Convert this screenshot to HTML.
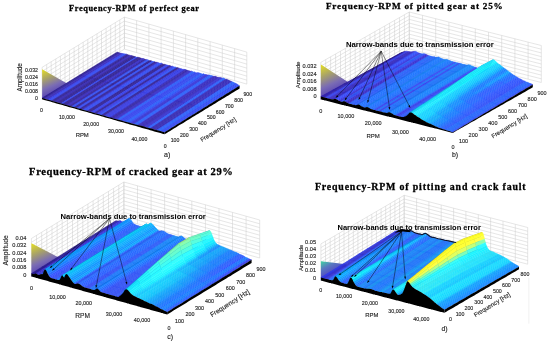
<!DOCTYPE html>
<html><head><meta charset="utf-8"><style>
html,body{margin:0;padding:0;background:#fff;}
svg{display:block;}
</style></head><body>
<svg width="550" height="346" viewBox="0 0 550 346"><defs>
<linearGradient id="triA" x1="0" y1="0" x2="0.35" y2="1">
<stop offset="0" stop-color="#e6e020"/><stop offset="0.33" stop-color="#a8a268"/><stop offset="0.62" stop-color="#7a6cb4"/><stop offset="1" stop-color="#4832b6"/></linearGradient>
<linearGradient id="triD" x1="0" y1="0" x2="0.7" y2="1">
<stop offset="0" stop-color="#40d8a0"/><stop offset="0.3" stop-color="#5a78c0"/><stop offset="0.65" stop-color="#5244c4"/><stop offset="1" stop-color="#4630b4"/></linearGradient>
</defs><path d="M42.1 99.3L42.1 67.3M46.7 96.5L46.7 64.5M51.2 93.7L51.2 61.7M55.8 90.9L55.8 58.9M60.4 88.1L60.4 56.1M65 85.4L65 53.4M69.5 82.6L69.5 50.6M74.1 79.8L74.1 47.8M78.7 77L78.7 45M83.2 74.2L83.2 42.2M87.8 71.4L87.8 39.4M92.4 68.6L92.4 36.6M97 65.8L97 33.8M101.5 63L101.5 31M106.1 60.3L106.1 28.3M110.7 57.5L110.7 25.5M115.3 54.7L115.3 22.7M119.8 51.9L119.8 19.9M124.4 49.1L124.4 17.1M42.1 99.3L124.4 49.1M42.1 95.3L124.4 45.1M42.1 91.3L124.4 41.1M42.1 87.3L124.4 37.1M42.1 83.3L124.4 33.1M42.1 79.3L124.4 29.1M42.1 75.3L124.4 25.1M42.1 71.3L124.4 21.1M42.1 67.3L124.4 17.1M124.4 49.1L124.4 17.1M136.6 52.6L136.6 20.6M148.9 56.1L148.9 24.1M161.1 59.6L161.1 27.6M173.4 63.1L173.4 31.1M185.6 66.6L185.6 34.6M197.8 70.1L197.8 38.1M210.1 73.6L210.1 41.6M222.3 77.1L222.3 45.1M234.6 80.6L234.6 48.6M246.8 84.1L246.8 52.1M124.4 49.1L246.8 84.1M124.4 45.1L246.8 80.1M124.4 41.1L246.8 76.1M124.4 37.1L246.8 72.1M124.4 33.1L246.8 68.1M124.4 29.1L246.8 64.1M124.4 25.1L246.8 60.1M124.4 21.1L246.8 56.1M124.4 17.1L246.8 52.1" fill="none" stroke="#cdcdcd" stroke-width="0.5"/>
<polygon points="42.1,69.2 42.1,99.3 66.6,83.2" fill="url(#triA)"/>
<g fill="currentColor" stroke="currentColor" stroke-width="0.35" stroke-linejoin="round">
<path color="#2c1c91" d="M79.6 75 80.6 75.4 118.1 52.5 117.2 51.9z"/>
<path color="#2c1c91" d="M42.1 98 43 98.3 80.6 75.4 79.6 75z"/>
<path color="#2c1c91" d="M80.6 75.4 81.5 75.6 119 52.7 118.1 52.5z"/>
<path color="#2c1c91" d="M43 98.3 44 98.5 81.5 75.6 80.6 75.4z"/>
<path color="#2e209f" d="M81.5 75.6 82.5 75.8 120 52.9 119 52.7z"/>
<path color="#2d1e98" d="M44 98.5 44.9 98.8 82.5 75.8 81.5 75.6z"/>
<path color="#3428bf" d="M82.5 75.8 83.4 76.1 120.9 53.2 120 52.9z"/>
<path color="#3326b8" d="M44.9 98.8 45.9 99.1 83.4 76.1 82.5 75.8z"/>
<path color="#3428bf" d="M83.4 76.1 84.3 76.4 121.9 53.4 120.9 53.2z"/>
<path color="#3326b8" d="M45.9 99.1 46.8 99.3 84.3 76.4 83.4 76.1z"/>
<path color="#3428bf" d="M84.3 76.4 85.3 76.6 122.8 53.6 121.9 53.4z"/>
<path color="#3326b8" d="M46.8 99.3 47.7 99.6 85.3 76.6 84.3 76.4z"/>
<path color="#323fec" d="M85.3 76.6 86.2 76.8 123.7 53.8 122.8 53.6z"/>
<path color="#323be6" d="M47.7 99.6 48.7 99.9 86.2 76.8 85.3 76.6z"/>
<path color="#2f48f1" d="M86.2 76.8 87.2 77 124.7 53.9 123.7 53.8z"/>
<path color="#3044ef" d="M48.7 99.9 49.6 100.2 87.2 77 86.2 76.8z"/>
<path color="#2f48f1" d="M87.2 77 88.1 77.3 125.6 54.1 124.7 53.9z"/>
<path color="#3044ef" d="M49.6 100.2 50.6 100.4 88.1 77.3 87.2 77z"/>
<path color="#2f48f1" d="M88.1 77.3 89 77.4 126.6 54.2 125.6 54.1z"/>
<path color="#3045ef" d="M50.6 100.4 51.5 100.7 89 77.4 88.1 77.3z"/>
<path color="#3021a6" d="M89 77.4 90 77.8 127.5 54.6 126.6 54.2z"/>
<path color="#2e209f" d="M51.5 100.7 52.5 101 90 77.8 89 77.4z"/>
<path color="#2c1c91" d="M90 77.8 90.9 78.1 128.5 55 127.5 54.6z"/>
<path color="#2c1c91" d="M52.5 101 53.4 101.2 90.9 78.1 90 77.8z"/>
<path color="#2c1c91" d="M90.9 78.1 91.9 78.4 129.4 55.2 128.5 55z"/>
<path color="#2c1c91" d="M53.4 101.2 54.3 101.5 91.9 78.4 90.9 78.1z"/>
<path color="#3123ad" d="M91.9 78.4 92.8 78.6 130.3 55.5 129.4 55.2z"/>
<path color="#3021a6" d="M54.3 101.5 55.3 101.8 92.8 78.6 91.9 78.4z"/>
<path color="#3326b8" d="M92.8 78.6 93.8 78.8 131.3 55.6 130.3 55.5z"/>
<path color="#3124b0" d="M55.3 101.8 56.2 102 93.8 78.8 92.8 78.6z"/>
<path color="#3326b8" d="M93.8 78.8 94.7 79 132.2 55.7 131.3 55.6z"/>
<path color="#3124b1" d="M56.2 102 57.2 102.3 94.7 79 93.8 78.8z"/>
<path color="#2c1c91" d="M94.7 79 95.6 79.3 133.2 56.1 132.2 55.7z"/>
<path color="#2c1c91" d="M57.2 102.3 58.1 102.6 95.6 79.3 94.7 79z"/>
<path color="#2c1c91" d="M95.6 79.3 96.6 79.7 134.1 56.5 133.2 56.1z"/>
<path color="#2c1c91" d="M58.1 102.6 59 102.8 96.6 79.7 95.6 79.3z"/>
<path color="#2c1c91" d="M96.6 79.7 97.5 79.8 135 56.5 134.1 56.5z"/>
<path color="#2c1c91" d="M59 102.8 60 103.1 97.5 79.8 96.6 79.7z"/>
<path color="#2c1c91" d="M97.5 79.8 98.5 80.1 136 56.9 135 56.5z"/>
<path color="#2c1c91" d="M60 103.1 60.9 103.4 98.5 80.1 97.5 79.8z"/>
<path color="#2f4bf3" d="M98.5 80.1 99.4 80.5 136.9 57.3 136 56.9z"/>
<path color="#3048f1" d="M60.9 103.4 61.9 103.7 99.4 80.5 98.5 80.1z"/>
<path color="#3044ef" d="M99.4 80.5 100.3 80.6 137.9 57.2 136.9 57.3z"/>
<path color="#3141ed" d="M61.9 103.7 62.8 103.9 100.3 80.6 99.4 80.5z"/>
<path color="#2d1d96" d="M100.3 80.6 101.3 80.8 138.8 57.4 137.9 57.2z"/>
<path color="#2c1c91" d="M62.8 103.9 63.8 104.2 101.3 80.8 100.3 80.6z"/>
<path color="#2c1c91" d="M101.3 80.8 102.2 81.1 139.8 57.7 138.8 57.4z"/>
<path color="#2c1c91" d="M63.8 104.2 64.7 104.5 102.2 81.1 101.3 80.8z"/>
<path color="#2c1c91" d="M102.2 81.1 103.2 81.4 140.7 58.1 139.8 57.7z"/>
<path color="#2c1c91" d="M64.7 104.5 65.6 104.7 103.2 81.4 102.2 81.1z"/>
<path color="#2c1c91" d="M103.2 81.4 104.1 81.7 141.6 58.4 140.7 58.1z"/>
<path color="#2c1c91" d="M65.6 104.7 66.6 105 104.1 81.7 103.2 81.4z"/>
<path color="#3225b5" d="M104.1 81.7 105.1 81.9 142.6 58.5 141.6 58.4z"/>
<path color="#3123ae" d="M66.6 105 67.5 105.3 105.1 81.9 104.1 81.7z"/>
<path color="#342ac4" d="M105.1 81.9 106 82.1 143.5 58.6 142.6 58.5z"/>
<path color="#3427bd" d="M67.5 105.3 68.5 105.5 106 82.1 105.1 81.9z"/>
<path color="#342ac4" d="M106 82.1 106.9 82.4 144.5 59.1 143.5 58.6z"/>
<path color="#3427be" d="M68.5 105.5 69.4 105.8 106.9 82.4 106 82.1z"/>
<path color="#2f21a3" d="M106.9 82.4 107.9 82.8 145.4 59.5 144.5 59.1z"/>
<path color="#2e1f9c" d="M69.4 105.8 70.3 106.1 107.9 82.8 106.9 82.4z"/>
<path color="#2c1c92" d="M107.9 82.8 108.8 82.9 146.3 59.5 145.4 59.5z"/>
<path color="#2c1c91" d="M70.3 106.1 71.3 106.3 108.8 82.9 107.9 82.8z"/>
<path color="#3330d1" d="M108.8 82.9 109.8 83.2 147.3 59.7 146.3 59.5z"/>
<path color="#342dca" d="M71.3 106.3 72.2 106.6 109.8 83.2 108.8 82.9z"/>
<path color="#2d53f6" d="M109.8 83.2 110.7 83.4 148.2 59.9 147.3 59.7z"/>
<path color="#2e4ff5" d="M72.2 106.6 73.2 106.9 110.7 83.4 109.8 83.2z"/>
<path color="#2d52f6" d="M110.7 83.4 111.6 83.9 149.2 60.6 148.2 59.9z"/>
<path color="#2e4ef4" d="M73.2 106.9 74.1 107.2 111.6 83.9 110.7 83.4z"/>
<path color="#2c1c93" d="M111.6 83.9 112.6 84.1 150.1 60.8 149.2 60.6z"/>
<path color="#2c1c91" d="M74.1 107.2 75.1 107.4 112.6 84.1 111.6 83.9z"/>
<path color="#2c1c91" d="M112.6 84.1 113.5 84.2 151.1 60.6 150.1 60.8z"/>
<path color="#2c1c91" d="M75.1 107.4 76 107.7 113.5 84.2 112.6 84.1z"/>
<path color="#2c1c91" d="M113.5 84.2 114.5 84.6 152 61.3 151.1 60.6z"/>
<path color="#2c1c91" d="M76 107.7 76.9 108 114.5 84.6 113.5 84.2z"/>
<path color="#3143ef" d="M114.5 84.6 115.4 84.8 152.9 61.3 152 61.3z"/>
<path color="#3240ed" d="M76.9 108 77.9 108.2 115.4 84.8 114.5 84.6z"/>
<path color="#2d53f6" d="M115.4 84.8 116.3 85.1 153.9 61.7 152.9 61.3z"/>
<path color="#2e4ff4" d="M77.9 108.2 78.8 108.5 116.3 85.1 115.4 84.8z"/>
<path color="#3141ed" d="M116.3 85.1 117.3 85.2 154.8 61.7 153.9 61.7z"/>
<path color="#323dea" d="M78.8 108.5 79.8 108.8 117.3 85.2 116.3 85.1z"/>
<path color="#2c1c91" d="M117.3 85.2 118.2 85.6 155.8 62.2 154.8 61.7z"/>
<path color="#2c1c91" d="M79.8 108.8 80.7 109 118.2 85.6 117.3 85.2z"/>
<path color="#2c1c91" d="M118.2 85.6 119.2 85.8 156.7 62.3 155.8 62.2z"/>
<path color="#2c1c91" d="M80.7 109 81.6 109.3 119.2 85.8 118.2 85.6z"/>
<path color="#3124b0" d="M119.2 85.8 120.1 86 157.6 62.4 156.7 62.3z"/>
<path color="#3022a9" d="M81.6 109.3 82.6 109.6 120.1 86 119.2 85.8z"/>
<path color="#3332d3" d="M120.1 86 121.1 86.3 158.6 62.8 157.6 62.4z"/>
<path color="#332ecd" d="M82.6 109.6 83.5 109.8 121.1 86.3 120.1 86z"/>
<path color="#3048f1" d="M121.1 86.3 122 86.7 159.5 63.2 158.6 62.8z"/>
<path color="#3144ef" d="M83.5 109.8 84.5 110.1 122 86.7 121.1 86.3z"/>
<path color="#2e4cf3" d="M122 86.7 122.9 86.8 160.5 63.3 159.5 63.2z"/>
<path color="#2f49f1" d="M84.5 110.1 85.4 110.4 122.9 86.8 122 86.7z"/>
<path color="#2e4cf3" d="M122.9 86.8 123.9 86.9 161.4 63.1 160.5 63.3z"/>
<path color="#2f49f1" d="M85.4 110.4 86.4 110.7 123.9 86.9 122.9 86.8z"/>
<path color="#3047f1" d="M123.9 86.9 124.8 87.3 162.4 63.7 161.4 63.1z"/>
<path color="#3144ef" d="M86.4 110.7 87.3 110.9 124.8 87.3 123.9 86.9z"/>
<path color="#2c1c91" d="M124.8 87.3 125.8 87.7 163.3 64.3 162.4 63.7z"/>
<path color="#2c1c91" d="M87.3 110.9 88.2 111.2 125.8 87.7 124.8 87.3z"/>
<path color="#2c1c91" d="M125.8 87.7 126.7 87.9 164.2 64.3 163.3 64.3z"/>
<path color="#2c1c91" d="M88.2 111.2 89.2 111.5 126.7 87.9 125.8 87.7z"/>
<path color="#2c1c91" d="M126.7 87.9 127.6 88.1 165.2 64.5 164.2 64.3z"/>
<path color="#2c1c91" d="M89.2 111.5 90.1 111.7 127.6 88.1 126.7 87.9z"/>
<path color="#2c1c91" d="M127.6 88.1 128.6 88.4 166.1 64.8 165.2 64.5z"/>
<path color="#2c1c91" d="M90.1 111.7 91.1 112 128.6 88.4 127.6 88.1z"/>
<path color="#323deb" d="M128.6 88.4 129.5 88.6 167.1 65 166.1 64.8z"/>
<path color="#323ae4" d="M91.1 112 92 112.3 129.5 88.6 128.6 88.4z"/>
<path color="#3142ee" d="M129.5 88.6 130.5 88.9 168 65.2 167.1 65z"/>
<path color="#323eec" d="M92 112.3 92.9 112.5 130.5 88.9 129.5 88.6z"/>
<path color="#3142ee" d="M130.5 88.9 131.4 89.2 168.9 65.6 168 65.2z"/>
<path color="#323eec" d="M92.9 112.5 93.9 112.8 131.4 89.2 130.5 88.9z"/>
<path color="#3327bd" d="M131.4 89.2 132.4 89.3 169.9 65.5 168.9 65.6z"/>
<path color="#3225b6" d="M93.9 112.8 94.8 113.1 132.4 89.3 131.4 89.2z"/>
<path color="#2c1c93" d="M132.4 89.3 133.3 89.7 170.8 66 169.9 65.5z"/>
<path color="#2c1c91" d="M94.8 113.1 95.8 113.3 133.3 89.7 132.4 89.3z"/>
<path color="#2d1e99" d="M133.3 89.7 134.2 90 171.8 66.3 170.8 66z"/>
<path color="#2c1c91" d="M95.8 113.3 96.7 113.6 134.2 90 133.3 89.7z"/>
<path color="#3239e2" d="M134.2 90 135.2 90.1 172.7 66.2 171.8 66.3z"/>
<path color="#3336dc" d="M96.7 113.6 97.7 113.9 135.2 90.1 134.2 90z"/>
<path color="#323eec" d="M135.2 90.1 136.1 90.5 173.6 66.8 172.7 66.2z"/>
<path color="#323be6" d="M97.7 113.9 98.6 114.2 136.1 90.5 135.2 90.1z"/>
<path color="#323fed" d="M136.1 90.5 137.1 90.8 174.6 67.1 173.6 66.8z"/>
<path color="#323ce7" d="M98.6 114.2 99.5 114.4 137.1 90.8 136.1 90.5z"/>
<path color="#2d51f5" d="M137.1 90.8 138 90.9 175.5 67.1 174.6 67.1z"/>
<path color="#2e4df4" d="M99.5 114.4 100.5 114.7 138 90.9 137.1 90.8z"/>
<path color="#2c54f7" d="M138 90.9 138.9 91.3 176.5 67.7 175.5 67.1z"/>
<path color="#2d50f5" d="M100.5 114.7 101.4 115 138.9 91.3 138 90.9z"/>
<path color="#3022a9" d="M138.9 91.3 139.9 91.4 177.4 67.6 176.5 67.7z"/>
<path color="#2f20a2" d="M101.4 115 102.4 115.2 139.9 91.4 138.9 91.3z"/>
<path color="#2c1c91" d="M139.9 91.4 140.8 91.7 178.4 67.9 177.4 67.6z"/>
<path color="#2c1c91" d="M102.4 115.2 103.3 115.5 140.8 91.7 139.9 91.4z"/>
<path color="#2d1d96" d="M140.8 91.7 141.8 92 179.3 68.3 178.4 67.9z"/>
<path color="#2c1c91" d="M103.3 115.5 104.2 115.8 141.8 92 140.8 91.7z"/>
<path color="#3336dc" d="M141.8 92 142.7 92.4 180.2 68.7 179.3 68.3z"/>
<path color="#3333d5" d="M104.2 115.8 105.2 116 142.7 92.4 141.8 92z"/>
<path color="#3239e2" d="M142.7 92.4 143.7 92.4 181.2 68.6 180.2 68.7z"/>
<path color="#3336db" d="M105.2 116 106.1 116.3 143.7 92.4 142.7 92.4z"/>
<path color="#323be6" d="M143.7 92.4 144.6 92.9 182.1 69.2 181.2 68.6z"/>
<path color="#3338df" d="M106.1 116.3 107.1 116.6 144.6 92.9 143.7 92.4z"/>
<path color="#323ae4" d="M144.6 92.9 145.5 93 183.1 69.2 182.1 69.2z"/>
<path color="#3337de" d="M107.1 116.6 108 116.8 145.5 93 144.6 92.9z"/>
<path color="#323de9" d="M145.5 93 146.5 93.3 184 69.5 183.1 69.2z"/>
<path color="#3239e3" d="M108 116.8 108.9 117.1 146.5 93.3 145.5 93z"/>
<path color="#323fed" d="M146.5 93.3 147.4 93.3 184.9 69.3 184 69.5z"/>
<path color="#323ce8" d="M108.9 117.1 109.9 117.4 147.4 93.3 146.5 93.3z"/>
<path color="#342bc5" d="M147.4 93.3 148.4 93.7 185.9 69.7 184.9 69.3z"/>
<path color="#3428be" d="M109.9 117.4 110.8 117.7 148.4 93.7 147.4 93.3z"/>
<path color="#3023ab" d="M148.4 93.7 149.3 94 186.8 70.1 185.9 69.7z"/>
<path color="#2f21a4" d="M110.8 117.7 111.8 117.9 149.3 94 148.4 93.7z"/>
<path color="#3022a9" d="M149.3 94 150.2 94.3 187.8 70.4 186.8 70.1z"/>
<path color="#2f20a1" d="M111.8 117.9 112.7 118.2 150.2 94.3 149.3 94z"/>
<path color="#3022a8" d="M150.2 94.3 151.2 94.6 188.7 70.7 187.8 70.4z"/>
<path color="#2f20a1" d="M112.7 118.2 113.7 118.5 151.2 94.6 150.2 94.3z"/>
<path color="#3429c2" d="M151.2 94.6 152.1 94.8 189.7 70.9 188.7 70.7z"/>
<path color="#3327bb" d="M113.7 118.5 114.6 118.7 152.1 94.8 151.2 94.6z"/>
<path color="#342bc5" d="M152.1 94.8 153.1 95.1 190.6 71.3 189.7 70.9z"/>
<path color="#3428be" d="M114.6 118.7 115.5 119 153.1 95.1 152.1 94.8z"/>
<path color="#342bc6" d="M153.1 95.1 154 95.2 191.5 71.2 190.6 71.3z"/>
<path color="#3428c0" d="M115.5 119 116.5 119.3 154 95.2 153.1 95.1z"/>
<path color="#3239e2" d="M154 95.2 155 95.5 192.5 71.6 191.5 71.2z"/>
<path color="#3336db" d="M116.5 119.3 117.4 119.5 155 95.5 154 95.2z"/>
<path color="#275cf8" d="M155 95.5 155.9 95.9 193.4 72.1 192.5 71.6z"/>
<path color="#275cf8" d="M117.4 119.5 118.4 119.8 155.9 95.9 155 95.5z"/>
<path color="#275cf8" d="M155.9 95.9 156.8 96 194.4 71.9 193.4 72.1z"/>
<path color="#275cf8" d="M118.4 119.8 119.3 120 156.8 96 155.9 95.9z"/>
<path color="#2c54f7" d="M156.8 96 157.8 96.3 195.3 72.4 194.4 71.9z"/>
<path color="#2d50f5" d="M119.3 120 120.2 120.3 157.8 96.3 156.8 96z"/>
<path color="#3144ef" d="M157.8 96.3 158.7 96.7 196.2 72.9 195.3 72.4z"/>
<path color="#3240ed" d="M120.2 120.3 121.2 120.5 158.7 96.7 157.8 96.3z"/>
<path color="#3144ef" d="M158.7 96.7 159.7 96.7 197.2 72.7 196.2 72.9z"/>
<path color="#3140ed" d="M121.2 120.5 122.1 120.8 159.7 96.7 158.7 96.7z"/>
<path color="#3144ef" d="M159.7 96.7 160.6 96.9 198.1 72.7 197.2 72.7z"/>
<path color="#3140ed" d="M122.1 120.8 123.1 121 160.6 96.9 159.7 96.7z"/>
<path color="#3047f1" d="M160.6 96.9 161.5 97 199.1 72.8 198.1 72.7z"/>
<path color="#3144ef" d="M123.1 121 124 121.3 161.5 97 160.6 96.9z"/>
<path color="#2f49f1" d="M161.5 97 162.5 97.4 200 73.3 199.1 72.8z"/>
<path color="#3045f0" d="M124 121.3 125 121.5 162.5 97.4 161.5 97z"/>
<path color="#2f49f1" d="M162.5 97.4 163.4 97.6 201 73.4 200 73.3z"/>
<path color="#3045f0" d="M125 121.5 125.9 121.8 163.4 97.6 162.5 97.4z"/>
<path color="#275cf8" d="M163.4 97.6 164.4 98 201.9 73.9 201 73.4z"/>
<path color="#275cf8" d="M125.9 121.8 126.8 122 164.4 98 163.4 97.6z"/>
<path color="#275cf8" d="M164.4 98 165.3 98.2 202.8 74.1 201.9 73.9z"/>
<path color="#275cf8" d="M126.8 122 127.8 122.3 165.3 98.2 164.4 98z"/>
<path color="#275cf8" d="M165.3 98.2 166.3 98.1 203.8 73.8 202.8 74.1z"/>
<path color="#275cf8" d="M127.8 122.3 128.7 122.5 166.3 98.1 165.3 98.2z"/>
<path color="#2e4cf3" d="M166.3 98.1 167.2 98.6 204.7 74.4 203.8 73.8z"/>
<path color="#2f49f1" d="M128.7 122.5 129.7 122.8 167.2 98.6 166.3 98.1z"/>
<path color="#2f49f2" d="M167.2 98.6 168.1 98.7 205.7 74.5 204.7 74.4z"/>
<path color="#3046f0" d="M129.7 122.8 130.6 123 168.1 98.7 167.2 98.6z"/>
<path color="#3336dc" d="M168.1 98.7 169.1 99 206.6 74.7 205.7 74.5z"/>
<path color="#3333d5" d="M130.6 123 131.5 123.3 169.1 99 168.1 98.7z"/>
<path color="#3332d5" d="M169.1 99 170 99.3 207.5 75 206.6 74.7z"/>
<path color="#332fce" d="M131.5 123.3 132.5 123.5 170 99.3 169.1 99z"/>
<path color="#3332d5" d="M170 99.3 171 99.4 208.5 75 207.5 75z"/>
<path color="#332fce" d="M132.5 123.5 133.4 123.8 171 99.4 170 99.3z"/>
<path color="#3336dd" d="M171 99.4 171.9 99.6 209.4 75.1 208.5 75z"/>
<path color="#3333d6" d="M133.4 123.8 134.4 124 171.9 99.6 171 99.4z"/>
<path color="#275cf8" d="M171.9 99.6 172.8 99.8 210.4 75.4 209.4 75.1z"/>
<path color="#275cf8" d="M134.4 124 135.3 124.3 172.8 99.8 171.9 99.6z"/>
<path color="#275cf8" d="M172.8 99.8 173.8 100.1 211.3 75.6 210.4 75.4z"/>
<path color="#275cf8" d="M135.3 124.3 136.3 124.5 173.8 100.1 172.8 99.8z"/>
<path color="#275cf8" d="M173.8 100.1 174.7 100.3 212.3 75.8 211.3 75.6z"/>
<path color="#275cf8" d="M136.3 124.5 137.2 124.8 174.7 100.3 173.8 100.1z"/>
<path color="#2d53f7" d="M174.7 100.3 175.7 100.6 213.2 76.2 212.3 75.8z"/>
<path color="#2e50f5" d="M137.2 124.8 138.1 125 175.7 100.6 174.7 100.3z"/>
<path color="#3429c1" d="M175.7 100.6 176.6 100.8 214.1 76.4 213.2 76.2z"/>
<path color="#3326ba" d="M138.1 125 139.1 125.3 176.6 100.8 175.7 100.6z"/>
<path color="#3429c1" d="M176.6 100.8 177.5 100.9 215.1 76.3 214.1 76.4z"/>
<path color="#3327ba" d="M139.1 125.3 140 125.5 177.5 100.9 176.6 100.8z"/>
<path color="#3427be" d="M177.5 100.9 178.5 101.1 216 76.4 215.1 76.3z"/>
<path color="#3226b7" d="M140 125.5 141 125.8 178.5 101.1 177.5 100.9z"/>
<path color="#3326b9" d="M178.5 101.1 179.4 101.5 217 77 216 76.4z"/>
<path color="#3224b2" d="M141 125.8 141.9 126 179.4 101.5 178.5 101.1z"/>
<path color="#3326b9" d="M179.4 101.5 180.4 101.8 217.9 77.3 217 77z"/>
<path color="#3224b2" d="M141.9 126 142.8 126.3 180.4 101.8 179.4 101.5z"/>
<path color="#3326b9" d="M180.4 101.8 181.3 102 218.8 77.4 217.9 77.3z"/>
<path color="#3224b2" d="M142.8 126.3 143.8 126.5 181.3 102 180.4 101.8z"/>
<path color="#342bc7" d="M181.3 102 182.3 102.2 219.8 77.5 218.8 77.4z"/>
<path color="#3428c0" d="M143.8 126.5 144.7 126.8 182.3 102.2 181.3 102z"/>
<path color="#3331d2" d="M182.3 102.2 183.2 102.3 220.7 77.6 219.8 77.5z"/>
<path color="#332ecc" d="M144.7 126.8 145.7 127 183.2 102.3 182.3 102.2z"/>
<path color="#3331d3" d="M183.2 102.3 184.1 102.6 221.7 77.9 220.7 77.6z"/>
<path color="#332ecc" d="M145.7 127 146.6 127.3 184.1 102.6 183.2 102.3z"/>
<path color="#3331d3" d="M184.1 102.6 185.1 102.9 222.6 78.2 221.7 77.9z"/>
<path color="#332ecc" d="M146.6 127.3 147.6 127.5 185.1 102.9 184.1 102.6z"/>
<path color="#2b57f8" d="M185.1 102.9 186 103 223.6 78.2 222.6 78.2z"/>
<path color="#2d54f7" d="M147.6 127.5 148.5 127.8 186 103 185.1 102.9z"/>
<path color="#275cf8" d="M186 103 187 103.3 224.5 78.5 223.6 78.2z"/>
<path color="#275cf8" d="M148.5 127.8 149.4 128 187 103.3 186 103z"/>
<path color="#275cf8" d="M187 103.3 187.9 103.7 225.4 79.2 224.5 78.5z"/>
<path color="#275cf8" d="M149.4 128 150.4 128.3 187.9 103.7 187 103.3z"/>
<path color="#3428c0" d="M187.9 103.7 188.8 103.9 226.4 79.3 225.4 79.2z"/>
<path color="#3326b8" d="M150.4 128.3 151.3 128.5 188.8 103.9 187.9 103.7z"/>
<path color="#3224b2" d="M188.8 103.9 189.8 104.2 227.3 79.5 226.4 79.3z"/>
<path color="#3023ab" d="M151.3 128.5 152.3 128.8 189.8 104.2 188.8 103.9z"/>
<path color="#3225b3" d="M189.8 104.2 190.7 104.5 228.3 80 227.3 79.5z"/>
<path color="#3123ac" d="M152.3 128.8 153.2 129.1 190.7 104.5 189.8 104.2z"/>
<path color="#3226b7" d="M190.7 104.5 191.7 104.9 229.2 80.5 228.3 80z"/>
<path color="#3124af" d="M153.2 129.1 154.1 129.3 191.7 104.9 190.7 104.5z"/>
<path color="#3326ba" d="M191.7 104.9 192.6 105.2 230.1 80.8 229.2 80.5z"/>
<path color="#3225b3" d="M154.1 129.3 155.1 129.6 192.6 105.2 191.7 104.9z"/>
<path color="#3326ba" d="M192.6 105.2 193.6 105.6 231.1 81.3 230.1 80.8z"/>
<path color="#3225b3" d="M155.1 129.6 156 129.9 193.6 105.6 192.6 105.2z"/>
<path color="#3326ba" d="M193.6 105.6 194.5 105.9 232 81.7 231.1 81.3z"/>
<path color="#3225b3" d="M156 129.9 157 130.1 194.5 105.9 193.6 105.6z"/>
<path color="#2a59f8" d="M194.5 105.9 195.4 106.2 233 82 232 81.7z"/>
<path color="#2c56f8" d="M157 130.1 157.9 130.4 195.4 106.2 194.5 105.9z"/>
<path color="#275cf8" d="M195.4 106.2 196.4 106.6 233.9 82.5 233 82z"/>
<path color="#275cf8" d="M157.9 130.4 158.9 130.7 196.4 106.6 195.4 106.2z"/>
<path color="#275cf8" d="M196.4 106.6 197.3 107 234.8 83 233.9 82.5z"/>
<path color="#275cf8" d="M158.9 130.7 159.8 131 197.3 107 196.4 106.6z"/>
<path color="#275cf8" d="M197.3 107 198.3 107.3 235.8 83.3 234.8 83z"/>
<path color="#275cf8" d="M159.8 131 160.7 131.2 198.3 107.3 197.3 107z"/>
<path color="#2f49f2" d="M198.3 107.3 199.2 107.7 236.7 83.9 235.8 83.3z"/>
<path color="#3046f0" d="M160.7 131.2 161.7 131.5 199.2 107.7 198.3 107.3z"/>
<path color="#2f49f1" d="M199.2 107.7 200.1 108.1 237.7 84.4 236.7 83.9z"/>
<path color="#3045f0" d="M161.7 131.5 162.6 131.8 200.1 108.1 199.2 107.7z"/>
<path color="#2f49f2" d="M200.1 108.1 201.1 108.6 238.6 85.2 237.7 84.4z"/>
<path color="#3045f0" d="M162.6 131.8 163.6 132 201.1 108.6 200.1 108.1z"/>
<path color="#2f4bf2" d="M201.1 108.6 202 109 239.6 85.7 238.6 85.2z"/>
<path color="#3047f1" d="M163.6 132 164.5 132.3 202 109 201.1 108.6z"/>
</g>
<polygon points="42.1,98 44.1,98.6 46.2,99.2 48.2,99.8 50.3,100.3 52.3,100.9 54.3,101.5 56.4,102.1 58.4,102.7 60.5,103.2 62.5,103.8 64.5,104.4 66.6,105 68.6,105.6 70.7,106.2 72.7,106.8 74.7,107.3 76.8,107.9 78.8,108.5 80.9,109.1 82.9,109.7 84.9,110.2 87,110.8 89,111.4 91.1,112 93.1,112.6 95.1,113.2 97.2,113.8 99.2,114.3 101.3,114.9 103.3,115.5 105.3,116.1 107.4,116.7 109.4,117.2 111.5,117.8 113.5,118.4 115.5,119 117.6,119.5 119.6,120.1 121.7,120.6 123.7,121.2 125.7,121.7 127.8,122.3 129.8,122.8 131.9,123.4 133.9,123.9 135.9,124.4 138,125 140,125.5 142.1,126.1 144.1,126.6 146.1,127.2 148.2,127.7 150.2,128.3 152.3,128.8 154.3,129.4 156.3,130 158.4,130.6 160.4,131.1 162.5,131.7 164.5,132.3 164.5,134.3 162.5,133.7 160.4,133.1 158.4,132.6 156.3,132 154.3,131.4 152.3,130.8 150.2,130.2 148.2,129.6 146.1,129.1 144.1,128.5 142.1,127.9 140,127.3 138,126.7 135.9,126.1 133.9,125.5 131.9,125 129.8,124.4 127.8,123.8 125.7,123.2 123.7,122.6 121.7,122 119.6,121.5 117.6,120.9 115.5,120.3 113.5,119.7 111.5,119.1 109.4,118.5 107.4,118 105.3,117.4 103.3,116.8 101.3,116.2 99.2,115.6 97.2,115 95.1,114.5 93.1,113.9 91.1,113.3 89,112.7 87,112.1 84.9,111.5 82.9,111 80.9,110.4 78.8,109.8 76.8,109.2 74.7,108.6 72.7,108 70.7,107.5 68.6,106.9 66.6,106.3 64.5,105.7 62.5,105.1 60.5,104.5 58.4,104 56.4,103.4 54.3,102.8 52.3,102.2 50.3,101.6 48.2,101 46.2,100.5 44.1,99.9 42.1,99.3" fill="#000"/>
<polygon points="164.5,132.3 166.4,131.1 168.3,130 170.1,128.8 172,127.6 173.9,126.5 175.8,125.3 177.6,124.1 179.5,123 181.4,121.8 183.3,120.6 185.1,119.5 187,118.3 188.9,117.1 190.8,116 192.6,114.8 194.5,113.7 196.4,112.5 198.3,111.3 200.2,110.2 202,109 203.9,107.8 205.8,106.7 207.7,105.5 209.5,104.3 211.4,103.2 213.3,102 215.2,100.8 217,99.7 218.9,98.5 220.8,97.3 222.7,96.2 224.5,95 226.4,93.8 228.3,92.7 230.2,91.5 232.1,90.3 233.9,89.2 235.8,88 237.7,86.8 239.6,85.7 239.6,88.5 237.7,89.7 235.8,90.8 233.9,92 232.1,93.1 230.2,94.2 228.3,95.4 226.4,96.5 224.5,97.7 222.7,98.8 220.8,100 218.9,101.1 217,102.3 215.2,103.4 213.3,104.5 211.4,105.7 209.5,106.8 207.7,108 205.8,109.1 203.9,110.3 202,111.4 200.2,112.6 198.3,113.7 196.4,114.8 194.5,116 192.6,117.1 190.8,118.3 188.9,119.4 187,120.6 185.1,121.7 183.3,122.9 181.4,124 179.5,125.1 177.6,126.3 175.8,127.4 173.9,128.6 172,129.7 170.1,130.9 168.3,132 166.4,133.2 164.5,134.3" fill="#000"/>
<path d="M320.8 99.4L320.8 62.4M325.7 96.6L325.7 59.6M330.6 93.8L330.6 56.8M335.6 91L335.6 54M340.5 88.2L340.5 51.2M345.4 85.4L345.4 48.4M350.3 82.6L350.3 45.6M355.2 79.8L355.2 42.8M360.1 77L360.1 40M365.1 74.2L365.1 37.2M370 71.4L370 34.4M374.9 68.6L374.9 31.6M379.8 65.8L379.8 28.8M384.7 63L384.7 26M389.6 60.2L389.6 23.2M394.6 57.4L394.6 20.4M399.5 54.6L399.5 17.6M404.4 51.8L404.4 14.8M409.3 49L409.3 12M320.8 99.4L409.3 49M320.8 95.7L409.3 45.3M320.8 92L409.3 41.6M320.8 88.3L409.3 37.9M320.8 84.6L409.3 34.2M320.8 80.9L409.3 30.5M320.8 77.2L409.3 26.8M320.8 73.5L409.3 23.1M320.8 69.8L409.3 19.4M320.8 66.1L409.3 15.7M320.8 62.4L409.3 12M409.3 49L409.3 12M422.5 52.4L422.5 15.4M435.7 55.7L435.7 18.7M448.9 59.1L448.9 22.1M462.1 62.4L462.1 25.4M475.3 65.8L475.3 28.8M488.5 69.1L488.5 32.1M501.7 72.5L501.7 35.5M514.9 75.8L514.9 38.8M528.1 79.2L528.1 42.2M541.3 82.5L541.3 45.5M409.3 49L541.3 82.5M409.3 45.3L541.3 78.8M409.3 41.6L541.3 75.1M409.3 37.9L541.3 71.4M409.3 34.2L541.3 67.7M409.3 30.5L541.3 64M409.3 26.8L541.3 60.3M409.3 23.1L541.3 56.6M409.3 19.4L541.3 52.9M409.3 15.7L541.3 49.2M409.3 12L541.3 45.5" fill="none" stroke="#cdcdcd" stroke-width="0.5"/>
<polygon points="320.9,64.5 320.8,99.4 348,82" fill="url(#triA)"/>
<g fill="currentColor" stroke="currentColor" stroke-width="0.35" stroke-linejoin="round">
<path color="#291a86" d="M389.4 59.1 390.3 58.8 401.7 52.5 400.8 52.9z"/>
<path color="#291a88" d="M377.9 65.4 378.9 65.1 390.3 58.8 389.4 59.1z"/>
<path color="#2a1a89" d="M366.5 71.6 367.5 71.4 378.9 65.1 377.9 65.4z"/>
<path color="#2b1c8e" d="M355.1 77.8 356 77.8 367.5 71.4 366.5 71.6z"/>
<path color="#2c1e97" d="M343.7 84 344.6 84.1 356 77.8 355.1 77.8z"/>
<path color="#2e20a0" d="M332.2 90.3 333.2 90.4 344.6 84.1 343.7 84z"/>
<path color="#3022aa" d="M320.8 96.5 321.7 96.7 333.2 90.4 332.2 90.3z"/>
<path color="#291a88" d="M390.3 58.8 391.3 58.6 402.7 52.2 401.7 52.5z"/>
<path color="#2a1b8a" d="M378.9 65.1 379.8 65 391.3 58.6 390.3 58.8z"/>
<path color="#2b1b8d" d="M367.5 71.4 368.4 71.4 379.8 65 378.9 65.1z"/>
<path color="#2c1d95" d="M356 77.8 357 77.8 368.4 71.4 367.5 71.4z"/>
<path color="#2e1f9d" d="M344.6 84.1 345.5 84.2 357 77.8 356 77.8z"/>
<path color="#2f21a5" d="M333.2 90.4 334.1 90.6 345.5 84.2 344.6 84.1z"/>
<path color="#3123ad" d="M321.7 96.7 322.7 97 334.1 90.6 333.2 90.4z"/>
<path color="#291a87" d="M391.3 58.6 392.2 58.4 403.6 51.9 402.7 52.2z"/>
<path color="#2a1b8c" d="M379.8 65 380.8 64.9 392.2 58.4 391.3 58.6z"/>
<path color="#2b1d92" d="M368.4 71.4 369.3 71.4 380.8 64.9 379.8 65z"/>
<path color="#2d1e99" d="M357 77.8 357.9 77.8 369.3 71.4 368.4 71.4z"/>
<path color="#2e209f" d="M345.5 84.2 346.5 84.3 357.9 77.8 357 77.8z"/>
<path color="#2f22a6" d="M334.1 90.6 335.1 90.8 346.5 84.3 345.5 84.2z"/>
<path color="#3123ad" d="M322.7 97 323.6 97.3 335.1 90.8 334.1 90.6z"/>
<path color="#291b8c" d="M392.2 58.4 393.1 58 404.6 51.4 403.6 51.9z"/>
<path color="#2b1d91" d="M380.8 64.9 381.7 64.6 393.1 58 392.2 58.4z"/>
<path color="#2c1e96" d="M369.3 71.4 370.3 71.1 381.7 64.6 380.8 64.9z"/>
<path color="#2d1f9c" d="M357.9 77.8 358.9 77.7 370.3 71.1 369.3 71.4z"/>
<path color="#2e20a1" d="M346.5 84.3 347.4 84.3 358.9 77.7 357.9 77.8z"/>
<path color="#2f22a7" d="M335.1 90.8 336 90.8 347.4 84.3 346.5 84.3z"/>
<path color="#3023ac" d="M323.6 97.3 324.6 97.4 336 90.8 335.1 90.8z"/>
<path color="#2f21a5" d="M393.1 58 394.1 58 405.5 51.4 404.6 51.4z"/>
<path color="#3022a8" d="M381.7 64.6 382.7 64.6 394.1 58 393.1 58z"/>
<path color="#3023ac" d="M370.3 71.1 371.2 71.3 382.7 64.6 381.7 64.6z"/>
<path color="#3124b0" d="M358.9 77.7 359.8 77.9 371.2 71.3 370.3 71.1z"/>
<path color="#3225b3" d="M347.4 84.3 348.4 84.5 359.8 77.9 358.9 77.7z"/>
<path color="#3226b7" d="M336 90.8 336.9 91.1 348.4 84.5 347.4 84.3z"/>
<path color="#3327ba" d="M324.6 97.4 325.5 97.7 336.9 91.1 336 90.8z"/>
<path color="#3135d7" d="M394.1 58 395 58.1 406.5 51.4 405.5 51.4z"/>
<path color="#3136da" d="M382.7 64.6 383.6 64.7 395 58.1 394.1 58z"/>
<path color="#3137dc" d="M371.2 71.3 372.2 71.3 383.6 64.7 382.7 64.6z"/>
<path color="#3138de" d="M359.8 77.9 360.7 78 372.2 71.3 371.2 71.3z"/>
<path color="#3239e1" d="M348.4 84.5 349.3 84.6 360.7 78 359.8 77.9z"/>
<path color="#323be4" d="M336.9 91.1 337.9 91.2 349.3 84.6 348.4 84.5z"/>
<path color="#323ce7" d="M325.5 97.7 326.5 97.9 337.9 91.2 336.9 91.1z"/>
<path color="#3239e0" d="M395 58.1 396 58.2 407.4 51.5 406.5 51.4z"/>
<path color="#3239e1" d="M383.6 64.7 384.5 64.9 396 58.2 395 58.1z"/>
<path color="#323ae3" d="M372.2 71.3 373.1 71.5 384.5 64.9 383.6 64.7z"/>
<path color="#323be5" d="M360.7 78 361.7 78.2 373.1 71.5 372.2 71.3z"/>
<path color="#323ce8" d="M349.3 84.6 350.3 84.8 361.7 78.2 360.7 78z"/>
<path color="#323dea" d="M337.9 91.2 338.8 91.5 350.3 84.8 349.3 84.6z"/>
<path color="#323eed" d="M326.5 97.9 327.4 98.2 338.8 91.5 337.9 91.2z"/>
<path color="#313ae2" d="M396 58.2 396.9 58.3 408.3 51.6 407.4 51.5z"/>
<path color="#313ae3" d="M384.5 64.9 385.5 65 396.9 58.3 396 58.2z"/>
<path color="#313be4" d="M373.1 71.5 374.1 71.6 385.5 65 384.5 64.9z"/>
<path color="#323be5" d="M361.7 78.2 362.6 78.3 374.1 71.6 373.1 71.5z"/>
<path color="#323ce7" d="M350.3 84.8 351.2 85 362.6 78.3 361.7 78.2z"/>
<path color="#323de9" d="M338.8 91.5 339.8 91.7 351.2 85 350.3 84.8z"/>
<path color="#323eeb" d="M327.4 98.2 328.3 98.4 339.8 91.7 338.8 91.5z"/>
<path color="#332ac2" d="M396.9 58.3 397.9 58.4 409.3 51.7 408.3 51.6z"/>
<path color="#332ac2" d="M385.5 65 386.4 65.1 397.9 58.4 396.9 58.3z"/>
<path color="#342ac3" d="M374.1 71.6 375 71.8 386.4 65.1 385.5 65z"/>
<path color="#342ac3" d="M362.6 78.3 363.6 78.6 375 71.8 374.1 71.6z"/>
<path color="#342ac4" d="M351.2 85 352.1 85.3 363.6 78.6 362.6 78.3z"/>
<path color="#342bc6" d="M339.8 91.7 340.7 92 352.1 85.3 351.2 85z"/>
<path color="#342bc8" d="M328.3 98.4 329.3 98.7 340.7 92 339.8 91.7z"/>
<path color="#3327bb" d="M397.9 58.4 398.8 58.5 410.2 51.8 409.3 51.7z"/>
<path color="#3327bb" d="M386.4 65.1 387.4 65.3 398.8 58.5 397.9 58.4z"/>
<path color="#3327ba" d="M375 71.8 375.9 72 387.4 65.3 386.4 65.1z"/>
<path color="#3326ba" d="M363.6 78.6 364.5 78.8 375.9 72 375 71.8z"/>
<path color="#3327ba" d="M352.1 85.3 353.1 85.5 364.5 78.8 363.6 78.6z"/>
<path color="#3327bc" d="M340.7 92 341.7 92.2 353.1 85.5 352.1 85.3z"/>
<path color="#3427bd" d="M329.3 98.7 330.2 99 341.7 92.2 340.7 92z"/>
<path color="#3329bf" d="M398.8 58.5 399.7 58.7 411.2 51.9 410.2 51.8z"/>
<path color="#3328bf" d="M387.4 65.3 388.3 65.4 399.7 58.7 398.8 58.5z"/>
<path color="#3327be" d="M375.9 72 376.9 72.2 388.3 65.4 387.4 65.3z"/>
<path color="#3327bd" d="M364.5 78.8 365.5 79 376.9 72.2 375.9 72z"/>
<path color="#3327bc" d="M353.1 85.5 354 85.7 365.5 79 364.5 78.8z"/>
<path color="#3427bd" d="M341.7 92.2 342.6 92.5 354 85.7 353.1 85.5z"/>
<path color="#3427be" d="M330.2 99 331.2 99.3 342.6 92.5 341.7 92.2z"/>
<path color="#3129be" d="M399.7 58.7 400.7 58.6 412.1 51.8 411.2 51.9z"/>
<path color="#3228bc" d="M388.3 65.4 389.3 65.4 400.7 58.6 399.7 58.7z"/>
<path color="#3228bb" d="M376.9 72.2 377.8 72.1 389.3 65.4 388.3 65.4z"/>
<path color="#3227b9" d="M365.5 79 366.4 78.9 377.8 72.1 376.9 72.2z"/>
<path color="#3226b8" d="M354 85.7 355 85.7 366.4 78.9 365.5 79z"/>
<path color="#3226b8" d="M342.6 92.5 343.5 92.5 355 85.7 354 85.7z"/>
<path color="#3226b9" d="M331.2 99.3 332.1 99.3 343.5 92.5 342.6 92.5z"/>
<path color="#312dc6" d="M400.7 58.6 401.6 58.5 413.1 51.7 412.1 51.8z"/>
<path color="#322cc4" d="M389.3 65.4 390.2 65.3 401.6 58.5 400.7 58.6z"/>
<path color="#322bc2" d="M377.8 72.1 378.8 72.1 390.2 65.3 389.3 65.4z"/>
<path color="#322ac0" d="M366.4 78.9 367.3 78.9 378.8 72.1 377.8 72.1z"/>
<path color="#3228be" d="M355 85.7 355.9 85.8 367.3 78.9 366.4 78.9z"/>
<path color="#3327bb" d="M343.5 92.5 344.5 92.6 355.9 85.8 355 85.7z"/>
<path color="#3327bb" d="M332.1 99.3 333.1 99.4 344.5 92.6 343.5 92.5z"/>
<path color="#302abd" d="M401.6 58.5 402.6 58.3 414 51.5 413.1 51.7z"/>
<path color="#3029ba" d="M390.2 65.3 391.1 65.1 402.6 58.3 401.6 58.5z"/>
<path color="#3127b8" d="M378.8 72.1 379.7 71.9 391.1 65.1 390.2 65.3z"/>
<path color="#3126b5" d="M367.3 78.9 368.3 78.7 379.7 71.9 378.8 72.1z"/>
<path color="#3025b2" d="M355.9 85.8 356.9 85.5 368.3 78.7 367.3 78.9z"/>
<path color="#3024af" d="M344.5 92.6 345.4 92.3 356.9 85.5 355.9 85.8z"/>
<path color="#3024ad" d="M333.1 99.4 334 99.1 345.4 92.3 344.5 92.6z"/>
<path color="#3133d3" d="M402.6 58.3 403.5 58.3 414.9 51.5 414 51.5z"/>
<path color="#3130cd" d="M391.1 65.1 392.1 65 403.5 58.3 402.6 58.3z"/>
<path color="#312fc9" d="M379.7 71.9 380.7 71.8 392.1 65 391.1 65.1z"/>
<path color="#312dc6" d="M368.3 78.7 369.2 78.6 380.7 71.8 379.7 71.9z"/>
<path color="#312cc3" d="M356.9 85.5 357.8 85.4 369.2 78.6 368.3 78.7z"/>
<path color="#312bbf" d="M345.4 92.3 346.4 92.1 357.8 85.4 356.9 85.5z"/>
<path color="#3129bc" d="M334 99.1 334.9 98.9 346.4 92.1 345.4 92.3z"/>
<path color="#323be4" d="M403.5 58.3 404.5 58.4 415.9 51.6 414.9 51.5z"/>
<path color="#3238df" d="M392.1 65 393 65.2 404.5 58.4 403.5 58.3z"/>
<path color="#3237dc" d="M380.7 71.8 381.6 71.9 393 65.2 392.1 65z"/>
<path color="#3236da" d="M369.2 78.6 370.2 78.7 381.6 71.9 380.7 71.8z"/>
<path color="#3235d8" d="M357.8 85.4 358.7 85.4 370.2 78.7 369.2 78.6z"/>
<path color="#3234d6" d="M346.4 92.1 347.3 92.2 358.7 85.4 357.8 85.4z"/>
<path color="#3233d4" d="M334.9 98.9 335.9 99 347.3 92.2 346.4 92.1z"/>
<path color="#2e51f7" d="M404.5 58.4 405.4 58.7 416.8 51.9 415.9 51.6z"/>
<path color="#2f4ef6" d="M393 65.2 394 65.5 405.4 58.7 404.5 58.4z"/>
<path color="#2f4cf6" d="M381.6 71.9 382.5 72.3 394 65.5 393 65.2z"/>
<path color="#304bf6" d="M370.2 78.7 371.1 79.1 382.5 72.3 381.6 71.9z"/>
<path color="#304af6" d="M358.7 85.4 359.7 85.8 371.1 79.1 370.2 78.7z"/>
<path color="#304af6" d="M347.3 92.2 348.3 92.6 359.7 85.8 358.7 85.4z"/>
<path color="#3149f6" d="M335.9 99 336.8 99.4 348.3 92.6 347.3 92.2z"/>
<path color="#304efc" d="M405.4 58.7 406.3 59.3 417.8 52.5 416.8 51.9z"/>
<path color="#314cfb" d="M394 65.5 394.9 66.1 406.3 59.3 405.4 58.7z"/>
<path color="#324bfc" d="M382.5 72.3 383.5 72.9 394.9 66.1 394 65.5z"/>
<path color="#3249fc" d="M371.1 79.1 372.1 79.7 383.5 72.9 382.5 72.3z"/>
<path color="#3348fc" d="M359.7 85.8 360.6 86.5 372.1 79.7 371.1 79.1z"/>
<path color="#3447fc" d="M348.3 92.6 349.2 93.3 360.6 86.5 359.7 85.8z"/>
<path color="#3446fd" d="M336.8 99.4 337.8 100.1 349.2 93.3 348.3 92.6z"/>
<path color="#3149f7" d="M406.3 59.3 407.3 59.8 418.7 52.9 417.8 52.5z"/>
<path color="#3247f7" d="M394.9 66.1 395.9 66.6 407.3 59.8 406.3 59.3z"/>
<path color="#3246f7" d="M383.5 72.9 384.4 73.4 395.9 66.6 394.9 66.1z"/>
<path color="#3344f7" d="M372.1 79.7 373 80.3 384.4 73.4 383.5 72.9z"/>
<path color="#3443f7" d="M360.6 86.5 361.6 87.1 373 80.3 372.1 79.7z"/>
<path color="#3441f7" d="M349.2 93.3 350.1 93.9 361.6 87.1 360.6 86.5z"/>
<path color="#3540f5" d="M337.8 100.1 338.7 100.8 350.1 93.9 349.2 93.3z"/>
<path color="#333ae5" d="M407.3 59.8 408.2 60.1 419.7 53.2 418.7 52.9z"/>
<path color="#3338e2" d="M395.9 66.6 396.8 66.9 408.2 60.1 407.3 59.8z"/>
<path color="#3337df" d="M384.4 73.4 385.4 73.8 396.8 66.9 395.9 66.6z"/>
<path color="#3435dc" d="M373 80.3 373.9 80.6 385.4 73.8 384.4 73.4z"/>
<path color="#3433d8" d="M361.6 87.1 362.5 87.5 373.9 80.6 373 80.3z"/>
<path color="#3432d5" d="M350.1 93.9 351.1 94.3 362.5 87.5 361.6 87.1z"/>
<path color="#3431d4" d="M338.7 100.8 339.7 101.1 351.1 94.3 350.1 93.9z"/>
<path color="#3333d6" d="M408.2 60.1 409.2 60.3 420.6 53.5 419.7 53.2z"/>
<path color="#3331d2" d="M396.8 66.9 397.7 67.2 409.2 60.3 408.2 60.1z"/>
<path color="#342fcf" d="M385.4 73.8 386.3 74 397.7 67.2 396.8 66.9z"/>
<path color="#342dcb" d="M373.9 80.6 374.9 80.9 386.3 74 385.4 73.8z"/>
<path color="#342cc8" d="M362.5 87.5 363.5 87.7 374.9 80.9 373.9 80.6z"/>
<path color="#342ac4" d="M351.1 94.3 352 94.6 363.5 87.7 362.5 87.5z"/>
<path color="#3429c2" d="M339.7 101.1 340.6 101.4 352 94.6 351.1 94.3z"/>
<path color="#2e51f7" d="M409.2 60.3 410.1 60.6 421.5 53.8 420.6 53.5z"/>
<path color="#2e4ff6" d="M397.7 67.2 398.7 67.5 410.1 60.6 409.2 60.3z"/>
<path color="#2f4cf5" d="M386.3 74 387.3 74.3 398.7 67.5 397.7 67.2z"/>
<path color="#2f4af4" d="M374.9 80.9 375.8 81.2 387.3 74.3 386.3 74z"/>
<path color="#3048f3" d="M363.5 87.7 364.4 88 375.8 81.2 374.9 80.9z"/>
<path color="#3047f2" d="M352 94.6 353 94.9 364.4 88 363.5 87.7z"/>
<path color="#3046f1" d="M340.6 101.4 341.5 101.7 353 94.9 352 94.6z"/>
<path color="#265bf3" d="M410.1 60.6 411.1 60.7 422.5 53.9 421.5 53.8z"/>
<path color="#2759f2" d="M398.7 67.5 399.6 67.5 411.1 60.7 410.1 60.6z"/>
<path color="#2858f2" d="M387.3 74.3 388.2 74.4 399.6 67.5 398.7 67.5z"/>
<path color="#2956f1" d="M375.8 81.2 376.8 81.2 388.2 74.4 387.3 74.3z"/>
<path color="#2a54f1" d="M364.4 88 365.3 88 376.8 81.2 375.8 81.2z"/>
<path color="#2b52f0" d="M353 94.9 353.9 94.8 365.3 88 364.4 88z"/>
<path color="#2b51ef" d="M341.5 101.7 342.5 101.7 353.9 94.8 353 94.9z"/>
<path color="#245bec" d="M411.1 60.7 412 60.6 423.4 53.8 422.5 53.9z"/>
<path color="#2459eb" d="M399.6 67.5 400.6 67.4 412 60.6 411.1 60.7z"/>
<path color="#2557ea" d="M388.2 74.4 389.1 74.2 400.6 67.4 399.6 67.5z"/>
<path color="#2656e9" d="M376.8 81.2 377.7 81 389.1 74.2 388.2 74.4z"/>
<path color="#2754e8" d="M365.3 88 366.3 87.8 377.7 81 376.8 81.2z"/>
<path color="#2753e7" d="M353.9 94.8 354.9 94.5 366.3 87.8 365.3 88z"/>
<path color="#2851e6" d="M342.5 101.7 343.4 101.3 354.9 94.5 353.9 94.8z"/>
<path color="#2759f2" d="M412 60.6 412.9 60.6 424.4 53.8 423.4 53.8z"/>
<path color="#2957f1" d="M400.6 67.4 401.5 67.4 412.9 60.6 412 60.6z"/>
<path color="#2955f0" d="M389.1 74.2 390.1 74.1 401.5 67.4 400.6 67.4z"/>
<path color="#2a54f0" d="M377.7 81 378.7 80.9 390.1 74.1 389.1 74.2z"/>
<path color="#2a53ef" d="M366.3 87.8 367.2 87.7 378.7 80.9 377.7 81z"/>
<path color="#2b51ed" d="M354.9 94.5 355.8 94.5 367.2 87.7 366.3 87.8z"/>
<path color="#2b50ec" d="M343.4 101.3 344.4 101.2 355.8 94.5 354.9 94.5z"/>
<path color="#2f4df5" d="M412.9 60.6 413.9 60.9 425.3 54.1 424.4 53.8z"/>
<path color="#304af4" d="M401.5 67.4 402.5 67.7 413.9 60.9 412.9 60.6z"/>
<path color="#3048f4" d="M390.1 74.1 391 74.5 402.5 67.7 401.5 67.4z"/>
<path color="#3147f3" d="M378.7 80.9 379.6 81.3 391 74.5 390.1 74.1z"/>
<path color="#3146f3" d="M367.2 87.7 368.2 88 379.6 81.3 378.7 80.9z"/>
<path color="#3145f3" d="M355.8 94.5 356.7 94.8 368.2 88 367.2 87.7z"/>
<path color="#3244f2" d="M344.4 101.2 345.3 101.6 356.7 94.8 355.8 94.5z"/>
<path color="#333eee" d="M413.9 60.9 414.8 61.3 426.3 54.5 425.3 54.1z"/>
<path color="#343be9" d="M402.5 67.7 403.4 68.2 414.8 61.3 413.9 60.9z"/>
<path color="#343ae7" d="M391 74.5 392 75 403.4 68.2 402.5 67.7z"/>
<path color="#3439e5" d="M379.6 81.3 380.5 81.8 392 75 391 74.5z"/>
<path color="#3538e4" d="M368.2 88 369.1 88.6 380.5 81.8 379.6 81.3z"/>
<path color="#3537e2" d="M356.7 94.8 357.7 95.4 369.1 88.6 368.2 88z"/>
<path color="#3536e0" d="M345.3 101.6 346.3 102.2 357.7 95.4 356.7 94.8z"/>
<path color="#352fd0" d="M414.8 61.3 415.8 61.8 427.2 54.9 426.3 54.5z"/>
<path color="#352dcd" d="M403.4 68.2 404.3 68.6 415.8 61.8 414.8 61.3z"/>
<path color="#352ccb" d="M392 75 392.9 75.4 404.3 68.6 403.4 68.2z"/>
<path color="#362ac8" d="M380.5 81.8 381.5 82.3 392.9 75.4 392 75z"/>
<path color="#3629c6" d="M369.1 88.6 370.1 89.1 381.5 82.3 380.5 81.8z"/>
<path color="#3528c3" d="M357.7 95.4 358.6 95.9 370.1 89.1 369.1 88.6z"/>
<path color="#3528c0" d="M346.3 102.2 347.2 102.8 358.6 95.9 357.7 95.4z"/>
<path color="#352dcd" d="M415.8 61.8 416.7 62.2 428.1 55.4 427.2 54.9z"/>
<path color="#352cca" d="M404.3 68.6 405.3 69.1 416.7 62.2 415.8 61.8z"/>
<path color="#352ac7" d="M392.9 75.4 393.9 75.9 405.3 69.1 404.3 68.6z"/>
<path color="#3529c3" d="M381.5 82.3 382.4 82.7 393.9 75.9 392.9 75.4z"/>
<path color="#3528c0" d="M370.1 89.1 371 89.6 382.4 82.7 381.5 82.3z"/>
<path color="#3427bc" d="M358.6 95.9 359.6 96.4 371 89.6 370.1 89.1z"/>
<path color="#3426ba" d="M347.2 102.8 348.1 103.3 359.6 96.4 358.6 95.9z"/>
<path color="#333be7" d="M416.7 62.2 417.7 62.6 429.1 55.7 428.1 55.4z"/>
<path color="#3339e3" d="M405.3 69.1 406.2 69.4 417.7 62.6 416.7 62.2z"/>
<path color="#3337e0" d="M393.9 75.9 394.8 76.3 406.2 69.4 405.3 69.1z"/>
<path color="#3435dc" d="M382.4 82.7 383.4 83.1 394.8 76.3 393.9 75.9z"/>
<path color="#3433d8" d="M371 89.6 371.9 90 383.4 83.1 382.4 82.7z"/>
<path color="#3432d5" d="M359.6 96.4 360.5 96.8 371.9 90 371 89.6z"/>
<path color="#3431d4" d="M348.1 103.3 349.1 103.7 360.5 96.8 359.6 96.4z"/>
<path color="#1e68f7" d="M417.7 62.6 418.6 62.7 430 55.9 429.1 55.7z"/>
<path color="#1f66f7" d="M406.2 69.4 407.2 69.6 418.6 62.7 417.7 62.6z"/>
<path color="#2165f7" d="M394.8 76.3 395.7 76.5 407.2 69.6 406.2 69.4z"/>
<path color="#2263f7" d="M383.4 83.1 384.3 83.3 395.7 76.5 394.8 76.3z"/>
<path color="#2362f7" d="M371.9 90 372.9 90.2 384.3 83.3 383.4 83.1z"/>
<path color="#2460f7" d="M360.5 96.8 361.5 97 372.9 90.2 371.9 90z"/>
<path color="#255ff7" d="M349.1 103.7 350 103.9 361.5 97 360.5 96.8z"/>
<path color="#1f67f6" d="M418.6 62.7 419.5 62.9 431 56.1 430 55.9z"/>
<path color="#2066f6" d="M407.2 69.6 408.1 69.8 419.5 62.9 418.6 62.7z"/>
<path color="#2164f6" d="M395.7 76.5 396.7 76.6 408.1 69.8 407.2 69.6z"/>
<path color="#2262f6" d="M384.3 83.3 385.3 83.5 396.7 76.6 395.7 76.5z"/>
<path color="#2461f6" d="M372.9 90.2 373.8 90.3 385.3 83.5 384.3 83.3z"/>
<path color="#255ff6" d="M361.5 97 362.4 97.2 373.8 90.3 372.9 90.2z"/>
<path color="#255ff6" d="M350 103.9 351 104 362.4 97.2 361.5 97z"/>
<path color="#2462fa" d="M419.5 62.9 420.5 63.2 431.9 56.4 431 56.1z"/>
<path color="#2561fa" d="M408.1 69.8 409.1 70.1 420.5 63.2 419.5 62.9z"/>
<path color="#265ffa" d="M396.7 76.6 397.6 76.9 409.1 70.1 408.1 69.8z"/>
<path color="#275dfa" d="M385.3 83.5 386.2 83.8 397.6 76.9 396.7 76.6z"/>
<path color="#295cfa" d="M373.8 90.3 374.8 90.6 386.2 83.8 385.3 83.5z"/>
<path color="#2a5afa" d="M362.4 97.2 363.3 97.5 374.8 90.6 373.8 90.3z"/>
<path color="#2a59fa" d="M351 104 351.9 104.3 363.3 97.5 362.4 97.2z"/>
<path color="#2561fc" d="M420.5 63.2 421.4 63.6 432.9 56.7 431.9 56.4z"/>
<path color="#275ffc" d="M409.1 70.1 410 70.4 421.4 63.6 420.5 63.2z"/>
<path color="#285efc" d="M397.6 76.9 398.6 77.3 410 70.4 409.1 70.1z"/>
<path color="#295cfc" d="M386.2 83.8 387.1 84.1 398.6 77.3 397.6 76.9z"/>
<path color="#2a5afc" d="M374.8 90.6 375.7 91 387.1 84.1 386.2 83.8z"/>
<path color="#2b59fc" d="M363.3 97.5 364.3 97.9 375.7 91 374.8 90.6z"/>
<path color="#2c58fc" d="M351.9 104.3 352.9 104.7 364.3 97.9 363.3 97.5z"/>
<path color="#235df1" d="M421.4 63.6 422.4 63.6 433.8 56.8 432.9 56.7z"/>
<path color="#255cf1" d="M410 70.4 410.9 70.5 422.4 63.6 421.4 63.6z"/>
<path color="#265af1" d="M398.6 77.3 399.5 77.3 410.9 70.5 410 70.4z"/>
<path color="#2759f1" d="M387.1 84.1 388.1 84.2 399.5 77.3 398.6 77.3z"/>
<path color="#2857f1" d="M375.7 91 376.7 91 388.1 84.2 387.1 84.1z"/>
<path color="#2956f1" d="M364.3 97.9 365.2 97.9 376.7 91 375.7 91z"/>
<path color="#2955f1" d="M352.9 104.7 353.8 104.7 365.2 97.9 364.3 97.9z"/>
<path color="#2163f4" d="M422.4 63.6 423.3 63.7 434.7 56.8 433.8 56.8z"/>
<path color="#2261f3" d="M410.9 70.5 411.9 70.6 423.3 63.7 422.4 63.6z"/>
<path color="#235ff3" d="M399.5 77.3 400.5 77.4 411.9 70.6 410.9 70.5z"/>
<path color="#245ef3" d="M388.1 84.2 389 84.3 400.5 77.4 399.5 77.3z"/>
<path color="#265cf3" d="M376.7 91 377.6 91.1 389 84.3 388.1 84.2z"/>
<path color="#275af3" d="M365.2 97.9 366.2 98 377.6 91.1 376.7 91z"/>
<path color="#2859f3" d="M353.8 104.7 354.7 104.8 366.2 98 365.2 97.9z"/>
<path color="#2266fd" d="M423.3 63.7 424.3 64.1 435.7 57.3 434.7 56.8z"/>
<path color="#2365fd" d="M411.9 70.6 412.8 70.9 424.3 64.1 423.3 63.7z"/>
<path color="#2563fd" d="M400.5 77.4 401.4 77.8 412.8 70.9 411.9 70.6z"/>
<path color="#2661fc" d="M389 84.3 390 84.6 401.4 77.8 400.5 77.4z"/>
<path color="#275ffc" d="M377.6 91.1 378.5 91.5 390 84.6 389 84.3z"/>
<path color="#285efc" d="M366.2 98 367.1 98.3 378.5 91.5 377.6 91.1z"/>
<path color="#295cfc" d="M354.7 104.8 355.7 105.2 367.1 98.3 366.2 98z"/>
<path color="#2063f2" d="M424.3 64.1 425.2 64.1 436.6 57.3 435.7 57.3z"/>
<path color="#2161f2" d="M412.8 70.9 413.8 71 425.2 64.1 424.3 64.1z"/>
<path color="#225ff1" d="M401.4 77.8 402.3 77.8 413.8 71 412.8 70.9z"/>
<path color="#235ef0" d="M390 84.6 390.9 84.6 402.3 77.8 401.4 77.8z"/>
<path color="#245cef" d="M378.5 91.5 379.5 91.4 390.9 84.6 390 84.6z"/>
<path color="#255aef" d="M367.1 98.3 368.1 98.2 379.5 91.4 378.5 91.5z"/>
<path color="#2659ee" d="M355.7 105.2 356.6 105.1 368.1 98.2 367.1 98.3z"/>
<path color="#1d64ed" d="M425.2 64.1 426.1 64 437.6 57.3 436.6 57.3z"/>
<path color="#1e62ec" d="M413.8 71 414.7 70.8 426.1 64 425.2 64.1z"/>
<path color="#1f61eb" d="M402.3 77.8 403.3 77.6 414.7 70.8 413.8 71z"/>
<path color="#1f5fea" d="M390.9 84.6 391.9 84.4 403.3 77.6 402.3 77.8z"/>
<path color="#205de8" d="M379.5 91.4 380.4 91.1 391.9 84.4 390.9 84.6z"/>
<path color="#215ce7" d="M368.1 98.2 369 97.9 380.4 91.1 379.5 91.4z"/>
<path color="#215ae6" d="M356.6 105.1 357.6 104.7 369 97.9 368.1 98.2z"/>
<path color="#176cec" d="M426.1 64 427.1 63.9 438.5 57.1 437.6 57.3z"/>
<path color="#186aeb" d="M414.7 70.8 415.7 70.6 427.1 63.9 426.1 64z"/>
<path color="#1a67ea" d="M403.3 77.6 404.2 77.4 415.7 70.6 414.7 70.8z"/>
<path color="#1a66ea" d="M391.9 84.4 392.8 84.1 404.2 77.4 403.3 77.6z"/>
<path color="#1b65e9" d="M380.4 91.1 381.4 90.9 392.8 84.1 391.9 84.4z"/>
<path color="#1b64e8" d="M369 97.9 369.9 97.7 381.4 90.9 380.4 91.1z"/>
<path color="#1c63e8" d="M357.6 104.7 358.5 104.4 369.9 97.7 369 97.9z"/>
<path color="#1875fb" d="M427.1 63.9 428 64.2 439.5 57.5 438.5 57.1z"/>
<path color="#1973fb" d="M415.7 70.6 416.6 71 428 64.2 427.1 63.9z"/>
<path color="#1a71fc" d="M404.2 77.4 405.2 77.8 416.6 71 415.7 70.6z"/>
<path color="#1b6ffc" d="M392.8 84.1 393.7 84.5 405.2 77.8 404.2 77.4z"/>
<path color="#1c6efc" d="M381.4 90.9 382.3 91.3 393.7 84.5 392.8 84.1z"/>
<path color="#1d6efd" d="M369.9 97.7 370.9 98.1 382.3 91.3 381.4 90.9z"/>
<path color="#1d6dfd" d="M358.5 104.4 359.5 104.8 370.9 98.1 369.9 97.7z"/>
<path color="#1b74ff" d="M428 64.2 429 64.8 440.4 58 439.5 57.5z"/>
<path color="#1d72ff" d="M416.6 71 417.5 71.6 429 64.8 428 64.2z"/>
<path color="#1e71ff" d="M405.2 77.8 406.1 78.4 417.5 71.6 416.6 71z"/>
<path color="#1f70ff" d="M393.7 84.5 394.7 85.2 406.1 78.4 405.2 77.8z"/>
<path color="#206fff" d="M382.3 91.3 383.3 92 394.7 85.2 393.7 84.5z"/>
<path color="#206fff" d="M370.9 98.1 371.8 98.8 383.3 92 382.3 91.3z"/>
<path color="#216eff" d="M359.5 104.8 360.4 105.6 371.8 98.8 370.9 98.1z"/>
<path color="#187aff" d="M429 64.8 429.9 65.3 441.3 58.5 440.4 58z"/>
<path color="#1978ff" d="M417.5 71.6 418.5 72.2 429.9 65.3 429 64.8z"/>
<path color="#1977ff" d="M406.1 78.4 407.1 79 418.5 72.2 417.5 71.6z"/>
<path color="#1a76ff" d="M394.7 85.2 395.6 85.8 407.1 79 406.1 78.4z"/>
<path color="#1a75ff" d="M383.3 92 384.2 92.6 395.6 85.8 394.7 85.2z"/>
<path color="#1b74ff" d="M371.8 98.8 372.8 99.4 384.2 92.6 383.3 92z"/>
<path color="#1c73ff" d="M360.4 105.6 361.3 106.3 372.8 99.4 371.8 98.8z"/>
<path color="#1873f7" d="M429.9 65.3 430.9 65.6 442.3 58.7 441.3 58.5z"/>
<path color="#1971f8" d="M418.5 72.2 419.4 72.4 430.9 65.6 429.9 65.3z"/>
<path color="#1970f9" d="M407.1 79 408 79.3 419.4 72.4 418.5 72.2z"/>
<path color="#1b6ff9" d="M395.6 85.8 396.6 86.1 408 79.3 407.1 79z"/>
<path color="#1c6efa" d="M384.2 92.6 385.1 92.9 396.6 86.1 395.6 85.8z"/>
<path color="#1d6cfb" d="M372.8 99.4 373.7 99.8 385.1 92.9 384.2 92.6z"/>
<path color="#1e6bfb" d="M361.3 106.3 362.3 106.6 373.7 99.8 372.8 99.4z"/>
<path color="#1974fe" d="M430.9 65.6 431.8 66 443.2 59.2 442.3 58.7z"/>
<path color="#1a72ff" d="M419.4 72.4 420.4 72.9 431.8 66 430.9 65.6z"/>
<path color="#1b71ff" d="M408 79.3 408.9 79.7 420.4 72.9 419.4 72.4z"/>
<path color="#1d70ff" d="M396.6 86.1 397.5 86.6 408.9 79.7 408 79.3z"/>
<path color="#1e6eff" d="M385.1 92.9 386.1 93.4 397.5 86.6 396.6 86.1z"/>
<path color="#1f6dff" d="M373.7 99.8 374.7 100.3 386.1 93.4 385.1 92.9z"/>
<path color="#206cff" d="M362.3 106.6 363.2 107.1 374.7 100.3 373.7 99.8z"/>
<path color="#1872f8" d="M431.8 66 432.7 66.3 444.2 59.4 443.2 59.2z"/>
<path color="#1971f9" d="M420.4 72.9 421.3 73.1 432.7 66.3 431.8 66z"/>
<path color="#1a6ff9" d="M408.9 79.7 409.9 80 421.3 73.1 420.4 72.9z"/>
<path color="#1b6df9" d="M397.5 86.6 398.5 86.8 409.9 80 408.9 79.7z"/>
<path color="#1d6cf9" d="M386.1 93.4 387 93.7 398.5 86.8 397.5 86.6z"/>
<path color="#1e6af9" d="M374.7 100.3 375.6 100.5 387 93.7 386.1 93.4z"/>
<path color="#1e69f9" d="M363.2 107.1 364.2 107.4 375.6 100.5 374.7 100.3z"/>
<path color="#1678f4" d="M432.7 66.3 433.7 66.4 445.1 59.6 444.2 59.4z"/>
<path color="#1676f4" d="M421.3 73.1 422.3 73.2 433.7 66.4 432.7 66.3z"/>
<path color="#1774f3" d="M409.9 80 410.8 80.1 422.3 73.2 421.3 73.1z"/>
<path color="#1772f3" d="M398.5 86.8 399.4 86.9 410.8 80.1 409.9 80z"/>
<path color="#1870f3" d="M387 93.7 388 93.8 399.4 86.9 398.5 86.8z"/>
<path color="#186ff3" d="M375.6 100.5 376.5 100.6 388 93.8 387 93.7z"/>
<path color="#186ef3" d="M364.2 107.4 365.1 107.4 376.5 100.6 375.6 100.5z"/>
<path color="#147cf1" d="M433.7 66.4 434.6 66.4 446.1 59.6 445.1 59.6z"/>
<path color="#157af0" d="M422.3 73.2 423.2 73.3 434.6 66.4 433.7 66.4z"/>
<path color="#1578ef" d="M410.8 80.1 411.8 80.1 423.2 73.3 422.3 73.2z"/>
<path color="#1676ef" d="M399.4 86.9 400.3 86.9 411.8 80.1 410.8 80.1z"/>
<path color="#1674ee" d="M388 93.8 388.9 93.7 400.3 86.9 399.4 86.9z"/>
<path color="#1672ed" d="M376.5 100.6 377.5 100.5 388.9 93.7 388 93.8z"/>
<path color="#1770ed" d="M365.1 107.4 366.1 107.3 377.5 100.5 376.5 100.6z"/>
<path color="#127fea" d="M434.6 66.4 435.6 66.3 447 59.5 446.1 59.6z"/>
<path color="#137be9" d="M423.2 73.3 424.1 73.1 435.6 66.3 434.6 66.4z"/>
<path color="#137ae9" d="M411.8 80.1 412.7 79.8 424.1 73.1 423.2 73.3z"/>
<path color="#1478e8" d="M400.3 86.9 401.3 86.6 412.7 79.8 411.8 80.1z"/>
<path color="#1476e7" d="M388.9 93.7 389.9 93.4 401.3 86.6 400.3 86.9z"/>
<path color="#1475e6" d="M377.5 100.5 378.4 100.2 389.9 93.4 388.9 93.7z"/>
<path color="#1473e5" d="M366.1 107.3 367 107 378.4 100.2 377.5 100.5z"/>
<path color="#1580f8" d="M435.6 66.3 436.5 66.6 447.9 59.8 447 59.5z"/>
<path color="#167ef8" d="M424.1 73.1 425.1 73.3 436.5 66.6 435.6 66.3z"/>
<path color="#167bf8" d="M412.7 79.8 413.7 80.1 425.1 73.3 424.1 73.1z"/>
<path color="#167af8" d="M401.3 86.6 402.2 86.9 413.7 80.1 412.7 79.8z"/>
<path color="#1779f8" d="M389.9 93.4 390.8 93.7 402.2 86.9 401.3 86.6z"/>
<path color="#1778f8" d="M378.4 100.2 379.4 100.4 390.8 93.7 389.9 93.4z"/>
<path color="#1777f8" d="M367 107 367.9 107.2 379.4 100.4 378.4 100.2z"/>
<path color="#177cfe" d="M436.5 66.6 437.5 67 448.9 60.2 447.9 59.8z"/>
<path color="#1879ff" d="M425.1 73.3 426 73.8 437.5 67 436.5 66.6z"/>
<path color="#1978ff" d="M413.7 80.1 414.6 80.6 426 73.8 425.1 73.3z"/>
<path color="#1977ff" d="M402.2 86.9 403.2 87.4 414.6 80.6 413.7 80.1z"/>
<path color="#1976ff" d="M390.8 93.7 391.7 94.2 403.2 87.4 402.2 86.9z"/>
<path color="#1a75ff" d="M379.4 100.4 380.3 101 391.7 94.2 390.8 93.7z"/>
<path color="#1a74ff" d="M367.9 107.2 368.9 107.8 380.3 101 379.4 100.4z"/>
<path color="#1876fc" d="M437.5 67 438.4 67.4 449.8 60.6 448.9 60.2z"/>
<path color="#1974fc" d="M426 73.8 427 74.2 438.4 67.4 437.5 67z"/>
<path color="#1973fd" d="M414.6 80.6 415.5 81 427 74.2 426 73.8z"/>
<path color="#1a72fe" d="M403.2 87.4 404.1 87.8 415.5 81 414.6 80.6z"/>
<path color="#1b71ff" d="M391.7 94.2 392.7 94.7 404.1 87.8 403.2 87.4z"/>
<path color="#1c70ff" d="M380.3 101 381.3 101.5 392.7 94.7 391.7 94.2z"/>
<path color="#1d6fff" d="M368.9 107.8 369.8 108.3 381.3 101.5 380.3 101z"/>
<path color="#1975fe" d="M438.4 67.4 439.3 67.9 450.8 61 449.8 60.6z"/>
<path color="#1974ff" d="M427 74.2 427.9 74.7 439.3 67.9 438.4 67.4z"/>
<path color="#1a73ff" d="M415.5 81 416.5 81.5 427.9 74.7 427 74.2z"/>
<path color="#1b72ff" d="M404.1 87.8 405.1 88.4 416.5 81.5 415.5 81z"/>
<path color="#1d70ff" d="M392.7 94.7 393.6 95.2 405.1 88.4 404.1 87.8z"/>
<path color="#1e6fff" d="M381.3 101.5 382.2 102 393.6 95.2 392.7 94.7z"/>
<path color="#1f6eff" d="M369.8 108.3 370.8 108.9 382.2 102 381.3 101.5z"/>
<path color="#1972fb" d="M439.3 67.9 440.3 68.2 451.7 61.4 450.8 61z"/>
<path color="#1a71fc" d="M427.9 74.7 428.9 75 440.3 68.2 439.3 67.9z"/>
<path color="#1b70fc" d="M416.5 81.5 417.4 81.9 428.9 75 427.9 74.7z"/>
<path color="#1c6efc" d="M405.1 88.4 406 88.7 417.4 81.9 416.5 81.5z"/>
<path color="#1d6dfd" d="M393.6 95.2 394.6 95.6 406 88.7 405.1 88.4z"/>
<path color="#1f6bfd" d="M382.2 102 383.1 102.4 394.6 95.6 393.6 95.2z"/>
<path color="#1f6afe" d="M370.8 108.9 371.7 109.3 383.1 102.4 382.2 102z"/>
<path color="#1971f9" d="M440.3 68.2 441.2 68.5 452.7 61.6 451.7 61.4z"/>
<path color="#1a6ff9" d="M428.9 75 429.8 75.3 441.2 68.5 440.3 68.2z"/>
<path color="#1b6df9" d="M417.4 81.9 418.4 82.2 429.8 75.3 428.9 75z"/>
<path color="#1d6cfa" d="M406 88.7 406.9 89 418.4 82.2 417.4 81.9z"/>
<path color="#1e6afa" d="M394.6 95.6 395.5 95.9 406.9 89 406 88.7z"/>
<path color="#1f69fa" d="M383.1 102.4 384.1 102.7 395.5 95.9 394.6 95.6z"/>
<path color="#2068fa" d="M371.7 109.3 372.7 109.6 384.1 102.7 383.1 102.4z"/>
<path color="#1971fa" d="M441.2 68.5 442.2 68.8 453.6 61.9 452.7 61.6z"/>
<path color="#1b6ffa" d="M429.8 75.3 430.7 75.6 442.2 68.8 441.2 68.5z"/>
<path color="#1c6efa" d="M418.4 82.2 419.3 82.5 430.7 75.6 429.8 75.3z"/>
<path color="#1d6cfb" d="M406.9 89 407.9 89.3 419.3 82.5 418.4 82.2z"/>
<path color="#1e6afb" d="M395.5 95.9 396.5 96.2 407.9 89.3 406.9 89z"/>
<path color="#1f69fb" d="M384.1 102.7 385 103.1 396.5 96.2 395.5 95.9z"/>
<path color="#2068fb" d="M372.7 109.6 373.6 109.9 385 103.1 384.1 102.7z"/>
<path color="#2959f6" d="M442.2 68.8 443.1 69 454.5 62.1 453.6 61.9z"/>
<path color="#2a57f6" d="M430.7 75.6 431.7 75.8 443.1 69 442.2 68.8z"/>
<path color="#2c55f6" d="M419.3 82.5 420.3 82.7 431.7 75.8 430.7 75.6z"/>
<path color="#2c53f5" d="M407.9 89.3 408.8 89.5 420.3 82.7 419.3 82.5z"/>
<path color="#2d51f4" d="M396.5 96.2 397.4 96.4 408.8 89.5 407.9 89.3z"/>
<path color="#2d4ff3" d="M385 103.1 386 103.2 397.4 96.4 396.5 96.2z"/>
<path color="#2d4ff3" d="M373.6 109.9 374.5 110.1 386 103.2 385 103.1z"/>
<path color="#3046f0" d="M443.1 69 444.1 69.2 455.5 62.3 454.5 62.1z"/>
<path color="#3044ef" d="M431.7 75.8 432.6 76.1 444.1 69.2 443.1 69z"/>
<path color="#3142ee" d="M420.3 82.7 421.2 82.9 432.6 76.1 431.7 75.8z"/>
<path color="#3240ed" d="M408.8 89.5 409.8 89.8 421.2 82.9 420.3 82.7z"/>
<path color="#323eeb" d="M397.4 96.4 398.3 96.6 409.8 89.8 408.8 89.5z"/>
<path color="#323ce8" d="M386 103.2 386.9 103.5 398.3 96.6 397.4 96.4z"/>
<path color="#323be7" d="M374.5 110.1 375.5 110.3 386.9 103.5 386 103.2z"/>
<path color="#2d56fa" d="M444.1 69.2 445 69.5 456.4 62.7 455.5 62.3z"/>
<path color="#2d54f9" d="M432.6 76.1 433.6 76.4 445 69.5 444.1 69.2z"/>
<path color="#2e52f8" d="M421.2 82.9 422.1 83.2 433.6 76.4 432.6 76.1z"/>
<path color="#2e4ff7" d="M409.8 89.8 410.7 90.1 422.1 83.2 421.2 82.9z"/>
<path color="#2f4df6" d="M398.3 96.6 399.3 97 410.7 90.1 409.8 89.8z"/>
<path color="#2f4bf5" d="M386.9 103.5 387.9 103.8 399.3 97 398.3 96.6z"/>
<path color="#304bf5" d="M375.5 110.3 376.4 110.7 387.9 103.8 386.9 103.5z"/>
<path color="#157cf3" d="M445 69.5 445.9 69.7 457.4 62.8 456.4 62.7z"/>
<path color="#167af4" d="M433.6 76.4 434.5 76.5 445.9 69.7 445 69.5z"/>
<path color="#1678f4" d="M422.1 83.2 423.1 83.4 434.5 76.5 433.6 76.4z"/>
<path color="#1776f4" d="M410.7 90.1 411.7 90.2 423.1 83.4 422.1 83.2z"/>
<path color="#1774f4" d="M399.3 97 400.2 97.1 411.7 90.2 410.7 90.1z"/>
<path color="#1872f4" d="M387.9 103.8 388.8 103.9 400.2 97.1 399.3 97z"/>
<path color="#1871f4" d="M376.4 110.7 377.4 110.8 388.8 103.9 387.9 103.8z"/>
<path color="#167bf6" d="M445.9 69.7 446.9 69.9 458.3 63 457.4 62.8z"/>
<path color="#1679f7" d="M434.5 76.5 435.5 76.7 446.9 69.9 445.9 69.7z"/>
<path color="#1777f7" d="M423.1 83.4 424 83.6 435.5 76.7 434.5 76.5z"/>
<path color="#1875f7" d="M411.7 90.2 412.6 90.4 424 83.6 423.1 83.4z"/>
<path color="#1873f7" d="M400.2 97.1 401.2 97.3 412.6 90.4 411.7 90.2z"/>
<path color="#1971f7" d="M388.8 103.9 389.7 104.2 401.2 97.3 400.2 97.1z"/>
<path color="#1970f7" d="M377.4 110.8 378.3 111 389.7 104.2 388.8 103.9z"/>
<path color="#2f4df5" d="M446.9 69.9 447.8 70.2 459.3 63.3 458.3 63z"/>
<path color="#2f4af4" d="M435.5 76.7 436.4 77 447.8 70.2 446.9 69.9z"/>
<path color="#3048f3" d="M424 83.6 425 83.9 436.4 77 435.5 76.7z"/>
<path color="#3146f2" d="M412.6 90.4 413.5 90.8 425 83.9 424 83.6z"/>
<path color="#3144f1" d="M401.2 97.3 402.1 97.6 413.5 90.8 412.6 90.4z"/>
<path color="#3142f0" d="M389.7 104.2 390.7 104.5 402.1 97.6 401.2 97.3z"/>
<path color="#3242f0" d="M378.3 111 379.3 111.3 390.7 104.5 389.7 104.2z"/>
<path color="#3042eb" d="M447.8 70.2 448.8 70.3 460.2 63.4 459.3 63.3z"/>
<path color="#313fea" d="M436.4 77 437.3 77.2 448.8 70.3 447.8 70.2z"/>
<path color="#313de9" d="M425 83.9 425.9 84 437.3 77.2 436.4 77z"/>
<path color="#313be5" d="M413.5 90.8 414.5 90.9 425.9 84 425 83.9z"/>
<path color="#323ae2" d="M402.1 97.6 403.1 97.7 414.5 90.9 413.5 90.8z"/>
<path color="#3238de" d="M390.7 104.5 391.6 104.6 403.1 97.7 402.1 97.6z"/>
<path color="#3237dc" d="M379.3 111.3 380.2 111.4 391.6 104.6 390.7 104.5z"/>
<path color="#2461f6" d="M448.8 70.3 449.7 70.5 461.1 63.6 460.2 63.4z"/>
<path color="#255ff6" d="M437.3 77.2 438.3 77.4 449.7 70.5 448.8 70.3z"/>
<path color="#265df6" d="M425.9 84 426.9 84.2 438.3 77.4 437.3 77.2z"/>
<path color="#275cf6" d="M414.5 90.9 415.4 91.1 426.9 84.2 425.9 84z"/>
<path color="#285af6" d="M403.1 97.7 404 97.9 415.4 91.1 414.5 90.9z"/>
<path color="#2a58f6" d="M391.6 104.6 392.6 104.8 404 97.9 403.1 97.7z"/>
<path color="#2a57f6" d="M380.2 111.4 381.1 111.6 392.6 104.8 391.6 104.6z"/>
<path color="#1779fa" d="M449.7 70.5 450.7 70.8 462.1 64 461.1 63.6z"/>
<path color="#1877fa" d="M438.3 77.4 439.2 77.7 450.7 70.8 449.7 70.5z"/>
<path color="#1875fa" d="M426.9 84.2 427.8 84.5 439.2 77.7 438.3 77.4z"/>
<path color="#1972fa" d="M415.4 91.1 416.4 91.4 427.8 84.5 426.9 84.2z"/>
<path color="#1a71fa" d="M404 97.9 404.9 98.2 416.4 91.4 415.4 91.1z"/>
<path color="#1b6ffb" d="M392.6 104.8 393.5 105.1 404.9 98.2 404 97.9z"/>
<path color="#1b6efb" d="M381.1 111.6 382.1 112 393.5 105.1 392.6 104.8z"/>
<path color="#1778f9" d="M450.7 70.8 451.6 71.1 463 64.3 462.1 64z"/>
<path color="#1876f9" d="M439.2 77.7 440.2 78 451.6 71.1 450.7 70.8z"/>
<path color="#1874fa" d="M427.8 84.5 428.7 84.8 440.2 78 439.2 77.7z"/>
<path color="#1972fa" d="M416.4 91.4 417.3 91.7 428.7 84.8 427.8 84.5z"/>
<path color="#1a70fa" d="M404.9 98.2 405.9 98.5 417.3 91.7 416.4 91.4z"/>
<path color="#1b6efa" d="M393.5 105.1 394.5 105.4 405.9 98.5 404.9 98.2z"/>
<path color="#1c6efa" d="M382.1 112 383 112.2 394.5 105.4 393.5 105.1z"/>
<path color="#1873f7" d="M451.6 71.1 452.5 71.3 464 64.5 463 64.3z"/>
<path color="#1971f7" d="M440.2 78 441.1 78.2 452.5 71.3 451.6 71.1z"/>
<path color="#196ff7" d="M428.7 84.8 429.7 85 441.1 78.2 440.2 78z"/>
<path color="#1b6df7" d="M417.3 91.7 418.3 91.9 429.7 85 428.7 84.8z"/>
<path color="#1c6cf7" d="M405.9 98.5 406.8 98.7 418.3 91.9 417.3 91.7z"/>
<path color="#1d6af7" d="M394.5 105.4 395.4 105.6 406.8 98.7 405.9 98.5z"/>
<path color="#1d69f7" d="M383 112.2 384 112.5 395.4 105.6 394.5 105.4z"/>
<path color="#1873f6" d="M452.5 71.3 453.5 71.5 464.9 64.6 464 64.5z"/>
<path color="#1871f6" d="M441.1 78.2 442.1 78.3 453.5 71.5 452.5 71.3z"/>
<path color="#196ff6" d="M429.7 85 430.6 85.2 442.1 78.3 441.1 78.2z"/>
<path color="#1a6df6" d="M418.3 91.9 419.2 92.1 430.6 85.2 429.7 85z"/>
<path color="#1c6bf6" d="M406.8 98.7 407.8 98.9 419.2 92.1 418.3 91.9z"/>
<path color="#1d6af6" d="M395.4 105.6 396.3 105.8 407.8 98.9 406.8 98.7z"/>
<path color="#1d69f6" d="M384 112.5 384.9 112.6 396.3 105.8 395.4 105.6z"/>
<path color="#1873f7" d="M453.5 71.5 454.4 71.7 465.9 64.9 464.9 64.6z"/>
<path color="#1971f7" d="M442.1 78.3 443 78.6 454.4 71.7 453.5 71.5z"/>
<path color="#196ff8" d="M430.6 85.2 431.6 85.4 443 78.6 442.1 78.3z"/>
<path color="#1a6ef7" d="M419.2 92.1 420.1 92.3 431.6 85.4 430.6 85.2z"/>
<path color="#1c6cf7" d="M407.8 98.9 408.7 99.1 420.1 92.3 419.2 92.1z"/>
<path color="#1d6af7" d="M396.3 105.8 397.3 106 408.7 99.1 407.8 98.9z"/>
<path color="#1d69f7" d="M384.9 112.6 385.9 112.8 397.3 106 396.3 105.8z"/>
<path color="#1873f5" d="M454.4 71.7 455.4 71.9 466.8 65 465.9 64.9z"/>
<path color="#1871f5" d="M443 78.6 443.9 78.7 455.4 71.9 454.4 71.7z"/>
<path color="#196ff5" d="M431.6 85.4 432.5 85.6 443.9 78.7 443 78.6z"/>
<path color="#1a6df5" d="M420.1 92.3 421.1 92.4 432.5 85.6 431.6 85.4z"/>
<path color="#1b6bf4" d="M408.7 99.1 409.7 99.2 421.1 92.4 420.1 92.3z"/>
<path color="#1c69f4" d="M397.3 106 398.2 106.1 409.7 99.2 408.7 99.1z"/>
<path color="#1d68f4" d="M385.9 112.8 386.8 112.9 398.2 106.1 397.3 106z"/>
<path color="#1770ee" d="M455.4 71.9 456.3 71.8 467.7 65 466.8 65z"/>
<path color="#176eed" d="M443.9 78.7 444.9 78.6 456.3 71.8 455.4 71.9z"/>
<path color="#176cec" d="M432.5 85.6 433.5 85.4 444.9 78.6 443.9 78.7z"/>
<path color="#186aec" d="M421.1 92.4 422 92.2 433.5 85.4 432.5 85.6z"/>
<path color="#1969eb" d="M409.7 99.2 410.6 99.1 422 92.2 421.1 92.4z"/>
<path color="#1a67ea" d="M398.2 106.1 399.2 105.9 410.6 99.1 409.7 99.2z"/>
<path color="#1b65e9" d="M386.8 112.9 387.7 112.7 399.2 105.9 398.2 106.1z"/>
<path color="#1478ea" d="M456.3 71.8 457.3 71.6 468.7 64.8 467.7 65z"/>
<path color="#1574e9" d="M444.9 78.6 445.8 78.4 457.3 71.6 456.3 71.8z"/>
<path color="#1571e8" d="M433.5 85.4 434.4 85.2 445.8 78.4 444.9 78.6z"/>
<path color="#1670e7" d="M422 92.2 423 91.9 434.4 85.2 433.5 85.4z"/>
<path color="#166ee6" d="M410.6 99.1 411.5 98.7 423 91.9 422 92.2z"/>
<path color="#166ce5" d="M399.2 105.9 400.1 105.5 411.5 98.7 410.6 99.1z"/>
<path color="#166ae4" d="M387.7 112.7 388.7 112.3 400.1 105.5 399.2 105.9z"/>
<path color="#147ff3" d="M457.3 71.6 458.2 71.7 469.6 65 468.7 64.8z"/>
<path color="#157cf3" d="M445.8 78.4 446.8 78.5 458.2 71.7 457.3 71.6z"/>
<path color="#1679f2" d="M434.4 85.2 435.3 85.2 446.8 78.5 445.8 78.4z"/>
<path color="#1677f2" d="M423 91.9 423.9 92 435.3 85.2 434.4 85.2z"/>
<path color="#1676f1" d="M411.5 98.7 412.5 98.8 423.9 92 423 91.9z"/>
<path color="#1675f0" d="M400.1 105.5 401.1 105.5 412.5 98.8 411.5 98.7z"/>
<path color="#1673f0" d="M388.7 112.3 389.6 112.3 401.1 105.5 400.1 105.5z"/>
<path color="#1488fa" d="M458.2 71.7 459.1 72.1 470.6 65.3 469.6 65z"/>
<path color="#1485fa" d="M446.8 78.5 447.7 78.8 459.1 72.1 458.2 71.7z"/>
<path color="#1583fb" d="M435.3 85.2 436.3 85.6 447.7 78.8 446.8 78.5z"/>
<path color="#1581fb" d="M423.9 92 424.9 92.4 436.3 85.6 435.3 85.2z"/>
<path color="#1680fb" d="M412.5 98.8 413.4 99.1 424.9 92.4 423.9 92z"/>
<path color="#167ffb" d="M401.1 105.5 402 105.9 413.4 99.1 412.5 98.8z"/>
<path color="#167efc" d="M389.6 112.3 390.6 112.7 402 105.9 401.1 105.5z"/>
<path color="#1589ff" d="M459.1 72.1 460.1 72.6 471.5 65.9 470.6 65.3z"/>
<path color="#1587ff" d="M447.7 78.8 448.7 79.4 460.1 72.6 459.1 72.1z"/>
<path color="#1684ff" d="M436.3 85.6 437.2 86.2 448.7 79.4 447.7 78.8z"/>
<path color="#1684ff" d="M424.9 92.4 425.8 93 437.2 86.2 436.3 85.6z"/>
<path color="#1783ff" d="M413.4 99.1 414.4 99.8 425.8 93 424.9 92.4z"/>
<path color="#1782ff" d="M402 105.9 402.9 106.5 414.4 99.8 413.4 99.1z"/>
<path color="#1781ff" d="M390.6 112.7 391.5 113.3 402.9 106.5 402 105.9z"/>
<path color="#1583f9" d="M460.1 72.6 461 73 472.5 66.2 471.5 65.9z"/>
<path color="#1581fa" d="M448.7 79.4 449.6 79.8 461 73 460.1 72.6z"/>
<path color="#1680fb" d="M437.2 86.2 438.2 86.6 449.6 79.8 448.7 79.4z"/>
<path color="#167ffc" d="M425.8 93 426.7 93.4 438.2 86.6 437.2 86.2z"/>
<path color="#177efd" d="M414.4 99.8 415.3 100.2 426.7 93.4 425.8 93z"/>
<path color="#177dfe" d="M402.9 106.5 403.9 107 415.3 100.2 414.4 99.8z"/>
<path color="#177cfe" d="M391.5 113.3 392.5 113.8 403.9 107 402.9 106.5z"/>
<path color="#1586fd" d="M461 73 462 73.4 473.4 66.6 472.5 66.2z"/>
<path color="#1584fe" d="M449.6 79.8 450.5 80.3 462 73.4 461 73z"/>
<path color="#1683ff" d="M438.2 86.6 439.1 87.1 450.5 80.3 449.6 79.8z"/>
<path color="#1682ff" d="M426.7 93.4 427.7 93.9 439.1 87.1 438.2 86.6z"/>
<path color="#1781ff" d="M415.3 100.2 416.3 100.7 427.7 93.9 426.7 93.4z"/>
<path color="#1780ff" d="M403.9 107 404.8 107.6 416.3 100.7 415.3 100.2z"/>
<path color="#187eff" d="M392.5 113.8 393.4 114.4 404.8 107.6 403.9 107z"/>
<path color="#1582fb" d="M462 73.4 462.9 73.8 474.3 67 473.4 66.6z"/>
<path color="#1680fb" d="M450.5 80.3 451.5 80.7 462.9 73.8 462 73.4z"/>
<path color="#167ffc" d="M439.1 87.1 440.1 87.5 451.5 80.7 450.5 80.3z"/>
<path color="#177dfd" d="M427.7 93.9 428.6 94.3 440.1 87.5 439.1 87.1z"/>
<path color="#177bfd" d="M416.3 100.7 417.2 101.2 428.6 94.3 427.7 93.9z"/>
<path color="#187afe" d="M404.8 107.6 405.8 108 417.2 101.2 416.3 100.7z"/>
<path color="#1879fe" d="M393.4 114.4 394.3 114.9 405.8 108 404.8 107.6z"/>
<path color="#157ff7" d="M462.9 73.8 463.9 74.1 475.3 67.2 474.3 67z"/>
<path color="#167df7" d="M451.5 80.7 452.4 80.9 463.9 74.1 462.9 73.8z"/>
<path color="#167bf8" d="M440.1 87.5 441 87.8 452.4 80.9 451.5 80.7z"/>
<path color="#177af8" d="M428.6 94.3 429.6 94.6 441 87.8 440.1 87.5z"/>
<path color="#1778f9" d="M417.2 101.2 418.1 101.5 429.6 94.6 428.6 94.3z"/>
<path color="#1876f9" d="M405.8 108 406.7 108.3 418.1 101.5 417.2 101.2z"/>
<path color="#1875f9" d="M394.3 114.9 395.3 115.2 406.7 108.3 405.8 108z"/>
<path color="#295cfa" d="M463.9 74.1 464.8 74.4 476.2 67.5 475.3 67.2z"/>
<path color="#2a5afa" d="M452.4 80.9 453.4 81.2 464.8 74.4 463.9 74.1z"/>
<path color="#2b59fb" d="M441 87.8 441.9 88.1 453.4 81.2 452.4 80.9z"/>
<path color="#2c57fb" d="M429.6 94.6 430.5 94.9 441.9 88.1 441 87.8z"/>
<path color="#2d55fa" d="M418.1 101.5 419.1 101.8 430.5 94.9 429.6 94.6z"/>
<path color="#2d53f9" d="M406.7 108.3 407.7 108.6 419.1 101.8 418.1 101.5z"/>
<path color="#2e52f9" d="M395.3 115.2 396.2 115.5 407.7 108.6 406.7 108.3z"/>
<path color="#3146f4" d="M464.8 74.4 465.7 74.8 477.2 67.9 476.2 67.5z"/>
<path color="#3244f3" d="M453.4 81.2 454.3 81.6 465.7 74.8 464.8 74.4z"/>
<path color="#3242f2" d="M441.9 88.1 442.9 88.5 454.3 81.6 453.4 81.2z"/>
<path color="#3340f1" d="M430.5 94.9 431.5 95.3 442.9 88.5 441.9 88.1z"/>
<path color="#333eee" d="M419.1 101.8 420 102.2 431.5 95.3 430.5 94.9z"/>
<path color="#333cea" d="M407.7 108.6 408.6 109 420 102.2 419.1 101.8z"/>
<path color="#333be9" d="M396.2 115.5 397.2 115.9 408.6 109 407.7 108.6z"/>
<path color="#3142ee" d="M465.7 74.8 466.7 75 478.1 68.2 477.2 67.9z"/>
<path color="#3140ed" d="M454.3 81.6 455.3 81.9 466.7 75 465.7 74.8z"/>
<path color="#323eec" d="M442.9 88.5 443.8 88.7 455.3 81.9 454.3 81.6z"/>
<path color="#323ce9" d="M431.5 95.3 432.4 95.6 443.8 88.7 442.9 88.5z"/>
<path color="#323be5" d="M420 102.2 421 102.4 432.4 95.6 431.5 95.3z"/>
<path color="#3239e3" d="M408.6 109 409.5 109.3 421 102.4 420 102.2z"/>
<path color="#3339e1" d="M397.2 115.9 398.1 116.1 409.5 109.3 408.6 109z"/>
<path color="#2f4cf4" d="M466.7 75 467.6 75.3 479.1 68.4 478.1 68.2z"/>
<path color="#2f4af3" d="M455.3 81.9 456.2 82.1 467.6 75.3 466.7 75z"/>
<path color="#3048f2" d="M443.8 88.7 444.8 89 456.2 82.1 455.3 81.9z"/>
<path color="#3046f1" d="M432.4 95.6 433.3 95.8 444.8 89 443.8 88.7z"/>
<path color="#3144ef" d="M421 102.4 421.9 102.7 433.3 95.8 432.4 95.6z"/>
<path color="#3142ef" d="M409.5 109.3 410.5 109.5 421.9 102.7 421 102.4z"/>
<path color="#3141ee" d="M398.1 116.1 399.1 116.4 410.5 109.5 409.5 109.3z"/>
<path color="#285af6" d="M467.6 75.3 468.6 75.5 480 68.6 479.1 68.4z"/>
<path color="#2a58f6" d="M456.2 82.1 457.1 82.3 468.6 75.5 467.6 75.3z"/>
<path color="#2b57f6" d="M444.8 89 445.7 89.2 457.1 82.3 456.2 82.1z"/>
<path color="#2c55f6" d="M433.3 95.8 434.3 96 445.7 89.2 444.8 89z"/>
<path color="#2c53f5" d="M421.9 102.7 422.9 102.9 434.3 96 433.3 95.8z"/>
<path color="#2d51f4" d="M410.5 109.5 411.4 109.7 422.9 102.9 421.9 102.7z"/>
<path color="#2d50f4" d="M399.1 116.4 400 116.6 411.4 109.7 410.5 109.5z"/>
<path color="#2067f9" d="M468.6 75.5 469.5 75.7 480.9 68.9 480 68.6z"/>
<path color="#2264f9" d="M457.1 82.3 458.1 82.6 469.5 75.7 468.6 75.5z"/>
<path color="#2561f9" d="M445.7 89.2 446.7 89.4 458.1 82.6 457.1 82.3z"/>
<path color="#275df9" d="M434.3 96 435.2 96.3 446.7 89.4 445.7 89.2z"/>
<path color="#2a5af9" d="M422.9 102.9 423.8 103.1 435.2 96.3 434.3 96z"/>
<path color="#2c57f9" d="M411.4 109.7 412.4 110 423.8 103.1 422.9 102.9z"/>
<path color="#2d54f8" d="M400 116.6 400.9 116.8 412.4 110 411.4 109.7z"/>
<path color="#1d69f6" d="M469.5 75.7 470.5 75.9 481.9 69 480.9 68.9z"/>
<path color="#2065f6" d="M458.1 82.6 459 82.7 470.5 75.9 469.5 75.7z"/>
<path color="#2262f6" d="M446.7 89.4 447.6 89.6 459 82.7 458.1 82.6z"/>
<path color="#255ff6" d="M435.2 96.3 436.2 96.5 447.6 89.6 446.7 89.4z"/>
<path color="#275bf5" d="M423.8 103.1 424.7 103.3 436.2 96.5 435.2 96.3z"/>
<path color="#2958f5" d="M412.4 110 413.3 110.2 424.7 103.3 423.8 103.1z"/>
<path color="#2b56f5" d="M400.9 116.8 401.9 117 413.3 110.2 412.4 110z"/>
<path color="#1e69f8" d="M470.5 75.9 471.4 76.1 482.8 69.3 481.9 69z"/>
<path color="#2165f8" d="M459 82.7 460 83 471.4 76.1 470.5 75.9z"/>
<path color="#2362f8" d="M447.6 89.6 448.5 89.8 460 83 459 82.7z"/>
<path color="#265ff8" d="M436.2 96.5 437.1 96.7 448.5 89.8 447.6 89.6z"/>
<path color="#285bf8" d="M424.7 103.3 425.7 103.6 437.1 96.7 436.2 96.5z"/>
<path color="#2a58f8" d="M413.3 110.2 414.3 110.4 425.7 103.6 424.7 103.3z"/>
<path color="#2c55f7" d="M401.9 117 402.8 117.1 414.3 110.4 413.3 110.2z"/>
<path color="#1e6af9" d="M471.4 76.1 472.3 76.4 483.8 69.6 482.8 69.3z"/>
<path color="#2067f9" d="M460 83 460.9 83.3 472.3 76.4 471.4 76.1z"/>
<path color="#2264f9" d="M448.5 89.8 449.5 90.1 460.9 83.3 460 83z"/>
<path color="#2560f9" d="M437.1 96.7 438.1 97 449.5 90.1 448.5 89.8z"/>
<path color="#275cf6" d="M425.7 103.6 426.6 103.7 438.1 97 437.1 96.7z"/>
<path color="#2857f0" d="M414.3 110.4 415.2 110.3 426.6 103.7 425.7 103.6z"/>
<path color="#2854ea" d="M402.8 117.1 403.8 116.9 415.2 110.3 414.3 110.4z"/>
<path color="#1e68f7" d="M472.3 76.4 473.3 76.6 484.7 69.8 483.8 69.6z"/>
<path color="#2065f6" d="M460.9 83.3 461.9 83.4 473.3 76.6 472.3 76.4z"/>
<path color="#2261f4" d="M449.5 90.1 450.4 90.2 461.9 83.4 460.9 83.3z"/>
<path color="#245df0" d="M438.1 97 439 96.9 450.4 90.2 449.5 90.1z"/>
<path color="#2459ec" d="M426.6 103.7 427.6 103.5 439 96.9 438.1 97z"/>
<path color="#2557e9" d="M415.2 110.3 416.1 110 427.6 103.5 426.6 103.7z"/>
<path color="#2456e6" d="M403.8 116.9 404.7 116.5 416.1 110 415.2 110.3z"/>
<path color="#1c67f0" d="M473.3 76.6 474.2 76.6 485.7 69.8 484.7 69.8z"/>
<path color="#1e64ef" d="M461.9 83.4 462.8 83.4 474.2 76.6 473.3 76.6z"/>
<path color="#2061ee" d="M450.4 90.2 451.4 90.1 462.8 83.4 461.9 83.4z"/>
<path color="#215fed" d="M439 96.9 439.9 96.7 451.4 90.1 450.4 90.2z"/>
<path color="#215eeb" d="M427.6 103.5 428.5 103.3 439.9 96.7 439 96.9z"/>
<path color="#215dea" d="M416.1 110 417.1 109.8 428.5 103.3 427.6 103.5z"/>
<path color="#215de9" d="M404.7 116.5 405.7 116.2 417.1 109.8 416.1 110z"/>
<path color="#1666dd" d="M474.2 76.6 475.2 76 486.6 69.1 485.7 69.8z"/>
<path color="#1862df" d="M462.8 83.4 463.7 82.8 475.2 76 474.2 76.6z"/>
<path color="#1a60e0" d="M451.4 90.1 452.3 89.5 463.7 82.8 462.8 83.4z"/>
<path color="#1b5fe0" d="M439.9 96.7 440.9 96.2 452.3 89.5 451.4 90.1z"/>
<path color="#1c5ee1" d="M428.5 103.3 429.5 102.8 440.9 96.2 439.9 96.7z"/>
<path color="#1c5ee1" d="M417.1 109.8 418 109.3 429.5 102.8 428.5 103.3z"/>
<path color="#1c5ee1" d="M405.7 116.2 406.6 115.8 418 109.3 417.1 109.8z"/>
<path color="#1667dd" d="M475.2 76 476.1 75.4 487.5 68.5 486.6 69.1z"/>
<path color="#1862de" d="M463.7 82.8 464.7 82.2 476.1 75.4 475.2 76z"/>
<path color="#1b5ede" d="M452.3 89.5 453.3 88.9 464.7 82.2 463.7 82.8z"/>
<path color="#1c5cdd" d="M440.9 96.2 441.8 95.6 453.3 88.9 452.3 89.5z"/>
<path color="#1d5adc" d="M429.5 102.8 430.4 102.1 441.8 95.6 440.9 96.2z"/>
<path color="#1d59db" d="M418 109.3 419 108.6 430.4 102.1 429.5 102.8z"/>
<path color="#1d59da" d="M406.6 115.8 407.5 115 419 108.6 418 109.3z"/>
<path color="#1175d9" d="M476.1 75.4 477.1 74.7 488.5 67.9 487.5 68.5z"/>
<path color="#1270d8" d="M464.7 82.2 465.6 81.4 477.1 74.7 476.1 75.4z"/>
<path color="#136bd5" d="M453.3 88.9 454.2 88.1 465.6 81.4 464.7 82.2z"/>
<path color="#1368d2" d="M441.8 95.6 442.8 94.6 454.2 88.1 453.3 88.9z"/>
<path color="#1365ce" d="M430.4 102.1 431.3 101 442.8 94.6 441.8 95.6z"/>
<path color="#1265cc" d="M419 108.6 419.9 107.4 431.3 101 430.4 102.1z"/>
<path color="#1266cb" d="M407.5 115 408.5 113.9 419.9 107.4 419 108.6z"/>
<path color="#0d91cf" d="M477.1 74.7 478 73.6 489.4 67 488.5 67.9z"/>
<path color="#0c8ac7" d="M465.6 81.4 466.6 80.1 478 73.6 477.1 74.7z"/>
<path color="#0c84c0" d="M454.2 88.1 455.1 86.5 466.6 80.1 465.6 81.4z"/>
<path color="#0b81ba" d="M442.8 94.6 443.7 92.8 455.1 86.5 454.2 88.1z"/>
<path color="#0b80b8" d="M431.3 101 432.3 99.3 443.7 92.8 442.8 94.6z"/>
<path color="#0b84bc" d="M419.9 107.4 420.9 106 432.3 99.3 431.3 101z"/>
<path color="#0c8ac5" d="M408.5 113.9 409.4 112.8 420.9 106 419.9 107.4z"/>
<path color="#0c8cbf" d="M478 73.6 478.9 71.8 490.4 65.8 489.4 67z"/>
<path color="#0b83b1" d="M466.6 80.1 467.5 78 478.9 71.8 478 73.6z"/>
<path color="#0b7fac" d="M455.1 86.5 456.1 84.4 467.5 78 466.6 80.1z"/>
<path color="#0b81af" d="M443.7 92.8 444.7 90.9 456.1 84.4 455.1 86.5z"/>
<path color="#0b88b9" d="M432.3 99.3 433.2 97.9 444.7 90.9 443.7 92.8z"/>
<path color="#0c96c9" d="M420.9 106 421.8 105 433.2 97.9 432.3 99.3z"/>
<path color="#0eabda" d="M409.4 112.8 410.4 112.5 421.8 105 420.9 106z"/>
<path color="#0a729b" d="M478.9 71.8 479.9 68.9 491.3 63.4 490.4 65.8z"/>
<path color="#096d93" d="M467.5 78 468.5 75.1 479.9 68.9 478.9 71.8z"/>
<path color="#0a779c" d="M456.1 84.4 457 82 468.5 75.1 467.5 78z"/>
<path color="#0b89af" d="M444.7 90.9 445.6 89.3 457 82 456.1 84.4z"/>
<path color="#0e9fc6" d="M433.2 97.9 434.2 96.9 445.6 89.3 444.7 90.9z"/>
<path color="#10b3db" d="M421.8 105 422.7 104.7 434.2 96.9 433.2 97.9z"/>
<path color="#13c3ea" d="M410.4 112.5 411.3 112.4 422.7 104.7 421.8 105z"/>
<path color="#0b84a8" d="M479.9 68.9 480.8 66.6 492.3 61.2 491.3 63.4z"/>
<path color="#0d8fb2" d="M468.5 75.1 469.4 73.5 480.8 66.6 479.9 68.9z"/>
<path color="#0fa5ca" d="M457 82 458 81.2 469.4 73.5 468.5 75.1z"/>
<path color="#12bbe0" d="M445.6 89.3 446.5 89 458 81.2 457 82z"/>
<path color="#15cbee" d="M434.2 96.9 435.1 96.9 446.5 89 445.6 89.3z"/>
<path color="#19d4f4" d="M422.7 104.7 423.7 104.9 435.1 96.9 434.2 96.9z"/>
<path color="#1eddf7" d="M411.3 112.4 412.3 112.9 423.7 104.9 422.7 104.7z"/>
<path color="#10a7c8" d="M480.8 66.6 481.8 65.6 493.2 59.6 492.3 61.2z"/>
<path color="#13b8d8" d="M469.4 73.5 470.3 72.9 481.8 65.6 480.8 66.6z"/>
<path color="#17c4e1" d="M458 81.2 458.9 80.9 470.3 72.9 469.4 73.5z"/>
<path color="#1ccee6" d="M446.5 89 447.5 88.9 458.9 80.9 458 81.2z"/>
<path color="#20d7ec" d="M435.1 96.9 436.1 97.2 447.5 88.9 446.5 89z"/>
<path color="#21def4" d="M423.7 104.9 424.6 105.3 436.1 97.2 435.1 96.9z"/>
<path color="#21e3fa" d="M412.3 112.9 413.2 113.4 424.6 105.3 423.7 104.9z"/>
<path color="#20e6ff" d="M481.8 65.6 482.7 66.3 494.1 60.1 493.2 59.6z"/>
<path color="#23edff" d="M470.3 72.9 471.3 73.8 482.7 66.3 481.8 65.6z"/>
<path color="#23f0ff" d="M458.9 80.9 459.9 81.9 471.3 73.8 470.3 72.9z"/>
<path color="#23f2ff" d="M447.5 88.9 448.4 90.1 459.9 81.9 458.9 80.9z"/>
<path color="#22f3ff" d="M436.1 97.2 437 98.2 448.4 90.1 447.5 88.9z"/>
<path color="#22f1ff" d="M424.6 105.3 425.6 106.3 437 98.2 436.1 97.2z"/>
<path color="#22efff" d="M413.2 113.4 414.1 114.4 425.6 106.3 424.6 105.3z"/>
<path color="#21e8ff" d="M482.7 66.3 483.7 67.2 495.1 60.7 494.1 60.1z"/>
<path color="#21eeff" d="M471.3 73.8 472.2 74.8 483.7 67.2 482.7 66.3z"/>
<path color="#21f0ff" d="M459.9 81.9 460.8 83 472.2 74.8 471.3 73.8z"/>
<path color="#20efff" d="M448.4 90.1 449.4 91 460.8 83 459.9 81.9z"/>
<path color="#20edff" d="M437 98.2 437.9 99.1 449.4 91 448.4 90.1z"/>
<path color="#20eaff" d="M425.6 106.3 426.5 107.1 437.9 99.1 437 98.2z"/>
<path color="#20e7ff" d="M414.1 114.4 415.1 115 426.5 107.1 425.6 106.3z"/>
<path color="#20efff" d="M483.7 67.2 484.6 68.4 496 61.6 495.1 60.7z"/>
<path color="#20f3ff" d="M472.2 74.8 473.2 76.1 484.6 68.4 483.7 67.2z"/>
<path color="#1ff3ff" d="M460.8 83 461.7 84.1 473.2 76.1 472.2 74.8z"/>
<path color="#1ff1ff" d="M449.4 91 450.3 92.1 461.7 84.1 460.8 83z"/>
<path color="#1feeff" d="M437.9 99.1 438.9 100 450.3 92.1 449.4 91z"/>
<path color="#1feaff" d="M426.5 107.1 427.5 107.9 438.9 100 437.9 99.1z"/>
<path color="#1fe7ff" d="M415.1 115 416 115.6 427.5 107.9 426.5 107.1z"/>
<path color="#1bf1ff" d="M484.6 68.4 485.5 69.7 497 62.7 496 61.6z"/>
<path color="#1af0ff" d="M473.2 76.1 474.1 77.4 485.5 69.7 484.6 68.4z"/>
<path color="#19f0ff" d="M461.7 84.1 462.7 85.3 474.1 77.4 473.2 76.1z"/>
<path color="#19f0ff" d="M450.3 92.1 451.3 93.2 462.7 85.3 461.7 84.1z"/>
<path color="#19ecff" d="M438.9 100 439.8 101 451.3 93.2 450.3 92.1z"/>
<path color="#1ae9ff" d="M427.5 107.9 428.4 108.7 439.8 101 438.9 100z"/>
<path color="#1be7ff" d="M416 115.6 417 116.4 428.4 108.7 427.5 107.9z"/>
<path color="#13d8ff" d="M485.5 69.7 486.5 70.7 497.9 63.4 497 62.7z"/>
<path color="#13d9ff" d="M474.1 77.4 475.1 78.3 486.5 70.7 485.5 69.7z"/>
<path color="#13d6ff" d="M462.7 85.3 463.6 86.1 475.1 78.3 474.1 77.4z"/>
<path color="#13d3ff" d="M451.3 93.2 452.2 93.9 463.6 86.1 462.7 85.3z"/>
<path color="#13d1ff" d="M439.8 101 440.8 101.5 452.2 93.9 451.3 93.2z"/>
<path color="#13d1ff" d="M428.4 108.7 429.3 109.3 440.8 101.5 439.8 101z"/>
<path color="#13d2ff" d="M417 116.4 417.9 116.9 429.3 109.3 428.4 108.7z"/>
<path color="#12d3ff" d="M486.5 70.7 487.4 71.5 498.9 64.2 497.9 63.4z"/>
<path color="#12d4ff" d="M475.1 78.3 476 79.1 487.4 71.5 486.5 70.7z"/>
<path color="#12d1ff" d="M463.6 86.1 464.6 86.8 476 79.1 475.1 78.3z"/>
<path color="#12d0ff" d="M452.2 93.9 453.1 94.5 464.6 86.8 463.6 86.1z"/>
<path color="#12d1ff" d="M440.8 101.5 441.7 102.2 453.1 94.5 452.2 93.9z"/>
<path color="#13d2ff" d="M429.3 109.3 430.3 109.9 441.7 102.2 440.8 101.5z"/>
<path color="#13d3ff" d="M417.9 116.9 418.9 117.6 430.3 109.9 429.3 109.3z"/>
<path color="#13d0ff" d="M487.4 71.5 488.4 72.1 499.8 64.7 498.9 64.2z"/>
<path color="#13d1ff" d="M476 79.1 476.9 79.7 488.4 72.1 487.4 71.5z"/>
<path color="#12ceff" d="M464.6 86.8 465.5 87.4 476.9 79.7 476 79.1z"/>
<path color="#12ccff" d="M453.1 94.5 454.1 95.1 465.5 87.4 464.6 86.8z"/>
<path color="#12cdff" d="M441.7 102.2 442.7 102.7 454.1 95.1 453.1 94.5z"/>
<path color="#13cfff" d="M430.3 109.9 431.2 110.4 442.7 102.7 441.7 102.2z"/>
<path color="#14d2ff" d="M418.9 117.6 419.8 118.1 431.2 110.4 430.3 109.9z"/>
<path color="#12cfff" d="M488.4 72.1 489.3 72.8 500.7 65.3 499.8 64.7z"/>
<path color="#11cbff" d="M476.9 79.7 477.9 80.4 489.3 72.8 488.4 72.1z"/>
<path color="#10c7ff" d="M465.5 87.4 466.5 88 477.9 80.4 476.9 79.7z"/>
<path color="#10c7ff" d="M454.1 95.1 455 95.7 466.5 88 465.5 87.4z"/>
<path color="#11caff" d="M442.7 102.7 443.6 103.3 455 95.7 454.1 95.1z"/>
<path color="#12ceff" d="M431.2 110.4 432.2 111 443.6 103.3 442.7 102.7z"/>
<path color="#13d3ff" d="M419.8 118.1 420.7 118.7 432.2 111 431.2 110.4z"/>
<path color="#10c9ff" d="M489.3 72.8 490.3 73.8 501.7 66.3 500.7 65.3z"/>
<path color="#10c4ff" d="M477.9 80.4 478.8 81.3 490.3 73.8 489.3 72.8z"/>
<path color="#10beff" d="M466.5 88 467.4 88.9 478.8 81.3 477.9 80.4z"/>
<path color="#10c0ff" d="M455 95.7 456 96.5 467.4 88.9 466.5 88z"/>
<path color="#10c6ff" d="M443.6 103.3 444.5 104.1 456 96.5 455 95.7z"/>
<path color="#11cdff" d="M432.2 111 433.1 111.7 444.5 104.1 443.6 103.3z"/>
<path color="#13d3ff" d="M420.7 118.7 421.7 119.4 433.1 111.7 432.2 111z"/>
<path color="#10b7ff" d="M490.3 73.8 491.2 74.5 502.6 67 501.7 66.3z"/>
<path color="#10b2ff" d="M478.8 81.3 479.8 82 491.2 74.5 490.3 73.8z"/>
<path color="#10acff" d="M467.4 88.9 468.3 89.5 479.8 82 478.8 81.3z"/>
<path color="#10b0ff" d="M456 96.5 456.9 97.1 468.3 89.5 467.4 88.9z"/>
<path color="#10b9ff" d="M444.5 104.1 445.5 104.7 456.9 97.1 456 96.5z"/>
<path color="#10c3ff" d="M433.1 111.7 434.1 112.3 445.5 104.7 444.5 104.1z"/>
<path color="#11ccff" d="M421.7 119.4 422.6 119.9 434.1 112.3 433.1 111.7z"/>
<path color="#10adff" d="M491.2 74.5 492.1 75.3 503.6 67.8 502.6 67z"/>
<path color="#10a8ff" d="M479.8 82 480.7 82.7 492.1 75.3 491.2 74.5z"/>
<path color="#10a3ff" d="M468.3 89.5 469.3 90.2 480.7 82.7 479.8 82z"/>
<path color="#10a9ff" d="M456.9 97.1 457.9 97.8 469.3 90.2 468.3 89.5z"/>
<path color="#10b4ff" d="M445.5 104.7 446.4 105.3 457.9 97.8 456.9 97.1z"/>
<path color="#10c1ff" d="M434.1 112.3 435 112.9 446.4 105.3 445.5 104.7z"/>
<path color="#11cdff" d="M422.6 119.9 423.6 120.5 435 112.9 434.1 112.3z"/>
<path color="#1199ff" d="M492.1 75.3 493.1 75.9 504.5 68.4 503.6 67.8z"/>
<path color="#1199ff" d="M480.7 82.7 481.7 83.3 493.1 75.9 492.1 75.3z"/>
<path color="#1199ff" d="M469.3 90.2 470.2 90.8 481.7 83.3 480.7 82.7z"/>
<path color="#109aff" d="M457.9 97.8 458.8 98.3 470.2 90.8 469.3 90.2z"/>
<path color="#10a7fe" d="M446.4 105.3 447.4 105.8 458.8 98.3 457.9 97.8z"/>
<path color="#10b5fd" d="M435 112.9 435.9 113.4 447.4 105.8 446.4 105.3z"/>
<path color="#0fc4fd" d="M423.6 120.5 424.5 121 435.9 113.4 435 112.9z"/>
<path color="#1782ff" d="M493.1 75.9 494 76.4 505.5 69 504.5 68.4z"/>
<path color="#1780ff" d="M481.7 83.3 482.6 83.9 494 76.4 493.1 75.9z"/>
<path color="#187dff" d="M470.2 90.8 471.2 91.3 482.6 83.9 481.7 83.3z"/>
<path color="#1587ff" d="M458.8 98.3 459.7 98.8 471.2 91.3 470.2 90.8z"/>
<path color="#1195ff" d="M447.4 105.8 448.3 106.4 459.7 98.8 458.8 98.3z"/>
<path color="#10a3fe" d="M435.9 113.4 436.9 113.9 448.3 106.4 447.4 105.8z"/>
<path color="#0fb3fd" d="M424.5 121 425.5 121.5 436.9 113.9 435.9 113.4z"/>
<path color="#1980ff" d="M494 76.4 495 77.2 506.4 69.9 505.5 69z"/>
<path color="#1980ff" d="M482.6 83.9 483.5 84.7 495 77.2 494 76.4z"/>
<path color="#1a7bff" d="M471.2 91.3 472.1 92.1 483.5 84.7 482.6 83.9z"/>
<path color="#1784ff" d="M459.7 98.8 460.7 99.6 472.1 92.1 471.2 91.3z"/>
<path color="#1393ff" d="M448.3 106.4 449.3 107.1 460.7 99.6 459.7 98.8z"/>
<path color="#10a3ff" d="M436.9 113.9 437.8 114.6 449.3 107.1 448.3 106.4z"/>
<path color="#10b3ff" d="M425.5 121.5 426.4 122.2 437.8 114.6 436.9 113.9z"/>
<path color="#187cff" d="M495 77.2 495.9 77.8 507.3 70.4 506.4 69.9z"/>
<path color="#187cff" d="M483.5 84.7 484.5 85.2 495.9 77.8 495 77.2z"/>
<path color="#1b73ff" d="M472.1 92.1 473.1 92.6 484.5 85.2 483.5 84.7z"/>
<path color="#187aff" d="M460.7 99.6 461.6 100.1 473.1 92.6 472.1 92.1z"/>
<path color="#1489fd" d="M449.3 107.1 450.2 107.5 461.6 100.1 460.7 99.6z"/>
<path color="#1098fa" d="M437.8 114.6 438.8 115 450.2 107.5 449.3 107.1z"/>
<path color="#0fa6f7" d="M426.4 122.2 427.3 122.5 438.8 115 437.8 114.6z"/>
<path color="#148fff" d="M495.9 77.8 496.9 78.5 508.3 71.2 507.3 70.4z"/>
<path color="#158dff" d="M484.5 85.2 485.4 85.9 496.9 78.5 495.9 77.8z"/>
<path color="#187eff" d="M473.1 92.6 474 93.3 485.4 85.9 484.5 85.2z"/>
<path color="#187dff" d="M461.6 100.1 462.6 100.7 474 93.3 473.1 92.6z"/>
<path color="#148cff" d="M450.2 107.5 451.1 108.1 462.6 100.7 461.6 100.1z"/>
<path color="#109bfe" d="M438.8 115 439.7 115.5 451.1 108.1 450.2 107.5z"/>
<path color="#0fabfd" d="M427.3 122.5 428.3 122.9 439.7 115.5 438.8 115z"/>
<path color="#10a1ff" d="M496.9 78.5 497.8 79.2 509.2 71.9 508.3 71.2z"/>
<path color="#1198ff" d="M485.4 85.9 486.4 86.5 497.8 79.2 496.9 78.5z"/>
<path color="#1589ff" d="M474 93.3 474.9 93.9 486.4 86.5 485.4 85.9z"/>
<path color="#187dff" d="M462.6 100.7 463.5 101.2 474.9 93.9 474 93.3z"/>
<path color="#138dff" d="M451.1 108.1 452.1 108.6 463.5 101.2 462.6 100.7z"/>
<path color="#0f9cfd" d="M439.7 115.5 440.7 116 452.1 108.6 451.1 108.1z"/>
<path color="#0fadfb" d="M428.3 122.9 429.2 123.4 440.7 116 439.7 115.5z"/>
<path color="#109fff" d="M497.8 79.2 498.7 79.8 510.2 72.5 509.2 71.9z"/>
<path color="#1391ff" d="M486.4 86.5 487.3 87.1 498.7 79.8 497.8 79.2z"/>
<path color="#1684ff" d="M474.9 93.9 475.9 94.4 487.3 87.1 486.4 86.5z"/>
<path color="#1975ff" d="M463.5 101.2 464.5 101.7 475.9 94.4 474.9 93.9z"/>
<path color="#1585fd" d="M452.1 108.6 453 109 464.5 101.7 463.5 101.2z"/>
<path color="#1095fa" d="M440.7 116 441.6 116.3 453 109 452.1 108.6z"/>
<path color="#0fa5f8" d="M429.2 123.4 430.2 123.7 441.6 116.3 440.7 116z"/>
<path color="#1688ff" d="M498.7 79.8 499.7 80.4 511.1 73.2 510.2 72.5z"/>
<path color="#197bff" d="M487.3 87.1 488.3 87.7 499.7 80.4 498.7 79.8z"/>
<path color="#1e6fff" d="M475.9 94.4 476.8 94.9 488.3 87.7 487.3 87.1z"/>
<path color="#1f6dff" d="M464.5 101.7 465.4 102.2 476.8 94.9 475.9 94.4z"/>
<path color="#187cff" d="M453 109 454 109.5 465.4 102.2 464.5 101.7z"/>
<path color="#138bfd" d="M441.6 116.3 442.5 116.8 454 109.5 453 109z"/>
<path color="#0f9afa" d="M430.2 123.7 431.1 124.1 442.5 116.8 441.6 116.3z"/>
<path color="#1b7aff" d="M499.7 80.4 500.6 81.3 512.1 74.1 511.1 73.2z"/>
<path color="#226fff" d="M488.3 87.7 489.2 88.5 500.6 81.3 499.7 80.4z"/>
<path color="#2a63ff" d="M476.8 94.9 477.8 95.7 489.2 88.5 488.3 87.7z"/>
<path color="#246bff" d="M465.4 102.2 466.3 102.9 477.8 95.7 476.8 94.9z"/>
<path color="#1a78ff" d="M454 109.5 454.9 110.2 466.3 102.9 465.4 102.2z"/>
<path color="#1687ff" d="M442.5 116.8 443.5 117.4 454.9 110.2 454 109.5z"/>
<path color="#1295ff" d="M431.1 124.1 432.1 124.7 443.5 117.4 442.5 116.8z"/>
<path color="#1d71ff" d="M500.6 81.3 501.6 81.9 513 74.7 512.1 74.1z"/>
<path color="#2468ff" d="M489.2 88.5 490.1 89 501.6 81.9 500.6 81.3z"/>
<path color="#2b5dff" d="M477.8 95.7 478.7 96.2 490.1 89 489.2 88.5z"/>
<path color="#2466ff" d="M466.3 102.9 467.3 103.4 478.7 96.2 477.8 95.7z"/>
<path color="#1b73ff" d="M454.9 110.2 455.9 110.6 467.3 103.4 466.3 102.9z"/>
<path color="#1680ff" d="M443.5 117.4 444.4 117.9 455.9 110.6 454.9 110.2z"/>
<path color="#138dfd" d="M432.1 124.7 433 125.1 444.4 117.9 443.5 117.4z"/>
<path color="#2269ff" d="M501.6 81.9 502.5 82.4 513.9 75.2 513 74.7z"/>
<path color="#295fff" d="M490.1 89 491.1 89.5 502.5 82.4 501.6 81.9z"/>
<path color="#2c5bff" d="M478.7 96.2 479.7 96.7 491.1 89.5 490.1 89z"/>
<path color="#2564ff" d="M467.3 103.4 468.2 103.9 479.7 96.7 478.7 96.2z"/>
<path color="#1c6ffe" d="M455.9 110.6 456.8 111.1 468.2 103.9 467.3 103.4z"/>
<path color="#177bfd" d="M444.4 117.9 445.4 118.3 456.8 111.1 455.9 110.6z"/>
<path color="#1487fb" d="M433 125.1 433.9 125.5 445.4 118.3 444.4 117.9z"/>
<path color="#2467ff" d="M502.5 82.4 503.5 83 514.9 75.8 513.9 75.2z"/>
<path color="#2b5dff" d="M491.1 89.5 492 90.1 503.5 83 502.5 82.4z"/>
<path color="#2c5cff" d="M479.7 96.7 480.6 97.2 492 90.1 491.1 89.5z"/>
<path color="#2664ff" d="M468.2 103.9 469.2 104.4 480.6 97.2 479.7 96.7z"/>
<path color="#1e6eff" d="M456.8 111.1 457.7 111.6 469.2 104.4 468.2 103.9z"/>
<path color="#1879ff" d="M445.4 118.3 446.3 118.7 457.7 111.6 456.8 111.1z"/>
<path color="#1584fe" d="M433.9 125.5 434.9 125.9 446.3 118.7 445.4 118.3z"/>
<path color="#1f6fff" d="M503.5 83 504.4 83.5 515.8 76.4 514.9 75.8z"/>
<path color="#2665ff" d="M492 90.1 493 90.7 504.4 83.5 503.5 83z"/>
<path color="#2961ff" d="M480.6 97.2 481.5 97.8 493 90.7 492 90.1z"/>
<path color="#2368ff" d="M469.2 104.4 470.1 104.9 481.5 97.8 480.6 97.2z"/>
<path color="#1b72ff" d="M457.7 111.6 458.7 112.1 470.1 104.9 469.2 104.4z"/>
<path color="#187cff" d="M446.3 118.7 447.3 119.2 458.7 112.1 457.7 111.6z"/>
<path color="#1586fe" d="M434.9 125.9 435.8 126.4 447.3 119.2 446.3 118.7z"/>
<path color="#216bff" d="M504.4 83.5 505.3 84.1 516.8 77 515.8 76.4z"/>
<path color="#2761ff" d="M493 90.7 493.9 91.2 505.3 84.1 504.4 83.5z"/>
<path color="#2860ff" d="M481.5 97.8 482.5 98.3 493.9 91.2 493 90.7z"/>
<path color="#2367ff" d="M470.1 104.9 471.1 105.4 482.5 98.3 481.5 97.8z"/>
<path color="#1c70ff" d="M458.7 112.1 459.6 112.5 471.1 105.4 470.1 104.9z"/>
<path color="#1879fd" d="M447.3 119.2 448.2 119.6 459.6 112.5 458.7 112.1z"/>
<path color="#1582fc" d="M435.8 126.4 436.8 126.8 448.2 119.6 447.3 119.2z"/>
<path color="#2d5bff" d="M505.3 84.1 506.3 84.6 517.7 77.5 516.8 77z"/>
<path color="#2d5bff" d="M493.9 91.2 494.9 91.7 506.3 84.6 505.3 84.1z"/>
<path color="#2d5aff" d="M482.5 98.3 483.4 98.8 494.9 91.7 493.9 91.2z"/>
<path color="#2861ff" d="M471.1 105.4 472 105.9 483.4 98.8 482.5 98.3z"/>
<path color="#2269ff" d="M459.6 112.5 460.6 113 472 105.9 471.1 105.4z"/>
<path color="#1c70ff" d="M448.2 119.6 449.1 120.1 460.6 113 459.6 112.5z"/>
<path color="#1878fe" d="M436.8 126.8 437.7 127.2 449.1 120.1 448.2 119.6z"/>
<path color="#2f57ff" d="M506.3 84.6 507.2 85.2 518.7 78.2 517.7 77.5z"/>
<path color="#2f57ff" d="M494.9 91.7 495.8 92.3 507.2 85.2 506.3 84.6z"/>
<path color="#2f56ff" d="M483.4 98.8 484.4 99.3 495.8 92.3 494.9 91.7z"/>
<path color="#2b5dff" d="M472 105.9 472.9 106.4 484.4 99.3 483.4 98.8z"/>
<path color="#2564ff" d="M460.6 113 461.5 113.5 472.9 106.4 472 105.9z"/>
<path color="#206bff" d="M449.1 120.1 450.1 120.6 461.5 113.5 460.6 113z"/>
<path color="#1b71ff" d="M437.7 127.2 438.7 127.7 450.1 120.6 449.1 120.1z"/>
<path color="#2e55ff" d="M507.2 85.2 508.2 85.7 519.6 78.7 518.7 78.2z"/>
<path color="#2e55fe" d="M495.8 92.3 496.7 92.7 508.2 85.7 507.2 85.2z"/>
<path color="#2e54fd" d="M484.4 99.3 485.3 99.8 496.7 92.7 495.8 92.3z"/>
<path color="#2c5aff" d="M472.9 106.4 473.9 106.8 485.3 99.8 484.4 99.3z"/>
<path color="#2761fe" d="M461.5 113.5 462.5 113.9 473.9 106.8 472.9 106.4z"/>
<path color="#2267fd" d="M450.1 120.6 451 121 462.5 113.9 461.5 113.5z"/>
<path color="#1e6dfd" d="M438.7 127.7 439.6 128.1 451 121 450.1 120.6z"/>
<path color="#2e54fc" d="M508.2 85.7 509.1 86.1 520.5 79.1 519.6 78.7z"/>
<path color="#2e53fb" d="M496.7 92.7 497.7 93.1 509.1 86.1 508.2 85.7z"/>
<path color="#2e53fb" d="M485.3 99.8 486.3 100.2 497.7 93.1 496.7 92.7z"/>
<path color="#2c58fd" d="M473.9 106.8 474.8 107.2 486.3 100.2 485.3 99.8z"/>
<path color="#285efc" d="M462.5 113.9 463.4 114.3 474.8 107.2 473.9 106.8z"/>
<path color="#2463fb" d="M451 121 452 121.3 463.4 114.3 462.5 113.9z"/>
<path color="#2067f9" d="M439.6 128.1 440.5 128.3 452 121.3 451 121z"/>
<path color="#2f51fc" d="M509.1 86.1 510.1 86.6 521.5 79.6 520.5 79.1z"/>
<path color="#2f51fb" d="M497.7 93.1 498.6 93.6 510.1 86.6 509.1 86.1z"/>
<path color="#2f50fa" d="M486.3 100.2 487.2 100.6 498.6 93.6 497.7 93.1z"/>
<path color="#2e55fc" d="M474.8 107.2 475.8 107.6 487.2 100.6 486.3 100.2z"/>
<path color="#2a5bfc" d="M463.4 114.3 464.3 114.6 475.8 107.6 474.8 107.2z"/>
<path color="#275ffb" d="M452 121.3 452.9 121.6 464.3 114.6 463.4 114.3z"/>
<path color="#2363fa" d="M440.5 128.3 441.5 128.6 452.9 121.6 452 121.3z"/>
<path color="#3051fe" d="M510.1 86.6 511 87.1 522.4 80.2 521.5 79.6z"/>
<path color="#3050fd" d="M498.6 93.6 499.6 94.1 511 87.1 510.1 86.6z"/>
<path color="#3050fb" d="M487.2 100.6 488.1 101.1 499.6 94.1 498.6 93.6z"/>
<path color="#2e54fd" d="M475.8 107.6 476.7 108.1 488.1 101.1 487.2 100.6z"/>
<path color="#2d59fe" d="M464.3 114.6 465.3 115 476.7 108.1 475.8 107.6z"/>
<path color="#295dfd" d="M452.9 121.6 453.9 122 465.3 115 464.3 114.6z"/>
<path color="#2760fd" d="M441.5 128.6 442.4 129 453.9 122 452.9 121.6z"/>
<path color="#304ffa" d="M511 87.1 511.9 87.6 523.4 80.7 522.4 80.2z"/>
<path color="#304ef9" d="M499.6 94.1 500.5 94.5 511.9 87.6 511 87.1z"/>
<path color="#304ef8" d="M488.1 101.1 489.1 101.5 500.5 94.5 499.6 94.1z"/>
<path color="#2e51f9" d="M476.7 108.1 477.7 108.4 489.1 101.5 488.1 101.1z"/>
<path color="#2d56fb" d="M465.3 115 466.2 115.4 477.7 108.4 476.7 108.1z"/>
<path color="#2b59fb" d="M453.9 122 454.8 122.3 466.2 115.4 465.3 115z"/>
<path color="#285cfa" d="M442.4 129 443.4 129.3 454.8 122.3 453.9 122z"/>
<path color="#2f4df7" d="M511.9 87.6 512.9 88 524.3 81 523.4 80.7z"/>
<path color="#2f4df6" d="M500.5 94.5 501.5 94.9 512.9 88 511.9 87.6z"/>
<path color="#2f4cf6" d="M489.1 101.5 490 101.8 501.5 94.9 500.5 94.5z"/>
<path color="#2e4ff7" d="M477.7 108.4 478.6 108.8 490 101.8 489.1 101.5z"/>
<path color="#2d54f9" d="M466.2 115.4 467.2 115.7 478.6 108.8 477.7 108.4z"/>
<path color="#2c57fa" d="M454.8 122.3 455.7 122.6 467.2 115.7 466.2 115.4z"/>
<path color="#295af9" d="M443.4 129.3 444.3 129.6 455.7 122.6 454.8 122.3z"/>
<path color="#2f4cf5" d="M512.9 88 513.8 88.3 525.3 81.4 524.3 81z"/>
<path color="#2f4bf5" d="M501.5 94.9 502.4 95.2 513.8 88.3 512.9 88z"/>
<path color="#2f4bf4" d="M490 101.8 491 102.1 502.4 95.2 501.5 94.9z"/>
<path color="#2e4ef5" d="M478.6 108.8 479.5 109 491 102.1 490 101.8z"/>
<path color="#2d52f7" d="M467.2 115.7 468.1 116 479.5 109 478.6 108.8z"/>
<path color="#2c55f8" d="M455.7 122.6 456.7 122.9 468.1 116 467.2 115.7z"/>
<path color="#2b58f8" d="M444.3 129.6 445.3 129.8 456.7 122.9 455.7 122.6z"/>
<path color="#2a5fff" d="M513.8 88.3 514.8 88.9 526.2 82 525.3 81.4z"/>
<path color="#2b5eff" d="M502.4 95.2 503.3 95.8 514.8 88.9 513.8 88.3z"/>
<path color="#2b5eff" d="M491 102.1 491.9 102.7 503.3 95.8 502.4 95.2z"/>
<path color="#2960ff" d="M479.5 109 480.5 109.6 491.9 102.7 491 102.1z"/>
<path color="#2763ff" d="M468.1 116 469.1 116.5 480.5 109.6 479.5 109z"/>
<path color="#2466ff" d="M456.7 122.9 457.6 123.4 469.1 116.5 468.1 116z"/>
<path color="#2368ff" d="M445.3 129.8 446.2 130.3 457.6 123.4 456.7 122.9z"/>
<path color="#2460f8" d="M514.8 88.9 515.7 89.1 527.1 82.2 526.2 82z"/>
<path color="#255ef7" d="M503.3 95.8 504.3 96 515.7 89.1 514.8 88.9z"/>
<path color="#265ef7" d="M491.9 102.7 492.9 102.9 504.3 96 503.3 95.8z"/>
<path color="#2460f7" d="M480.5 109.6 481.4 109.8 492.9 102.9 491.9 102.7z"/>
<path color="#2262f6" d="M469.1 116.5 470 116.7 481.4 109.8 480.5 109.6z"/>
<path color="#2065f6" d="M457.6 123.4 458.6 123.6 470 116.7 469.1 116.5z"/>
<path color="#1f67f5" d="M446.2 130.3 447.1 130.5 458.6 123.6 457.6 123.4z"/>
<path color="#2464fd" d="M515.7 89.1 516.7 89.5 528.1 82.6 527.1 82.2z"/>
<path color="#2661fd" d="M504.3 96 505.2 96.4 516.7 89.5 515.7 89.1z"/>
<path color="#2760fd" d="M492.9 102.9 493.8 103.3 505.2 96.4 504.3 96z"/>
<path color="#2562fc" d="M481.4 109.8 482.4 110.1 493.8 103.3 492.9 102.9z"/>
<path color="#2464fc" d="M470 116.7 470.9 117 482.4 110.1 481.4 109.8z"/>
<path color="#2266fc" d="M458.6 123.6 459.5 123.9 470.9 117 470 116.7z"/>
<path color="#2168fb" d="M447.1 130.5 448.1 130.8 459.5 123.9 458.6 123.6z"/>
<path color="#2562fc" d="M516.7 89.5 517.6 89.9 529 83 528.1 82.6z"/>
<path color="#2760fc" d="M505.2 96.4 506.2 96.7 517.6 89.9 516.7 89.5z"/>
<path color="#275ffc" d="M493.8 103.3 494.7 103.6 506.2 96.7 505.2 96.4z"/>
<path color="#2561fb" d="M482.4 110.1 483.3 110.5 494.7 103.6 493.8 103.3z"/>
<path color="#2463fb" d="M470.9 117 471.9 117.4 483.3 110.5 482.4 110.1z"/>
<path color="#2364fa" d="M459.5 123.9 460.5 124.2 471.9 117.4 470.9 117z"/>
<path color="#2166fa" d="M448.1 130.8 449 131.1 460.5 124.2 459.5 123.9z"/>
<path color="#2562fa" d="M517.6 89.9 518.5 90.2 530 83.3 529 83z"/>
<path color="#265ffa" d="M506.2 96.7 507.1 97 518.5 90.2 517.6 89.9z"/>
<path color="#275efa" d="M494.7 103.6 495.7 103.9 507.1 97 506.2 96.7z"/>
<path color="#265ff9" d="M483.3 110.5 484.3 110.7 495.7 103.9 494.7 103.6z"/>
<path color="#2561f9" d="M471.9 117.4 472.8 117.6 484.3 110.7 483.3 110.5z"/>
<path color="#2362f8" d="M460.5 124.2 461.4 124.5 472.8 117.6 471.9 117.4z"/>
<path color="#2263f8" d="M449 131.1 450 131.3 461.4 124.5 460.5 124.2z"/>
<path color="#2661fd" d="M518.5 90.2 519.5 90.6 530.9 83.7 530 83.3z"/>
<path color="#275ffd" d="M507.1 97 508.1 97.4 519.5 90.6 518.5 90.2z"/>
<path color="#285efc" d="M495.7 103.9 496.6 104.3 508.1 97.4 507.1 97z"/>
<path color="#275ffc" d="M484.3 110.7 485.2 111.1 496.6 104.3 495.7 103.9z"/>
<path color="#2660fc" d="M472.8 117.6 473.8 118 485.2 111.1 484.3 110.7z"/>
<path color="#2561fb" d="M461.4 124.5 462.3 124.8 473.8 118 472.8 117.6z"/>
<path color="#2462fb" d="M450 131.3 450.9 131.7 462.3 124.8 461.4 124.5z"/>
<path color="#2b59fc" d="M519.5 90.6 520.4 90.9 531.9 84.1 530.9 83.7z"/>
<path color="#2b59fb" d="M508.1 97.4 509 97.7 520.4 90.9 519.5 90.6z"/>
<path color="#2b58fb" d="M496.6 104.3 497.6 104.6 509 97.7 508.1 97.4z"/>
<path color="#2b59fa" d="M485.2 111.1 486.1 111.4 497.6 104.6 496.6 104.3z"/>
<path color="#2a5afa" d="M473.8 118 474.7 118.3 486.1 111.4 485.2 111.1z"/>
<path color="#295bfa" d="M462.3 124.8 463.3 125.1 474.7 118.3 473.8 118z"/>
<path color="#285cf9" d="M450.9 131.7 451.9 131.9 463.3 125.1 462.3 124.8z"/>
<path color="#3244f3" d="M520.4 90.9 521.4 91.3 532.8 84.5 531.9 84.1z"/>
<path color="#3244f3" d="M509 97.7 509.9 98.1 521.4 91.3 520.4 90.9z"/>
<path color="#3243f2" d="M497.6 104.6 498.5 105 509.9 98.1 509 97.7z"/>
<path color="#3244f2" d="M486.1 111.4 487.1 111.8 498.5 105 497.6 104.6z"/>
<path color="#3145f3" d="M474.7 118.3 475.7 118.6 487.1 111.8 486.1 111.4z"/>
<path color="#3146f3" d="M463.3 125.1 464.2 125.4 475.7 118.6 474.7 118.3z"/>
<path color="#3146f3" d="M451.9 131.9 452.8 132.3 464.2 125.4 463.3 125.1z"/>
</g>
<polygon points="320.8,96.5 321.7,96.7 322.7,97 323.6,97.3 324.6,97.4 325.5,97.7 326.5,97.9 327.4,98.2 328.3,98.4 329.3,98.7 330.2,99 331.2,99.3 332.1,99.3 333.1,99.4 334,99.1 334.9,98.9 335.9,99 336.8,99.4 337.8,100.1 338.7,100.8 339.7,101.1 340.6,101.4 341.5,101.7 342.5,101.7 343.4,101.3 344.4,101.2 345.3,101.6 346.3,102.2 347.2,102.8 348.1,103.3 349.1,103.7 350,103.9 351,104 351.9,104.3 352.9,104.7 353.8,104.7 354.7,104.8 355.7,105.2 356.6,105.1 357.6,104.7 358.5,104.4 359.5,104.8 360.4,105.6 361.3,106.3 362.3,106.6 363.2,107.1 364.2,107.4 365.1,107.4 366.1,107.3 367,107 367.9,107.2 368.9,107.8 369.8,108.3 370.8,108.9 371.7,109.3 372.7,109.6 373.6,109.9 374.5,110.1 375.5,110.3 376.4,110.7 377.4,110.8 378.3,111 379.3,111.3 380.2,111.4 381.1,111.6 382.1,112 383,112.2 384,112.5 384.9,112.6 385.9,112.8 386.8,112.9 387.7,112.7 388.7,112.3 389.6,112.3 390.6,112.7 391.5,113.3 392.5,113.8 393.4,114.4 394.3,114.9 395.3,115.2 396.2,115.5 397.2,115.9 398.1,116.1 399.1,116.4 400,116.6 400.9,116.8 401.9,117 402.8,117.1 403.8,116.9 404.7,116.5 405.7,116.2 406.6,115.8 407.5,115 408.5,113.9 409.4,112.8 410.4,112.5 411.3,112.4 412.3,112.9 413.2,113.4 414.1,114.4 415.1,115 416,115.6 417,116.4 417.9,116.9 418.9,117.6 419.8,118.1 420.7,118.7 421.7,119.4 422.6,119.9 423.6,120.5 424.5,121 425.5,121.5 426.4,122.2 427.3,122.5 428.3,122.9 429.2,123.4 430.2,123.7 431.1,124.1 432.1,124.7 433,125.1 433.9,125.5 434.9,125.9 435.8,126.4 436.8,126.8 437.7,127.2 438.7,127.7 439.6,128.1 440.5,128.3 441.5,128.6 442.4,129 443.4,129.3 444.3,129.6 445.3,129.8 446.2,130.3 447.1,130.5 448.1,130.8 449,131.1 450,131.3 450.9,131.7 451.9,131.9 452.8,132.3 452.8,132.9 451.9,132.7 450.9,132.4 450,132.2 449,131.9 448.1,131.7 447.1,131.5 446.2,131.2 445.3,131 444.3,130.7 443.4,130.5 442.4,130.3 441.5,130 440.5,129.8 439.6,129.6 438.7,129.3 437.7,129.1 436.8,128.8 435.8,128.6 434.9,128.4 433.9,128.1 433,127.9 432.1,127.6 431.1,127.4 430.2,127.2 429.2,126.9 428.3,126.7 427.3,126.4 426.4,126.2 425.5,126 424.5,125.7 423.6,125.5 422.6,125.2 421.7,125 420.7,124.8 419.8,124.5 418.9,124.3 417.9,124 417,123.8 416,123.6 415.1,123.3 414.1,123.1 413.2,122.9 412.3,122.6 411.3,122.4 410.4,122.1 409.4,121.9 408.5,121.7 407.5,121.4 406.6,121.2 405.7,120.9 404.7,120.7 403.8,120.5 402.8,120.2 401.9,120 400.9,119.7 400,119.5 399.1,119.3 398.1,119 397.2,118.8 396.2,118.5 395.3,118.3 394.3,118.1 393.4,117.8 392.5,117.6 391.5,117.3 390.6,117.1 389.6,116.9 388.7,116.6 387.7,116.4 386.8,116.2 385.9,115.9 384.9,115.7 384,115.4 383,115.2 382.1,115 381.1,114.7 380.2,114.5 379.3,114.2 378.3,114 377.4,113.8 376.4,113.5 375.5,113.3 374.5,113 373.6,112.8 372.7,112.6 371.7,112.3 370.8,112.1 369.8,111.8 368.9,111.6 367.9,111.4 367,111.1 366.1,110.9 365.1,110.6 364.2,110.4 363.2,110.2 362.3,109.9 361.3,109.7 360.4,109.5 359.5,109.2 358.5,109 357.6,108.7 356.6,108.5 355.7,108.3 354.7,108 353.8,107.8 352.9,107.5 351.9,107.3 351,107.1 350,106.8 349.1,106.6 348.1,106.3 347.2,106.1 346.3,105.9 345.3,105.6 344.4,105.4 343.4,105.1 342.5,104.9 341.5,104.7 340.6,104.4 339.7,104.2 338.7,103.9 337.8,103.7 336.8,103.5 335.9,103.2 334.9,103 334,102.8 333.1,102.5 332.1,102.3 331.2,102 330.2,101.8 329.3,101.6 328.3,101.3 327.4,101.1 326.5,100.8 325.5,100.6 324.6,100.4 323.6,100.1 322.7,99.9 321.7,99.6 320.8,99.4" fill="#000"/>
<polygon points="452.8,132.3 454.8,131.1 456.8,129.9 458.8,128.7 460.8,127.5 462.8,126.3 464.8,125.1 466.8,123.9 468.8,122.7 470.8,121.5 472.8,120.3 474.8,119.1 476.8,117.9 478.8,116.7 480.8,115.5 482.8,114.3 484.8,113.1 486.8,112 488.8,110.8 490.8,109.6 492.8,108.4 494.8,107.2 496.8,106 498.8,104.8 500.8,103.6 502.8,102.4 504.8,101.2 506.8,100 508.8,98.8 510.8,97.6 512.8,96.4 514.8,95.2 516.8,94 518.8,92.8 520.8,91.6 522.8,90.5 524.8,89.3 526.8,88.1 528.8,86.9 530.8,85.7 532.8,84.5 532.8,87.3 530.8,88.5 528.8,89.6 526.8,90.8 524.8,91.9 522.8,93 520.8,94.2 518.8,95.3 516.8,96.5 514.8,97.6 512.8,98.7 510.8,99.9 508.8,101 506.8,102.1 504.8,103.3 502.8,104.4 500.8,105.6 498.8,106.7 496.8,107.8 494.8,109 492.8,110.1 490.8,111.3 488.8,112.4 486.8,113.5 484.8,114.7 482.8,115.8 480.8,117 478.8,118.1 476.8,119.2 474.8,120.4 472.8,121.5 470.8,122.6 468.8,123.8 466.8,124.9 464.8,126.1 462.8,127.2 460.8,128.3 458.8,129.5 456.8,130.6 454.8,131.8 452.8,132.9" fill="#000"/>
<path d="M31.4 276.5L31.4 238.5M36.5 273.4L36.5 235.4M41.7 270.2L41.7 232.2M46.8 267.1L46.8 229.1M52 263.9L52 225.9M57.1 260.8L57.1 222.8M62.2 257.7L62.2 219.7M67.4 254.5L67.4 216.5M72.5 251.4L72.5 213.4M77.7 248.2L77.7 210.2M82.8 245.1L82.8 207.1M87.9 242L87.9 204M93.1 238.8L93.1 200.8M98.2 235.7L98.2 197.7M103.3 232.6L103.3 194.6M108.5 229.4L108.5 191.4M113.6 226.3L113.6 188.3M118.8 223.1L118.8 185.1M123.9 220L123.9 182M31.4 276.5L123.9 220M31.4 272.7L123.9 216.2M31.4 268.9L123.9 212.4M31.4 265.1L123.9 208.6M31.4 261.3L123.9 204.8M31.4 257.5L123.9 201M31.4 253.7L123.9 197.2M31.4 249.9L123.9 193.4M31.4 246.1L123.9 189.6M31.4 242.3L123.9 185.8M31.4 238.5L123.9 182M123.9 220L123.9 182M137.5 223.8L137.5 185.8M151.1 227.6L151.1 189.6M164.6 231.4L164.6 193.4M178.2 235.2L178.2 197.2M191.8 239L191.8 201M205.4 242.8L205.4 204.8M219 246.6L219 208.6M232.5 250.4L232.5 212.4M246.1 254.2L246.1 216.2M259.7 258L259.7 220M123.9 220L259.7 258M123.9 216.2L259.7 254.2M123.9 212.4L259.7 250.4M123.9 208.6L259.7 246.6M123.9 204.8L259.7 242.8M123.9 201L259.7 239M123.9 197.2L259.7 235.2M123.9 193.4L259.7 231.4M123.9 189.6L259.7 227.6M123.9 185.8L259.7 223.8M123.9 182L259.7 220" fill="none" stroke="#cdcdcd" stroke-width="0.5"/>
<polygon points="31.4,243.3 31.4,276.5 58.7,257.4" fill="url(#triA)"/>
<g fill="currentColor" stroke="currentColor" stroke-width="0.35" stroke-linejoin="round">
<path color="#2d1e97" d="M105.2 227.3 106.2 227.5 116.7 220.9 115.8 220.7z"/>
<path color="#2c1c92" d="M94.7 233.9 95.6 234.1 106.2 227.5 105.2 227.3z"/>
<path color="#2c1c90" d="M84.1 240.5 85.1 240.7 95.6 234.1 94.7 233.9z"/>
<path color="#2c1c90" d="M73.6 247.1 74.5 247.3 85.1 240.7 84.1 240.5z"/>
<path color="#2c1c90" d="M63 253.7 64 253.9 74.5 247.3 73.6 247.1z"/>
<path color="#2c1c90" d="M52.5 260.3 53.5 260.5 64 253.9 63 253.7z"/>
<path color="#2c1c90" d="M41.9 266.9 42.9 267.1 53.5 260.5 52.5 260.3z"/>
<path color="#2c1c90" d="M31.4 273.5 32.4 273.7 42.9 267.1 41.9 266.9z"/>
<path color="#2e1f9d" d="M106.2 227.5 107.2 227.7 117.7 221.1 116.7 220.9z"/>
<path color="#2d1e98" d="M95.6 234.1 96.6 234.3 107.2 227.7 106.2 227.5z"/>
<path color="#2c1d94" d="M85.1 240.7 86.1 240.9 96.6 234.3 95.6 234.1z"/>
<path color="#2c1c90" d="M74.5 247.3 75.5 247.5 86.1 240.9 85.1 240.7z"/>
<path color="#2c1c90" d="M64 253.9 65 254.1 75.5 247.5 74.5 247.3z"/>
<path color="#2c1c90" d="M53.5 260.5 54.4 260.7 65 254.1 64 253.9z"/>
<path color="#2c1c90" d="M42.9 267.1 43.9 267.3 54.4 260.7 53.5 260.5z"/>
<path color="#2c1c90" d="M32.4 273.7 33.3 274 43.9 267.3 42.9 267.1z"/>
<path color="#2e20a0" d="M107.2 227.7 108.1 227.7 118.7 221.1 117.7 221.1z"/>
<path color="#2d1f9b" d="M96.6 234.3 97.6 234.3 108.1 227.7 107.2 227.7z"/>
<path color="#2c1e97" d="M86.1 240.9 87 240.9 97.6 234.3 96.6 234.3z"/>
<path color="#2c1d93" d="M75.5 247.5 76.5 247.5 87 240.9 86.1 240.9z"/>
<path color="#2b1c8f" d="M65 254.1 65.9 254.1 76.5 247.5 75.5 247.5z"/>
<path color="#2a1b8b" d="M54.4 260.7 55.4 260.7 65.9 254.1 65 254.1z"/>
<path color="#2a1b8b" d="M43.9 267.3 44.9 267.3 55.4 260.7 54.4 260.7z"/>
<path color="#2a1b8b" d="M33.3 274 34.3 273.9 44.9 267.3 43.9 267.3z"/>
<path color="#2f23ab" d="M108.1 227.7 109.1 227.4 119.6 220.8 118.7 221.1z"/>
<path color="#2e22a7" d="M97.6 234.3 98.6 234 109.1 227.4 108.1 227.7z"/>
<path color="#2e21a3" d="M87 240.9 88 240.6 98.6 234 97.6 234.3z"/>
<path color="#2d209f" d="M76.5 247.5 77.5 247.2 88 240.6 87 240.9z"/>
<path color="#2c1f9a" d="M65.9 254.1 66.9 253.8 77.5 247.2 76.5 247.5z"/>
<path color="#2b1e96" d="M55.4 260.7 56.4 260.3 66.9 253.8 65.9 254.1z"/>
<path color="#2b1d92" d="M44.9 267.3 45.8 266.9 56.4 260.3 55.4 260.7z"/>
<path color="#2a1c8e" d="M34.3 273.9 35.3 273.5 45.8 266.9 44.9 267.3z"/>
<path color="#312cc4" d="M109.1 227.4 110.1 227.4 120.6 220.8 119.6 220.8z"/>
<path color="#312bc1" d="M98.6 234 99.5 233.9 110.1 227.4 109.1 227.4z"/>
<path color="#3229bd" d="M88 240.6 89 240.5 99.5 233.9 98.6 234z"/>
<path color="#3227ba" d="M77.5 247.2 78.4 247.1 89 240.5 88 240.6z"/>
<path color="#3126b6" d="M66.9 253.8 67.9 253.7 78.4 247.1 77.5 247.2z"/>
<path color="#3125b3" d="M56.4 260.3 57.3 260.2 67.9 253.7 66.9 253.8z"/>
<path color="#3024af" d="M45.8 266.9 46.8 266.8 57.3 260.2 56.4 260.3z"/>
<path color="#3023ab" d="M35.3 273.5 36.2 273.4 46.8 266.8 45.8 266.9z"/>
<path color="#3534de" d="M110.1 227.4 111 228 121.6 221.4 120.6 220.8z"/>
<path color="#3633db" d="M99.5 233.9 100.5 234.6 111 228 110.1 227.4z"/>
<path color="#3631d7" d="M89 240.5 89.9 241.2 100.5 234.6 99.5 233.9z"/>
<path color="#362fd4" d="M78.4 247.1 79.4 247.8 89.9 241.2 89 240.5z"/>
<path color="#372dd1" d="M67.9 253.7 68.9 254.4 79.4 247.8 78.4 247.1z"/>
<path color="#372bcd" d="M57.3 260.2 58.3 261 68.9 254.4 67.9 253.7z"/>
<path color="#372aca" d="M46.8 266.8 47.8 267.6 58.3 261 57.3 260.2z"/>
<path color="#3629c6" d="M36.2 273.4 37.2 274.2 47.8 267.6 46.8 266.8z"/>
<path color="#3339e5" d="M111 228 112 228.4 122.5 221.8 121.6 221.4z"/>
<path color="#3437e1" d="M100.5 234.6 101.5 235.1 112 228.4 111 228z"/>
<path color="#3435dd" d="M89.9 241.2 90.9 241.7 101.5 235.1 100.5 234.6z"/>
<path color="#3433d9" d="M79.4 247.8 80.4 248.3 90.9 241.7 89.9 241.2z"/>
<path color="#3531d6" d="M68.9 254.4 69.8 254.9 80.4 248.3 79.4 247.8z"/>
<path color="#352fd2" d="M58.3 261 59.3 261.5 69.8 254.9 68.9 254.4z"/>
<path color="#352dce" d="M47.8 267.6 48.7 268.1 59.3 261.5 58.3 261z"/>
<path color="#362bcb" d="M37.2 274.2 38.2 274.7 48.7 268.1 47.8 267.6z"/>
<path color="#323be6" d="M112 228.4 113 228.7 123.5 222.1 122.5 221.8z"/>
<path color="#3339e2" d="M101.5 235.1 102.4 235.3 113 228.7 112 228.4z"/>
<path color="#3337dd" d="M90.9 241.7 91.9 242 102.4 235.3 101.5 235.1z"/>
<path color="#3334d9" d="M80.4 248.3 81.3 248.6 91.9 242 90.9 241.7z"/>
<path color="#3332d4" d="M69.8 254.9 70.8 255.2 81.3 248.6 80.4 248.3z"/>
<path color="#3330d0" d="M59.3 261.5 60.2 261.8 70.8 255.2 69.8 254.9z"/>
<path color="#342ecc" d="M48.7 268.1 49.7 268.4 60.2 261.8 59.3 261.5z"/>
<path color="#342cc9" d="M38.2 274.7 39.2 275 49.7 268.4 48.7 268.1z"/>
<path color="#2d3fdd" d="M113 228.7 113.9 228.4 124.5 221.8 123.5 222.1z"/>
<path color="#2d3cdb" d="M102.4 235.3 103.4 235 113.9 228.4 113 228.7z"/>
<path color="#2e3ada" d="M91.9 242 92.9 241.6 103.4 235 102.4 235.3z"/>
<path color="#2e38d6" d="M81.3 248.6 82.3 248.2 92.9 241.6 91.9 242z"/>
<path color="#2e36d2" d="M70.8 255.2 71.8 254.8 82.3 248.2 81.3 248.6z"/>
<path color="#2e34ce" d="M60.2 261.8 61.2 261.3 71.8 254.8 70.8 255.2z"/>
<path color="#2e32c9" d="M49.7 268.4 50.7 267.9 61.2 261.3 60.2 261.8z"/>
<path color="#2e30c5" d="M39.2 275 40.1 274.5 50.7 267.9 49.7 268.4z"/>
<path color="#284fe3" d="M113.9 228.4 114.9 228 125.5 221.4 124.5 221.8z"/>
<path color="#284de1" d="M103.4 235 104.4 234.5 114.9 228 113.9 228.4z"/>
<path color="#294be0" d="M92.9 241.6 93.8 241.1 104.4 234.5 103.4 235z"/>
<path color="#2949de" d="M82.3 248.2 83.3 247.7 93.8 241.1 92.9 241.6z"/>
<path color="#2947dd" d="M71.8 254.8 72.7 254.2 83.3 247.7 82.3 248.2z"/>
<path color="#2a45dc" d="M61.2 261.3 62.2 260.8 72.7 254.2 71.8 254.8z"/>
<path color="#2a43da" d="M50.7 267.9 51.6 267.4 62.2 260.8 61.2 261.3z"/>
<path color="#2a41d9" d="M40.1 274.5 41.1 274 51.6 267.4 50.7 267.9z"/>
<path color="#2461f9" d="M114.9 228 115.9 228.3 126.4 221.7 125.5 221.4z"/>
<path color="#2560f9" d="M104.4 234.5 105.3 234.8 115.9 228.3 114.9 228z"/>
<path color="#265ff9" d="M93.8 241.1 94.8 241.4 105.3 234.8 104.4 234.5z"/>
<path color="#275df9" d="M83.3 247.7 84.2 248 94.8 241.4 93.8 241.1z"/>
<path color="#285cf9" d="M72.7 254.2 73.7 254.6 84.2 248 83.3 247.7z"/>
<path color="#295bfa" d="M62.2 260.8 63.2 261.1 73.7 254.6 72.7 254.2z"/>
<path color="#2b59fa" d="M51.6 267.4 52.6 267.7 63.2 261.1 62.2 260.8z"/>
<path color="#2c58fa" d="M41.1 274 42.1 274.3 52.6 267.7 51.6 267.4z"/>
<path color="#2356e4" d="M115.9 228.3 116.9 227.9 127.4 221.3 126.4 221.7z"/>
<path color="#2455e3" d="M105.3 234.8 106.3 234.4 116.9 227.9 115.9 228.3z"/>
<path color="#2553e2" d="M94.8 241.4 95.8 241 106.3 234.4 105.3 234.8z"/>
<path color="#2552e2" d="M84.2 248 85.2 247.5 95.8 241 94.8 241.4z"/>
<path color="#2650e1" d="M73.7 254.6 74.7 254.1 85.2 247.5 84.2 248z"/>
<path color="#274ee0" d="M63.2 261.1 64.1 260.6 74.7 254.1 73.7 254.6z"/>
<path color="#284ddf" d="M52.6 267.7 53.6 267.2 64.1 260.6 63.2 261.1z"/>
<path color="#284bdd" d="M42.1 274.3 43 273.7 53.6 267.2 52.6 267.7z"/>
<path color="#1151ad" d="M116.9 227.9 117.8 225.6 128.4 219.2 127.4 221.3z"/>
<path color="#104faa" d="M106.3 234.4 107.3 232.1 117.8 225.6 116.9 227.9z"/>
<path color="#104da6" d="M95.8 241 96.7 238.5 107.3 232.1 106.3 234.4z"/>
<path color="#104ba3" d="M85.2 247.5 86.2 245 96.7 238.5 95.8 241z"/>
<path color="#1049a0" d="M74.7 254.1 75.6 251.4 86.2 245 85.2 247.5z"/>
<path color="#10479d" d="M64.1 260.6 65.1 257.9 75.6 251.4 74.7 254.1z"/>
<path color="#10459a" d="M53.6 267.2 54.6 264.3 65.1 257.9 64.1 260.6z"/>
<path color="#104497" d="M43 273.7 44 270.8 54.6 264.3 53.6 267.2z"/>
<path color="#0e78cd" d="M117.8 225.6 118.8 224.6 129.3 218.2 128.4 219.2z"/>
<path color="#0e77cc" d="M107.3 232.1 108.2 231 118.8 224.6 117.8 225.6z"/>
<path color="#0e77ca" d="M96.7 238.5 97.7 237.3 108.2 231 107.3 232.1z"/>
<path color="#0d76c8" d="M86.2 245 87.2 243.7 97.7 237.3 96.7 238.5z"/>
<path color="#0d75c7" d="M75.6 251.4 76.6 250.1 87.2 243.7 86.2 245z"/>
<path color="#0d75c5" d="M65.1 257.9 66.1 256.5 76.6 250.1 75.6 251.4z"/>
<path color="#0d74c3" d="M54.6 264.3 55.5 262.9 66.1 256.5 65.1 257.9z"/>
<path color="#0d73c2" d="M44 270.8 45 269.3 55.5 262.9 54.6 264.3z"/>
<path color="#1198ff" d="M118.8 224.6 119.8 225.3 130.3 218.9 129.3 218.2z"/>
<path color="#1199ff" d="M108.2 231 109.2 231.7 119.8 225.3 118.8 224.6z"/>
<path color="#119aff" d="M97.7 237.3 98.7 238.1 109.2 231.7 108.2 231z"/>
<path color="#119bff" d="M87.2 243.7 88.1 244.5 98.7 238.1 97.7 237.3z"/>
<path color="#119cff" d="M76.6 250.1 77.6 250.9 88.1 244.5 87.2 243.7z"/>
<path color="#119cff" d="M66.1 256.5 67 257.4 77.6 250.9 76.6 250.1z"/>
<path color="#119dff" d="M55.5 262.9 56.5 263.8 67 257.4 66.1 256.5z"/>
<path color="#119eff" d="M45 269.3 46 270.2 56.5 263.8 55.5 262.9z"/>
<path color="#1598ff" d="M119.8 225.3 120.7 226.8 131.3 220.3 130.3 218.9z"/>
<path color="#1598ff" d="M109.2 231.7 110.2 233.3 120.7 226.8 119.8 225.3z"/>
<path color="#1598ff" d="M98.7 238.1 99.6 239.7 110.2 233.3 109.2 231.7z"/>
<path color="#1598ff" d="M88.1 244.5 89.1 246.2 99.6 239.7 98.7 238.1z"/>
<path color="#1598ff" d="M77.6 250.9 78.6 252.7 89.1 246.2 88.1 244.5z"/>
<path color="#1598ff" d="M67 257.4 68 259.1 78.6 252.7 77.6 250.9z"/>
<path color="#1598ff" d="M56.5 263.8 57.5 265.6 68 259.1 67 257.4z"/>
<path color="#1598ff" d="M46 270.2 46.9 272.1 57.5 265.6 56.5 263.8z"/>
<path color="#1988ff" d="M120.7 226.8 121.7 228.3 132.2 221.8 131.3 220.3z"/>
<path color="#1988ff" d="M110.2 233.3 111.2 234.9 121.7 228.3 120.7 226.8z"/>
<path color="#1a87ff" d="M99.6 239.7 100.6 241.4 111.2 234.9 110.2 233.3z"/>
<path color="#1a86ff" d="M89.1 246.2 90.1 247.9 100.6 241.4 99.6 239.7z"/>
<path color="#1a85ff" d="M78.6 252.7 79.5 254.5 90.1 247.9 89.1 246.2z"/>
<path color="#1a85ff" d="M68 259.1 69 261 79.5 254.5 78.6 252.7z"/>
<path color="#1a84ff" d="M57.5 265.6 58.4 267.5 69 261 68 259.1z"/>
<path color="#1b83ff" d="M46.9 272.1 47.9 274 58.4 267.5 57.5 265.6z"/>
<path color="#2177ff" d="M121.7 228.3 122.7 229.8 133.2 223.2 132.2 221.8z"/>
<path color="#2276ff" d="M111.2 234.9 112.1 236.4 122.7 229.8 121.7 228.3z"/>
<path color="#2275ff" d="M100.6 241.4 101.6 242.9 112.1 236.4 111.2 234.9z"/>
<path color="#2373ff" d="M90.1 247.9 91 249.5 101.6 242.9 100.6 241.4z"/>
<path color="#2472ff" d="M79.5 254.5 80.5 256.1 91 249.5 90.1 247.9z"/>
<path color="#2571ff" d="M69 261 70 262.7 80.5 256.1 79.5 254.5z"/>
<path color="#2670ff" d="M58.4 267.5 59.4 269.3 70 262.7 69 261z"/>
<path color="#276eff" d="M47.9 274 48.9 275.8 59.4 269.3 58.4 267.5z"/>
<path color="#2866ff" d="M122.7 229.8 123.6 230.7 134.2 224.1 133.2 223.2z"/>
<path color="#2965ff" d="M112.1 236.4 113.1 237.3 123.6 230.7 122.7 229.8z"/>
<path color="#2b64ff" d="M101.6 242.9 102.6 243.9 113.1 237.3 112.1 236.4z"/>
<path color="#2c62ff" d="M91 249.5 92 250.5 102.6 243.9 101.6 242.9z"/>
<path color="#2e61ff" d="M80.5 256.1 81.5 257.1 92 250.5 91 249.5z"/>
<path color="#305fff" d="M70 262.7 70.9 263.7 81.5 257.1 80.5 256.1z"/>
<path color="#315dff" d="M59.4 269.3 60.4 270.4 70.9 263.7 70 262.7z"/>
<path color="#325bff" d="M48.9 275.8 49.8 277 60.4 270.4 59.4 269.3z"/>
<path color="#2a5eff" d="M123.6 230.7 124.6 231.3 135.2 224.6 134.2 224.1z"/>
<path color="#2c5cff" d="M113.1 237.3 114.1 237.9 124.6 231.3 123.6 230.7z"/>
<path color="#2e5aff" d="M102.6 243.9 103.5 244.5 114.1 237.9 113.1 237.3z"/>
<path color="#2f58ff" d="M92 250.5 93 251.2 103.5 244.5 102.6 243.9z"/>
<path color="#2f55ff" d="M81.5 257.1 82.4 257.8 93 251.2 92 250.5z"/>
<path color="#3053ff" d="M70.9 263.7 71.9 264.4 82.4 257.8 81.5 257.1z"/>
<path color="#3150ff" d="M60.4 270.4 61.3 271.1 71.9 264.4 70.9 263.7z"/>
<path color="#324eff" d="M49.8 277 50.8 277.7 61.3 271.1 60.4 270.4z"/>
<path color="#2a5cff" d="M124.6 231.3 125.6 231.8 136.1 225.1 135.2 224.6z"/>
<path color="#2c5aff" d="M114.1 237.9 115 238.4 125.6 231.8 124.6 231.3z"/>
<path color="#2d58ff" d="M103.5 244.5 104.5 245.1 115 238.4 114.1 237.9z"/>
<path color="#2e55fe" d="M93 251.2 93.9 251.7 104.5 245.1 103.5 244.5z"/>
<path color="#2f52fd" d="M82.4 257.8 83.4 258.3 93.9 251.7 93 251.2z"/>
<path color="#3050fc" d="M71.9 264.4 72.9 265 83.4 258.3 82.4 257.8z"/>
<path color="#304dfa" d="M61.3 271.1 62.3 271.6 72.9 265 71.9 264.4z"/>
<path color="#314af9" d="M50.8 277.7 51.8 278.3 62.3 271.6 61.3 271.1z"/>
<path color="#275df7" d="M125.6 231.8 126.6 232 137.1 225.4 136.1 225.1z"/>
<path color="#285bf7" d="M115 238.4 116 238.7 126.6 232 125.6 231.8z"/>
<path color="#2a58f8" d="M104.5 245.1 105.5 245.3 116 238.7 115 238.4z"/>
<path color="#2c56f8" d="M93.9 251.7 94.9 252 105.5 245.3 104.5 245.1z"/>
<path color="#2d53f7" d="M83.4 258.3 84.4 258.6 94.9 252 93.9 251.7z"/>
<path color="#2d51f5" d="M72.9 265 73.8 265.3 84.4 258.6 83.4 258.3z"/>
<path color="#2e4ef4" d="M62.3 271.6 63.3 271.9 73.8 265.3 72.9 265z"/>
<path color="#2f4bf3" d="M51.8 278.3 52.7 278.5 63.3 271.9 62.3 271.6z"/>
<path color="#2560f8" d="M126.6 232 127.5 232.3 138.1 225.7 137.1 225.4z"/>
<path color="#275df8" d="M116 238.7 117 238.9 127.5 232.3 126.6 232z"/>
<path color="#285bf8" d="M105.5 245.3 106.4 245.6 117 238.9 116 238.7z"/>
<path color="#2a59f8" d="M94.9 252 95.9 252.2 106.4 245.6 105.5 245.3z"/>
<path color="#2c56f8" d="M84.4 258.6 85.3 258.9 95.9 252.2 94.9 252z"/>
<path color="#2d54f7" d="M73.8 265.3 74.8 265.5 85.3 258.9 84.4 258.6z"/>
<path color="#2d51f6" d="M63.3 271.9 64.3 272.2 74.8 265.5 73.8 265.3z"/>
<path color="#2e4ef4" d="M52.7 278.5 53.7 278.8 64.3 272.2 63.3 271.9z"/>
<path color="#265ef8" d="M127.5 232.3 128.5 232.6 139 225.9 138.1 225.7z"/>
<path color="#285cf8" d="M117 238.9 118 239.2 128.5 232.6 127.5 232.3z"/>
<path color="#2a59f8" d="M106.4 245.6 107.4 245.9 118 239.2 117 238.9z"/>
<path color="#2b57f8" d="M95.9 252.2 96.9 252.5 107.4 245.9 106.4 245.6z"/>
<path color="#2c54f7" d="M85.3 258.9 86.3 259.2 96.9 252.5 95.9 252.2z"/>
<path color="#2d51f6" d="M74.8 265.5 75.8 265.8 86.3 259.2 85.3 258.9z"/>
<path color="#2e4ff4" d="M64.3 272.2 65.2 272.5 75.8 265.8 74.8 265.5z"/>
<path color="#2f4cf3" d="M53.7 278.8 54.7 279.1 65.2 272.5 64.3 272.2z"/>
<path color="#285ffe" d="M128.5 232.6 129.5 233 140 226.4 139 225.9z"/>
<path color="#2a5dfe" d="M118 239.2 118.9 239.7 129.5 233 128.5 232.6z"/>
<path color="#2b5bfe" d="M107.4 245.9 108.4 246.3 118.9 239.7 118 239.2z"/>
<path color="#2d58fe" d="M96.9 252.5 97.8 253 108.4 246.3 107.4 245.9z"/>
<path color="#2e55fd" d="M86.3 259.2 87.3 259.6 97.8 253 96.9 252.5z"/>
<path color="#2f52fb" d="M75.8 265.8 76.7 266.3 87.3 259.6 86.3 259.2z"/>
<path color="#2f4ffa" d="M65.2 272.5 66.2 272.9 76.7 266.3 75.8 265.8z"/>
<path color="#304df9" d="M54.7 279.1 55.7 279.6 66.2 272.9 65.2 272.5z"/>
<path color="#196aee" d="M129.5 233 130.4 233 141 226.3 140 226.4z"/>
<path color="#1b68ee" d="M118.9 239.7 119.9 239.6 130.4 233 129.5 233z"/>
<path color="#1c66ee" d="M108.4 246.3 109.3 246.3 119.9 239.6 118.9 239.7z"/>
<path color="#1e64ee" d="M97.8 253 98.8 252.9 109.3 246.3 108.4 246.3z"/>
<path color="#2061ee" d="M87.3 259.6 88.3 259.6 98.8 252.9 97.8 253z"/>
<path color="#215fee" d="M76.7 266.3 77.7 266.2 88.3 259.6 87.3 259.6z"/>
<path color="#235dee" d="M66.2 272.9 67.2 272.9 77.7 266.2 76.7 266.3z"/>
<path color="#245bef" d="M55.7 279.6 56.6 279.5 67.2 272.9 66.2 272.9z"/>
<path color="#1388f8" d="M130.4 233 131.4 233.3 141.9 226.7 141 226.3z"/>
<path color="#1485f9" d="M119.9 239.6 120.9 240 131.4 233.3 130.4 233z"/>
<path color="#1583f9" d="M109.3 246.3 110.3 246.6 120.9 240 119.9 239.6z"/>
<path color="#1580f9" d="M98.8 252.9 99.8 253.3 110.3 246.6 109.3 246.3z"/>
<path color="#167df9" d="M88.3 259.6 89.2 259.9 99.8 253.3 98.8 252.9z"/>
<path color="#177afa" d="M77.7 266.2 78.7 266.6 89.2 259.9 88.3 259.6z"/>
<path color="#1877fa" d="M67.2 272.9 68.1 273.2 78.7 266.6 77.7 266.2z"/>
<path color="#1875fa" d="M56.6 279.5 57.6 279.9 68.1 273.2 67.2 272.9z"/>
<path color="#1384f4" d="M131.4 233.3 132.4 233.5 142.9 226.9 141.9 226.7z"/>
<path color="#1482f4" d="M120.9 240 121.8 240.2 132.4 233.5 131.4 233.3z"/>
<path color="#157ff4" d="M110.3 246.6 111.3 246.8 121.8 240.2 120.9 240z"/>
<path color="#157cf4" d="M99.8 253.3 100.7 253.5 111.3 246.8 110.3 246.6z"/>
<path color="#1679f5" d="M89.2 259.9 90.2 260.1 100.7 253.5 99.8 253.3z"/>
<path color="#1777f5" d="M78.7 266.6 79.7 266.8 90.2 260.1 89.2 259.9z"/>
<path color="#1774f5" d="M68.1 273.2 69.1 273.4 79.7 266.8 78.7 266.6z"/>
<path color="#1871f5" d="M57.6 279.9 58.6 280.1 69.1 273.4 68.1 273.2z"/>
<path color="#1383f0" d="M132.4 233.5 133.3 233.6 143.9 227 142.9 226.9z"/>
<path color="#1381f0" d="M121.8 240.2 122.8 240.2 133.3 233.6 132.4 233.5z"/>
<path color="#147ef0" d="M111.3 246.8 112.3 246.9 122.8 240.2 121.8 240.2z"/>
<path color="#157bf0" d="M100.7 253.5 101.7 253.5 112.3 246.9 111.3 246.8z"/>
<path color="#1578f0" d="M90.2 260.1 91.2 260.2 101.7 253.5 100.7 253.5z"/>
<path color="#1675f0" d="M79.7 266.8 80.6 266.8 91.2 260.2 90.2 260.1z"/>
<path color="#1772f0" d="M69.1 273.4 70.1 273.4 80.6 266.8 79.7 266.8z"/>
<path color="#1770f0" d="M58.6 280.1 59.5 280.1 70.1 273.4 69.1 273.4z"/>
<path color="#0e76cb" d="M133.3 233.6 134.3 232.5 144.9 225.9 143.9 227z"/>
<path color="#0e73c9" d="M122.8 240.2 123.8 239 134.3 232.5 133.3 233.6z"/>
<path color="#0f71c8" d="M112.3 246.9 113.2 245.6 123.8 239 122.8 240.2z"/>
<path color="#0f6ec6" d="M101.7 253.5 102.7 252.2 113.2 245.6 112.3 246.9z"/>
<path color="#0f6bc5" d="M91.2 260.2 92.1 258.8 102.7 252.2 101.7 253.5z"/>
<path color="#1068c3" d="M80.6 266.8 81.6 265.4 92.1 258.8 91.2 260.2z"/>
<path color="#1066c2" d="M70.1 273.4 71 271.9 81.6 265.4 80.6 266.8z"/>
<path color="#1063c0" d="M59.5 280.1 60.5 278.5 71 271.9 70.1 273.4z"/>
<path color="#0b78b4" d="M134.3 232.5 135.3 230.5 145.8 224.1 144.9 225.9z"/>
<path color="#0b76b1" d="M123.8 239 124.7 237 135.3 230.5 134.3 232.5z"/>
<path color="#0b73ae" d="M113.2 245.6 114.2 243.5 124.7 237 123.8 239z"/>
<path color="#0a70ab" d="M102.7 252.2 103.7 250 114.2 243.5 113.2 245.6z"/>
<path color="#0a6da8" d="M92.1 258.8 93.1 256.4 103.7 250 102.7 252.2z"/>
<path color="#0a6aa4" d="M81.6 265.4 82.6 262.9 93.1 256.4 92.1 258.8z"/>
<path color="#0a68a1" d="M71 271.9 72 269.4 82.6 262.9 81.6 265.4z"/>
<path color="#0a659e" d="M60.5 278.5 61.5 275.9 72 269.4 71 271.9z"/>
<path color="#0eace3" d="M135.3 230.5 136.3 230.2 146.8 223.7 145.8 224.1z"/>
<path color="#0eace2" d="M124.7 237 125.7 236.6 136.3 230.2 135.3 230.5z"/>
<path color="#0eabe1" d="M114.2 243.5 115.2 243.1 125.7 236.6 124.7 237z"/>
<path color="#0eaae0" d="M103.7 250 104.6 249.5 115.2 243.1 114.2 243.5z"/>
<path color="#0eaadf" d="M93.1 256.4 94.1 256 104.6 249.5 103.7 250z"/>
<path color="#0ea9df" d="M82.6 262.9 83.5 262.4 94.1 256 93.1 256.4z"/>
<path color="#0ea8de" d="M72 269.4 73 268.9 83.5 262.4 82.6 262.9z"/>
<path color="#0ea8dd" d="M61.5 275.9 62.4 275.3 73 268.9 72 269.4z"/>
<path color="#11d1ff" d="M136.3 230.2 137.2 231.5 147.8 225 146.8 223.7z"/>
<path color="#11d0ff" d="M125.7 236.6 126.7 238 137.2 231.5 136.3 230.2z"/>
<path color="#11d0ff" d="M115.2 243.1 116.1 244.5 126.7 238 125.7 236.6z"/>
<path color="#11d0ff" d="M104.6 249.5 105.6 251 116.1 244.5 115.2 243.1z"/>
<path color="#11cfff" d="M94.1 256 95 257.5 105.6 251 104.6 249.5z"/>
<path color="#11cfff" d="M83.5 262.4 84.5 264 95 257.5 94.1 256z"/>
<path color="#11ceff" d="M73 268.9 74 270.5 84.5 264 83.5 262.4z"/>
<path color="#11ceff" d="M62.4 275.3 63.4 277 74 270.5 73 268.9z"/>
<path color="#0fb4fd" d="M137.2 231.5 138.2 232 148.7 225.5 147.8 225z"/>
<path color="#0fb3fd" d="M126.7 238 127.7 238.5 138.2 232 137.2 231.5z"/>
<path color="#0fb2fd" d="M116.1 244.5 117.1 245.1 127.7 238.5 126.7 238z"/>
<path color="#0fb2fd" d="M105.6 251 106.6 251.6 117.1 245.1 116.1 244.5z"/>
<path color="#0fb1fd" d="M95 257.5 96 258.1 106.6 251.6 105.6 251z"/>
<path color="#10b0fd" d="M84.5 264 85.5 264.6 96 258.1 95 257.5z"/>
<path color="#10affd" d="M74 270.5 74.9 271.1 85.5 264.6 84.5 264z"/>
<path color="#10aefe" d="M63.4 277 64.4 277.6 74.9 271.1 74 270.5z"/>
<path color="#0b8ab6" d="M138.2 232 139.2 230.2 149.7 223.8 148.7 225.5z"/>
<path color="#0b88b3" d="M127.7 238.5 128.6 236.6 139.2 230.2 138.2 232z"/>
<path color="#0b86b0" d="M117.1 245.1 118.1 243 128.6 236.6 127.7 238.5z"/>
<path color="#0b83ae" d="M106.6 251.6 107.5 249.4 118.1 243 117.1 245.1z"/>
<path color="#0a81ab" d="M96 258.1 97 255.9 107.5 249.4 106.6 251.6z"/>
<path color="#0a7fa8" d="M85.5 264.6 86.4 262.3 97 255.9 96 258.1z"/>
<path color="#0a7da5" d="M74.9 271.1 75.9 268.7 86.4 262.3 85.5 264.6z"/>
<path color="#0a7aa3" d="M64.4 277.6 65.3 275.1 75.9 268.7 74.9 271.1z"/>
<path color="#11b2d9" d="M139.2 230.2 140.1 229.4 150.7 223.1 149.7 223.8z"/>
<path color="#11b2d8" d="M128.6 236.6 129.6 235.8 140.1 229.4 139.2 230.2z"/>
<path color="#11b1d7" d="M118.1 243 119 242.2 129.6 235.8 128.6 236.6z"/>
<path color="#11b0d6" d="M107.5 249.4 108.5 248.6 119 242.2 118.1 243z"/>
<path color="#11b0d4" d="M97 255.9 98 254.9 108.5 248.6 107.5 249.4z"/>
<path color="#11afd3" d="M86.4 262.3 87.4 261.3 98 254.9 97 255.9z"/>
<path color="#11aed2" d="M75.9 268.7 76.9 267.7 87.4 261.3 86.4 262.3z"/>
<path color="#11add0" d="M65.3 275.1 66.3 274.1 76.9 267.7 75.9 268.7z"/>
<path color="#12ccfd" d="M140.1 229.4 141.1 229.9 151.6 223.5 150.7 223.1z"/>
<path color="#12ccfd" d="M129.6 235.8 130.6 236.3 141.1 229.9 140.1 229.4z"/>
<path color="#12cdfe" d="M119 242.2 120 242.7 130.6 236.3 129.6 235.8z"/>
<path color="#12cefe" d="M108.5 248.6 109.5 249.1 120 242.7 119 242.2z"/>
<path color="#13cfff" d="M98 254.9 98.9 255.5 109.5 249.1 108.5 248.6z"/>
<path color="#13d0ff" d="M87.4 261.3 88.4 261.9 98.9 255.5 98 254.9z"/>
<path color="#13d0ff" d="M76.9 267.7 77.8 268.2 88.4 261.9 87.4 261.3z"/>
<path color="#13d1ff" d="M66.3 274.1 67.3 274.6 77.8 268.2 76.9 267.7z"/>
<path color="#10b6ff" d="M141.1 229.9 142.1 230.9 152.6 224.4 151.6 223.5z"/>
<path color="#10b8ff" d="M130.6 236.3 131.5 237.3 142.1 230.9 141.1 229.9z"/>
<path color="#10b9ff" d="M120 242.7 121 243.7 131.5 237.3 130.6 236.3z"/>
<path color="#10baff" d="M109.5 249.1 110.4 250.1 121 243.7 120 242.7z"/>
<path color="#10bbff" d="M98.9 255.5 99.9 256.5 110.4 250.1 109.5 249.1z"/>
<path color="#10bcff" d="M88.4 261.9 89.3 262.9 99.9 256.5 98.9 255.5z"/>
<path color="#11bdff" d="M77.8 268.2 78.8 269.4 89.3 262.9 88.4 261.9z"/>
<path color="#11beff" d="M67.3 274.6 68.3 275.8 78.8 269.4 77.8 268.2z"/>
<path color="#10aeff" d="M142.1 230.9 143 231.8 153.6 225.3 152.6 224.4z"/>
<path color="#10afff" d="M131.5 237.3 132.5 238.2 143 231.8 142.1 230.9z"/>
<path color="#10b0ff" d="M121 243.7 122 244.7 132.5 238.2 131.5 237.3z"/>
<path color="#10b0ff" d="M110.4 250.1 111.4 251.2 122 244.7 121 243.7z"/>
<path color="#10b1ff" d="M99.9 256.5 100.9 257.6 111.4 251.2 110.4 250.1z"/>
<path color="#11b2ff" d="M89.3 262.9 90.3 264.1 100.9 257.6 99.9 256.5z"/>
<path color="#11b3ff" d="M78.8 269.4 79.8 270.5 90.3 264.1 89.3 262.9z"/>
<path color="#11b4ff" d="M68.3 275.8 69.2 277 79.8 270.5 78.8 269.4z"/>
<path color="#11abff" d="M143 231.8 144 233.1 154.6 226.6 153.6 225.3z"/>
<path color="#11abff" d="M132.5 238.2 133.5 239.6 144 233.1 143 231.8z"/>
<path color="#11aaff" d="M122 244.7 122.9 246.1 133.5 239.6 132.5 238.2z"/>
<path color="#11aaff" d="M111.4 251.2 112.4 252.6 122.9 246.1 122 244.7z"/>
<path color="#11a9ff" d="M100.9 257.6 101.8 259.1 112.4 252.6 111.4 251.2z"/>
<path color="#11a9ff" d="M90.3 264.1 91.3 265.6 101.8 259.1 100.9 257.6z"/>
<path color="#11a8ff" d="M79.8 270.5 80.7 272.1 91.3 265.6 90.3 264.1z"/>
<path color="#11a8ff" d="M69.2 277 70.2 278.6 80.7 272.1 79.8 270.5z"/>
<path color="#139eff" d="M144 233.1 145 234.2 155.5 227.7 154.6 226.6z"/>
<path color="#139eff" d="M133.5 239.6 134.4 240.8 145 234.2 144 233.1z"/>
<path color="#139eff" d="M122.9 246.1 123.9 247.3 134.4 240.8 133.5 239.6z"/>
<path color="#149dff" d="M112.4 252.6 113.3 253.9 123.9 247.3 122.9 246.1z"/>
<path color="#149cff" d="M101.8 259.1 102.8 260.4 113.3 253.9 112.4 252.6z"/>
<path color="#149bff" d="M91.3 265.6 92.3 267 102.8 260.4 101.8 259.1z"/>
<path color="#159aff" d="M80.7 272.1 81.7 273.5 92.3 267 91.3 265.6z"/>
<path color="#1599ff" d="M70.2 278.6 71.2 280 81.7 273.5 80.7 272.1z"/>
<path color="#1397ff" d="M145 234.2 146 235.2 156.5 228.6 155.5 227.7z"/>
<path color="#1496ff" d="M134.4 240.8 135.4 241.8 146 235.2 145 234.2z"/>
<path color="#1495ff" d="M123.9 247.3 124.9 248.4 135.4 241.8 134.4 240.8z"/>
<path color="#1594ff" d="M113.3 253.9 114.3 255 124.9 248.4 123.9 247.3z"/>
<path color="#1593ff" d="M102.8 260.4 103.8 261.5 114.3 255 113.3 253.9z"/>
<path color="#1692ff" d="M92.3 267 93.2 268.1 103.8 261.5 102.8 260.4z"/>
<path color="#1692ff" d="M81.7 273.5 82.7 274.7 93.2 268.1 92.3 267z"/>
<path color="#1791ff" d="M71.2 280 72.1 281.3 82.7 274.7 81.7 273.5z"/>
<path color="#10acff" d="M146 235.2 146.9 236.3 157.5 229.7 156.5 228.6z"/>
<path color="#10abff" d="M135.4 241.8 136.4 242.9 146.9 236.3 146 235.2z"/>
<path color="#11a9ff" d="M124.9 248.4 125.8 249.5 136.4 242.9 135.4 241.8z"/>
<path color="#11a8ff" d="M114.3 255 115.3 256.1 125.8 249.5 124.9 248.4z"/>
<path color="#11a6ff" d="M103.8 261.5 104.7 262.7 115.3 256.1 114.3 255z"/>
<path color="#11a5ff" d="M93.2 268.1 94.2 269.3 104.7 262.7 103.8 261.5z"/>
<path color="#12a4ff" d="M82.7 274.7 83.7 275.9 94.2 269.3 93.2 268.1z"/>
<path color="#12a2ff" d="M72.1 281.3 73.1 282.5 83.7 275.9 82.7 274.7z"/>
<path color="#10a1ff" d="M146.9 236.3 147.9 237 158.4 230.4 157.5 229.7z"/>
<path color="#109fff" d="M136.4 242.9 137.3 243.6 147.9 237 146.9 236.3z"/>
<path color="#109eff" d="M125.8 249.5 126.8 250.3 137.3 243.6 136.4 242.9z"/>
<path color="#119cff" d="M115.3 256.1 116.3 256.9 126.8 250.3 125.8 249.5z"/>
<path color="#129aff" d="M104.7 262.7 105.7 263.5 116.3 256.9 115.3 256.1z"/>
<path color="#1298ff" d="M94.2 269.3 95.2 270.1 105.7 263.5 104.7 262.7z"/>
<path color="#1395ff" d="M83.7 275.9 84.6 276.8 95.2 270.1 94.2 269.3z"/>
<path color="#1493ff" d="M73.1 282.5 74.1 283.4 84.6 276.8 83.7 275.9z"/>
<path color="#1f6dff" d="M147.9 237 148.9 237.6 159.4 230.9 158.4 230.4z"/>
<path color="#216bff" d="M137.3 243.6 138.3 244.2 148.9 237.6 147.9 237z"/>
<path color="#2269ff" d="M126.8 250.3 127.8 250.8 138.3 244.2 137.3 243.6z"/>
<path color="#2467ff" d="M116.3 256.9 117.2 257.5 127.8 250.8 126.8 250.3z"/>
<path color="#2564ff" d="M105.7 263.5 106.7 264.1 117.2 257.5 116.3 256.9z"/>
<path color="#2762ff" d="M95.2 270.1 96.1 270.7 106.7 264.1 105.7 263.5z"/>
<path color="#2960ff" d="M84.6 276.8 85.6 277.4 96.1 270.7 95.2 270.1z"/>
<path color="#2a5eff" d="M74.1 283.4 75 284 85.6 277.4 84.6 276.8z"/>
<path color="#285af5" d="M148.9 237.6 149.8 237.7 160.4 231.1 159.4 230.9z"/>
<path color="#2958f5" d="M138.3 244.2 139.3 244.4 149.8 237.7 148.9 237.6z"/>
<path color="#2b56f5" d="M127.8 250.8 128.7 251 139.3 244.4 138.3 244.2z"/>
<path color="#2c53f4" d="M117.2 257.5 118.2 257.6 128.7 251 127.8 250.8z"/>
<path color="#2c51f2" d="M106.7 264.1 107.7 264.2 118.2 257.6 117.2 257.5z"/>
<path color="#2d4ef1" d="M96.1 270.7 97.1 270.9 107.7 264.2 106.7 264.1z"/>
<path color="#2e4bef" d="M85.6 277.4 86.6 277.5 97.1 270.9 96.1 270.7z"/>
<path color="#2e49ee" d="M75 284 76 284.1 86.6 277.5 85.6 277.4z"/>
<path color="#2259e5" d="M149.8 237.7 150.8 237.4 161.4 230.8 160.4 231.1z"/>
<path color="#2357e4" d="M139.3 244.4 140.3 244 150.8 237.4 149.8 237.7z"/>
<path color="#2455e3" d="M128.7 251 129.7 250.6 140.3 244 139.3 244.4z"/>
<path color="#2553e3" d="M118.2 257.6 119.2 257.2 129.7 250.6 128.7 251z"/>
<path color="#2651e2" d="M107.7 264.2 108.6 263.8 119.2 257.2 118.2 257.6z"/>
<path color="#274fe2" d="M97.1 270.9 98.1 270.4 108.6 263.8 107.7 264.2z"/>
<path color="#284de1" d="M86.6 277.5 87.5 277 98.1 270.4 97.1 270.9z"/>
<path color="#294bdf" d="M76 284.1 77 283.6 87.5 277 86.6 277.5z"/>
<path color="#2162f3" d="M150.8 237.4 151.8 237.5 162.3 230.9 161.4 230.8z"/>
<path color="#2260f2" d="M140.3 244 141.2 244 151.8 237.5 150.8 237.4z"/>
<path color="#235ef2" d="M129.7 250.6 130.7 250.6 141.2 244 140.3 244z"/>
<path color="#245df1" d="M119.2 257.2 120.1 257.2 130.7 250.6 129.7 250.6z"/>
<path color="#255bf1" d="M108.6 263.8 109.6 263.8 120.1 257.2 119.2 257.2z"/>
<path color="#2659f0" d="M98.1 270.4 99.1 270.4 109.6 263.8 108.6 263.8z"/>
<path color="#2758f0" d="M87.5 277 88.5 277 99.1 270.4 98.1 270.4z"/>
<path color="#2856ef" d="M77 283.6 78 283.6 88.5 277 87.5 277z"/>
<path color="#2066f6" d="M151.8 237.5 152.7 237.7 163.3 231.1 162.3 230.9z"/>
<path color="#2164f6" d="M141.2 244 142.2 244.2 152.7 237.7 151.8 237.5z"/>
<path color="#2263f6" d="M130.7 250.6 131.7 250.8 142.2 244.2 141.2 244z"/>
<path color="#2361f6" d="M120.1 257.2 121.1 257.4 131.7 250.8 130.7 250.6z"/>
<path color="#2460f6" d="M109.6 263.8 110.6 264 121.1 257.4 120.1 257.2z"/>
<path color="#255ef6" d="M99.1 270.4 100 270.6 110.6 264 109.6 263.8z"/>
<path color="#265df6" d="M88.5 277 89.5 277.2 100 270.6 99.1 270.4z"/>
<path color="#275cf6" d="M78 283.6 78.9 283.8 89.5 277.2 88.5 277z"/>
<path color="#1b6ffb" d="M152.7 237.7 153.7 238 164.3 231.4 163.3 231.1z"/>
<path color="#1c6efc" d="M142.2 244.2 143.2 244.6 153.7 238 152.7 237.7z"/>
<path color="#1d6cfc" d="M131.7 250.8 132.6 251.2 143.2 244.6 142.2 244.2z"/>
<path color="#1e6bfc" d="M121.1 257.4 122.1 257.8 132.6 251.2 131.7 250.8z"/>
<path color="#206afd" d="M110.6 264 111.5 264.4 122.1 257.8 121.1 257.4z"/>
<path color="#2168fd" d="M100 270.6 101 271 111.5 264.4 110.6 264z"/>
<path color="#2267fd" d="M89.5 277.2 90.4 277.6 101 271 100 270.6z"/>
<path color="#2366fe" d="M78.9 283.8 79.9 284.2 90.4 277.6 89.5 277.2z"/>
<path color="#1f70ff" d="M153.7 238 154.7 238.8 165.2 232.1 164.3 231.4z"/>
<path color="#206fff" d="M143.2 244.6 144.1 245.4 154.7 238.8 153.7 238z"/>
<path color="#216dff" d="M132.6 251.2 133.6 252 144.1 245.4 143.2 244.6z"/>
<path color="#226cff" d="M122.1 257.8 123.1 258.6 133.6 252 132.6 251.2z"/>
<path color="#246aff" d="M111.5 264.4 112.5 265.2 123.1 258.6 122.1 257.8z"/>
<path color="#2569ff" d="M101 271 102 271.8 112.5 265.2 111.5 264.4z"/>
<path color="#2767ff" d="M90.4 277.6 91.4 278.4 102 271.8 101 271z"/>
<path color="#2865ff" d="M79.9 284.2 80.9 285.1 91.4 278.4 90.4 277.6z"/>
<path color="#226bff" d="M154.7 238.8 155.7 239.4 166.2 232.8 165.2 232.1z"/>
<path color="#236aff" d="M144.1 245.4 145.1 246.1 155.7 239.4 154.7 238.8z"/>
<path color="#2568ff" d="M133.6 252 134.6 252.7 145.1 246.1 144.1 245.4z"/>
<path color="#2666ff" d="M123.1 258.6 124 259.3 134.6 252.7 133.6 252z"/>
<path color="#2864ff" d="M112.5 265.2 113.5 265.9 124 259.3 123.1 258.6z"/>
<path color="#2a62ff" d="M102 271.8 102.9 272.6 113.5 265.9 112.5 265.2z"/>
<path color="#2b60ff" d="M91.4 278.4 92.4 279.2 102.9 272.6 102 271.8z"/>
<path color="#2d5eff" d="M80.9 285.1 81.8 285.8 92.4 279.2 91.4 278.4z"/>
<path color="#216bff" d="M155.7 239.4 156.6 240 167.2 233.4 166.2 232.8z"/>
<path color="#2368ff" d="M145.1 246.1 146.1 246.6 156.6 240 155.7 239.4z"/>
<path color="#2466ff" d="M134.6 252.7 135.5 253.3 146.1 246.6 145.1 246.1z"/>
<path color="#2664ff" d="M124 259.3 125 259.9 135.5 253.3 134.6 252.7z"/>
<path color="#2862ff" d="M113.5 265.9 114.4 266.6 125 259.9 124 259.3z"/>
<path color="#2a60ff" d="M102.9 272.6 103.9 273.2 114.4 266.6 113.5 265.9z"/>
<path color="#2b5dff" d="M92.4 279.2 93.4 279.8 103.9 273.2 102.9 272.6z"/>
<path color="#2d5bff" d="M81.8 285.8 82.8 286.5 93.4 279.8 92.4 279.2z"/>
<path color="#1c6efc" d="M156.6 240 157.6 240.4 168.1 233.8 167.2 233.4z"/>
<path color="#1e6cfc" d="M146.1 246.6 147.1 247 157.6 240.4 156.6 240z"/>
<path color="#1f6afc" d="M135.5 253.3 136.5 253.7 147.1 247 146.1 246.6z"/>
<path color="#2168fd" d="M125 259.9 126 260.3 136.5 253.7 135.5 253.3z"/>
<path color="#2365fd" d="M114.4 266.6 115.4 267 126 260.3 125 259.9z"/>
<path color="#2563fd" d="M103.9 273.2 104.9 273.6 115.4 267 114.4 266.6z"/>
<path color="#2661fd" d="M93.4 279.8 94.3 280.3 104.9 273.6 103.9 273.2z"/>
<path color="#285efd" d="M82.8 286.5 83.8 286.9 94.3 280.3 93.4 279.8z"/>
<path color="#2268ff" d="M157.6 240.4 158.6 240.9 169.1 234.3 168.1 233.8z"/>
<path color="#2465ff" d="M147.1 247 148 247.6 158.6 240.9 157.6 240.4z"/>
<path color="#2663ff" d="M136.5 253.7 137.5 254.2 148 247.6 147.1 247z"/>
<path color="#2860ff" d="M126 260.3 126.9 260.9 137.5 254.2 136.5 253.7z"/>
<path color="#295eff" d="M115.4 267 116.4 267.5 126.9 260.9 126 260.3z"/>
<path color="#2b5cff" d="M104.9 273.6 105.8 274.2 116.4 267.5 115.4 267z"/>
<path color="#2d59ff" d="M94.3 280.3 95.3 280.8 105.8 274.2 104.9 273.6z"/>
<path color="#2e56ff" d="M83.8 286.9 84.8 287.5 95.3 280.8 94.3 280.3z"/>
<path color="#285bf7" d="M158.6 240.9 159.5 241.2 170.1 234.5 169.1 234.3z"/>
<path color="#2a58f7" d="M148 247.6 149 247.8 159.5 241.2 158.6 240.9z"/>
<path color="#2c56f7" d="M137.5 254.2 138.4 254.5 149 247.8 148 247.6z"/>
<path color="#2d53f6" d="M126.9 260.9 127.9 261.1 138.4 254.5 137.5 254.2z"/>
<path color="#2d50f4" d="M116.4 267.5 117.4 267.8 127.9 261.1 126.9 260.9z"/>
<path color="#2e4df3" d="M105.8 274.2 106.8 274.4 117.4 267.8 116.4 267.5z"/>
<path color="#2f4af1" d="M95.3 280.8 96.3 281.1 106.8 274.4 105.8 274.2z"/>
<path color="#3047f0" d="M84.8 287.5 85.7 287.7 96.3 281.1 95.3 280.8z"/>
<path color="#285bf7" d="M159.5 241.2 160.5 241.4 171.1 234.7 170.1 234.5z"/>
<path color="#2a58f7" d="M149 247.8 150 248 160.5 241.4 159.5 241.2z"/>
<path color="#2b56f7" d="M138.4 254.5 139.4 254.7 150 248 149 247.8z"/>
<path color="#2c53f5" d="M127.9 261.1 128.9 261.3 139.4 254.7 138.4 254.5z"/>
<path color="#2d50f4" d="M117.4 267.8 118.3 268 128.9 261.3 127.9 261.1z"/>
<path color="#2e4df3" d="M106.8 274.4 107.8 274.6 118.3 268 117.4 267.8z"/>
<path color="#2f4af1" d="M96.3 281.1 97.2 281.3 107.8 274.6 106.8 274.4z"/>
<path color="#2f47f0" d="M85.7 287.7 86.7 287.9 97.2 281.3 96.3 281.1z"/>
<path color="#285cf9" d="M160.5 241.4 161.5 241.7 172 235 171.1 234.7z"/>
<path color="#2a59f9" d="M150 248 150.9 248.3 161.5 241.7 160.5 241.4z"/>
<path color="#2c57f9" d="M139.4 254.7 140.4 255 150.9 248.3 150 248z"/>
<path color="#2d54f8" d="M128.9 261.3 129.8 261.6 140.4 255 139.4 254.7z"/>
<path color="#2d51f6" d="M118.3 268 119.3 268.3 129.8 261.6 128.9 261.3z"/>
<path color="#2e4ef5" d="M107.8 274.6 108.8 274.9 119.3 268.3 118.3 268z"/>
<path color="#2f4bf3" d="M97.2 281.3 98.2 281.6 108.8 274.9 107.8 274.6z"/>
<path color="#3048f2" d="M86.7 287.9 87.7 288.2 98.2 281.6 97.2 281.3z"/>
<path color="#285cfa" d="M161.5 241.7 162.4 242 173 235.4 172 235z"/>
<path color="#2a5afa" d="M150.9 248.3 151.9 248.7 162.4 242 161.5 241.7z"/>
<path color="#2c58fa" d="M140.4 255 141.4 255.3 151.9 248.7 150.9 248.3z"/>
<path color="#2d55f9" d="M129.8 261.6 130.8 262 141.4 255.3 140.4 255z"/>
<path color="#2e52f8" d="M119.3 268.3 120.3 268.6 130.8 262 129.8 261.6z"/>
<path color="#2e4ff6" d="M108.8 274.9 109.7 275.3 120.3 268.6 119.3 268.3z"/>
<path color="#2f4cf5" d="M98.2 281.6 99.2 281.9 109.7 275.3 108.8 274.9z"/>
<path color="#3049f3" d="M87.7 288.2 88.6 288.6 99.2 281.9 98.2 281.6z"/>
<path color="#2066f6" d="M162.4 242 163.4 242.2 174 235.6 173 235.4z"/>
<path color="#2263f6" d="M151.9 248.7 152.9 248.9 163.4 242.2 162.4 242z"/>
<path color="#2361f6" d="M141.4 255.3 142.3 255.5 152.9 248.9 151.9 248.7z"/>
<path color="#255ef6" d="M130.8 262 131.8 262.2 142.3 255.5 141.4 255.3z"/>
<path color="#275cf6" d="M120.3 268.6 121.2 268.8 131.8 262.2 130.8 262z"/>
<path color="#285af6" d="M109.7 275.3 110.7 275.5 121.2 268.8 120.3 268.6z"/>
<path color="#2a57f6" d="M99.2 281.9 100.1 282.1 110.7 275.5 109.7 275.3z"/>
<path color="#2c55f6" d="M88.6 288.6 89.6 288.8 100.1 282.1 99.2 281.9z"/>
<path color="#1486f8" d="M163.4 242.2 164.4 242.6 174.9 235.9 174 235.6z"/>
<path color="#1483f8" d="M152.9 248.9 153.8 249.2 164.4 242.6 163.4 242.2z"/>
<path color="#1580f9" d="M142.3 255.5 143.3 255.9 153.8 249.2 152.9 248.9z"/>
<path color="#167ef9" d="M131.8 262.2 132.8 262.5 143.3 255.9 142.3 255.5z"/>
<path color="#177bf9" d="M121.2 268.8 122.2 269.2 132.8 262.5 131.8 262.2z"/>
<path color="#1778f9" d="M110.7 275.5 111.7 275.8 122.2 269.2 121.2 268.8z"/>
<path color="#1875fa" d="M100.1 282.1 101.1 282.5 111.7 275.8 110.7 275.5z"/>
<path color="#1972fa" d="M89.6 288.8 90.6 289.1 101.1 282.5 100.1 282.1z"/>
<path color="#1484f8" d="M164.4 242.6 165.4 242.9 175.9 236.2 174.9 235.9z"/>
<path color="#1581f8" d="M153.8 249.2 154.8 249.5 165.4 242.9 164.4 242.6z"/>
<path color="#157ff8" d="M143.3 255.9 144.3 256.2 154.8 249.5 153.8 249.2z"/>
<path color="#167cf8" d="M132.8 262.5 133.7 262.8 144.3 256.2 143.3 255.9z"/>
<path color="#1779f9" d="M122.2 269.2 123.2 269.5 133.7 262.8 132.8 262.5z"/>
<path color="#1876f9" d="M111.7 275.8 112.6 276.1 123.2 269.5 122.2 269.2z"/>
<path color="#1873f9" d="M101.1 282.5 102.1 282.8 112.6 276.1 111.7 275.8z"/>
<path color="#1971f9" d="M90.6 289.1 91.5 289.4 102.1 282.8 101.1 282.5z"/>
<path color="#1484f9" d="M165.4 242.9 166.3 243.2 176.9 236.6 175.9 236.2z"/>
<path color="#1582f9" d="M154.8 249.5 155.8 249.9 166.3 243.2 165.4 242.9z"/>
<path color="#167ff9" d="M144.3 256.2 145.2 256.5 155.8 249.9 154.8 249.5z"/>
<path color="#167cf9" d="M133.7 262.8 134.7 263.2 145.2 256.5 144.3 256.2z"/>
<path color="#1779f9" d="M123.2 269.5 124.1 269.8 134.7 263.2 133.7 262.8z"/>
<path color="#1876fa" d="M112.6 276.1 113.6 276.5 124.1 269.8 123.2 269.5z"/>
<path color="#1874fa" d="M102.1 282.8 103.1 283.1 113.6 276.5 112.6 276.1z"/>
<path color="#1971fa" d="M91.5 289.4 92.5 289.8 103.1 283.1 102.1 282.8z"/>
<path color="#1482f4" d="M166.3 243.2 167.3 243.4 177.8 236.7 176.9 236.6z"/>
<path color="#147ff4" d="M155.8 249.9 156.8 250 167.3 243.4 166.3 243.2z"/>
<path color="#157df4" d="M145.2 256.5 146.2 256.7 156.8 250 155.8 249.9z"/>
<path color="#167af4" d="M134.7 263.2 135.7 263.3 146.2 256.7 145.2 256.5z"/>
<path color="#1677f4" d="M124.1 269.8 125.1 270 135.7 263.3 134.7 263.2z"/>
<path color="#1774f5" d="M113.6 276.5 114.6 276.6 125.1 270 124.1 269.8z"/>
<path color="#1872f5" d="M103.1 283.1 104 283.3 114.6 276.6 113.6 276.5z"/>
<path color="#196ff5" d="M92.5 289.8 93.5 289.9 104 283.3 103.1 283.1z"/>
<path color="#1386f4" d="M167.3 243.4 168.3 243.6 178.8 236.9 177.8 236.7z"/>
<path color="#1383f4" d="M156.8 250 157.7 250.2 168.3 243.6 167.3 243.4z"/>
<path color="#1480f4" d="M146.2 256.7 147.2 256.9 157.7 250.2 156.8 250z"/>
<path color="#157df4" d="M135.7 263.3 136.6 263.5 147.2 256.9 146.2 256.7z"/>
<path color="#167af4" d="M125.1 270 126.1 270.1 136.6 263.5 135.7 263.3z"/>
<path color="#1677f4" d="M114.6 276.6 115.5 276.8 126.1 270.1 125.1 270z"/>
<path color="#1775f4" d="M104 283.3 105 283.4 115.5 276.8 114.6 276.6z"/>
<path color="#1872f3" d="M93.5 289.9 94.4 290.1 105 283.4 104 283.3z"/>
<path color="#1083e3" d="M168.3 243.6 169.2 243.2 179.8 236.6 178.8 236.9z"/>
<path color="#1080e3" d="M157.7 250.2 158.7 249.9 169.2 243.2 168.3 243.6z"/>
<path color="#117ee2" d="M147.2 256.9 148.1 256.5 158.7 249.9 157.7 250.2z"/>
<path color="#127be2" d="M136.6 263.5 137.6 263.1 148.1 256.5 147.2 256.9z"/>
<path color="#1278e1" d="M126.1 270.1 127.1 269.7 137.6 263.1 136.6 263.5z"/>
<path color="#1376e1" d="M115.5 276.8 116.5 276.3 127.1 269.7 126.1 270.1z"/>
<path color="#1373e0" d="M105 283.4 106 282.9 116.5 276.3 115.5 276.8z"/>
<path color="#1470e0" d="M94.4 290.1 95.4 289.6 106 282.9 105 283.4z"/>
<path color="#1374e0" d="M169.2 243.2 170.2 242.7 180.8 236.1 179.8 236.6z"/>
<path color="#1372df" d="M158.7 249.9 159.7 249.3 170.2 242.7 169.2 243.2z"/>
<path color="#146fde" d="M148.1 256.5 149.1 255.9 159.7 249.3 158.7 249.9z"/>
<path color="#146ddd" d="M137.6 263.1 138.6 262.5 149.1 255.9 148.1 256.5z"/>
<path color="#146bdc" d="M127.1 269.7 128 269.1 138.6 262.5 137.6 263.1z"/>
<path color="#1569db" d="M116.5 276.3 117.5 275.6 128 269.1 127.1 269.7z"/>
<path color="#1566da" d="M106 282.9 106.9 282.2 117.5 275.6 116.5 276.3z"/>
<path color="#1564d9" d="M95.4 289.6 96.4 288.8 106.9 282.2 106 282.9z"/>
<path color="#137aea" d="M170.2 242.7 171.2 242.6 181.7 236 180.8 236.1z"/>
<path color="#1479e9" d="M159.7 249.3 160.6 249.1 171.2 242.6 170.2 242.7z"/>
<path color="#1477e8" d="M149.1 255.9 150.1 255.7 160.6 249.1 159.7 249.3z"/>
<path color="#1475e8" d="M138.6 262.5 139.5 262.2 150.1 255.7 149.1 255.9z"/>
<path color="#1574e7" d="M128 269.1 129 268.8 139.5 262.2 138.6 262.5z"/>
<path color="#1572e7" d="M117.5 275.6 118.5 275.4 129 268.8 128 269.1z"/>
<path color="#1570e6" d="M106.9 282.2 107.9 281.9 118.5 275.4 117.5 275.6z"/>
<path color="#156fe6" d="M96.4 288.8 97.4 288.5 107.9 281.9 106.9 282.2z"/>
<path color="#1688ff" d="M171.2 242.6 172.1 243.3 182.7 236.7 181.7 236z"/>
<path color="#1686ff" d="M160.6 249.1 161.6 249.8 172.1 243.3 171.2 242.6z"/>
<path color="#1785ff" d="M150.1 255.7 151.1 256.4 161.6 249.8 160.6 249.1z"/>
<path color="#1784ff" d="M139.5 262.2 140.5 263 151.1 256.4 150.1 255.7z"/>
<path color="#1782ff" d="M129 268.8 130 269.6 140.5 263 139.5 262.2z"/>
<path color="#1881ff" d="M118.5 275.4 119.4 276.1 130 269.6 129 268.8z"/>
<path color="#1880ff" d="M107.9 281.9 108.9 282.7 119.4 276.1 118.5 275.4z"/>
<path color="#197fff" d="M97.4 288.5 98.3 289.3 108.9 282.7 107.9 281.9z"/>
<path color="#1882ff" d="M172.1 243.3 173.1 244.1 183.7 237.5 182.7 236.7z"/>
<path color="#1980ff" d="M161.6 249.8 162.6 250.7 173.1 244.1 172.1 243.3z"/>
<path color="#197fff" d="M151.1 256.4 152 257.3 162.6 250.7 161.6 249.8z"/>
<path color="#1a7dff" d="M140.5 263 141.5 263.9 152 257.3 151.1 256.4z"/>
<path color="#1a7cff" d="M130 269.6 130.9 270.5 141.5 263.9 140.5 263z"/>
<path color="#1b7bff" d="M119.4 276.1 120.4 277.1 130.9 270.5 130 269.6z"/>
<path color="#1c79ff" d="M108.9 282.7 109.8 283.7 120.4 277.1 119.4 276.1z"/>
<path color="#1e78ff" d="M98.3 289.3 99.3 290.3 109.8 283.7 108.9 282.7z"/>
<path color="#1b78ff" d="M173.1 244.1 174.1 245 184.6 238.3 183.7 237.5z"/>
<path color="#1d76ff" d="M162.6 250.7 163.5 251.6 174.1 245 173.1 244.1z"/>
<path color="#1e74ff" d="M152 257.3 153 258.2 163.5 251.6 162.6 250.7z"/>
<path color="#2072ff" d="M141.5 263.9 142.5 264.9 153 258.2 152 257.3z"/>
<path color="#2271ff" d="M130.9 270.5 131.9 271.5 142.5 264.9 141.5 263.9z"/>
<path color="#236fff" d="M120.4 277.1 121.4 278.1 131.9 271.5 130.9 270.5z"/>
<path color="#256dff" d="M109.8 283.7 110.8 284.7 121.4 278.1 120.4 277.1z"/>
<path color="#276bff" d="M99.3 290.3 100.3 291.4 110.8 284.7 109.8 283.7z"/>
<path color="#1e6eff" d="M174.1 245 175.1 245.5 185.6 238.9 184.6 238.3z"/>
<path color="#206cff" d="M163.5 251.6 164.5 252.2 175.1 245.5 174.1 245z"/>
<path color="#216aff" d="M153 258.2 154 258.8 164.5 252.2 163.5 251.6z"/>
<path color="#2368ff" d="M142.5 264.9 143.4 265.4 154 258.8 153 258.2z"/>
<path color="#2566ff" d="M131.9 271.5 132.9 272.1 143.4 265.4 142.5 264.9z"/>
<path color="#2664ff" d="M121.4 278.1 122.3 278.7 132.9 272.1 131.9 271.5z"/>
<path color="#2862ff" d="M110.8 284.7 111.8 285.4 122.3 278.7 121.4 278.1z"/>
<path color="#2a5fff" d="M100.3 291.4 101.2 292 111.8 285.4 110.8 284.7z"/>
<path color="#2268ff" d="M175.1 245.5 176 246 186.6 239.4 185.6 238.9z"/>
<path color="#2366ff" d="M164.5 252.2 165.5 252.7 176 246 175.1 245.5z"/>
<path color="#2563ff" d="M154 258.8 154.9 259.3 165.5 252.7 164.5 252.2z"/>
<path color="#2761ff" d="M143.4 265.4 144.4 265.9 154.9 259.3 154 258.8z"/>
<path color="#295fff" d="M132.9 272.1 133.8 272.6 144.4 265.9 143.4 265.4z"/>
<path color="#2a5dff" d="M122.3 278.7 123.3 279.2 133.8 272.6 132.9 272.1z"/>
<path color="#2c5aff" d="M111.8 285.4 112.8 285.9 123.3 279.2 122.3 278.7z"/>
<path color="#2e58ff" d="M101.2 292 102.2 292.5 112.8 285.9 111.8 285.4z"/>
<path color="#285bf7" d="M176 246 177 246.2 187.5 239.6 186.6 239.4z"/>
<path color="#2a59f7" d="M165.5 252.7 166.5 252.9 177 246.2 176 246z"/>
<path color="#2b56f7" d="M154.9 259.3 155.9 259.5 166.5 252.9 165.5 252.7z"/>
<path color="#2c54f6" d="M144.4 265.9 145.4 266.2 155.9 259.5 154.9 259.3z"/>
<path color="#2d51f4" d="M133.8 272.6 134.8 272.8 145.4 266.2 144.4 265.9z"/>
<path color="#2e4ef3" d="M123.3 279.2 124.3 279.5 134.8 272.8 133.8 272.6z"/>
<path color="#2e4bf2" d="M112.8 285.9 113.7 286.1 124.3 279.5 123.3 279.2z"/>
<path color="#2f49f0" d="M102.2 292.5 103.2 292.8 113.7 286.1 112.8 285.9z"/>
<path color="#275df9" d="M177 246.2 178 246.6 188.5 239.9 187.5 239.6z"/>
<path color="#295bf9" d="M166.5 252.9 167.4 253.2 178 246.6 177 246.2z"/>
<path color="#2b59f9" d="M155.9 259.5 156.9 259.9 167.4 253.2 166.5 252.9z"/>
<path color="#2c56f9" d="M145.4 266.2 146.3 266.5 156.9 259.9 155.9 259.5z"/>
<path color="#2d54f8" d="M134.8 272.8 135.8 273.1 146.3 266.5 145.4 266.2z"/>
<path color="#2e51f7" d="M124.3 279.5 125.2 279.8 135.8 273.1 134.8 272.8z"/>
<path color="#2e4ef5" d="M113.7 286.1 114.7 286.4 125.2 279.8 124.3 279.5z"/>
<path color="#2f4bf4" d="M103.2 292.8 104.2 293.1 114.7 286.4 113.7 286.1z"/>
<path color="#275df8" d="M178 246.6 178.9 246.8 189.5 240.2 188.5 239.9z"/>
<path color="#295bf8" d="M167.4 253.2 168.4 253.5 178.9 246.8 178 246.6z"/>
<path color="#2a58f8" d="M156.9 259.9 157.8 260.1 168.4 253.5 167.4 253.2z"/>
<path color="#2c56f8" d="M146.3 266.5 147.3 266.8 157.8 260.1 156.9 259.9z"/>
<path color="#2d53f6" d="M135.8 273.1 136.8 273.4 147.3 266.8 146.3 266.5z"/>
<path color="#2d50f5" d="M125.2 279.8 126.2 280.1 136.8 273.4 135.8 273.1z"/>
<path color="#2e4df4" d="M114.7 286.4 115.7 286.7 126.2 280.1 125.2 279.8z"/>
<path color="#2f4bf2" d="M104.2 293.1 105.1 293.3 115.7 286.7 114.7 286.4z"/>
<path color="#295cfa" d="M178.9 246.8 179.9 247.2 190.4 240.5 189.5 240.2z"/>
<path color="#2a59fa" d="M168.4 253.5 169.4 253.8 179.9 247.2 178.9 246.8z"/>
<path color="#2c57fa" d="M157.8 260.1 158.8 260.4 169.4 253.8 168.4 253.5z"/>
<path color="#2d54f8" d="M147.3 266.8 148.3 267.1 158.8 260.4 157.8 260.1z"/>
<path color="#2e51f7" d="M136.8 273.4 137.7 273.7 148.3 267.1 147.3 266.8z"/>
<path color="#2e4ef5" d="M126.2 280.1 127.2 280.4 137.7 273.7 136.8 273.4z"/>
<path color="#2f4cf4" d="M115.7 286.7 116.6 287 127.2 280.4 126.2 280.1z"/>
<path color="#3049f3" d="M105.1 293.3 106.1 293.7 116.6 287 115.7 286.7z"/>
<path color="#275cf6" d="M179.9 247.2 180.9 247.4 191.4 240.7 190.4 240.5z"/>
<path color="#285af6" d="M169.4 253.8 170.3 254 180.9 247.4 179.9 247.2z"/>
<path color="#2a57f6" d="M158.8 260.4 159.8 260.6 170.3 254 169.4 253.8z"/>
<path color="#2c55f6" d="M148.3 267.1 149.2 267.3 159.8 260.6 158.8 260.4z"/>
<path color="#2c52f4" d="M137.7 273.7 138.7 273.9 149.2 267.3 148.3 267.1z"/>
<path color="#2d50f3" d="M127.2 280.4 128.2 280.6 138.7 273.9 137.7 273.7z"/>
<path color="#2e4df1" d="M116.6 287 117.6 287.2 128.2 280.6 127.2 280.4z"/>
<path color="#2e4af0" d="M106.1 293.7 107.1 293.9 117.6 287.2 116.6 287z"/>
<path color="#265ef8" d="M180.9 247.4 181.8 247.6 192.4 241 191.4 240.7z"/>
<path color="#285cf8" d="M170.3 254 171.3 254.3 181.8 247.6 180.9 247.4z"/>
<path color="#295af8" d="M159.8 260.6 160.8 260.9 171.3 254.3 170.3 254z"/>
<path color="#2b57f8" d="M149.2 267.3 150.2 267.6 160.8 260.9 159.8 260.6z"/>
<path color="#2c55f7" d="M138.7 273.9 139.7 274.2 150.2 267.6 149.2 267.3z"/>
<path color="#2d52f6" d="M128.2 280.6 129.1 280.8 139.7 274.2 138.7 273.9z"/>
<path color="#2e4ff4" d="M117.6 287.2 118.6 287.5 129.1 280.8 128.2 280.6z"/>
<path color="#2e4cf3" d="M107.1 293.9 108 294.1 118.6 287.5 117.6 287.2z"/>
<path color="#265ef7" d="M181.8 247.6 182.8 247.9 193.4 241.2 192.4 241z"/>
<path color="#275cf7" d="M171.3 254.3 172.3 254.5 182.8 247.9 181.8 247.6z"/>
<path color="#295af7" d="M160.8 260.9 161.7 261.2 172.3 254.5 171.3 254.3z"/>
<path color="#2b57f7" d="M150.2 267.6 151.2 267.8 161.7 261.2 160.8 260.9z"/>
<path color="#2c55f7" d="M139.7 274.2 140.6 274.4 151.2 267.8 150.2 267.6z"/>
<path color="#2d52f5" d="M129.1 280.8 130.1 281.1 140.6 274.4 139.7 274.2z"/>
<path color="#2d4ff4" d="M118.6 287.5 119.5 287.7 130.1 281.1 129.1 280.8z"/>
<path color="#2e4df2" d="M108 294.1 109 294.4 119.5 287.7 118.6 287.5z"/>
<path color="#275ffc" d="M182.8 247.9 183.8 248.3 194.3 241.6 193.4 241.2z"/>
<path color="#295dfc" d="M172.3 254.5 173.2 254.9 183.8 248.3 182.8 247.9z"/>
<path color="#2b5bfc" d="M161.7 261.2 162.7 261.6 173.2 254.9 172.3 254.5z"/>
<path color="#2c58fc" d="M151.2 267.8 152.2 268.2 162.7 261.6 161.7 261.2z"/>
<path color="#2d55fb" d="M140.6 274.4 141.6 274.9 152.2 268.2 151.2 267.8z"/>
<path color="#2e53fa" d="M130.1 281.1 131.1 281.5 141.6 274.9 140.6 274.4z"/>
<path color="#2f50f9" d="M119.5 287.7 120.5 288.1 131.1 281.5 130.1 281.1z"/>
<path color="#2f4df7" d="M109 294.4 110 294.8 120.5 288.1 119.5 287.7z"/>
<path color="#275cf6" d="M183.8 248.3 184.8 248.5 195.3 241.8 194.3 241.6z"/>
<path color="#2959f6" d="M173.2 254.9 174.2 255.1 184.8 248.5 183.8 248.3z"/>
<path color="#2a57f6" d="M162.7 261.6 163.7 261.8 174.2 255.1 173.2 254.9z"/>
<path color="#2c55f5" d="M152.2 268.2 153.1 268.4 163.7 261.8 162.7 261.6z"/>
<path color="#2c52f4" d="M141.6 274.9 142.6 275 153.1 268.4 152.2 268.2z"/>
<path color="#2d4ff2" d="M131.1 281.5 132 281.7 142.6 275 141.6 274.9z"/>
<path color="#2e4cf1" d="M120.5 288.1 121.5 288.3 132 281.7 131.1 281.5z"/>
<path color="#2e4af0" d="M110 294.8 110.9 295 121.5 288.3 120.5 288.1z"/>
<path color="#285dfa" d="M184.8 248.5 185.7 248.8 196.3 242.2 195.3 241.8z"/>
<path color="#2a5bfa" d="M174.2 255.1 175.2 255.5 185.7 248.8 184.8 248.5z"/>
<path color="#2b58fa" d="M163.7 261.8 164.6 262.1 175.2 255.5 174.2 255.1z"/>
<path color="#2d56fa" d="M153.1 268.4 154.1 268.7 164.6 262.1 163.7 261.8z"/>
<path color="#2d53f8" d="M142.6 275 143.5 275.4 154.1 268.7 153.1 268.4z"/>
<path color="#2e50f7" d="M132 281.7 133 282 143.5 275.4 142.6 275z"/>
<path color="#2f4df6" d="M121.5 288.3 122.5 288.7 133 282 132 281.7z"/>
<path color="#2f4bf4" d="M110.9 295 111.9 295.3 122.5 288.7 121.5 288.3z"/>
<path color="#285bf9" d="M185.7 248.8 186.7 249.1 197.2 242.5 196.3 242.2z"/>
<path color="#2a59f9" d="M175.2 255.5 176.2 255.8 186.7 249.1 185.7 248.8z"/>
<path color="#2c57f9" d="M164.6 262.1 165.6 262.4 176.2 255.8 175.2 255.5z"/>
<path color="#2d54f7" d="M154.1 268.7 155.1 269 165.6 262.4 164.6 262.1z"/>
<path color="#2d51f6" d="M143.5 275.4 144.5 275.7 155.1 269 154.1 268.7z"/>
<path color="#2e4ef5" d="M133 282 134 282.3 144.5 275.7 143.5 275.4z"/>
<path color="#2f4bf3" d="M122.5 288.7 123.4 289 134 282.3 133 282z"/>
<path color="#2f49f2" d="M111.9 295.3 112.9 295.6 123.4 289 122.5 288.7z"/>
<path color="#2859f4" d="M186.7 249.1 187.7 249.3 198.2 242.6 197.2 242.5z"/>
<path color="#2a57f4" d="M176.2 255.8 177.1 255.9 187.7 249.3 186.7 249.1z"/>
<path color="#2b54f4" d="M165.6 262.4 166.6 262.5 177.1 255.9 176.2 255.8z"/>
<path color="#2c51f2" d="M155.1 269 156 269.2 166.6 262.5 165.6 262.4z"/>
<path color="#2d4ff1" d="M144.5 275.7 145.5 275.8 156 269.2 155.1 269z"/>
<path color="#2d4cf0" d="M134 282.3 134.9 282.5 145.5 275.8 144.5 275.7z"/>
<path color="#2e49ee" d="M123.4 289 124.4 289.1 134.9 282.5 134 282.3z"/>
<path color="#2f47ed" d="M112.9 295.6 113.8 295.7 124.4 289.1 123.4 289z"/>
<path color="#2a5afb" d="M187.7 249.3 188.6 249.6 199.2 243 198.2 242.6z"/>
<path color="#2c58fb" d="M177.1 255.9 178.1 256.3 188.6 249.6 187.7 249.3z"/>
<path color="#2d55fa" d="M166.6 262.5 167.5 262.9 178.1 256.3 177.1 255.9z"/>
<path color="#2d53f8" d="M156 269.2 157 269.5 167.5 262.9 166.6 262.5z"/>
<path color="#2e50f7" d="M145.5 275.8 146.5 276.2 157 269.5 156 269.2z"/>
<path color="#2f4df6" d="M134.9 282.5 135.9 282.8 146.5 276.2 145.5 275.8z"/>
<path color="#304af4" d="M124.4 289.1 125.4 289.4 135.9 282.8 134.9 282.5z"/>
<path color="#3048f3" d="M113.8 295.7 114.8 296.1 125.4 289.4 124.4 289.1z"/>
<path color="#2363f8" d="M188.6 249.6 189.6 249.9 200.2 243.3 199.2 243z"/>
<path color="#2461f8" d="M178.1 256.3 179.1 256.5 189.6 249.9 188.6 249.6z"/>
<path color="#265ef8" d="M167.5 262.9 168.5 263.2 179.1 256.5 178.1 256.3z"/>
<path color="#285cf8" d="M157 269.5 158 269.8 168.5 263.2 167.5 262.9z"/>
<path color="#295af8" d="M146.5 276.2 147.4 276.5 158 269.8 157 269.5z"/>
<path color="#2b58f8" d="M135.9 282.8 136.9 283.1 147.4 276.5 146.5 276.2z"/>
<path color="#2c55f8" d="M125.4 289.4 126.3 289.7 136.9 283.1 135.9 282.8z"/>
<path color="#2d53f7" d="M114.8 296.1 115.8 296.4 126.3 289.7 125.4 289.4z"/>
<path color="#1f68f7" d="M189.6 249.9 190.6 250.1 201.1 243.5 200.2 243.3z"/>
<path color="#2066f7" d="M179.1 256.5 180 256.8 190.6 250.1 189.6 249.9z"/>
<path color="#2263f7" d="M168.5 263.2 169.5 263.4 180 256.8 179.1 256.5z"/>
<path color="#2361f7" d="M158 269.8 158.9 270 169.5 263.4 168.5 263.2z"/>
<path color="#255ff7" d="M147.4 276.5 148.4 276.7 158.9 270 158 269.8z"/>
<path color="#275df7" d="M136.9 283.1 137.8 283.3 148.4 276.7 147.4 276.5z"/>
<path color="#285af7" d="M126.3 289.7 127.3 290 137.8 283.3 136.9 283.1z"/>
<path color="#2a59f7" d="M115.8 296.4 116.8 296.6 127.3 290 126.3 289.7z"/>
<path color="#2755ec" d="M190.6 250.1 191.5 250.1 202.1 243.3 201.1 243.5z"/>
<path color="#2a53ef" d="M180 256.8 181 256.8 191.5 250.1 190.6 250.1z"/>
<path color="#2c51f1" d="M169.5 263.4 170.5 263.6 181 256.8 180 256.8z"/>
<path color="#2d50f4" d="M158.9 270 159.9 270.4 170.5 263.6 169.5 263.4z"/>
<path color="#2f4ef6" d="M148.4 276.7 149.4 277.1 159.9 270.4 158.9 270z"/>
<path color="#304cf6" d="M137.8 283.3 138.8 283.7 149.4 277.1 148.4 276.7z"/>
<path color="#3049f5" d="M127.3 290 128.3 290.4 138.8 283.7 137.8 283.3z"/>
<path color="#3147f4" d="M116.8 296.6 117.7 297 128.3 290.4 127.3 290z"/>
<path color="#2652e3" d="M191.5 250.1 192.5 249.6 203.1 242.9 202.1 243.3z"/>
<path color="#274fe1" d="M181 256.8 182 256.3 192.5 249.6 191.5 250.1z"/>
<path color="#284bde" d="M170.5 263.6 171.4 263 182 256.3 181 256.8z"/>
<path color="#2946db" d="M159.9 270.4 160.9 269.8 171.4 263 170.5 263.6z"/>
<path color="#2a42d9" d="M149.4 277.1 150.3 276.6 160.9 269.8 159.9 270.4z"/>
<path color="#2c3fda" d="M138.8 283.7 139.8 283.3 150.3 276.6 149.4 277.1z"/>
<path color="#2e3bdc" d="M128.3 290.4 129.2 290.1 139.8 283.3 138.8 283.7z"/>
<path color="#3039dc" d="M117.7 297 118.7 296.9 129.2 290.1 128.3 290.4z"/>
<path color="#1e56d9" d="M192.5 249.6 193.5 248.8 204 242.2 203.1 242.9z"/>
<path color="#1f54d7" d="M182 256.3 182.9 255.5 193.5 248.8 192.5 249.6z"/>
<path color="#2152d6" d="M171.4 263 172.4 262.2 182.9 255.5 182 256.3z"/>
<path color="#224fd6" d="M160.9 269.8 161.9 268.9 172.4 262.2 171.4 263z"/>
<path color="#244cd6" d="M150.3 276.6 151.3 275.7 161.9 268.9 160.9 269.8z"/>
<path color="#2648d5" d="M139.8 283.3 140.8 282.5 151.3 275.7 150.3 276.6z"/>
<path color="#2744d3" d="M129.2 290.1 130.2 289.3 140.8 282.5 139.8 283.3z"/>
<path color="#2840d0" d="M118.7 296.9 119.7 296.1 130.2 289.3 129.2 290.1z"/>
<path color="#185cd4" d="M193.5 248.8 194.5 247.9 205 241.4 204 242.2z"/>
<path color="#185ad2" d="M182.9 255.5 183.9 254.5 194.5 247.9 193.5 248.8z"/>
<path color="#1a58d1" d="M172.4 262.2 173.4 261.2 183.9 254.5 182.9 255.5z"/>
<path color="#1c57d3" d="M161.9 268.9 162.8 268.1 173.4 261.2 172.4 262.2z"/>
<path color="#1e55d6" d="M151.3 275.7 152.3 274.9 162.8 268.1 161.9 268.9z"/>
<path color="#2152d8" d="M140.8 282.5 141.7 281.8 152.3 274.9 151.3 275.7z"/>
<path color="#2350da" d="M130.2 289.3 131.2 288.6 141.7 281.8 140.8 282.5z"/>
<path color="#264dda" d="M119.7 296.1 120.6 295.4 131.2 288.6 130.2 289.3z"/>
<path color="#105fb9" d="M194.5 247.9 195.4 246.1 206 239.7 205 241.4z"/>
<path color="#105cb5" d="M183.9 254.5 184.9 252.5 195.4 246.1 194.5 247.9z"/>
<path color="#105bb5" d="M173.4 261.2 174.3 259.4 184.9 252.5 183.9 254.5z"/>
<path color="#125abc" d="M162.8 268.1 163.8 266.5 174.3 259.4 173.4 261.2z"/>
<path color="#1459c5" d="M152.3 274.9 153.2 273.6 163.8 266.5 162.8 268.1z"/>
<path color="#1758cc" d="M141.7 281.8 142.7 280.7 153.2 273.6 152.3 274.9z"/>
<path color="#1b57d1" d="M131.2 288.6 132.2 287.7 142.7 280.7 141.7 281.8z"/>
<path color="#1e55d5" d="M120.6 295.4 121.6 294.6 132.2 287.7 131.2 288.6z"/>
<path color="#095b92" d="M195.4 246.1 196.4 242.9 206.9 236.9 206 239.7z"/>
<path color="#085588" d="M184.9 252.5 185.9 249.1 196.4 242.9 195.4 246.1z"/>
<path color="#085487" d="M174.3 259.4 175.3 256 185.9 249.1 184.9 252.5z"/>
<path color="#0a5591" d="M163.8 266.5 164.8 263.8 175.3 256 174.3 259.4z"/>
<path color="#0d59a2" d="M153.2 273.6 154.2 271.4 164.8 263.8 163.8 266.5z"/>
<path color="#0f5bb2" d="M142.7 280.7 143.7 278.9 154.2 271.4 153.2 273.6z"/>
<path color="#125bbf" d="M132.2 287.7 133.1 286.3 143.7 278.9 142.7 280.7z"/>
<path color="#155aca" d="M121.6 294.6 122.6 293.5 133.1 286.3 132.2 287.7z"/>
<path color="#086487" d="M196.4 242.9 197.4 238.7 207.9 233.5 206.9 236.9z"/>
<path color="#086787" d="M185.9 249.1 186.8 244.2 197.4 238.7 196.4 242.9z"/>
<path color="#086987" d="M175.3 256 176.3 251.3 186.8 244.2 185.9 249.1z"/>
<path color="#086287" d="M164.8 263.8 165.7 259.8 176.3 251.3 175.3 256z"/>
<path color="#085a87" d="M154.2 271.4 155.2 268.2 165.7 259.8 164.8 263.8z"/>
<path color="#095d96" d="M143.7 278.9 144.6 276.4 155.2 268.2 154.2 271.4z"/>
<path color="#0c61ab" d="M133.1 286.3 134.1 284.4 144.6 276.4 143.7 278.9z"/>
<path color="#1063bf" d="M122.6 293.5 123.6 292.2 134.1 284.4 133.1 286.3z"/>
<path color="#0c7c93" d="M197.4 238.7 198.3 235.1 208.9 230.9 207.9 233.5z"/>
<path color="#137984" d="M186.8 244.2 187.8 239.6 198.3 235.1 197.4 238.7z"/>
<path color="#187c7f" d="M176.3 251.3 177.2 246.2 187.8 239.6 186.8 244.2z"/>
<path color="#0e7788" d="M165.7 259.8 166.7 255.1 177.2 246.2 176.3 251.3z"/>
<path color="#0a6d88" d="M155.2 268.2 156.2 264.1 166.7 255.1 165.7 259.8z"/>
<path color="#086487" d="M144.6 276.4 145.6 273.1 156.2 264.1 155.2 268.2z"/>
<path color="#096596" d="M134.1 284.4 135.1 282 145.6 273.1 144.6 276.4z"/>
<path color="#0b6bae" d="M123.6 292.2 124.5 290.5 135.1 282 134.1 284.4z"/>
<path color="#27c8cd" d="M198.3 235.1 199.3 234.1 209.9 230.6 208.9 230.9z"/>
<path color="#3fb39d" d="M187.8 239.6 188.8 237.7 199.3 234.1 198.3 235.1z"/>
<path color="#579f6d" d="M177.2 246.2 178.2 243.7 188.8 237.7 187.8 239.6z"/>
<path color="#359784" d="M166.7 255.1 167.7 252.8 178.2 243.7 177.2 246.2z"/>
<path color="#1a98a1" d="M156.2 264.1 157.1 261.9 167.7 252.8 166.7 255.1z"/>
<path color="#0e93b1" d="M145.6 273.1 146.6 271.2 157.1 261.9 156.2 264.1z"/>
<path color="#0b8fb9" d="M135.1 282 136 280.5 146.6 271.2 145.6 273.1z"/>
<path color="#0c8bc7" d="M124.5 290.5 125.5 289.5 136 280.5 135.1 282z"/>
<path color="#61fad3" d="M199.3 234.1 200.3 235.2 210.8 231.8 209.9 230.6z"/>
<path color="#73f5bc" d="M188.8 237.7 189.7 238.6 200.3 235.2 199.3 234.1z"/>
<path color="#a6ed82" d="M178.2 243.7 179.2 244.1 189.7 238.6 188.8 237.7z"/>
<path color="#72e0a3" d="M167.7 252.8 168.6 252.7 179.2 244.1 178.2 243.7z"/>
<path color="#4fd5b7" d="M157.1 261.9 158.1 261.6 168.6 252.7 167.7 252.8z"/>
<path color="#29ced2" d="M146.6 271.2 147.6 270.7 158.1 261.6 157.1 261.9z"/>
<path color="#12bde1" d="M136 280.5 137 280 147.6 270.7 146.6 271.2z"/>
<path color="#0ea9e2" d="M125.5 289.5 126.5 289.3 137 280 136 280.5z"/>
<path color="#57fde0" d="M200.3 235.2 201.2 237.8 211.8 234.1 210.8 231.8z"/>
<path color="#6ffdca" d="M189.7 238.6 190.7 241.3 201.2 237.8 200.3 235.2z"/>
<path color="#8afdb0" d="M179.2 244.1 180.2 246.7 190.7 241.3 189.7 238.6z"/>
<path color="#78fdc2" d="M168.6 252.7 169.6 254.7 180.2 246.7 179.2 244.1z"/>
<path color="#5cfddb" d="M158.1 261.6 159.1 263 169.6 254.7 168.6 252.7z"/>
<path color="#40fdf5" d="M147.6 270.7 148.5 271.7 159.1 263 158.1 261.6z"/>
<path color="#29effe" d="M137 280 138 280.7 148.5 271.7 147.6 270.7z"/>
<path color="#1ae0ff" d="M126.5 289.3 127.4 289.8 138 280.7 137 280z"/>
<path color="#3efdf7" d="M201.2 237.8 202.2 241.1 212.8 236.8 211.8 234.1z"/>
<path color="#59fdde" d="M190.7 241.3 191.7 245.1 202.2 241.1 201.2 237.8z"/>
<path color="#73fdc6" d="M180.2 246.7 181.1 250.5 191.7 245.1 190.7 241.3z"/>
<path color="#69fdcf" d="M169.6 254.7 170.6 257.9 181.1 250.5 180.2 246.7z"/>
<path color="#53fde3" d="M159.1 263 160 265.6 170.6 257.9 169.6 254.7z"/>
<path color="#3afdfb" d="M148.5 271.7 149.5 273.7 160 265.6 159.1 263z"/>
<path color="#29f8ff" d="M138 280.7 138.9 282.1 149.5 273.7 148.5 271.7z"/>
<path color="#1befff" d="M127.4 289.8 128.4 290.7 138.9 282.1 138 280.7z"/>
<path color="#28f8ff" d="M202.2 241.1 203.2 244.2 213.7 239.3 212.8 236.8z"/>
<path color="#38fdfc" d="M191.7 245.1 192.6 248.9 203.2 244.2 202.2 241.1z"/>
<path color="#55fde2" d="M181.1 250.5 182.1 254.4 192.6 248.9 191.7 245.1z"/>
<path color="#52fde5" d="M170.6 257.9 171.6 261.3 182.1 254.4 181.1 250.5z"/>
<path color="#43fdf3" d="M160 265.6 161 268.5 171.6 261.3 170.6 257.9z"/>
<path color="#31fcff" d="M149.5 273.7 150.5 276 161 268.5 160 265.6z"/>
<path color="#25f6ff" d="M138.9 282.1 139.9 283.8 150.5 276 149.5 273.7z"/>
<path color="#19f0ff" d="M128.4 290.7 129.4 291.8 139.9 283.8 138.9 282.1z"/>
<path color="#18efff" d="M203.2 244.2 204.2 246.8 214.7 241.3 213.7 239.3z"/>
<path color="#26f6ff" d="M192.6 248.9 193.6 252.1 204.2 246.8 203.2 244.2z"/>
<path color="#34fdff" d="M182.1 254.4 183.1 257.8 193.6 252.1 192.6 248.9z"/>
<path color="#38fdfc" d="M171.6 261.3 172.5 264.4 183.1 257.8 182.1 254.4z"/>
<path color="#32fdff" d="M161 268.5 162 271.2 172.5 264.4 171.6 261.3z"/>
<path color="#2bf9ff" d="M150.5 276 151.4 278.2 162 271.2 161 268.5z"/>
<path color="#22f4ff" d="M139.9 283.8 140.9 285.5 151.4 278.2 150.5 276z"/>
<path color="#18eeff" d="M129.4 291.8 130.3 292.9 140.9 285.5 139.9 283.8z"/>
<path color="#15e3ff" d="M204.2 246.8 205.1 248.7 215.7 242.9 214.7 241.3z"/>
<path color="#1bf1ff" d="M193.6 252.1 194.6 254.4 205.1 248.7 204.2 246.8z"/>
<path color="#29f8ff" d="M183.1 257.8 184 260.4 194.6 254.4 193.6 252.1z"/>
<path color="#2dfbff" d="M172.5 264.4 173.5 266.8 184 260.4 183.1 257.8z"/>
<path color="#2efbff" d="M162 271.2 162.9 273.4 173.5 266.8 172.5 264.4z"/>
<path color="#2af9ff" d="M151.4 278.2 152.4 280.1 162.9 273.4 162 271.2z"/>
<path color="#23f5ff" d="M140.9 285.5 141.9 287 152.4 280.1 151.4 278.2z"/>
<path color="#1af1ff" d="M130.3 292.9 131.3 294 141.9 287 140.9 285.5z"/>
<path color="#10cbff" d="M205.1 248.7 206.1 249.7 216.6 243.7 215.7 242.9z"/>
<path color="#14e0ff" d="M194.6 254.4 195.6 255.8 206.1 249.7 205.1 248.7z"/>
<path color="#19f0ff" d="M184 260.4 185 261.9 195.6 255.8 194.6 254.4z"/>
<path color="#20f4ff" d="M173.5 266.8 174.5 268.2 185 261.9 184 260.4z"/>
<path color="#24f6ff" d="M162.9 273.4 163.9 274.7 174.5 268.2 173.5 266.8z"/>
<path color="#23f5ff" d="M152.4 280.1 153.4 281.3 163.9 274.7 162.9 273.4z"/>
<path color="#1dedff" d="M141.9 287 142.8 288 153.4 281.3 152.4 280.1z"/>
<path color="#17e2ff" d="M131.3 294 132.3 294.7 142.8 288 141.9 287z"/>
<path color="#10baff" d="M206.1 249.7 207.1 250.8 217.6 244.6 216.6 243.7z"/>
<path color="#11d0ff" d="M195.6 255.8 196.5 257 207.1 250.8 206.1 249.7z"/>
<path color="#15e1ff" d="M185 261.9 186 263.2 196.5 257 195.6 255.8z"/>
<path color="#17ebff" d="M174.5 268.2 175.4 269.5 186 263.2 185 261.9z"/>
<path color="#1bf1ff" d="M163.9 274.7 164.9 276 175.4 269.5 174.5 268.2z"/>
<path color="#1cf1ff" d="M153.4 281.3 154.3 282.5 164.9 276 163.9 274.7z"/>
<path color="#18ecff" d="M142.8 288 143.8 289 154.3 282.5 153.4 281.3z"/>
<path color="#16e3ff" d="M132.3 294.7 133.2 295.6 143.8 289 142.8 288z"/>
<path color="#0fa1fb" d="M207.1 250.8 208 251.3 218.6 245 217.6 244.6z"/>
<path color="#0fb3fd" d="M196.5 257 197.5 257.5 208 251.3 207.1 250.8z"/>
<path color="#10c6ff" d="M186 263.2 186.9 263.8 197.5 257.5 196.5 257z"/>
<path color="#13d2ff" d="M175.4 269.5 176.4 270.1 186.9 263.8 186 263.2z"/>
<path color="#16daff" d="M164.9 276 165.9 276.6 176.4 270.1 175.4 269.5z"/>
<path color="#16dcff" d="M154.3 282.5 155.3 283.1 165.9 276.6 164.9 276z"/>
<path color="#15d9ff" d="M143.8 289 144.8 289.5 155.3 283.1 154.3 282.5z"/>
<path color="#14d5ff" d="M133.2 295.6 134.2 296 144.8 289.5 143.8 289z"/>
<path color="#1191fb" d="M208 251.3 209 251.7 219.6 245.5 218.6 245z"/>
<path color="#0fa2fb" d="M197.5 257.5 198.5 258 209 251.7 208 251.3z"/>
<path color="#0fb4fc" d="M186.9 263.8 187.9 264.3 198.5 258 197.5 257.5z"/>
<path color="#0fc4fd" d="M176.4 270.1 177.4 270.7 187.9 264.3 186.9 263.8z"/>
<path color="#12ceff" d="M165.9 276.6 166.8 277.1 177.4 270.7 176.4 270.1z"/>
<path color="#14d2ff" d="M155.3 283.1 156.3 283.6 166.8 277.1 165.9 276.6z"/>
<path color="#13d0ff" d="M144.8 289.5 145.7 290.1 156.3 283.6 155.3 283.1z"/>
<path color="#13cefe" d="M134.2 296 135.2 296.5 145.7 290.1 144.8 289.5z"/>
<path color="#1485fb" d="M209 251.7 210 252.2 220.5 245.9 219.6 245.5z"/>
<path color="#1094fa" d="M198.5 258 199.4 258.5 210 252.2 209 251.7z"/>
<path color="#0fa5fa" d="M187.9 264.3 188.9 264.8 199.4 258.5 198.5 258z"/>
<path color="#0fb5fb" d="M177.4 270.7 178.3 271.1 188.9 264.8 187.9 264.3z"/>
<path color="#10c3fb" d="M166.8 277.1 167.8 277.6 178.3 271.1 177.4 270.7z"/>
<path color="#11c8fc" d="M156.3 283.6 157.2 284 167.8 277.6 166.8 277.1z"/>
<path color="#11c7fc" d="M145.7 290.1 146.7 290.5 157.2 284 156.3 283.6z"/>
<path color="#11c6fc" d="M135.2 296.5 136.2 297 146.7 290.5 145.7 290.1z"/>
<path color="#1487fb" d="M210 252.2 210.9 252.6 221.5 246.3 220.5 245.9z"/>
<path color="#1192fa" d="M199.4 258.5 200.4 258.9 210.9 252.6 210 252.2z"/>
<path color="#0fa3fa" d="M188.9 264.8 189.9 265.2 200.4 258.9 199.4 258.5z"/>
<path color="#0fb2fa" d="M178.3 271.1 179.3 271.6 189.9 265.2 188.9 264.8z"/>
<path color="#0fc2fb" d="M167.8 277.6 168.8 278 179.3 271.6 178.3 271.1z"/>
<path color="#11c7fc" d="M157.2 284 158.2 284.5 168.8 278 167.8 277.6z"/>
<path color="#11c7fc" d="M146.7 290.5 147.7 291 158.2 284.5 157.2 284z"/>
<path color="#11c6fc" d="M136.2 297 137.1 297.4 147.7 291 146.7 290.5z"/>
<path color="#10a6fd" d="M210.9 252.6 211.9 253.1 222.5 246.8 221.5 246.3z"/>
<path color="#10a8fe" d="M200.4 258.9 201.4 259.5 211.9 253.1 210.9 252.6z"/>
<path color="#10b1fe" d="M189.9 265.2 190.8 265.8 201.4 259.5 200.4 258.9z"/>
<path color="#10c1fe" d="M179.3 271.6 180.3 272.1 190.8 265.8 189.9 265.2z"/>
<path color="#12ceff" d="M168.8 278 169.7 278.6 180.3 272.1 179.3 271.6z"/>
<path color="#14d3ff" d="M158.2 284.5 159.2 285.1 169.7 278.6 168.8 278z"/>
<path color="#14d4ff" d="M147.7 291 148.6 291.6 159.2 285.1 158.2 284.5z"/>
<path color="#14d4ff" d="M137.1 297.4 138.1 298 148.6 291.6 147.7 291z"/>
<path color="#0fa2f5" d="M211.9 253.1 212.9 253.4 223.4 247.1 222.5 246.8z"/>
<path color="#0fa3f5" d="M201.4 259.5 202.3 259.7 212.9 253.4 211.9 253.1z"/>
<path color="#0fa8f5" d="M190.8 265.8 191.8 266.1 202.3 259.7 201.4 259.5z"/>
<path color="#0fb8f6" d="M180.3 272.1 181.2 272.4 191.8 266.1 190.8 265.8z"/>
<path color="#11c5f7" d="M169.7 278.6 170.7 278.9 181.2 272.4 180.3 272.1z"/>
<path color="#12caf8" d="M159.2 285.1 160.2 285.4 170.7 278.9 169.7 278.6z"/>
<path color="#12caf8" d="M148.6 291.6 149.6 291.9 160.2 285.4 159.2 285.1z"/>
<path color="#12cbf8" d="M138.1 298 139.1 298.3 149.6 291.9 148.6 291.6z"/>
<path color="#0fa2fb" d="M212.9 253.4 213.9 253.9 224.4 247.5 223.4 247.1z"/>
<path color="#0fa4fb" d="M202.3 259.7 203.3 260.2 213.9 253.9 212.9 253.4z"/>
<path color="#0fa9fb" d="M191.8 266.1 192.8 266.5 203.3 260.2 202.3 259.7z"/>
<path color="#0fb8fc" d="M181.2 272.4 182.2 272.9 192.8 266.5 191.8 266.1z"/>
<path color="#10c7fc" d="M170.7 278.9 171.7 279.4 182.2 272.9 181.2 272.4z"/>
<path color="#12ccfe" d="M160.2 285.4 161.1 285.9 171.7 279.4 170.7 278.9z"/>
<path color="#12ccfe" d="M149.6 291.9 150.6 292.4 161.1 285.9 160.2 285.4z"/>
<path color="#12cdfe" d="M139.1 298.3 140 298.8 150.6 292.4 149.6 291.9z"/>
<path color="#0fa0f9" d="M213.9 253.9 214.8 254.3 225.4 247.9 224.4 247.5z"/>
<path color="#0fa2fa" d="M203.3 260.2 204.3 260.6 214.8 254.3 213.9 253.9z"/>
<path color="#0fa5fa" d="M192.8 266.5 193.7 267 204.3 260.6 203.3 260.2z"/>
<path color="#0fb4fa" d="M182.2 272.9 183.2 273.4 193.7 267 192.8 266.5z"/>
<path color="#10c3fb" d="M171.7 279.4 172.6 279.9 183.2 273.4 182.2 272.9z"/>
<path color="#11c8fc" d="M161.1 285.9 162.1 286.3 172.6 279.9 171.7 279.4z"/>
<path color="#11c9fc" d="M150.6 292.4 151.6 292.8 162.1 286.3 161.1 285.9z"/>
<path color="#11c9fc" d="M140 298.8 141 299.3 151.6 292.8 150.6 292.4z"/>
<path color="#0f9dfa" d="M214.8 254.3 215.8 254.7 226.3 248.4 225.4 247.9z"/>
<path color="#0f9ffa" d="M204.3 260.6 205.3 261.1 215.8 254.7 214.8 254.3z"/>
<path color="#0fa3fa" d="M193.7 267 194.7 267.4 205.3 261.1 204.3 260.6z"/>
<path color="#0fb2fb" d="M183.2 273.4 184.2 273.8 194.7 267.4 193.7 267z"/>
<path color="#0fc1fb" d="M172.6 279.9 173.6 280.3 184.2 273.8 183.2 273.4z"/>
<path color="#10c6fc" d="M162.1 286.3 163.1 286.8 173.6 280.3 172.6 279.9z"/>
<path color="#11c7fc" d="M151.6 292.8 152.5 293.3 163.1 286.8 162.1 286.3z"/>
<path color="#11c7fc" d="M141 299.3 142 299.8 152.5 293.3 151.6 292.8z"/>
<path color="#0f96f7" d="M215.8 254.7 216.8 255.1 227.3 248.7 226.3 248.4z"/>
<path color="#0f97f7" d="M205.3 261.1 206.2 261.4 216.8 255.1 215.8 254.7z"/>
<path color="#0f9cf7" d="M194.7 267.4 195.7 267.8 206.2 261.4 205.3 261.1z"/>
<path color="#0faaf7" d="M184.2 273.8 185.1 274.2 195.7 267.8 194.7 267.4z"/>
<path color="#0fb9f8" d="M173.6 280.3 174.6 280.7 185.1 274.2 184.2 273.8z"/>
<path color="#0fc0f8" d="M163.1 286.8 164 287.2 174.6 280.7 173.6 280.3z"/>
<path color="#0fc0f8" d="M152.5 293.3 153.5 293.7 164 287.2 163.1 286.8z"/>
<path color="#0fc1f8" d="M142 299.8 143 300.1 153.5 293.7 152.5 293.3z"/>
<path color="#1097fc" d="M216.8 255.1 217.7 255.6 228.3 249.2 227.3 248.7z"/>
<path color="#1098fc" d="M206.2 261.4 207.2 261.9 217.7 255.6 216.8 255.1z"/>
<path color="#0f9cfc" d="M195.7 267.8 196.6 268.3 207.2 261.9 206.2 261.4z"/>
<path color="#0fabfd" d="M185.1 274.2 186.1 274.7 196.6 268.3 195.7 267.8z"/>
<path color="#0fbafd" d="M174.6 280.7 175.6 281.2 186.1 274.7 185.1 274.2z"/>
<path color="#0fc1fd" d="M164 287.2 165 287.7 175.6 281.2 174.6 280.7z"/>
<path color="#0fc1fd" d="M153.5 293.7 154.5 294.2 165 287.7 164 287.2z"/>
<path color="#10c2fd" d="M143 300.1 143.9 300.7 154.5 294.2 153.5 293.7z"/>
<path color="#1193fc" d="M217.7 255.6 218.7 256 229.2 249.7 228.3 249.2z"/>
<path color="#1194fc" d="M207.2 261.9 208.2 262.4 218.7 256 217.7 255.6z"/>
<path color="#1099fc" d="M196.6 268.3 197.6 268.8 208.2 262.4 207.2 261.9z"/>
<path color="#0fa8fc" d="M186.1 274.7 187.1 275.2 197.6 268.8 196.6 268.3z"/>
<path color="#0fb6fc" d="M175.6 281.2 176.5 281.7 187.1 275.2 186.1 274.7z"/>
<path color="#0fbdfc" d="M165 287.7 166 288.2 176.5 281.7 175.6 281.2z"/>
<path color="#0fbefc" d="M154.5 294.2 155.4 294.7 166 288.2 165 287.7z"/>
<path color="#0fbefc" d="M143.9 300.7 144.9 301.2 155.4 294.7 154.5 294.2z"/>
<path color="#128cf7" d="M218.7 256 219.7 256.3 230.2 249.9 229.2 249.7z"/>
<path color="#128cf7" d="M208.2 262.4 209.1 262.7 219.7 256.3 218.7 256z"/>
<path color="#1191f7" d="M197.6 268.8 198.6 269.1 209.1 262.7 208.2 262.4z"/>
<path color="#0f9ff6" d="M187.1 275.2 188 275.5 198.6 269.1 197.6 268.8z"/>
<path color="#0fadf6" d="M176.5 281.7 177.5 282 188 275.5 187.1 275.2z"/>
<path color="#0fb3f7" d="M166 288.2 167 288.5 177.5 282 176.5 281.7z"/>
<path color="#0fb4f7" d="M155.4 294.7 156.4 295 167 288.5 166 288.2z"/>
<path color="#0fb5f7" d="M144.9 301.2 145.9 301.5 156.4 295 155.4 294.7z"/>
<path color="#167dfb" d="M219.7 256.3 220.6 256.7 231.2 250.3 230.2 249.9z"/>
<path color="#167efb" d="M209.1 262.7 210.1 263.1 220.6 256.7 219.7 256.3z"/>
<path color="#1488fa" d="M198.6 269.1 199.6 269.5 210.1 263.1 209.1 262.7z"/>
<path color="#1095fa" d="M188 275.5 189 276 199.6 269.5 198.6 269.1z"/>
<path color="#0fa3f9" d="M177.5 282 178.5 282.5 189 276 188 275.5z"/>
<path color="#0faafa" d="M167 288.5 167.9 289 178.5 282.5 177.5 282z"/>
<path color="#0faafa" d="M156.4 295 157.4 295.5 167.9 289 167 288.5z"/>
<path color="#0fabfa" d="M145.9 301.5 146.8 302 157.4 295.5 156.4 295z"/>
<path color="#177dfd" d="M220.6 256.7 221.6 257.2 232.2 250.8 231.2 250.3z"/>
<path color="#177dfd" d="M210.1 263.1 211.1 263.6 221.6 257.2 220.6 256.7z"/>
<path color="#1586fd" d="M199.6 269.5 200.5 270 211.1 263.6 210.1 263.1z"/>
<path color="#1193fc" d="M189 276 190 276.4 200.5 270 199.6 269.5z"/>
<path color="#0fa0fc" d="M178.5 282.5 179.4 282.9 190 276.4 189 276z"/>
<path color="#0fa7fc" d="M167.9 289 168.9 289.5 179.4 282.9 178.5 282.5z"/>
<path color="#0fa7fc" d="M157.4 295.5 158.3 296 168.9 289.5 167.9 289z"/>
<path color="#0fa8fc" d="M146.8 302 147.8 302.5 158.3 296 157.4 295.5z"/>
<path color="#177cfe" d="M221.6 257.2 222.6 257.7 233.1 251.3 232.2 250.8z"/>
<path color="#177cfe" d="M211.1 263.6 212 264.1 222.6 257.7 221.6 257.2z"/>
<path color="#1683fe" d="M200.5 270 201.5 270.5 212 264.1 211.1 263.6z"/>
<path color="#1290fd" d="M190 276.4 191 276.9 201.5 270.5 200.5 270z"/>
<path color="#0f9cfc" d="M179.4 282.9 180.4 283.5 191 276.9 190 276.4z"/>
<path color="#0fa3fc" d="M168.9 289.5 169.9 290 180.4 283.5 179.4 282.9z"/>
<path color="#0fa3fc" d="M158.3 296 159.3 296.5 169.9 290 168.9 289.5z"/>
<path color="#0fa4fc" d="M147.8 302.5 148.8 303 159.3 296.5 158.3 296z"/>
<path color="#1878fd" d="M222.6 257.7 223.6 258.1 234.1 251.7 233.1 251.3z"/>
<path color="#1879fd" d="M212 264.1 213 264.6 223.6 258.1 222.6 257.7z"/>
<path color="#1680fd" d="M201.5 270.5 202.5 271 213 264.6 212 264.1z"/>
<path color="#138cfc" d="M191 276.9 191.9 277.4 202.5 271 201.5 270.5z"/>
<path color="#1098fb" d="M180.4 283.5 181.4 283.9 191.9 277.4 191 276.9z"/>
<path color="#0f9efb" d="M169.9 290 170.8 290.4 181.4 283.9 180.4 283.5z"/>
<path color="#0f9ffb" d="M159.3 296.5 160.3 296.9 170.8 290.4 169.9 290z"/>
<path color="#0fa0fb" d="M148.8 303 149.7 303.5 160.3 296.9 159.3 296.5z"/>
<path color="#167af7" d="M223.6 258.1 224.5 258.4 235.1 252 234.1 251.7z"/>
<path color="#167af7" d="M213 264.6 214 264.8 224.5 258.4 223.6 258.1z"/>
<path color="#167cf7" d="M202.5 271 203.4 271.3 214 264.8 213 264.6z"/>
<path color="#1387f7" d="M191.9 277.4 192.9 277.7 203.4 271.3 202.5 271z"/>
<path color="#1093f6" d="M181.4 283.9 182.3 284.2 192.9 277.7 191.9 277.4z"/>
<path color="#0f99f6" d="M170.8 290.4 171.8 290.7 182.3 284.2 181.4 283.9z"/>
<path color="#0f99f6" d="M160.3 296.9 161.3 297.2 171.8 290.7 170.8 290.4z"/>
<path color="#0f9af6" d="M149.7 303.5 150.7 303.7 161.3 297.2 160.3 296.9z"/>
<path color="#167cf8" d="M224.5 258.4 225.5 258.7 236 252.3 235.1 252z"/>
<path color="#167cf9" d="M214 264.8 215 265.2 225.5 258.7 224.5 258.4z"/>
<path color="#167df9" d="M203.4 271.3 204.4 271.6 215 265.2 214 264.8z"/>
<path color="#1485f8" d="M192.9 277.7 193.9 278 204.4 271.6 203.4 271.3z"/>
<path color="#1190f8" d="M182.3 284.2 183.3 284.6 193.9 278 192.9 277.7z"/>
<path color="#1096f7" d="M171.8 290.7 172.8 291.1 183.3 284.6 182.3 284.2z"/>
<path color="#0f96f7" d="M161.3 297.2 162.2 297.6 172.8 291.1 171.8 290.7z"/>
<path color="#0f97f7" d="M150.7 303.7 151.7 304.1 162.2 297.6 161.3 297.2z"/>
<path color="#177cfe" d="M225.5 258.7 226.5 259.2 237 252.8 236 252.3z"/>
<path color="#177dfe" d="M215 265.2 215.9 265.7 226.5 259.2 225.5 258.7z"/>
<path color="#177dff" d="M204.4 271.6 205.4 272.1 215.9 265.7 215 265.2z"/>
<path color="#1584fe" d="M193.9 278 194.8 278.6 205.4 272.1 204.4 271.6z"/>
<path color="#128ffe" d="M183.3 284.6 184.3 285.1 194.8 278.6 193.9 278z"/>
<path color="#1195fd" d="M172.8 291.1 173.7 291.6 184.3 285.1 183.3 284.6z"/>
<path color="#1196fd" d="M162.2 297.6 163.2 298.1 173.7 291.6 172.8 291.1z"/>
<path color="#1196fd" d="M151.7 304.1 152.7 304.6 163.2 298.1 162.2 297.6z"/>
<path color="#1878fb" d="M226.5 259.2 227.4 259.6 238 253.2 237 252.8z"/>
<path color="#1878fc" d="M215.9 265.7 216.9 266.1 227.4 259.6 226.5 259.2z"/>
<path color="#1878fc" d="M205.4 272.1 206.3 272.5 216.9 266.1 215.9 265.7z"/>
<path color="#167ffb" d="M194.8 278.6 195.8 279 206.3 272.5 205.4 272.1z"/>
<path color="#138afb" d="M184.3 285.1 185.3 285.5 195.8 279 194.8 278.6z"/>
<path color="#128ffa" d="M173.7 291.6 174.7 292 185.3 285.5 184.3 285.1z"/>
<path color="#1290fa" d="M163.2 298.1 164.2 298.5 174.7 292 173.7 291.6z"/>
<path color="#1290fa" d="M152.7 304.6 153.6 305.1 164.2 298.5 163.2 298.1z"/>
<path color="#1b73ff" d="M227.4 259.6 228.4 260.2 238.9 253.7 238 253.2z"/>
<path color="#1b73ff" d="M216.9 266.1 217.9 266.6 228.4 260.2 227.4 259.6z"/>
<path color="#1b73ff" d="M206.3 272.5 207.3 273.1 217.9 266.6 216.9 266.1z"/>
<path color="#187aff" d="M195.8 279 196.8 279.5 207.3 273.1 206.3 272.5z"/>
<path color="#1684ff" d="M185.3 285.5 186.2 286.1 196.8 279.5 195.8 279z"/>
<path color="#1489ff" d="M174.7 292 175.7 292.6 186.2 286.1 185.3 285.5z"/>
<path color="#148aff" d="M164.2 298.5 165.1 299.1 175.7 292.6 174.7 292z"/>
<path color="#148bff" d="M153.6 305.1 154.6 305.6 165.1 299.1 164.2 298.5z"/>
<path color="#2764ff" d="M228.4 260.2 229.4 260.8 239.9 254.4 238.9 253.7z"/>
<path color="#2764ff" d="M217.9 266.6 218.8 267.3 229.4 260.8 228.4 260.2z"/>
<path color="#2469ff" d="M207.3 273.1 208.3 273.8 218.8 267.3 217.9 266.6z"/>
<path color="#1d72ff" d="M196.8 279.5 197.7 280.2 208.3 273.8 207.3 273.1z"/>
<path color="#197cff" d="M186.2 286.1 187.2 286.7 197.7 280.2 196.8 279.5z"/>
<path color="#1781ff" d="M175.7 292.6 176.7 293.3 187.2 286.7 186.2 286.1z"/>
<path color="#1781ff" d="M165.1 299.1 166.1 299.8 176.7 293.3 175.7 292.6z"/>
<path color="#1782ff" d="M154.6 305.6 155.6 306.3 166.1 299.8 165.1 299.1z"/>
<path color="#285dfa" d="M229.4 260.8 230.3 261.2 240.9 254.7 239.9 254.4z"/>
<path color="#285dfa" d="M218.8 267.3 219.8 267.7 230.3 261.2 229.4 260.8z"/>
<path color="#2463fb" d="M208.3 273.8 209.3 274.1 219.8 267.7 218.8 267.3z"/>
<path color="#1e6bfb" d="M197.7 280.2 198.7 280.6 209.3 274.1 208.3 273.8z"/>
<path color="#1973fa" d="M187.2 286.7 188.2 287.1 198.7 280.6 197.7 280.2z"/>
<path color="#1878fa" d="M176.7 293.3 177.6 293.6 188.2 287.1 187.2 286.7z"/>
<path color="#1778fa" d="M166.1 299.8 167.1 300.1 177.6 293.6 176.7 293.3z"/>
<path color="#1779fa" d="M155.6 306.3 156.5 306.6 167.1 300.1 166.1 299.8z"/>
<path color="#285dfa" d="M230.3 261.2 231.3 261.5 241.9 255.1 240.9 254.7z"/>
<path color="#285dfa" d="M219.8 267.7 220.8 268 231.3 261.5 230.3 261.2z"/>
<path color="#2561fa" d="M209.3 274.1 210.2 274.5 220.8 268 219.8 267.7z"/>
<path color="#1f69fa" d="M198.7 280.6 199.7 280.9 210.2 274.5 209.3 274.1z"/>
<path color="#1a71fa" d="M188.2 287.1 189.1 287.4 199.7 280.9 198.7 280.6z"/>
<path color="#1875fa" d="M177.6 293.6 178.6 294 189.1 287.4 188.2 287.1z"/>
<path color="#1875fa" d="M167.1 300.1 168 300.5 178.6 294 177.6 293.6z"/>
<path color="#1876fa" d="M156.5 306.6 157.5 307 168 300.5 167.1 300.1z"/>
<path color="#2a5dff" d="M231.3 261.5 232.3 262.1 242.8 255.6 241.9 255.1z"/>
<path color="#2a5dff" d="M220.8 268 221.7 268.5 232.3 262.1 231.3 261.5z"/>
<path color="#2761ff" d="M210.2 274.5 211.2 275 221.7 268.5 220.8 268z"/>
<path color="#2269ff" d="M199.7 280.9 200.7 281.5 211.2 275 210.2 274.5z"/>
<path color="#1c71ff" d="M189.1 287.4 190.1 288 200.7 281.5 199.7 280.9z"/>
<path color="#1a75ff" d="M178.6 294 179.6 294.5 190.1 288 189.1 287.4z"/>
<path color="#1975ff" d="M168 300.5 169 301 179.6 294.5 178.6 294z"/>
<path color="#1976ff" d="M157.5 307 158.5 307.5 169 301 168 300.5z"/>
<path color="#2e57ff" d="M232.3 262.1 233.3 262.6 243.8 256.1 242.8 255.6z"/>
<path color="#2e56ff" d="M221.7 268.5 222.7 269.1 233.3 262.6 232.3 262.1z"/>
<path color="#2a5eff" d="M211.2 275 212.2 275.5 222.7 269.1 221.7 268.5z"/>
<path color="#2466ff" d="M200.7 281.5 201.6 282 212.2 275.5 211.2 275z"/>
<path color="#1e6eff" d="M190.1 288 191.1 288.5 201.6 282 200.7 281.5z"/>
<path color="#1c72ff" d="M179.6 294.5 180.5 295.1 191.1 288.5 190.1 288z"/>
<path color="#1b72ff" d="M169 301 170 301.6 180.5 295.1 179.6 294.5z"/>
<path color="#1b72ff" d="M158.5 307.5 159.4 308.1 170 301.6 169 301z"/>
<path color="#2f55ff" d="M233.3 262.6 234.2 263.2 244.8 256.7 243.8 256.1z"/>
<path color="#2f54ff" d="M222.7 269.1 223.7 269.7 234.2 263.2 233.3 262.6z"/>
<path color="#2b5dff" d="M212.2 275.5 213.1 276.1 223.7 269.7 222.7 269.1z"/>
<path color="#2664ff" d="M201.6 282 202.6 282.6 213.1 276.1 212.2 275.5z"/>
<path color="#206cff" d="M191.1 288.5 192 289.1 202.6 282.6 201.6 282z"/>
<path color="#1e6fff" d="M180.5 295.1 181.5 295.6 192 289.1 191.1 288.5z"/>
<path color="#1d70ff" d="M170 301.6 171 302.2 181.5 295.6 180.5 295.1z"/>
<path color="#1d70ff" d="M159.4 308.1 160.4 308.7 171 302.2 170 301.6z"/>
<path color="#1f6dff" d="M234.2 263.2 235.2 263.7 245.7 257.3 244.8 256.7z"/>
<path color="#1f6dff" d="M223.7 269.7 224.7 270.2 235.2 263.7 234.2 263.2z"/>
<path color="#1f6cff" d="M213.1 276.1 214.1 276.7 224.7 270.2 223.7 269.7z"/>
<path color="#1c70ff" d="M202.6 282.6 203.6 283.2 214.1 276.7 213.1 276.1z"/>
<path color="#1978ff" d="M192 289.1 193 289.7 203.6 283.2 202.6 282.6z"/>
<path color="#187cff" d="M181.5 295.6 182.5 296.2 193 289.7 192 289.1z"/>
<path color="#177dff" d="M171 302.2 171.9 302.7 182.5 296.2 181.5 295.6z"/>
<path color="#177dff" d="M160.4 308.7 161.4 309.2 171.9 302.7 171 302.2z"/>
<path color="#1974fd" d="M235.2 263.7 236.2 264.2 246.7 257.7 245.7 257.3z"/>
<path color="#1973fd" d="M224.7 270.2 225.6 270.6 236.2 264.2 235.2 263.7z"/>
<path color="#1973fd" d="M214.1 276.7 215.1 277.1 225.6 270.6 224.7 270.2z"/>
<path color="#1973fd" d="M203.6 283.2 204.5 283.6 215.1 277.1 214.1 276.7z"/>
<path color="#1879fd" d="M193 289.7 194 290.1 204.5 283.6 203.6 283.2z"/>
<path color="#177dfc" d="M182.5 296.2 183.4 296.6 194 290.1 193 289.7z"/>
<path color="#177dfc" d="M171.9 302.7 172.9 303.1 183.4 296.6 182.5 296.2z"/>
<path color="#167efc" d="M161.4 309.2 162.4 309.6 172.9 303.1 171.9 302.7z"/>
<path color="#1a71fd" d="M236.2 264.2 237.1 264.6 247.7 258.1 246.7 257.7z"/>
<path color="#1b70fd" d="M225.6 270.6 226.6 271.1 237.1 264.6 236.2 264.2z"/>
<path color="#1b70fd" d="M215.1 277.1 216 277.6 226.6 271.1 225.6 270.6z"/>
<path color="#1b70fd" d="M204.5 283.6 205.5 284 216 277.6 215.1 277.1z"/>
<path color="#1876fd" d="M194 290.1 195 290.6 205.5 284 204.5 283.6z"/>
<path color="#177afc" d="M183.4 296.6 184.4 297.1 195 290.6 194 290.1z"/>
<path color="#177bfc" d="M172.9 303.1 173.9 303.6 184.4 297.1 183.4 296.6z"/>
<path color="#177bfc" d="M162.4 309.6 163.3 310.1 173.9 303.6 172.9 303.1z"/>
<path color="#1c72ff" d="M237.1 264.6 238.1 265.2 248.7 258.7 247.7 258.1z"/>
<path color="#1c71ff" d="M226.6 271.1 227.6 271.7 238.1 265.2 237.1 264.6z"/>
<path color="#1c71ff" d="M216 277.6 217 278.1 227.6 271.7 226.6 271.1z"/>
<path color="#1d71ff" d="M205.5 284 206.5 284.6 217 278.1 216 277.6z"/>
<path color="#1a76ff" d="M195 290.6 195.9 291.1 206.5 284.6 205.5 284z"/>
<path color="#197aff" d="M184.4 297.1 185.4 297.7 195.9 291.1 195 290.6z"/>
<path color="#187aff" d="M173.9 303.6 174.8 304.2 185.4 297.7 184.4 297.1z"/>
<path color="#187bff" d="M163.3 310.1 164.3 310.7 174.8 304.2 173.9 303.6z"/>
<path color="#2f50f9" d="M238.1 265.2 239.1 265.6 249.6 259.1 248.7 258.7z"/>
<path color="#2f50f9" d="M227.6 271.7 228.5 272.1 239.1 265.6 238.1 265.2z"/>
<path color="#2d57fd" d="M217 278.1 218 278.6 228.5 272.1 227.6 271.7z"/>
<path color="#295efd" d="M206.5 284.6 207.4 285.1 218 278.6 217 278.1z"/>
<path color="#2464fd" d="M195.9 291.1 196.9 291.6 207.4 285.1 206.5 284.6z"/>
<path color="#2267fd" d="M185.4 297.7 186.4 298.1 196.9 291.6 195.9 291.1z"/>
<path color="#2168fd" d="M174.8 304.2 175.8 304.6 186.4 298.1 185.4 297.7z"/>
<path color="#2168fd" d="M164.3 310.7 165.3 311.1 175.8 304.6 174.8 304.2z"/>
<path color="#343be8" d="M239.1 265.6 240 266.1 250.6 259.6 249.6 259.1z"/>
<path color="#3342f3" d="M228.5 272.1 229.5 272.6 240 266.1 239.1 265.6z"/>
<path color="#314af8" d="M218 278.6 219 279.1 229.5 272.6 228.5 272.1z"/>
<path color="#2f51fc" d="M207.4 285.1 208.4 285.6 219 279.1 218 278.6z"/>
<path color="#2d59ff" d="M196.9 291.6 197.9 292.1 208.4 285.6 207.4 285.1z"/>
<path color="#2b5cff" d="M186.4 298.1 187.3 298.6 197.9 292.1 196.9 291.6z"/>
<path color="#2a5dff" d="M175.8 304.6 176.8 305.1 187.3 298.6 186.4 298.1z"/>
<path color="#2a5dff" d="M165.3 311.1 166.2 311.6 176.8 305.1 175.8 304.6z"/>
<path color="#3239e2" d="M240 266.1 241 266.3 251.6 259.8 250.6 259.6z"/>
<path color="#323fed" d="M229.5 272.6 230.5 272.9 241 266.3 240 266.1z"/>
<path color="#3046f0" d="M219 279.1 219.9 279.4 230.5 272.9 229.5 272.6z"/>
<path color="#2e4df4" d="M208.4 285.6 209.4 285.9 219.9 279.4 219 279.1z"/>
<path color="#2d55f8" d="M197.9 292.1 198.8 292.4 209.4 285.9 208.4 285.6z"/>
<path color="#2b58fa" d="M187.3 298.6 188.3 299 198.8 292.4 197.9 292.1z"/>
<path color="#2b59fb" d="M176.8 305.1 177.7 305.5 188.3 299 187.3 298.6z"/>
<path color="#2b59fb" d="M166.2 311.6 167.2 312 177.7 305.5 176.8 305.1z"/>
</g>
<polygon points="31.4,273.5 32.4,273.7 33.3,274 34.3,273.9 35.3,273.5 36.2,273.4 37.2,274.2 38.2,274.7 39.2,275 40.1,274.5 41.1,274 42.1,274.3 43,273.7 44,270.8 45,269.3 46,270.2 46.9,272.1 47.9,274 48.9,275.8 49.8,277 50.8,277.7 51.8,278.3 52.7,278.5 53.7,278.8 54.7,279.1 55.7,279.6 56.6,279.5 57.6,279.9 58.6,280.1 59.5,280.1 60.5,278.5 61.5,275.9 62.4,275.3 63.4,277 64.4,277.6 65.3,275.1 66.3,274.1 67.3,274.6 68.3,275.8 69.2,277 70.2,278.6 71.2,280 72.1,281.3 73.1,282.5 74.1,283.4 75,284 76,284.1 77,283.6 78,283.6 78.9,283.8 79.9,284.2 80.9,285.1 81.8,285.8 82.8,286.5 83.8,286.9 84.8,287.5 85.7,287.7 86.7,287.9 87.7,288.2 88.6,288.6 89.6,288.8 90.6,289.1 91.5,289.4 92.5,289.8 93.5,289.9 94.4,290.1 95.4,289.6 96.4,288.8 97.4,288.5 98.3,289.3 99.3,290.3 100.3,291.4 101.2,292 102.2,292.5 103.2,292.8 104.2,293.1 105.1,293.3 106.1,293.7 107.1,293.9 108,294.1 109,294.4 110,294.8 110.9,295 111.9,295.3 112.9,295.6 113.8,295.7 114.8,296.1 115.8,296.4 116.8,296.6 117.7,297 118.7,296.9 119.7,296.1 120.6,295.4 121.6,294.6 122.6,293.5 123.6,292.2 124.5,290.5 125.5,289.5 126.5,289.3 127.4,289.8 128.4,290.7 129.4,291.8 130.3,292.9 131.3,294 132.3,294.7 133.2,295.6 134.2,296 135.2,296.5 136.2,297 137.1,297.4 138.1,298 139.1,298.3 140,298.8 141,299.3 142,299.8 143,300.1 143.9,300.7 144.9,301.2 145.9,301.5 146.8,302 147.8,302.5 148.8,303 149.7,303.5 150.7,303.7 151.7,304.1 152.7,304.6 153.6,305.1 154.6,305.6 155.6,306.3 156.5,306.6 157.5,307 158.5,307.5 159.4,308.1 160.4,308.7 161.4,309.2 162.4,309.6 163.3,310.1 164.3,310.7 165.3,311.1 166.2,311.6 167.2,312 167.2,314.5 166.2,314.2 165.3,314 164.3,313.7 163.3,313.4 162.4,313.1 161.4,312.9 160.4,312.6 159.4,312.3 158.5,312.1 157.5,311.8 156.5,311.5 155.6,311.2 154.6,311 153.6,310.7 152.7,310.4 151.7,310.2 150.7,309.9 149.7,309.6 148.8,309.3 147.8,309.1 146.8,308.8 145.9,308.5 144.9,308.3 143.9,308 143,307.7 142,307.4 141,307.2 140,306.9 139.1,306.6 138.1,306.4 137.1,306.1 136.2,305.8 135.2,305.5 134.2,305.3 133.2,305 132.3,304.7 131.3,304.5 130.3,304.2 129.4,303.9 128.4,303.6 127.4,303.4 126.5,303.1 125.5,302.8 124.5,302.6 123.6,302.3 122.6,302 121.6,301.7 120.6,301.5 119.7,301.2 118.7,300.9 117.7,300.7 116.8,300.4 115.8,300.1 114.8,299.8 113.8,299.6 112.9,299.3 111.9,299 110.9,298.8 110,298.5 109,298.2 108,297.9 107.1,297.7 106.1,297.4 105.1,297.1 104.2,296.9 103.2,296.6 102.2,296.3 101.2,296 100.3,295.8 99.3,295.5 98.3,295.2 97.4,295 96.4,294.7 95.4,294.4 94.4,294.1 93.5,293.9 92.5,293.6 91.5,293.3 90.6,293.1 89.6,292.8 88.6,292.5 87.7,292.2 86.7,292 85.7,291.7 84.8,291.4 83.8,291.2 82.8,290.9 81.8,290.6 80.9,290.3 79.9,290.1 78.9,289.8 78,289.5 77,289.3 76,289 75,288.7 74.1,288.4 73.1,288.2 72.1,287.9 71.2,287.6 70.2,287.4 69.2,287.1 68.3,286.8 67.3,286.5 66.3,286.3 65.3,286 64.4,285.7 63.4,285.5 62.4,285.2 61.5,284.9 60.5,284.6 59.5,284.4 58.6,284.1 57.6,283.8 56.6,283.6 55.7,283.3 54.7,283 53.7,282.7 52.7,282.5 51.8,282.2 50.8,281.9 49.8,281.7 48.9,281.4 47.9,281.1 46.9,280.8 46,280.6 45,280.3 44,280 43,279.8 42.1,279.5 41.1,279.2 40.1,278.9 39.2,278.7 38.2,278.4 37.2,278.1 36.2,277.9 35.3,277.6 34.3,277.3 33.3,277 32.4,276.8 31.4,276.5" fill="#000"/>
<polygon points="167.2,312 169.3,310.7 171.4,309.4 173.5,308.1 175.6,306.8 177.7,305.5 179.9,304.2 182,302.9 184.1,301.6 186.2,300.3 188.3,299 190.4,297.6 192.5,296.3 194.6,295 196.7,293.7 198.8,292.4 200.9,291.1 203.1,289.8 205.2,288.5 207.3,287.2 209.4,285.9 211.5,284.6 213.6,283.3 215.7,282 217.8,280.7 219.9,279.4 222,278.1 224.1,276.8 226.3,275.5 228.4,274.2 230.5,272.9 232.6,271.6 234.7,270.3 236.8,269 238.9,267.7 241,266.3 243.1,265 245.2,263.7 247.3,262.4 249.5,261.1 251.6,259.8 251.6,263 249.5,264.3 247.3,265.5 245.2,266.8 243.1,268.1 241,269.4 238.9,270.7 236.8,272 234.7,273.3 232.6,274.6 230.5,275.9 228.4,277.1 226.3,278.4 224.1,279.7 222,281 219.9,282.3 217.8,283.6 215.7,284.9 213.6,286.2 211.5,287.4 209.4,288.7 207.3,290 205.2,291.3 203.1,292.6 200.9,293.9 198.8,295.2 196.7,296.5 194.6,297.8 192.5,299 190.4,300.3 188.3,301.6 186.2,302.9 184.1,304.2 182,305.5 179.9,306.8 177.7,308.1 175.6,309.3 173.5,310.6 171.4,311.9 169.3,313.2 167.2,314.5" fill="#000"/>
<path d="M320.9 280.6L320.9 243.9M325.5 277.9L325.5 241.2M330.2 275.2L330.2 238.5M334.8 272.5L334.8 235.8M339.4 269.8L339.4 233.1M344 267.1L344 230.4M348.7 264.4L348.7 227.7M353.3 261.7L353.3 225M357.9 259L357.9 222.3M362.5 256.3L362.5 219.6M367.2 253.6L367.2 216.9M371.8 250.9L371.8 214.2M376.4 248.2L376.4 211.5M381.1 245.5L381.1 208.8M385.7 242.8L385.7 206.1M390.3 240.1L390.3 203.4M394.9 237.4L394.9 200.7M399.6 234.7L399.6 198M404.2 232L404.2 195.3M320.9 280.6L404.2 232M320.9 276.9L404.2 228.3M320.9 273.3L404.2 224.7M320.9 269.6L404.2 221M320.9 265.9L404.2 217.3M320.9 262.2L404.2 213.7M320.9 258.6L404.2 210M320.9 254.9L404.2 206.3M320.9 251.2L404.2 202.6M320.9 247.6L404.2 199M320.9 243.9L404.2 195.3M404.2 232L404.2 195.3M416.6 235.2L416.6 198.5M428.9 238.4L428.9 201.7M441.2 241.7L441.2 205M453.6 244.9L453.6 208.2M465.9 248.1L465.9 211.4M478.3 251.3L478.3 214.6M490.6 254.5L490.6 217.8M503 257.8L503 221.1M515.3 261L515.3 224.3M527.7 264.2L527.7 227.5M404.2 232L527.7 264.2M404.2 228.3L527.7 260.5M404.2 224.7L527.7 256.9M404.2 221L527.7 253.2M404.2 217.3L527.7 249.5M404.2 213.7L527.7 245.8M404.2 210L527.7 242.2M404.2 206.3L527.7 238.5M404.2 202.6L527.7 234.8M404.2 199L527.7 231.2M404.2 195.3L527.7 227.5" fill="none" stroke="#cdcdcd" stroke-width="0.5"/>
<polygon points="320.9,261.2 320.9,280.6 346.6,265.4 346.4,264.3" fill="url(#triD)"/>
<g fill="currentColor" stroke="currentColor" stroke-width="0.35" stroke-linejoin="round">
<path color="#3038db" d="M386.2 236.9 387.1 236.8 396.4 230.9 395.5 231.1z"/>
<path color="#3039dc" d="M376.9 242.7 377.8 242.6 387.1 236.8 386.2 236.9z"/>
<path color="#3039de" d="M367.5 248.5 368.4 248.5 377.8 242.6 376.9 242.7z"/>
<path color="#3139df" d="M358.2 254.3 359.1 254.4 368.4 248.5 367.5 248.5z"/>
<path color="#313ae0" d="M348.9 260.2 349.8 260.2 359.1 254.4 358.2 254.3z"/>
<path color="#313ae2" d="M339.6 266 340.4 266.1 349.8 260.2 348.9 260.2z"/>
<path color="#323ae3" d="M330.2 271.8 331.1 271.9 340.4 266.1 339.6 266z"/>
<path color="#323be5" d="M320.9 277.6 321.8 277.8 331.1 271.9 330.2 271.8z"/>
<path color="#303ae0" d="M387.1 236.8 388 236.7 397.3 230.8 396.4 230.9z"/>
<path color="#303be1" d="M377.8 242.6 378.6 242.6 388 236.7 387.1 236.8z"/>
<path color="#313be2" d="M368.4 248.5 369.3 248.5 378.6 242.6 377.8 242.6z"/>
<path color="#313be4" d="M359.1 254.4 360 254.4 369.3 248.5 368.4 248.5z"/>
<path color="#313ce5" d="M349.8 260.2 350.7 260.3 360 254.4 359.1 254.4z"/>
<path color="#323ce7" d="M340.4 266.1 341.3 266.2 350.7 260.3 349.8 260.2z"/>
<path color="#323ce8" d="M331.1 271.9 332 272.2 341.3 266.2 340.4 266.1z"/>
<path color="#323dea" d="M321.8 277.8 322.7 278.1 332 272.2 331.1 271.9z"/>
<path color="#3035d5" d="M388 236.7 388.9 236.6 398.2 230.7 397.3 230.8z"/>
<path color="#3135d6" d="M378.6 242.6 379.5 242.6 388.9 236.6 388 236.7z"/>
<path color="#3136d8" d="M369.3 248.5 370.2 248.5 379.5 242.6 378.6 242.6z"/>
<path color="#3136d9" d="M360 254.4 360.9 254.5 370.2 248.5 369.3 248.5z"/>
<path color="#3136da" d="M350.7 260.3 351.5 260.4 360.9 254.5 360 254.4z"/>
<path color="#3237dc" d="M341.3 266.2 342.2 266.4 351.5 260.4 350.7 260.3z"/>
<path color="#3237dd" d="M332 272.2 332.9 272.3 342.2 266.4 341.3 266.2z"/>
<path color="#3237de" d="M322.7 278.1 323.5 278.3 332.9 272.3 332 272.2z"/>
<path color="#312fc9" d="M388.9 236.6 389.7 236.6 399.1 230.6 398.2 230.7z"/>
<path color="#322fca" d="M379.5 242.6 380.4 242.6 389.7 236.6 388.9 236.6z"/>
<path color="#322fcb" d="M370.2 248.5 371.1 248.6 380.4 242.6 379.5 242.6z"/>
<path color="#3230cd" d="M360.9 254.5 361.7 254.6 371.1 248.6 370.2 248.5z"/>
<path color="#3230ce" d="M351.5 260.4 352.4 260.6 361.7 254.6 360.9 254.5z"/>
<path color="#3330cf" d="M342.2 266.4 343.1 266.6 352.4 260.6 351.5 260.4z"/>
<path color="#3330d1" d="M332.9 272.3 333.8 272.6 343.1 266.6 342.2 266.4z"/>
<path color="#3331d2" d="M323.5 278.3 324.4 278.6 333.8 272.6 332.9 272.3z"/>
<path color="#312fc8" d="M389.7 236.6 390.6 236.5 399.9 230.5 399.1 230.6z"/>
<path color="#312fca" d="M380.4 242.6 381.3 242.5 390.6 236.5 389.7 236.6z"/>
<path color="#312fcb" d="M371.1 248.6 372 248.6 381.3 242.5 380.4 242.6z"/>
<path color="#3230cc" d="M361.7 254.6 362.6 254.6 372 248.6 371.1 248.6z"/>
<path color="#3230ce" d="M352.4 260.6 353.3 260.7 362.6 254.6 361.7 254.6z"/>
<path color="#3230cf" d="M343.1 266.6 344 266.7 353.3 260.7 352.4 260.6z"/>
<path color="#3331d0" d="M333.8 272.6 334.6 272.8 344 266.7 343.1 266.6z"/>
<path color="#3331d1" d="M324.4 278.6 325.3 278.8 334.6 272.8 333.8 272.6z"/>
<path color="#312ec7" d="M390.6 236.5 391.5 236.4 400.8 230.3 399.9 230.5z"/>
<path color="#312fc8" d="M381.3 242.5 382.2 242.5 391.5 236.4 390.6 236.5z"/>
<path color="#312fc9" d="M372 248.6 372.8 248.5 382.2 242.5 381.3 242.5z"/>
<path color="#312fca" d="M362.6 254.6 363.5 254.6 372.8 248.5 372 248.6z"/>
<path color="#322fcc" d="M353.3 260.7 354.2 260.7 363.5 254.6 362.6 254.6z"/>
<path color="#3230cd" d="M344 266.7 344.9 266.8 354.2 260.7 353.3 260.7z"/>
<path color="#3230ce" d="M334.6 272.8 335.5 272.9 344.9 266.8 344 266.7z"/>
<path color="#3330d0" d="M325.3 278.8 326.2 279 335.5 272.9 334.6 272.8z"/>
<path color="#302fc8" d="M391.5 236.4 392.4 236.2 401.7 230.1 400.8 230.3z"/>
<path color="#312fc9" d="M382.2 242.5 383.1 242.3 392.4 236.2 391.5 236.4z"/>
<path color="#312fca" d="M372.8 248.5 373.7 248.5 383.1 242.3 382.2 242.5z"/>
<path color="#3130cb" d="M363.5 254.6 364.4 254.6 373.7 248.5 372.8 248.5z"/>
<path color="#3230cd" d="M354.2 260.7 355.1 260.7 364.4 254.6 363.5 254.6z"/>
<path color="#3230ce" d="M344.9 266.8 345.7 266.9 355.1 260.7 354.2 260.7z"/>
<path color="#3231cf" d="M335.5 272.9 336.4 273 345.7 266.9 344.9 266.8z"/>
<path color="#3231d0" d="M326.2 279 327.1 279.1 336.4 273 335.5 272.9z"/>
<path color="#3036d5" d="M392.4 236.2 393.3 236.1 402.6 229.9 401.7 230.1z"/>
<path color="#3036d6" d="M383.1 242.3 383.9 242.2 393.3 236.1 392.4 236.2z"/>
<path color="#3036d8" d="M373.7 248.5 374.6 248.4 383.9 242.2 383.1 242.3z"/>
<path color="#3137d9" d="M364.4 254.6 365.3 254.6 374.6 248.4 373.7 248.5z"/>
<path color="#3137db" d="M355.1 260.7 355.9 260.8 365.3 254.6 364.4 254.6z"/>
<path color="#3137dc" d="M345.7 266.9 346.6 266.9 355.9 260.8 355.1 260.7z"/>
<path color="#3238dd" d="M336.4 273 337.3 273.1 346.6 266.9 345.7 266.9z"/>
<path color="#3238df" d="M327.1 279.1 328 279.3 337.3 273.1 336.4 273z"/>
<path color="#2d4aed" d="M393.3 236.1 394.1 236.1 403.5 229.9 402.6 229.9z"/>
<path color="#2e4aee" d="M383.9 242.2 384.8 242.3 394.1 236.1 393.3 236.1z"/>
<path color="#2e4aee" d="M374.6 248.4 375.5 248.5 384.8 242.3 383.9 242.2z"/>
<path color="#2e4bef" d="M365.3 254.6 366.2 254.7 375.5 248.5 374.6 248.4z"/>
<path color="#2e4bf0" d="M355.9 260.8 356.8 260.9 366.2 254.7 365.3 254.6z"/>
<path color="#2e4bf0" d="M346.6 266.9 347.5 267.1 356.8 260.9 355.9 260.8z"/>
<path color="#2e4bf1" d="M337.3 273.1 338.2 273.3 347.5 267.1 346.6 266.9z"/>
<path color="#2e4bf1" d="M328 279.3 328.8 279.5 338.2 273.3 337.3 273.1z"/>
<path color="#2762ff" d="M394.1 236.1 395 236.6 404.4 230.4 403.5 229.9z"/>
<path color="#2762ff" d="M384.8 242.3 385.7 242.8 395 236.6 394.1 236.1z"/>
<path color="#2762ff" d="M375.5 248.5 376.4 249 385.7 242.8 384.8 242.3z"/>
<path color="#2762ff" d="M366.2 254.7 367 255.2 376.4 249 375.5 248.5z"/>
<path color="#2762ff" d="M356.8 260.9 357.7 261.4 367 255.2 366.2 254.7z"/>
<path color="#2762ff" d="M347.5 267.1 348.4 267.6 357.7 261.4 356.8 260.9z"/>
<path color="#2762ff" d="M338.2 273.3 339.1 273.8 348.4 267.6 347.5 267.1z"/>
<path color="#2762ff" d="M328.8 279.5 329.7 280 339.1 273.8 338.2 273.3z"/>
<path color="#1e67f4" d="M395 236.6 395.9 236.7 405.2 230.5 404.4 230.4z"/>
<path color="#1e67f4" d="M385.7 242.8 386.6 242.9 395.9 236.7 395 236.6z"/>
<path color="#1e67f4" d="M376.4 249 377.3 249.1 386.6 242.9 385.7 242.8z"/>
<path color="#1e67f4" d="M367 255.2 367.9 255.3 377.3 249.1 376.4 249z"/>
<path color="#1e67f4" d="M357.7 261.4 358.6 261.5 367.9 255.3 367 255.2z"/>
<path color="#1e67f4" d="M348.4 267.6 349.3 267.7 358.6 261.5 357.7 261.4z"/>
<path color="#1e67f4" d="M339.1 273.8 339.9 273.9 349.3 267.7 348.4 267.6z"/>
<path color="#1e67f4" d="M329.7 280 330.6 280.1 339.9 273.9 339.1 273.8z"/>
<path color="#1e6af8" d="M395.9 236.7 396.8 236.9 406.1 230.8 405.2 230.5z"/>
<path color="#1e6af8" d="M386.6 242.9 387.5 243.1 396.8 236.9 395.9 236.7z"/>
<path color="#1e6af8" d="M377.3 249.1 378.1 249.3 387.5 243.1 386.6 242.9z"/>
<path color="#1e6af8" d="M367.9 255.3 368.8 255.5 378.1 249.3 377.3 249.1z"/>
<path color="#1e69f7" d="M358.6 261.5 359.5 261.7 368.8 255.5 367.9 255.3z"/>
<path color="#1e69f7" d="M349.3 267.7 350.1 267.9 359.5 261.7 358.6 261.5z"/>
<path color="#1e69f7" d="M339.9 273.9 340.8 274.1 350.1 267.9 349.3 267.7z"/>
<path color="#1d69f7" d="M330.6 280.1 331.5 280.3 340.8 274.1 339.9 273.9z"/>
<path color="#1c68f3" d="M396.8 236.9 397.7 237 407 230.8 406.1 230.8z"/>
<path color="#1c68f2" d="M387.5 243.1 388.3 243.2 397.7 237 396.8 236.9z"/>
<path color="#1c68f2" d="M378.1 249.3 379 249.4 388.3 243.2 387.5 243.1z"/>
<path color="#1c68f1" d="M368.8 255.5 369.7 255.5 379 249.4 378.1 249.3z"/>
<path color="#1c68f1" d="M359.5 261.7 360.4 261.7 369.7 255.5 368.8 255.5z"/>
<path color="#1c68f0" d="M350.1 267.9 351 267.9 360.4 261.7 359.5 261.7z"/>
<path color="#1c67f0" d="M340.8 274.1 341.7 274.1 351 267.9 350.1 267.9z"/>
<path color="#1c67ef" d="M331.5 280.3 332.4 280.3 341.7 274.1 340.8 274.1z"/>
<path color="#1a6cf2" d="M397.7 237 398.6 237 407.9 230.9 407 230.8z"/>
<path color="#196bf0" d="M388.3 243.2 389.2 243.2 398.6 237 397.7 237z"/>
<path color="#196aee" d="M379 249.4 379.9 249.3 389.2 243.2 388.3 243.2z"/>
<path color="#186aec" d="M369.7 255.5 370.6 255.4 379.9 249.3 379 249.4z"/>
<path color="#1869ea" d="M360.4 261.7 361.2 261.5 370.6 255.4 369.7 255.5z"/>
<path color="#1869e8" d="M351 267.9 351.9 267.6 361.2 261.5 360.4 261.7z"/>
<path color="#1768e6" d="M341.7 274.1 342.6 273.8 351.9 267.6 351 267.9z"/>
<path color="#1768e4" d="M332.4 280.3 333.2 279.9 342.6 273.8 341.7 274.1z"/>
<path color="#166de5" d="M398.6 237 399.4 236.6 408.8 230.7 407.9 230.9z"/>
<path color="#156de0" d="M389.2 243.2 390.1 242.6 399.4 236.6 398.6 237z"/>
<path color="#146ddb" d="M379.9 249.3 380.8 248.6 390.1 242.6 389.2 243.2z"/>
<path color="#136cd6" d="M370.6 255.4 371.5 254.6 380.8 248.6 379.9 249.3z"/>
<path color="#126cd0" d="M361.2 261.5 362.1 260.5 371.5 254.6 370.6 255.4z"/>
<path color="#116bcb" d="M351.9 267.6 352.8 266.5 362.1 260.5 361.2 261.5z"/>
<path color="#106ac6" d="M342.6 273.8 343.5 272.5 352.8 266.5 351.9 267.6z"/>
<path color="#0f6ac1" d="M333.2 279.9 334.1 278.4 343.5 272.5 342.6 273.8z"/>
<path color="#146ddc" d="M399.4 236.6 400.3 236 409.7 230.2 408.8 230.7z"/>
<path color="#126fd6" d="M390.1 242.6 391 241.8 400.3 236 399.4 236.6z"/>
<path color="#1071d0" d="M380.8 248.6 381.7 247.6 391 241.8 390.1 242.6z"/>
<path color="#0f72c9" d="M371.5 254.6 372.3 253.4 381.7 247.6 380.8 248.6z"/>
<path color="#0d73c3" d="M362.1 260.5 363 259.2 372.3 253.4 371.5 254.6z"/>
<path color="#0c74bd" d="M352.8 266.5 353.7 264.9 363 259.2 362.1 260.5z"/>
<path color="#0b74b7" d="M343.5 272.5 344.3 270.7 353.7 264.9 352.8 266.5z"/>
<path color="#0b75b1" d="M334.1 278.4 335 276.5 344.3 270.7 343.5 272.5z"/>
<path color="#1875f9" d="M400.3 236 401.2 236.2 410.5 230.5 409.7 230.2z"/>
<path color="#167cf7" d="M391 241.8 391.9 242 401.2 236.2 400.3 236z"/>
<path color="#1483f5" d="M381.7 247.6 382.5 247.7 391.9 242 391 241.8z"/>
<path color="#1289f3" d="M372.3 253.4 373.2 253.5 382.5 247.7 381.7 247.6z"/>
<path color="#1090f1" d="M363 259.2 363.9 259.2 373.2 253.5 372.3 253.4z"/>
<path color="#0f97f0" d="M353.7 264.9 354.6 265 363.9 259.2 363 259.2z"/>
<path color="#0f9eee" d="M344.3 270.7 345.2 270.7 354.6 265 353.7 264.9z"/>
<path color="#0ea5ed" d="M335 276.5 335.9 276.5 345.2 270.7 344.3 270.7z"/>
<path color="#1a74ff" d="M401.2 236.2 402.1 236.7 411.4 230.9 410.5 230.5z"/>
<path color="#187cff" d="M391.9 242 392.8 242.5 402.1 236.7 401.2 236.2z"/>
<path color="#1685ff" d="M382.5 247.7 383.4 248.3 392.8 242.5 391.9 242z"/>
<path color="#148eff" d="M373.2 253.5 374.1 254.1 383.4 248.3 382.5 247.7z"/>
<path color="#1297ff" d="M363.9 259.2 364.8 259.9 374.1 254.1 373.2 253.5z"/>
<path color="#109fff" d="M354.6 265 355.4 265.7 364.8 259.9 363.9 259.2z"/>
<path color="#10a9ff" d="M345.2 270.7 346.1 271.6 355.4 265.7 354.6 265z"/>
<path color="#10b3ff" d="M335.9 276.5 336.8 277.4 346.1 271.6 345.2 270.7z"/>
<path color="#1a73ff" d="M402.1 236.7 403 237.2 412.3 231.3 411.4 230.9z"/>
<path color="#187bff" d="M392.8 242.5 393.6 243.1 403 237.2 402.1 236.7z"/>
<path color="#1783ff" d="M383.4 248.3 384.3 249 393.6 243.1 392.8 242.5z"/>
<path color="#168bff" d="M374.1 254.1 375 254.9 384.3 249 383.4 248.3z"/>
<path color="#1493ff" d="M364.8 259.9 365.6 260.8 375 254.9 374.1 254.1z"/>
<path color="#139cff" d="M355.4 265.7 356.3 266.7 365.6 260.8 364.8 259.9z"/>
<path color="#11a4ff" d="M346.1 271.6 347 272.6 356.3 266.7 355.4 265.7z"/>
<path color="#11adff" d="M336.8 277.4 337.7 278.5 347 272.6 346.1 271.6z"/>
<path color="#1880ff" d="M403 237.2 403.9 237.9 413.2 231.9 412.3 231.3z"/>
<path color="#1787ff" d="M393.6 243.1 394.5 243.9 403.9 237.9 403 237.2z"/>
<path color="#168dff" d="M384.3 249 385.2 249.9 394.5 243.9 393.6 243.1z"/>
<path color="#1593ff" d="M375 254.9 375.9 255.9 385.2 249.9 384.3 249z"/>
<path color="#149aff" d="M365.6 260.8 366.5 261.9 375.9 255.9 375 254.9z"/>
<path color="#139fff" d="M356.3 266.7 357.2 268 366.5 261.9 365.6 260.8z"/>
<path color="#12a4ff" d="M347 272.6 347.9 274 357.2 268 356.3 266.7z"/>
<path color="#11a8ff" d="M337.7 278.5 338.5 280 347.9 274 347 272.6z"/>
<path color="#1879fe" d="M403.9 237.9 404.7 238.4 414.1 232.3 413.2 231.9z"/>
<path color="#187dff" d="M394.5 243.9 395.4 244.5 404.7 238.4 403.9 237.9z"/>
<path color="#1781ff" d="M385.2 249.9 386.1 250.6 395.4 244.5 394.5 243.9z"/>
<path color="#1785ff" d="M375.9 255.9 376.7 256.6 386.1 250.6 385.2 249.9z"/>
<path color="#1689ff" d="M366.5 261.9 367.4 262.7 376.7 256.6 375.9 255.9z"/>
<path color="#168dff" d="M357.2 268 358.1 268.8 367.4 262.7 366.5 261.9z"/>
<path color="#1591ff" d="M347.9 274 348.8 274.9 358.1 268.8 357.2 268z"/>
<path color="#1595ff" d="M338.5 280 339.4 281 348.8 274.9 347.9 274z"/>
<path color="#1876fb" d="M404.7 238.4 405.6 238.7 414.9 232.6 414.1 232.3z"/>
<path color="#1878fc" d="M395.4 244.5 396.3 244.9 405.6 238.7 404.7 238.4z"/>
<path color="#187afe" d="M386.1 250.6 387 251 396.3 244.9 395.4 244.5z"/>
<path color="#187cff" d="M376.7 256.6 377.6 257.2 387 251 386.1 250.6z"/>
<path color="#177eff" d="M367.4 262.7 368.3 263.3 377.6 257.2 376.7 256.6z"/>
<path color="#1781ff" d="M358.1 268.8 359 269.5 368.3 263.3 367.4 262.7z"/>
<path color="#1783ff" d="M348.8 274.9 349.6 275.6 359 269.5 358.1 268.8z"/>
<path color="#1785ff" d="M339.4 281 340.3 281.7 349.6 275.6 348.8 274.9z"/>
<path color="#1a77ff" d="M405.6 238.7 406.5 239.3 415.8 233.1 414.9 232.6z"/>
<path color="#1a78ff" d="M396.3 244.9 397.2 245.5 406.5 239.3 405.6 238.7z"/>
<path color="#1a79ff" d="M387 251 387.8 251.7 397.2 245.5 396.3 244.9z"/>
<path color="#1a79ff" d="M377.6 257.2 378.5 257.8 387.8 251.7 387 251z"/>
<path color="#1a7aff" d="M368.3 263.3 369.2 264 378.5 257.8 377.6 257.2z"/>
<path color="#1a7bff" d="M359 269.5 359.8 270.2 369.2 264 368.3 263.3z"/>
<path color="#1a7cff" d="M349.6 275.6 350.5 276.4 359.8 270.2 359 269.5z"/>
<path color="#1a7dff" d="M340.3 281.7 341.2 282.5 350.5 276.4 349.6 275.6z"/>
<path color="#275bf7" d="M406.5 239.3 407.4 239.5 416.7 233.3 415.8 233.1z"/>
<path color="#275cf7" d="M397.2 245.5 398 245.7 407.4 239.5 406.5 239.3z"/>
<path color="#275cf7" d="M387.8 251.7 388.7 251.9 398 245.7 397.2 245.5z"/>
<path color="#275cf8" d="M378.5 257.8 379.4 258.1 388.7 251.9 387.8 251.7z"/>
<path color="#275cf8" d="M369.2 264 370.1 264.3 379.4 258.1 378.5 257.8z"/>
<path color="#275df9" d="M359.8 270.2 360.7 270.5 370.1 264.3 369.2 264z"/>
<path color="#275df9" d="M350.5 276.4 351.4 276.6 360.7 270.5 359.8 270.2z"/>
<path color="#275dfa" d="M341.2 282.5 342.1 282.8 351.4 276.6 350.5 276.4z"/>
<path color="#2b56f6" d="M407.4 239.5 408.3 239.7 417.6 233.5 416.7 233.3z"/>
<path color="#2b56f6" d="M398 245.7 398.9 245.9 408.3 239.7 407.4 239.5z"/>
<path color="#2b56f6" d="M388.7 251.9 389.6 252.1 398.9 245.9 398 245.7z"/>
<path color="#2b57f6" d="M379.4 258.1 380.3 258.3 389.6 252.1 388.7 251.9z"/>
<path color="#2b57f6" d="M370.1 264.3 370.9 264.4 380.3 258.3 379.4 258.1z"/>
<path color="#2b57f6" d="M360.7 270.5 361.6 270.6 370.9 264.4 370.1 264.3z"/>
<path color="#2b57f7" d="M351.4 276.6 352.3 276.8 361.6 270.6 360.7 270.5z"/>
<path color="#2b57f7" d="M342.1 282.8 343 283 352.3 276.8 351.4 276.6z"/>
<path color="#2a59f9" d="M408.3 239.7 409.1 239.9 418.5 233.7 417.6 233.5z"/>
<path color="#2a59f9" d="M398.9 245.9 399.8 246.1 409.1 239.9 408.3 239.7z"/>
<path color="#2a59f9" d="M389.6 252.1 390.5 252.3 399.8 246.1 398.9 245.9z"/>
<path color="#2a59f9" d="M380.3 258.3 381.2 258.5 390.5 252.3 389.6 252.1z"/>
<path color="#2a59f9" d="M370.9 264.4 371.8 264.7 381.2 258.5 380.3 258.3z"/>
<path color="#2a59f9" d="M361.6 270.6 362.5 270.9 371.8 264.7 370.9 264.4z"/>
<path color="#2a59f9" d="M352.3 276.8 353.2 277.1 362.5 270.9 361.6 270.6z"/>
<path color="#2a59f9" d="M343 283 343.8 283.3 353.2 277.1 352.3 276.8z"/>
<path color="#2a5dfe" d="M409.1 239.9 410 240.4 419.4 234.2 418.5 233.7z"/>
<path color="#2a5dfe" d="M399.8 246.1 400.7 246.5 410 240.4 409.1 239.9z"/>
<path color="#2a5dff" d="M390.5 252.3 391.4 252.7 400.7 246.5 399.8 246.1z"/>
<path color="#2a5dff" d="M381.2 258.5 382 258.9 391.4 252.7 390.5 252.3z"/>
<path color="#2a5dff" d="M371.8 264.7 372.7 265.1 382 258.9 381.2 258.5z"/>
<path color="#2a5dff" d="M362.5 270.9 363.4 271.3 372.7 265.1 371.8 264.7z"/>
<path color="#2a5dff" d="M353.2 277.1 354 277.5 363.4 271.3 362.5 270.9z"/>
<path color="#2a5dff" d="M343.8 283.3 344.7 283.7 354 277.5 353.2 277.1z"/>
<path color="#1e64ef" d="M410 240.4 410.9 240.3 420.2 234.1 419.4 234.2z"/>
<path color="#1e64ef" d="M400.7 246.5 401.6 246.5 410.9 240.3 410 240.4z"/>
<path color="#1e64ef" d="M391.4 252.7 392.2 252.7 401.6 246.5 400.7 246.5z"/>
<path color="#1e64ef" d="M382 258.9 382.9 258.9 392.2 252.7 391.4 252.7z"/>
<path color="#1e64ef" d="M372.7 265.1 373.6 265.1 382.9 258.9 382 258.9z"/>
<path color="#1e64ef" d="M363.4 271.3 364.3 271.3 373.6 265.1 372.7 265.1z"/>
<path color="#1e64ef" d="M354 277.5 354.9 277.5 364.3 271.3 363.4 271.3z"/>
<path color="#1e64ef" d="M344.7 283.7 345.6 283.7 354.9 277.5 354 277.5z"/>
<path color="#1d6cf9" d="M410.9 240.3 411.8 240.6 421.1 234.4 420.2 234.1z"/>
<path color="#1d6cf9" d="M401.6 246.5 402.5 246.8 411.8 240.6 410.9 240.3z"/>
<path color="#1c6cf9" d="M392.2 252.7 393.1 253 402.5 246.8 401.6 246.5z"/>
<path color="#1c6cf9" d="M382.9 258.9 383.8 259.2 393.1 253 392.2 252.7z"/>
<path color="#1c6cf8" d="M373.6 265.1 374.5 265.3 383.8 259.2 382.9 258.9z"/>
<path color="#1c6cf8" d="M364.3 271.3 365.1 271.5 374.5 265.3 373.6 265.1z"/>
<path color="#1c6bf8" d="M354.9 277.5 355.8 277.7 365.1 271.5 364.3 271.3z"/>
<path color="#1c6bf7" d="M345.6 283.7 346.5 283.9 355.8 277.7 354.9 277.5z"/>
<path color="#1c6df8" d="M411.8 240.6 412.7 240.8 422 234.7 421.1 234.4z"/>
<path color="#1b6cf7" d="M402.5 246.8 403.3 247 412.7 240.8 411.8 240.6z"/>
<path color="#1b6cf6" d="M393.1 253 394 253.1 403.3 247 402.5 246.8z"/>
<path color="#1b6cf5" d="M383.8 259.2 384.7 259.3 394 253.1 393.1 253z"/>
<path color="#1a6bf3" d="M374.5 265.3 375.4 265.4 384.7 259.3 383.8 259.2z"/>
<path color="#1a6bf2" d="M365.1 271.5 366 271.6 375.4 265.4 374.5 265.3z"/>
<path color="#1a6af1" d="M355.8 277.7 356.7 277.7 366 271.6 365.1 271.5z"/>
<path color="#1a6af0" d="M346.5 283.9 347.4 283.8 356.7 277.7 355.8 277.7z"/>
<path color="#1766e2" d="M412.7 240.8 413.6 240.4 422.9 234.3 422 234.7z"/>
<path color="#1665df" d="M403.3 247 404.2 246.4 413.6 240.4 412.7 240.8z"/>
<path color="#1665db" d="M394 253.1 394.9 252.4 404.2 246.4 403.3 247z"/>
<path color="#1565d7" d="M384.7 259.3 385.6 258.5 394.9 252.4 394 253.1z"/>
<path color="#1464d3" d="M375.4 265.4 376.2 264.5 385.6 258.5 384.7 259.3z"/>
<path color="#1364d0" d="M366 271.6 366.9 270.5 376.2 264.5 375.4 265.4z"/>
<path color="#1363cc" d="M356.7 277.7 357.6 276.6 366.9 270.5 366 271.6z"/>
<path color="#1263c8" d="M347.4 283.8 348.2 282.6 357.6 276.6 356.7 277.7z"/>
<path color="#146dde" d="M413.6 240.4 414.4 239.7 423.8 233.9 422.9 234.3z"/>
<path color="#136dd7" d="M404.2 246.4 405.1 245.6 414.4 239.7 413.6 240.4z"/>
<path color="#116dd0" d="M394.9 252.4 395.8 251.4 405.1 245.6 404.2 246.4z"/>
<path color="#106dc9" d="M385.6 258.5 386.4 257.2 395.8 251.4 394.9 252.4z"/>
<path color="#0e6dc1" d="M376.2 264.5 377.1 263.1 386.4 257.2 385.6 258.5z"/>
<path color="#0d6cba" d="M366.9 270.5 367.8 268.9 377.1 263.1 376.2 264.5z"/>
<path color="#0c6bb3" d="M357.6 276.6 358.5 274.7 367.8 268.9 366.9 270.5z"/>
<path color="#0b6aac" d="M348.2 282.6 349.1 280.6 358.5 274.7 357.6 276.6z"/>
<path color="#1175d8" d="M414.4 239.7 415.3 238.9 424.6 233.3 423.8 233.9z"/>
<path color="#0e78d0" d="M405.1 245.6 406 244.5 415.3 238.9 414.4 239.7z"/>
<path color="#0c7ac8" d="M395.8 251.4 396.7 250.2 406 244.5 405.1 245.6z"/>
<path color="#0c7dc0" d="M386.4 257.2 387.3 255.8 396.7 250.2 395.8 251.4z"/>
<path color="#0b7eb8" d="M377.1 263.1 378 261.4 387.3 255.8 386.4 257.2z"/>
<path color="#0b80b1" d="M367.8 268.9 368.7 267 378 261.4 377.1 263.1z"/>
<path color="#0a80a9" d="M358.5 274.7 359.3 272.6 368.7 267 367.8 268.9z"/>
<path color="#0b80a2" d="M349.1 280.6 350 278.2 359.3 272.6 358.5 274.7z"/>
<path color="#108bec" d="M415.3 238.9 416.2 238.9 425.5 233.3 424.6 233.3z"/>
<path color="#0e95e9" d="M406 244.5 406.9 244.4 416.2 238.9 415.3 238.9z"/>
<path color="#0e9ee6" d="M396.7 250.2 397.5 249.9 406.9 244.4 406 244.5z"/>
<path color="#0ea7e3" d="M387.3 255.8 388.2 255.4 397.5 249.9 396.7 250.2z"/>
<path color="#0eb0e1" d="M378 261.4 378.9 260.9 388.2 255.4 387.3 255.8z"/>
<path color="#11b6e0" d="M368.7 267 369.6 266.5 378.9 260.9 378 261.4z"/>
<path color="#13bcdf" d="M359.3 272.6 360.2 272 369.6 266.5 368.7 267z"/>
<path color="#16beda" d="M350 278.2 350.9 277.5 360.2 272 359.3 272.6z"/>
<path color="#1098fb" d="M416.2 238.9 417.1 239.3 426.4 233.7 425.5 233.3z"/>
<path color="#0fa6fc" d="M406.9 244.4 407.8 244.8 417.1 239.3 416.2 238.9z"/>
<path color="#10b3fe" d="M397.5 249.9 398.4 250.4 407.8 244.8 406.9 244.4z"/>
<path color="#10c1ff" d="M388.2 255.4 389.1 256 398.4 250.4 397.5 249.9z"/>
<path color="#11ceff" d="M378.9 260.9 379.8 261.6 389.1 256 388.2 255.4z"/>
<path color="#14d9ff" d="M369.6 266.5 370.4 267.1 379.8 261.6 378.9 260.9z"/>
<path color="#17e4ff" d="M360.2 272 361.1 272.7 370.4 267.1 369.6 266.5z"/>
<path color="#1ee8ff" d="M350.9 277.5 351.8 278.3 361.1 272.7 360.2 272z"/>
<path color="#10abff" d="M417.1 239.3 418 240.2 427.3 234.5 426.4 233.7z"/>
<path color="#11b9ff" d="M407.8 244.8 408.6 245.9 418 240.2 417.1 239.3z"/>
<path color="#11c7ff" d="M398.4 250.4 399.3 251.6 408.6 245.9 407.8 244.8z"/>
<path color="#11d3ff" d="M389.1 256 390 257.3 399.3 251.6 398.4 250.4z"/>
<path color="#13dcff" d="M379.8 261.6 380.6 263 390 257.3 389.1 256z"/>
<path color="#16e5ff" d="M370.4 267.1 371.3 268.7 380.6 263 379.8 261.6z"/>
<path color="#18eeff" d="M361.1 272.7 362 274.4 371.3 268.7 370.4 267.1z"/>
<path color="#20f3ff" d="M351.8 278.3 352.7 280 362 274.4 361.1 272.7z"/>
<path color="#1391ff" d="M418 240.2 418.8 240.9 428.2 235.1 427.3 234.5z"/>
<path color="#119cff" d="M408.6 245.9 409.5 246.8 418.8 240.9 418 240.2z"/>
<path color="#10a7ff" d="M399.3 251.6 400.2 252.6 409.5 246.8 408.6 245.9z"/>
<path color="#11b3ff" d="M390 257.3 390.9 258.4 400.2 252.6 399.3 251.6z"/>
<path color="#11bdff" d="M380.6 263 381.5 264.3 390.9 258.4 390 257.3z"/>
<path color="#11c6ff" d="M371.3 268.7 372.2 270.1 381.5 264.3 380.6 263z"/>
<path color="#11cfff" d="M362 274.4 362.9 275.9 372.2 270.1 371.3 268.7z"/>
<path color="#12d7ff" d="M352.7 280 353.5 281.8 362.9 275.9 362 274.4z"/>
<path color="#1b71fe" d="M418.8 240.9 419.7 241.4 429.1 235.4 428.2 235.1z"/>
<path color="#1979ff" d="M409.5 246.8 410.4 247.4 419.7 241.4 418.8 240.9z"/>
<path color="#1880ff" d="M400.2 252.6 401.1 253.3 410.4 247.4 409.5 246.8z"/>
<path color="#1788ff" d="M390.9 258.4 391.7 259.3 401.1 253.3 400.2 252.6z"/>
<path color="#168fff" d="M381.5 264.3 382.4 265.3 391.7 259.3 390.9 258.4z"/>
<path color="#1597ff" d="M372.2 270.1 373.1 271.2 382.4 265.3 381.5 264.3z"/>
<path color="#149eff" d="M362.9 275.9 363.8 277.2 373.1 271.2 372.2 270.1z"/>
<path color="#12a3ff" d="M353.5 281.8 354.4 283.2 363.8 277.2 362.9 275.9z"/>
<path color="#2073ff" d="M419.7 241.4 420.6 242.3 429.9 236.3 429.1 235.4z"/>
<path color="#1f77ff" d="M410.4 247.4 411.3 248.4 420.6 242.3 419.7 241.4z"/>
<path color="#1d7bff" d="M401.1 253.3 402 254.5 411.3 248.4 410.4 247.4z"/>
<path color="#1c7fff" d="M391.7 259.3 392.6 260.5 402 254.5 401.1 253.3z"/>
<path color="#1b82ff" d="M382.4 265.3 383.3 266.6 392.6 260.5 391.7 259.3z"/>
<path color="#1a86ff" d="M373.1 271.2 374 272.7 383.3 266.6 382.4 265.3z"/>
<path color="#1989ff" d="M363.8 277.2 364.6 278.7 374 272.7 373.1 271.2z"/>
<path color="#188cff" d="M354.4 283.2 355.3 284.8 364.6 278.7 363.8 277.2z"/>
<path color="#2267fe" d="M420.6 242.3 421.5 242.8 430.8 236.6 429.9 236.3z"/>
<path color="#2269ff" d="M411.3 248.4 412.2 248.9 421.5 242.8 420.6 242.3z"/>
<path color="#216bff" d="M402 254.5 402.8 255 412.2 248.9 411.3 248.4z"/>
<path color="#206dff" d="M392.6 260.5 393.5 261.2 402.8 255 402 254.5z"/>
<path color="#1f70ff" d="M383.3 266.6 384.2 267.3 393.5 261.2 392.6 260.5z"/>
<path color="#1f72ff" d="M374 272.7 374.8 273.4 384.2 267.3 383.3 266.6z"/>
<path color="#1e75ff" d="M364.6 278.7 365.5 279.6 374.8 273.4 374 272.7z"/>
<path color="#1d77ff" d="M355.3 284.8 356.2 285.7 365.5 279.6 364.6 278.7z"/>
<path color="#2466ff" d="M421.5 242.8 422.4 243.3 431.7 237.1 430.8 236.6z"/>
<path color="#2467ff" d="M412.2 248.9 413 249.4 422.4 243.3 421.5 242.8z"/>
<path color="#2368ff" d="M402.8 255 403.7 255.6 413 249.4 412.2 248.9z"/>
<path color="#2369ff" d="M393.5 261.2 394.4 261.8 403.7 255.6 402.8 255z"/>
<path color="#236aff" d="M384.2 267.3 385.1 267.9 394.4 261.8 393.5 261.2z"/>
<path color="#226bff" d="M374.8 273.4 375.7 274.1 385.1 267.9 384.2 267.3z"/>
<path color="#226dff" d="M365.5 279.6 366.4 280.3 375.7 274.1 374.8 273.4z"/>
<path color="#226eff" d="M356.2 285.7 357.1 286.4 366.4 280.3 365.5 279.6z"/>
<path color="#1f66f5" d="M422.4 243.3 423.3 243.4 432.6 237.2 431.7 237.1z"/>
<path color="#1f66f6" d="M413 249.4 413.9 249.6 423.3 243.4 422.4 243.3z"/>
<path color="#1f67f6" d="M403.7 255.6 404.6 255.8 413.9 249.6 413 249.4z"/>
<path color="#1f67f7" d="M394.4 261.8 395.3 262 404.6 255.8 403.7 255.6z"/>
<path color="#1f67f8" d="M385.1 267.9 385.9 268.1 395.3 262 394.4 261.8z"/>
<path color="#1f68f8" d="M375.7 274.1 376.6 274.3 385.9 268.1 385.1 267.9z"/>
<path color="#1f68f9" d="M366.4 280.3 367.3 280.5 376.6 274.3 375.7 274.1z"/>
<path color="#1f69f9" d="M357.1 286.4 357.9 286.7 367.3 280.5 366.4 280.3z"/>
<path color="#1483f6" d="M423.3 243.4 424.1 243.6 433.5 237.4 432.6 237.2z"/>
<path color="#1483f7" d="M413.9 249.6 414.8 249.8 424.1 243.6 423.3 243.4z"/>
<path color="#1484f7" d="M404.6 255.8 405.5 256 414.8 249.8 413.9 249.6z"/>
<path color="#1484f7" d="M395.3 262 396.2 262.2 405.5 256 404.6 255.8z"/>
<path color="#1484f7" d="M385.9 268.1 386.8 268.4 396.2 262.2 395.3 262z"/>
<path color="#1484f7" d="M376.6 274.3 377.5 274.6 386.8 268.4 385.9 268.1z"/>
<path color="#1485f8" d="M367.3 280.5 368.2 280.8 377.5 274.6 376.6 274.3z"/>
<path color="#1485f8" d="M357.9 286.7 358.8 287 368.2 280.8 367.3 280.5z"/>
<path color="#1484f6" d="M424.1 243.6 425 243.9 434.4 237.7 433.5 237.4z"/>
<path color="#1484f7" d="M414.8 249.8 415.7 250.1 425 243.9 424.1 243.6z"/>
<path color="#1484f7" d="M405.5 256 406.4 256.3 415.7 250.1 414.8 249.8z"/>
<path color="#1484f7" d="M396.2 262.2 397 262.4 406.4 256.3 405.5 256z"/>
<path color="#1484f7" d="M386.8 268.4 387.7 268.6 397 262.4 396.2 262.2z"/>
<path color="#1484f7" d="M377.5 274.6 378.4 274.8 387.7 268.6 386.8 268.4z"/>
<path color="#1484f7" d="M368.2 280.8 369 281 378.4 274.8 377.5 274.6z"/>
<path color="#1484f7" d="M358.8 287 359.7 287.2 369 281 368.2 280.8z"/>
<path color="#1482f3" d="M425 243.9 425.9 244 435.2 237.8 434.4 237.7z"/>
<path color="#1482f3" d="M415.7 250.1 416.6 250.2 425.9 244 425 243.9z"/>
<path color="#1482f3" d="M406.4 256.3 407.2 256.4 416.6 250.2 415.7 250.1z"/>
<path color="#1482f3" d="M397 262.4 397.9 262.6 407.2 256.4 406.4 256.3z"/>
<path color="#1482f4" d="M387.7 268.6 388.6 268.8 397.9 262.6 397 262.4z"/>
<path color="#1482f4" d="M378.4 274.8 379.3 275 388.6 268.8 387.7 268.6z"/>
<path color="#1482f4" d="M369 281 369.9 281.2 379.3 275 378.4 274.8z"/>
<path color="#1482f4" d="M359.7 287.2 360.6 287.4 369.9 281.2 369 281z"/>
<path color="#1683fe" d="M425.9 244 426.8 244.4 436.1 238.3 435.2 237.8z"/>
<path color="#1683fe" d="M416.6 250.2 417.5 250.6 426.8 244.4 425.9 244z"/>
<path color="#1683fe" d="M407.2 256.4 408.1 256.8 417.5 250.6 416.6 250.2z"/>
<path color="#1683fe" d="M397.9 262.6 398.8 263 408.1 256.8 407.2 256.4z"/>
<path color="#1683fe" d="M388.6 268.8 389.5 269.2 398.8 263 397.9 262.6z"/>
<path color="#1683fe" d="M379.3 275 380.1 275.4 389.5 269.2 388.6 268.8z"/>
<path color="#1683fe" d="M369.9 281.2 370.8 281.6 380.1 275.4 379.3 275z"/>
<path color="#1683fe" d="M360.6 287.4 361.5 287.8 370.8 281.6 369.9 281.2z"/>
<path color="#157ef6" d="M426.8 244.4 427.7 244.6 437 238.5 436.1 238.3z"/>
<path color="#157ef6" d="M417.5 250.6 418.3 250.8 427.7 244.6 426.8 244.4z"/>
<path color="#157ef6" d="M408.1 256.8 409 257 418.3 250.8 417.5 250.6z"/>
<path color="#157ef6" d="M398.8 263 399.7 263.2 409 257 408.1 256.8z"/>
<path color="#157ef6" d="M389.5 269.2 390.3 269.4 399.7 263.2 398.8 263z"/>
<path color="#157ef6" d="M380.1 275.4 381 275.6 390.3 269.4 389.5 269.2z"/>
<path color="#157ef6" d="M370.8 281.6 371.7 281.8 381 275.6 380.1 275.4z"/>
<path color="#157ef6" d="M361.5 287.8 362.4 288 371.7 281.8 370.8 281.6z"/>
<path color="#157ef5" d="M427.7 244.6 428.6 244.8 437.9 238.6 437 238.5z"/>
<path color="#157ef4" d="M418.3 250.8 419.2 251 428.6 244.8 427.7 244.6z"/>
<path color="#157ef4" d="M409 257 409.9 257.2 419.2 251 418.3 250.8z"/>
<path color="#157ef4" d="M399.7 263.2 400.6 263.4 409.9 257.2 409 257z"/>
<path color="#157ef4" d="M390.3 269.4 391.2 269.6 400.6 263.4 399.7 263.2z"/>
<path color="#157ef4" d="M381 275.6 381.9 275.8 391.2 269.6 390.3 269.4z"/>
<path color="#157ef4" d="M371.7 281.8 372.6 282 381.9 275.8 381 275.6z"/>
<path color="#157ef4" d="M362.4 288 363.2 288.1 372.6 282 371.7 281.8z"/>
<path color="#1778f8" d="M428.6 244.8 429.4 245.1 438.8 238.9 437.9 238.6z"/>
<path color="#1778f8" d="M419.2 251 420.1 251.3 429.4 245.1 428.6 244.8z"/>
<path color="#1778f8" d="M409.9 257.2 410.8 257.4 420.1 251.3 419.2 251z"/>
<path color="#1778f8" d="M400.6 263.4 401.4 263.6 410.8 257.4 409.9 257.2z"/>
<path color="#1778f8" d="M391.2 269.6 392.1 269.8 401.4 263.6 400.6 263.4z"/>
<path color="#1778f8" d="M381.9 275.8 382.8 276 392.1 269.8 391.2 269.6z"/>
<path color="#1778f8" d="M372.6 282 373.5 282.2 382.8 276 381.9 275.8z"/>
<path color="#1778f8" d="M363.2 288.1 364.1 288.4 373.5 282.2 372.6 282z"/>
<path color="#1871f2" d="M429.4 245.1 430.3 245.1 439.6 238.9 438.8 238.9z"/>
<path color="#1871f2" d="M420.1 251.3 421 251.3 430.3 245.1 429.4 245.1z"/>
<path color="#1771f2" d="M410.8 257.4 411.7 257.5 421 251.3 420.1 251.3z"/>
<path color="#1771f2" d="M401.4 263.6 402.3 263.7 411.7 257.5 410.8 257.4z"/>
<path color="#1771f2" d="M392.1 269.8 393 269.9 402.3 263.7 401.4 263.6z"/>
<path color="#1771f1" d="M382.8 276 383.7 276 393 269.9 392.1 269.8z"/>
<path color="#1771f1" d="M373.5 282.2 374.3 282.2 383.7 276 382.8 276z"/>
<path color="#1771f1" d="M364.1 288.4 365 288.4 374.3 282.2 373.5 282.2z"/>
<path color="#1774f4" d="M430.3 245.1 431.2 245.2 440.5 239.1 439.6 238.9z"/>
<path color="#1774f3" d="M421 251.3 421.9 251.4 431.2 245.2 430.3 245.1z"/>
<path color="#1774f3" d="M411.7 257.5 412.5 257.6 421.9 251.4 421 251.3z"/>
<path color="#1774f3" d="M402.3 263.7 403.2 263.8 412.5 257.6 411.7 257.5z"/>
<path color="#1774f2" d="M393 269.9 393.9 269.9 403.2 263.8 402.3 263.7z"/>
<path color="#1774f2" d="M383.7 276 384.5 276.1 393.9 269.9 393 269.9z"/>
<path color="#1774f2" d="M374.3 282.2 375.2 282.3 384.5 276.1 383.7 276z"/>
<path color="#1675f1" d="M365 288.4 365.9 288.5 375.2 282.3 374.3 282.2z"/>
<path color="#1487f9" d="M431.2 245.2 432.1 245.5 441.4 239.4 440.5 239.1z"/>
<path color="#1487f9" d="M421.9 251.4 422.7 251.7 432.1 245.5 431.2 245.2z"/>
<path color="#1387f8" d="M412.5 257.6 413.4 257.9 422.7 251.7 421.9 251.4z"/>
<path color="#1387f8" d="M403.2 263.8 404.1 264 413.4 257.9 412.5 257.6z"/>
<path color="#1387f7" d="M393.9 269.9 394.8 270.2 404.1 264 403.2 263.8z"/>
<path color="#1387f7" d="M384.5 276.1 385.4 276.4 394.8 270.2 393.9 269.9z"/>
<path color="#1388f6" d="M375.2 282.3 376.1 282.5 385.4 276.4 384.5 276.1z"/>
<path color="#1388f6" d="M365.9 288.5 366.8 288.7 376.1 282.5 375.2 282.3z"/>
<path color="#1288f4" d="M432.1 245.5 433 245.7 442.3 239.6 441.4 239.4z"/>
<path color="#1288f3" d="M422.7 251.7 423.6 251.9 433 245.7 432.1 245.5z"/>
<path color="#1289f3" d="M413.4 257.9 414.3 258 423.6 251.9 422.7 251.7z"/>
<path color="#1289f2" d="M404.1 264 405 264.1 414.3 258 413.4 257.9z"/>
<path color="#1189f1" d="M394.8 270.2 395.6 270.3 405 264.1 404.1 264z"/>
<path color="#118af1" d="M385.4 276.4 386.3 276.4 395.6 270.3 394.8 270.2z"/>
<path color="#118af0" d="M376.1 282.5 377 282.6 386.3 276.4 385.4 276.4z"/>
<path color="#118bef" d="M366.8 288.7 367.7 288.7 377 282.6 376.1 282.5z"/>
<path color="#1288f2" d="M433 245.7 433.8 245.8 443.2 239.7 442.3 239.6z"/>
<path color="#1289f2" d="M423.6 251.9 424.5 251.9 433.8 245.8 433 245.7z"/>
<path color="#118af1" d="M414.3 258 415.2 258.1 424.5 251.9 423.6 251.9z"/>
<path color="#118af0" d="M405 264.1 405.9 264.2 415.2 258.1 414.3 258z"/>
<path color="#118bef" d="M395.6 270.3 396.5 270.3 405.9 264.2 405 264.1z"/>
<path color="#108bef" d="M386.3 276.4 387.2 276.4 396.5 270.3 395.6 270.3z"/>
<path color="#108cee" d="M377 282.6 377.9 282.6 387.2 276.4 386.3 276.4z"/>
<path color="#108ded" d="M367.7 288.7 368.5 288.7 377.9 282.6 377 282.6z"/>
<path color="#1288f5" d="M433.8 245.8 434.7 246 444.1 239.9 443.2 239.7z"/>
<path color="#1289f4" d="M424.5 251.9 425.4 252.1 434.7 246 433.8 245.8z"/>
<path color="#128af4" d="M415.2 258.1 416.1 258.2 425.4 252.1 424.5 251.9z"/>
<path color="#118bf3" d="M405.9 264.2 406.7 264.3 416.1 258.2 415.2 258.1z"/>
<path color="#118cf2" d="M396.5 270.3 397.4 270.4 406.7 264.3 405.9 264.2z"/>
<path color="#108df2" d="M387.2 276.4 388.1 276.6 397.4 270.4 396.5 270.3z"/>
<path color="#108ef1" d="M377.9 282.6 378.7 282.7 388.1 276.6 387.2 276.4z"/>
<path color="#108ff1" d="M368.5 288.7 369.4 288.8 378.7 282.7 377.9 282.6z"/>
<path color="#1b6ffb" d="M434.7 246 435.6 246.3 444.9 240.2 444.1 239.9z"/>
<path color="#1a70fb" d="M425.4 252.1 426.3 252.4 435.6 246.3 434.7 246z"/>
<path color="#1971fa" d="M416.1 258.2 416.9 258.5 426.3 252.4 425.4 252.1z"/>
<path color="#1973fa" d="M406.7 264.3 407.6 264.6 416.9 258.5 416.1 258.2z"/>
<path color="#1874fa" d="M397.4 270.4 398.3 270.7 407.6 264.6 406.7 264.3z"/>
<path color="#1876f9" d="M388.1 276.6 389 276.8 398.3 270.7 397.4 270.4z"/>
<path color="#1777f9" d="M378.7 282.7 379.6 282.9 389 276.8 388.1 276.6z"/>
<path color="#1779f9" d="M369.4 288.8 370.3 289 379.6 282.9 378.7 282.7z"/>
<path color="#1a6af1" d="M435.6 246.3 436.5 246.3 445.8 240.2 444.9 240.2z"/>
<path color="#1a6bf1" d="M426.3 252.4 427.2 252.4 436.5 246.3 435.6 246.3z"/>
<path color="#196cf1" d="M416.9 258.5 417.8 258.5 427.2 252.4 426.3 252.4z"/>
<path color="#186ef1" d="M407.6 264.6 408.5 264.7 417.8 258.5 416.9 258.5z"/>
<path color="#186ff1" d="M398.3 270.7 399.2 270.8 408.5 264.7 407.6 264.6z"/>
<path color="#1771f1" d="M389 276.8 389.8 276.9 399.2 270.8 398.3 270.7z"/>
<path color="#1773f1" d="M379.6 282.9 380.5 283 389.8 276.9 389 276.8z"/>
<path color="#1774f1" d="M370.3 289 371.2 289.1 380.5 283 379.6 282.9z"/>
<path color="#1c6cf8" d="M436.5 246.3 437.4 246.6 446.7 240.4 445.8 240.2z"/>
<path color="#1b6df9" d="M427.2 252.4 428 252.7 437.4 246.6 436.5 246.3z"/>
<path color="#1a6ff9" d="M417.8 258.5 418.7 258.8 428 252.7 427.2 252.4z"/>
<path color="#1a70fa" d="M408.5 264.7 409.4 264.9 418.7 258.8 417.8 258.5z"/>
<path color="#1972fa" d="M399.2 270.8 400.1 271.1 409.4 264.9 408.5 264.7z"/>
<path color="#1973fa" d="M389.8 276.9 390.7 277.2 400.1 271.1 399.2 270.8z"/>
<path color="#1875fb" d="M380.5 283 381.4 283.3 390.7 277.2 389.8 276.9z"/>
<path color="#1876fb" d="M371.2 289.1 372.1 289.4 381.4 283.3 380.5 283z"/>
<path color="#1a6ef8" d="M437.4 246.6 438.3 246.8 447.6 240.7 446.7 240.4z"/>
<path color="#1a6ff9" d="M428 252.7 428.9 253 438.3 246.8 437.4 246.6z"/>
<path color="#1971fa" d="M418.7 258.8 419.6 259.1 428.9 253 428 252.7z"/>
<path color="#1972fa" d="M409.4 264.9 410.3 265.2 419.6 259.1 418.7 258.8z"/>
<path color="#1973fb" d="M400.1 271.1 400.9 271.4 410.3 265.2 409.4 264.9z"/>
<path color="#1975fb" d="M390.7 277.2 391.6 277.5 400.9 271.4 400.1 271.1z"/>
<path color="#1876fc" d="M381.4 283.3 382.3 283.7 391.6 277.5 390.7 277.2z"/>
<path color="#1877fc" d="M372.1 289.4 372.9 289.8 382.3 283.7 381.4 283.3z"/>
<path color="#1c6bf5" d="M438.3 246.8 439.1 247 448.5 240.8 447.6 240.7z"/>
<path color="#1b6cf6" d="M428.9 253 429.8 253.1 439.1 247 438.3 246.8z"/>
<path color="#1b6df6" d="M419.6 259.1 420.5 259.3 429.8 253.1 428.9 253z"/>
<path color="#1a6df7" d="M410.3 265.2 411.1 265.5 420.5 259.3 419.6 259.1z"/>
<path color="#1a6ef8" d="M400.9 271.4 401.8 271.6 411.1 265.5 410.3 265.2z"/>
<path color="#1a6ff8" d="M391.6 277.5 392.5 277.8 401.8 271.6 400.9 271.4z"/>
<path color="#1970f9" d="M382.3 283.7 383.2 283.9 392.5 277.8 391.6 277.5z"/>
<path color="#1971f9" d="M372.9 289.8 373.8 290.1 383.2 283.9 382.3 283.7z"/>
<path color="#1a6ff9" d="M439.1 247 440 247.2 449.3 241.1 448.5 240.8z"/>
<path color="#1a6ff9" d="M429.8 253.1 430.7 253.4 440 247.2 439.1 247z"/>
<path color="#1a70fa" d="M420.5 259.3 421.4 259.6 430.7 253.4 429.8 253.1z"/>
<path color="#1a70fa" d="M411.1 265.5 412 265.8 421.4 259.6 420.5 259.3z"/>
<path color="#1971fb" d="M401.8 271.6 402.7 271.9 412 265.8 411.1 265.5z"/>
<path color="#1972fb" d="M392.5 277.8 393.4 278.1 402.7 271.9 401.8 271.6z"/>
<path color="#1972fc" d="M383.2 283.9 384 284.3 393.4 278.1 392.5 277.8z"/>
<path color="#1973fc" d="M373.8 290.1 374.7 290.5 384 284.3 383.2 283.9z"/>
<path color="#1b6ffc" d="M440 247.2 440.9 247.6 450.2 241.4 449.3 241.1z"/>
<path color="#1b6ffc" d="M430.7 253.4 431.6 253.8 440.9 247.6 440 247.2z"/>
<path color="#1b70fc" d="M421.4 259.6 422.2 260 431.6 253.8 430.7 253.4z"/>
<path color="#1b70fd" d="M412 265.8 412.9 266.1 422.2 260 421.4 259.6z"/>
<path color="#1b70fd" d="M402.7 271.9 403.6 272.3 412.9 266.1 412 265.8z"/>
<path color="#1b71fd" d="M393.4 278.1 394.3 278.5 403.6 272.3 402.7 271.9z"/>
<path color="#1b71fe" d="M384 284.3 384.9 284.7 394.3 278.5 393.4 278.1z"/>
<path color="#1b71fe" d="M374.7 290.5 375.6 290.9 384.9 284.7 384 284.3z"/>
<path color="#1a6cf3" d="M440.9 247.6 441.8 247.7 451.1 241.5 450.2 241.4z"/>
<path color="#1a6cf3" d="M431.6 253.8 432.5 253.9 441.8 247.7 440.9 247.6z"/>
<path color="#1a6cf3" d="M422.2 260 423.1 260.1 432.5 253.9 431.6 253.8z"/>
<path color="#1a6df4" d="M412.9 266.1 413.8 266.2 423.1 260.1 422.2 260z"/>
<path color="#1a6df4" d="M403.6 272.3 404.5 272.4 413.8 266.2 412.9 266.1z"/>
<path color="#196df4" d="M394.3 278.5 395.1 278.6 404.5 272.4 403.6 272.3z"/>
<path color="#196df4" d="M384.9 284.7 385.8 284.8 395.1 278.6 394.3 278.5z"/>
<path color="#196df4" d="M375.6 290.9 376.5 291 385.8 284.8 384.9 284.7z"/>
<path color="#177bfb" d="M441.8 247.7 442.7 248 452 241.8 451.1 241.5z"/>
<path color="#177bfb" d="M432.5 253.9 433.3 254.2 442.7 248 441.8 247.7z"/>
<path color="#177bfb" d="M423.1 260.1 424 260.4 433.3 254.2 432.5 253.9z"/>
<path color="#177bfb" d="M413.8 266.2 414.7 266.6 424 260.4 423.1 260.1z"/>
<path color="#177cfb" d="M404.5 272.4 405.3 272.8 414.7 266.6 413.8 266.2z"/>
<path color="#177cfb" d="M395.1 278.6 396 279 405.3 272.8 404.5 272.4z"/>
<path color="#177cfb" d="M385.8 284.8 386.7 285.2 396 279 395.1 278.6z"/>
<path color="#177cfb" d="M376.5 291 377.4 291.3 386.7 285.2 385.8 284.8z"/>
<path color="#1679f4" d="M442.7 248 443.5 248.1 452.9 241.9 452 241.8z"/>
<path color="#1679f4" d="M433.3 254.2 434.2 254.3 443.5 248.1 442.7 248z"/>
<path color="#1679f4" d="M424 260.4 424.9 260.5 434.2 254.3 433.3 254.2z"/>
<path color="#1679f4" d="M414.7 266.6 415.6 266.7 424.9 260.5 424 260.4z"/>
<path color="#1679f4" d="M405.3 272.8 406.2 272.9 415.6 266.7 414.7 266.6z"/>
<path color="#1679f4" d="M396 279 396.9 279.1 406.2 272.9 405.3 272.8z"/>
<path color="#1679f4" d="M386.7 285.2 387.6 285.3 396.9 279.1 396 279z"/>
<path color="#1679f4" d="M377.4 291.3 378.2 291.5 387.6 285.3 386.7 285.2z"/>
<path color="#157df6" d="M443.5 248.1 444.4 248.3 453.8 242.1 452.9 241.9z"/>
<path color="#157df6" d="M434.2 254.3 435.1 254.5 444.4 248.3 443.5 248.1z"/>
<path color="#157df6" d="M424.9 260.5 425.8 260.7 435.1 254.5 434.2 254.3z"/>
<path color="#157df6" d="M415.6 266.7 416.4 266.9 425.8 260.7 424.9 260.5z"/>
<path color="#157df6" d="M406.2 272.9 407.1 273.1 416.4 266.9 415.6 266.7z"/>
<path color="#157df6" d="M396.9 279.1 397.8 279.3 407.1 273.1 406.2 272.9z"/>
<path color="#157df6" d="M387.6 285.3 388.5 285.5 397.8 279.3 396.9 279.1z"/>
<path color="#157df6" d="M378.2 291.5 379.1 291.7 388.5 285.5 387.6 285.3z"/>
<path color="#128bf5" d="M444.4 248.3 445.3 248.5 454.6 242.3 453.8 242.1z"/>
<path color="#128bf5" d="M435.1 254.5 436 254.7 445.3 248.5 444.4 248.3z"/>
<path color="#128bf5" d="M425.8 260.7 426.7 260.9 436 254.7 435.1 254.5z"/>
<path color="#128bf5" d="M416.4 266.9 417.3 267.1 426.7 260.9 425.8 260.7z"/>
<path color="#128bf5" d="M407.1 273.1 408 273.3 417.3 267.1 416.4 266.9z"/>
<path color="#128bf5" d="M397.8 279.3 398.7 279.5 408 273.3 407.1 273.1z"/>
<path color="#128bf5" d="M388.5 285.5 389.3 285.7 398.7 279.5 397.8 279.3z"/>
<path color="#128bf5" d="M379.1 291.7 380 291.9 389.3 285.7 388.5 285.5z"/>
<path color="#0f91f0" d="M445.3 248.5 446.2 248.6 455.5 242.4 454.6 242.3z"/>
<path color="#0f91f0" d="M436 254.7 436.9 254.8 446.2 248.6 445.3 248.5z"/>
<path color="#0f91f0" d="M426.7 260.9 427.5 261 436.9 254.8 436 254.7z"/>
<path color="#0f91f0" d="M417.3 267.1 418.2 267.2 427.5 261 426.7 260.9z"/>
<path color="#0f91f0" d="M408 273.3 408.9 273.4 418.2 267.2 417.3 267.1z"/>
<path color="#0f91f0" d="M398.7 279.5 399.5 279.6 408.9 273.4 408 273.3z"/>
<path color="#0f91f0" d="M389.3 285.7 390.2 285.8 399.5 279.6 398.7 279.5z"/>
<path color="#0f91f0" d="M380 291.9 380.9 292 390.2 285.8 389.3 285.7z"/>
<path color="#0f95f3" d="M446.2 248.6 447.1 248.8 456.4 242.6 455.5 242.4z"/>
<path color="#0f95f3" d="M436.9 254.8 437.7 255 447.1 248.8 446.2 248.6z"/>
<path color="#0f95f3" d="M427.5 261 428.4 261.2 437.7 255 436.9 254.8z"/>
<path color="#0f95f3" d="M418.2 267.2 419.1 267.3 428.4 261.2 427.5 261z"/>
<path color="#0f95f3" d="M408.9 273.4 409.8 273.5 419.1 267.3 418.2 267.2z"/>
<path color="#0f95f3" d="M399.5 279.6 400.4 279.7 409.8 273.5 408.9 273.4z"/>
<path color="#0f95f3" d="M390.2 285.8 391.1 285.9 400.4 279.7 399.5 279.6z"/>
<path color="#0f95f3" d="M380.9 292 381.8 292.1 391.1 285.9 390.2 285.8z"/>
<path color="#0f98f9" d="M447.1 248.8 448 249.1 457.3 242.9 456.4 242.6z"/>
<path color="#0f98f9" d="M437.7 255 438.6 255.3 448 249.1 447.1 248.8z"/>
<path color="#0f98f9" d="M428.4 261.2 429.3 261.5 438.6 255.3 437.7 255z"/>
<path color="#0f98f9" d="M419.1 267.3 420 267.7 429.3 261.5 428.4 261.2z"/>
<path color="#0f98f9" d="M409.8 273.5 410.6 273.9 420 267.7 419.1 267.3z"/>
<path color="#0f98f9" d="M400.4 279.7 401.3 280.1 410.6 273.9 409.8 273.5z"/>
<path color="#0f98f9" d="M391.1 285.9 392 286.3 401.3 280.1 400.4 279.7z"/>
<path color="#0f98f9" d="M381.8 292.1 382.6 292.5 392 286.3 391.1 285.9z"/>
<path color="#1383f2" d="M448 249.1 448.8 249.2 458.2 243 457.3 242.9z"/>
<path color="#1383f2" d="M438.6 255.3 439.5 255.4 448.8 249.2 448 249.1z"/>
<path color="#1383f2" d="M429.3 261.5 430.2 261.6 439.5 255.4 438.6 255.3z"/>
<path color="#1383f2" d="M420 267.7 420.9 267.8 430.2 261.6 429.3 261.5z"/>
<path color="#1383f2" d="M410.6 273.9 411.5 274 420.9 267.8 420 267.7z"/>
<path color="#1383f2" d="M401.3 280.1 402.2 280.2 411.5 274 410.6 273.9z"/>
<path color="#1383f2" d="M392 286.3 392.9 286.4 402.2 280.2 401.3 280.1z"/>
<path color="#1383f2" d="M382.6 292.5 383.5 292.6 392.9 286.4 392 286.3z"/>
<path color="#1777f7" d="M448.8 249.2 449.7 249.4 459.1 243.2 458.2 243z"/>
<path color="#1777f7" d="M439.5 255.4 440.4 255.6 449.7 249.4 448.8 249.2z"/>
<path color="#1777f7" d="M430.2 261.6 431.1 261.8 440.4 255.6 439.5 255.4z"/>
<path color="#1777f7" d="M420.9 267.8 421.7 268 431.1 261.8 430.2 261.6z"/>
<path color="#1777f7" d="M411.5 274 412.4 274.2 421.7 268 420.9 267.8z"/>
<path color="#1777f7" d="M402.2 280.2 403.1 280.4 412.4 274.2 411.5 274z"/>
<path color="#1777f7" d="M392.9 286.4 393.7 286.6 403.1 280.4 402.2 280.2z"/>
<path color="#1777f7" d="M383.5 292.6 384.4 292.8 393.7 286.6 392.9 286.4z"/>
<path color="#157ff5" d="M449.7 249.4 450.6 249.6 459.9 243.4 459.1 243.2z"/>
<path color="#157ff5" d="M440.4 255.6 441.3 255.8 450.6 249.6 449.7 249.4z"/>
<path color="#157ff5" d="M431.1 261.8 431.9 262 441.3 255.8 440.4 255.6z"/>
<path color="#157ff5" d="M421.7 268 422.6 268.2 431.9 262 431.1 261.8z"/>
<path color="#157ff5" d="M412.4 274.2 413.3 274.3 422.6 268.2 421.7 268z"/>
<path color="#157ff5" d="M403.1 280.4 404 280.5 413.3 274.3 412.4 274.2z"/>
<path color="#157ff5" d="M393.7 286.6 394.6 286.7 404 280.5 403.1 280.4z"/>
<path color="#157ff5" d="M384.4 292.8 385.3 292.9 394.6 286.7 393.7 286.6z"/>
<path color="#1385f5" d="M450.6 249.6 451.5 249.8 460.8 243.6 459.9 243.4z"/>
<path color="#1385f5" d="M441.3 255.8 442.2 256 451.5 249.8 450.6 249.6z"/>
<path color="#1385f5" d="M431.9 262 432.8 262.2 442.2 256 441.3 255.8z"/>
<path color="#1385f5" d="M422.6 268.2 423.5 268.4 432.8 262.2 431.9 262z"/>
<path color="#1385f5" d="M413.3 274.3 414.2 274.5 423.5 268.4 422.6 268.2z"/>
<path color="#1385f5" d="M404 280.5 404.8 280.7 414.2 274.5 413.3 274.3z"/>
<path color="#1385f5" d="M394.6 286.7 395.5 286.9 404.8 280.7 404 280.5z"/>
<path color="#1385f5" d="M385.3 292.9 386.2 293.1 395.5 286.9 394.6 286.7z"/>
<path color="#1385f7" d="M451.5 249.8 452.4 250 461.7 243.8 460.8 243.6z"/>
<path color="#1385f7" d="M442.2 256 443 256.2 452.4 250 451.5 249.8z"/>
<path color="#1385f7" d="M432.8 262.2 433.7 262.4 443 256.2 442.2 256z"/>
<path color="#1385f7" d="M423.5 268.4 424.4 268.6 433.7 262.4 432.8 262.2z"/>
<path color="#1385f7" d="M414.2 274.5 415 274.8 424.4 268.6 423.5 268.4z"/>
<path color="#1385f7" d="M404.8 280.7 405.7 281 415 274.8 414.2 274.5z"/>
<path color="#1385f7" d="M395.5 286.9 396.4 287.2 405.7 281 404.8 280.7z"/>
<path color="#1385f7" d="M386.2 293.1 387.1 293.4 396.4 287.2 395.5 286.9z"/>
<path color="#1677f3" d="M452.4 250 453.3 250.1 462.6 243.9 461.7 243.8z"/>
<path color="#1677f3" d="M443 256.2 443.9 256.3 453.3 250.1 452.4 250z"/>
<path color="#1677f3" d="M433.7 262.4 434.6 262.5 443.9 256.3 443 256.2z"/>
<path color="#1677f3" d="M424.4 268.6 425.3 268.7 434.6 262.5 433.7 262.4z"/>
<path color="#1677f3" d="M415 274.8 415.9 274.9 425.3 268.7 424.4 268.6z"/>
<path color="#1677f3" d="M405.7 281 406.6 281.1 415.9 274.9 415 274.8z"/>
<path color="#1677f3" d="M396.4 287.2 397.3 287.3 406.6 281.1 405.7 281z"/>
<path color="#1677f3" d="M387.1 293.4 387.9 293.5 397.3 287.3 396.4 287.2z"/>
<path color="#1679f6" d="M453.3 250.1 454.1 250.3 463.5 244.1 462.6 243.9z"/>
<path color="#1679f6" d="M443.9 256.3 444.8 256.5 454.1 250.3 453.3 250.1z"/>
<path color="#1679f6" d="M434.6 262.5 435.5 262.7 444.8 256.5 443.9 256.3z"/>
<path color="#1679f6" d="M425.3 268.7 426.1 268.9 435.5 262.7 434.6 262.5z"/>
<path color="#1679f6" d="M415.9 274.9 416.8 275.1 426.1 268.9 425.3 268.7z"/>
<path color="#1679f6" d="M406.6 281.1 407.5 281.3 416.8 275.1 415.9 274.9z"/>
<path color="#1679f6" d="M397.3 287.3 398.2 287.5 407.5 281.3 406.6 281.1z"/>
<path color="#1679f6" d="M387.9 293.5 388.8 293.7 398.2 287.5 397.3 287.3z"/>
<path color="#1678f5" d="M454.1 250.3 455 250.5 464.3 244.3 463.5 244.1z"/>
<path color="#1678f5" d="M444.8 256.5 445.7 256.7 455 250.5 454.1 250.3z"/>
<path color="#1678f5" d="M435.5 262.7 436.4 262.8 445.7 256.7 444.8 256.5z"/>
<path color="#1678f4" d="M426.1 268.9 427 269 436.4 262.8 435.5 262.7z"/>
<path color="#1678f4" d="M416.8 275.1 417.7 275.2 427 269 426.1 268.9z"/>
<path color="#1678f4" d="M407.5 281.3 408.4 281.4 417.7 275.2 416.8 275.1z"/>
<path color="#1678f3" d="M398.2 287.5 399 287.6 408.4 281.4 407.5 281.3z"/>
<path color="#1678f3" d="M388.8 293.7 389.7 293.8 399 287.6 398.2 287.5z"/>
<path color="#1579ef" d="M455 250.5 455.9 250.4 465.2 244.3 464.3 244.3z"/>
<path color="#1578ed" d="M445.7 256.7 446.6 256.6 455.9 250.4 455 250.5z"/>
<path color="#1478eb" d="M436.4 262.8 437.2 262.7 446.6 256.6 445.7 256.7z"/>
<path color="#1477ea" d="M427 269 427.9 268.8 437.2 262.7 436.4 262.8z"/>
<path color="#1477e8" d="M417.7 275.2 418.6 275 427.9 268.8 427 269z"/>
<path color="#1477e6" d="M408.4 281.4 409.2 281.1 418.6 275 417.7 275.2z"/>
<path color="#1376e4" d="M399 287.6 399.9 287.2 409.2 281.1 408.4 281.4z"/>
<path color="#1376e2" d="M389.7 293.8 390.6 293.4 399.9 287.2 399 287.6z"/>
<path color="#107bdb" d="M455.9 250.4 456.8 249.8 466.1 243.8 465.2 244.3z"/>
<path color="#0f7bd6" d="M446.6 256.6 447.4 255.8 456.8 249.8 455.9 250.4z"/>
<path color="#0e7ad1" d="M437.2 262.7 438.1 261.8 447.4 255.8 446.6 256.6z"/>
<path color="#0e79cd" d="M427.9 268.8 428.8 267.8 438.1 261.8 437.2 262.7z"/>
<path color="#0d78c8" d="M418.6 275 419.5 273.8 428.8 267.8 427.9 268.8z"/>
<path color="#0c77c3" d="M409.2 281.1 410.1 279.8 419.5 273.8 418.6 275z"/>
<path color="#0c76be" d="M399.9 287.2 400.8 285.7 410.1 279.8 409.2 281.1z"/>
<path color="#0b74ba" d="M390.6 293.4 391.5 291.7 400.8 285.7 399.9 287.2z"/>
<path color="#0e89e1" d="M456.8 249.8 457.7 249.3 467 243.5 466.1 243.8z"/>
<path color="#0d8adb" d="M447.4 255.8 448.3 255.2 457.7 249.3 456.8 249.8z"/>
<path color="#0d8bd5" d="M438.1 261.8 439 261 448.3 255.2 447.4 255.8z"/>
<path color="#0d8bcf" d="M428.8 267.8 429.7 266.8 439 261 438.1 261.8z"/>
<path color="#0c8cc9" d="M419.5 273.8 420.3 272.6 429.7 266.8 428.8 267.8z"/>
<path color="#0c8cc3" d="M410.1 279.8 411 278.4 420.3 272.6 419.5 273.8z"/>
<path color="#0c8cbd" d="M400.8 285.7 401.7 284.2 411 278.4 410.1 279.8z"/>
<path color="#0b8bb6" d="M391.5 291.7 392.4 290 401.7 284.2 400.8 285.7z"/>
<path color="#0fb8fc" d="M457.7 249.3 458.5 249.7 467.9 244 467 243.5z"/>
<path color="#0fbdf8" d="M448.3 255.2 449.2 255.4 458.5 249.7 457.7 249.3z"/>
<path color="#10c1f5" d="M439 261 439.9 261.1 449.2 255.4 448.3 255.2z"/>
<path color="#12c4f3" d="M429.7 266.8 430.6 266.8 439.9 261.1 439 261z"/>
<path color="#13c7f0" d="M420.3 272.6 421.2 272.5 430.6 266.8 429.7 266.8z"/>
<path color="#14caee" d="M411 278.4 411.9 278.2 421.2 272.5 420.3 272.6z"/>
<path color="#18cae7" d="M401.7 284.2 402.6 283.9 411.9 278.2 411 278.4z"/>
<path color="#1dcade" d="M392.4 290 393.2 289.6 402.6 283.9 401.7 284.2z"/>
<path color="#10c8ff" d="M458.5 249.7 459.4 250.5 468.8 244.8 467.9 244z"/>
<path color="#11ceff" d="M449.2 255.4 450.1 256.1 459.4 250.5 458.5 249.7z"/>
<path color="#13d4ff" d="M439.9 261.1 440.8 261.8 450.1 256.1 449.2 255.4z"/>
<path color="#15daff" d="M430.6 266.8 431.4 267.5 440.8 261.8 439.9 261.1z"/>
<path color="#16dfff" d="M421.2 272.5 422.1 273.1 431.4 267.5 430.6 266.8z"/>
<path color="#1be3ff" d="M411.9 278.2 412.8 278.8 422.1 273.1 421.2 272.5z"/>
<path color="#21e5fd" d="M402.6 283.9 403.4 284.5 412.8 278.8 411.9 278.2z"/>
<path color="#27e8f7" d="M393.2 289.6 394.1 290.1 403.4 284.5 402.6 283.9z"/>
<path color="#11cfff" d="M459.4 250.5 460.3 251.5 469.6 245.8 468.8 244.8z"/>
<path color="#11d6ff" d="M450.1 256.1 451 257.2 460.3 251.5 459.4 250.5z"/>
<path color="#13dcff" d="M440.8 261.8 441.6 262.9 451 257.2 450.1 256.1z"/>
<path color="#15e2ff" d="M431.4 267.5 432.3 268.5 441.6 262.9 440.8 261.8z"/>
<path color="#17e8ff" d="M422.1 273.1 423 274.2 432.3 268.5 431.4 267.5z"/>
<path color="#18eeff" d="M412.8 278.8 413.7 279.9 423 274.2 422.1 273.1z"/>
<path color="#1df2ff" d="M403.4 284.5 404.3 285.6 413.7 279.9 412.8 278.8z"/>
<path color="#22f5ff" d="M394.1 290.1 395 291.3 404.3 285.6 403.4 284.5z"/>
<path color="#11c6ff" d="M460.3 251.5 461.2 252.6 470.5 246.9 469.6 245.8z"/>
<path color="#11ccff" d="M451 257.2 451.9 258.3 461.2 252.6 460.3 251.5z"/>
<path color="#11d2ff" d="M441.6 262.9 442.5 264 451.9 258.3 451 257.2z"/>
<path color="#11d7ff" d="M432.3 268.5 433.2 269.7 442.5 264 441.6 262.9z"/>
<path color="#13dbff" d="M423 274.2 423.9 275.4 433.2 269.7 432.3 268.5z"/>
<path color="#14e0ff" d="M413.7 279.9 414.5 281.1 423.9 275.4 423 274.2z"/>
<path color="#15e4ff" d="M404.3 285.6 405.2 286.8 414.5 281.1 413.7 279.9z"/>
<path color="#17e8ff" d="M395 291.3 395.9 292.6 405.2 286.8 404.3 285.6z"/>
<path color="#11baff" d="M461.2 252.6 462.1 253.7 471.4 247.9 470.5 246.9z"/>
<path color="#11beff" d="M451.9 258.3 452.7 259.4 462.1 253.7 461.2 252.6z"/>
<path color="#11c3ff" d="M442.5 264 443.4 265.1 452.7 259.4 451.9 258.3z"/>
<path color="#11c7ff" d="M433.2 269.7 434.1 270.8 443.4 265.1 442.5 264z"/>
<path color="#11cbff" d="M423.9 275.4 424.8 276.6 434.1 270.8 433.2 269.7z"/>
<path color="#11ceff" d="M414.5 281.1 415.4 282.3 424.8 276.6 423.9 275.4z"/>
<path color="#11d2ff" d="M405.2 286.8 406.1 288 415.4 282.3 414.5 281.1z"/>
<path color="#11d6ff" d="M395.9 292.6 396.8 293.8 406.1 288 405.2 286.8z"/>
<path color="#11abff" d="M462.1 253.7 463 254.6 472.3 248.9 471.4 247.9z"/>
<path color="#11acff" d="M452.7 259.4 453.6 260.4 463 254.6 462.1 253.7z"/>
<path color="#10aeff" d="M443.4 265.1 444.3 266.1 453.6 260.4 452.7 259.4z"/>
<path color="#10b0ff" d="M434.1 270.8 435 271.8 444.3 266.1 443.4 265.1z"/>
<path color="#10b2ff" d="M424.8 276.6 425.6 277.5 435 271.8 434.1 270.8z"/>
<path color="#10b4ff" d="M415.4 282.3 416.3 283.2 425.6 277.5 424.8 276.6z"/>
<path color="#10b6ff" d="M406.1 288 407 289 416.3 283.2 415.4 282.3z"/>
<path color="#10b8ff" d="M396.8 293.8 397.6 294.7 407 289 406.1 288z"/>
<path color="#1294ff" d="M463 254.6 463.8 255.2 473.2 249.5 472.3 248.9z"/>
<path color="#1195ff" d="M453.6 260.4 454.5 260.8 463.8 255.2 463 254.6z"/>
<path color="#1195fd" d="M444.3 266.1 445.2 266.5 454.5 260.8 453.6 260.4z"/>
<path color="#1095fa" d="M435 271.8 435.8 272.1 445.2 266.5 444.3 266.1z"/>
<path color="#1095f9" d="M425.6 277.5 426.5 277.8 435.8 272.1 435 271.8z"/>
<path color="#1095f7" d="M416.3 283.2 417.2 283.5 426.5 277.8 425.6 277.5z"/>
<path color="#0f96f5" d="M407 289 407.9 289.2 417.2 283.5 416.3 283.2z"/>
<path color="#0f96f4" d="M397.6 294.7 398.5 294.9 407.9 289.2 407 289z"/>
<path color="#138fff" d="M463.8 255.2 464.7 255.7 474 250.1 473.2 249.5z"/>
<path color="#128ffc" d="M454.5 260.8 455.4 261.2 464.7 255.7 463.8 255.2z"/>
<path color="#128ff9" d="M445.2 266.5 446.1 266.8 455.4 261.2 454.5 260.8z"/>
<path color="#118ff6" d="M435.8 272.1 436.7 272.4 446.1 266.8 445.2 266.5z"/>
<path color="#108ff4" d="M426.5 277.8 427.4 278 436.7 272.4 435.8 272.1z"/>
<path color="#108ff2" d="M417.2 283.5 418.1 283.6 427.4 278 426.5 277.8z"/>
<path color="#108ef0" d="M407.9 289.2 408.7 289.2 418.1 283.6 417.2 283.5z"/>
<path color="#0f8eed" d="M398.5 294.9 399.4 294.8 408.7 289.2 407.9 289.2z"/>
<path color="#1487fe" d="M464.7 255.7 465.6 256.1 474.9 250.6 474 250.1z"/>
<path color="#1488fa" d="M455.4 261.2 456.3 261.5 465.6 256.1 464.7 255.7z"/>
<path color="#1388f6" d="M446.1 266.8 446.9 267 456.3 261.5 455.4 261.2z"/>
<path color="#1289f3" d="M436.7 272.4 437.6 272.5 446.9 267 446.1 266.8z"/>
<path color="#1188f0" d="M427.4 278 428.3 278 437.6 272.5 436.7 272.4z"/>
<path color="#1188ee" d="M418.1 283.6 419 283.6 428.3 278 427.4 278z"/>
<path color="#1188ec" d="M408.7 289.2 409.6 289.1 419 283.6 418.1 283.6z"/>
<path color="#1087ea" d="M399.4 294.8 400.3 294.7 409.6 289.1 408.7 289.2z"/>
<path color="#147ff0" d="M465.6 256.1 466.5 256 475.8 250.7 474.9 250.6z"/>
<path color="#1280ec" d="M456.3 261.5 457.2 261.4 466.5 256 465.6 256.1z"/>
<path color="#1181e8" d="M446.9 267 447.8 266.7 457.2 261.4 456.3 261.5z"/>
<path color="#1182e5" d="M437.6 272.5 438.5 272.1 447.8 266.7 446.9 267z"/>
<path color="#1081e3" d="M428.3 278 429.2 277.6 438.5 272.1 437.6 272.5z"/>
<path color="#1081e1" d="M419 283.6 419.8 283.1 429.2 277.6 428.3 278z"/>
<path color="#0f81df" d="M409.6 289.1 410.5 288.6 419.8 283.1 419 283.6z"/>
<path color="#0f81dd" d="M400.3 294.7 401.2 294.1 410.5 288.6 409.6 289.1z"/>
<path color="#1285ee" d="M466.5 256 467.4 256 476.7 250.8 475.8 250.7z"/>
<path color="#1086e9" d="M457.2 261.4 458 261.1 467.4 256 466.5 256z"/>
<path color="#0f88e5" d="M447.8 266.7 448.7 266.4 458 261.1 457.2 261.4z"/>
<path color="#0e89e2" d="M438.5 272.1 439.4 271.8 448.7 266.4 447.8 266.7z"/>
<path color="#0e89e2" d="M429.2 277.6 430 277.3 439.4 271.8 438.5 272.1z"/>
<path color="#0e89e2" d="M419.8 283.1 420.7 282.8 430 277.3 429.2 277.6z"/>
<path color="#0e89e1" d="M410.5 288.6 411.4 288.3 420.7 282.8 419.8 283.1z"/>
<path color="#0e89e1" d="M401.2 294.1 402.1 293.8 411.4 288.3 410.5 288.6z"/>
<path color="#0c79c2" d="M467.4 256 468.2 254.5 477.6 249.6 476.7 250.8z"/>
<path color="#0b7abb" d="M458 261.1 458.9 259.5 468.2 254.5 467.4 256z"/>
<path color="#0b7bb6" d="M448.7 266.4 449.6 264.7 458.9 259.5 458 261.1z"/>
<path color="#0b7cb5" d="M439.4 271.8 440.3 270.1 449.6 264.7 448.7 266.4z"/>
<path color="#0b7eb8" d="M430 277.3 430.9 275.7 440.3 270.1 439.4 271.8z"/>
<path color="#0b7fbc" d="M420.7 282.8 421.6 281.4 430.9 275.7 430 277.3z"/>
<path color="#0c80bf" d="M411.4 288.3 412.3 287 421.6 281.4 420.7 282.8z"/>
<path color="#0c81c3" d="M402.1 293.8 402.9 292.6 412.3 287 411.4 288.3z"/>
<path color="#0a7594" d="M468.2 254.5 469.1 251.7 478.5 247 477.6 249.6z"/>
<path color="#0a708b" d="M458.9 259.5 459.8 256.4 469.1 251.7 468.2 254.5z"/>
<path color="#0a6f88" d="M449.6 264.7 450.5 261.4 459.8 256.4 458.9 259.5z"/>
<path color="#0a7088" d="M440.3 270.1 441.1 267.1 450.5 261.4 449.6 264.7z"/>
<path color="#0b748f" d="M430.9 275.7 431.8 273 441.1 267.1 440.3 270.1z"/>
<path color="#0b7b98" d="M421.6 281.4 422.5 278.9 431.8 273 430.9 275.7z"/>
<path color="#0b81a1" d="M412.3 287 413.2 284.8 422.5 278.9 421.6 281.4z"/>
<path color="#0b87aa" d="M402.9 292.6 403.8 290.6 413.2 284.8 412.3 287z"/>
<path color="#0e7788" d="M469.1 251.7 470 247.6 479.3 243.2 478.5 247z"/>
<path color="#107886" d="M459.8 256.4 460.7 251.9 470 247.6 469.1 251.7z"/>
<path color="#137984" d="M450.5 261.4 451.4 256.9 460.7 251.9 459.8 256.4z"/>
<path color="#127984" d="M441.1 267.1 442 263 451.4 256.9 450.5 261.4z"/>
<path color="#117885" d="M431.8 273 432.7 269.3 442 263 441.1 267.1z"/>
<path color="#0f7787" d="M422.5 278.9 423.4 275.6 432.7 269.3 431.8 273z"/>
<path color="#0e788a" d="M413.2 284.8 414 282 423.4 275.6 422.5 278.9z"/>
<path color="#0d849a" d="M403.8 290.6 404.7 288.3 414 282 413.2 284.8z"/>
<path color="#317c68" d="M470 247.6 470.9 242.8 480.2 238.8 479.3 243.2z"/>
<path color="#4a7d51" d="M460.7 251.9 461.6 246.7 470.9 242.8 470 247.6z"/>
<path color="#647d39" d="M451.4 256.9 452.2 251.6 461.6 246.7 460.7 251.9z"/>
<path color="#5c7d40" d="M442 263 442.9 258.2 452.2 251.6 451.4 256.9z"/>
<path color="#437c57" d="M432.7 269.3 433.6 265.1 442.9 258.2 442 263z"/>
<path color="#2f7c6a" d="M423.4 275.6 424.2 272 433.6 265.1 432.7 269.3z"/>
<path color="#227c76" d="M414 282 414.9 278.8 424.2 272 423.4 275.6z"/>
<path color="#188388" d="M404.7 288.3 405.6 285.7 414.9 278.8 414 282z"/>
<path color="#85801d" d="M470.9 242.8 471.8 238.2 481.1 234.6 480.2 238.8z"/>
<path color="#888218" d="M461.6 246.7 462.4 241.7 471.8 238.2 470.9 242.8z"/>
<path color="#898317" d="M452.2 251.6 453.1 246.5 462.4 241.7 461.6 246.7z"/>
<path color="#898217" d="M442.9 258.2 443.8 253.6 453.1 246.5 452.2 251.6z"/>
<path color="#87811a" d="M433.6 265.1 434.5 261 443.8 253.6 442.9 258.2z"/>
<path color="#827f20" d="M424.2 272 425.1 268.4 434.5 261 433.6 265.1z"/>
<path color="#757e2b" d="M414.9 278.8 415.8 275.8 425.1 268.4 424.2 272z"/>
<path color="#5d8548" d="M405.6 285.7 406.5 283.2 415.8 275.8 414.9 278.8z"/>
<path color="#9e961a" d="M471.8 238.2 472.7 235.6 482 232.3 481.1 234.6z"/>
<path color="#958e18" d="M462.4 241.7 463.3 238.9 472.7 235.6 471.8 238.2z"/>
<path color="#8e8717" d="M453.1 246.5 454 243.5 463.3 238.9 462.4 241.7z"/>
<path color="#908917" d="M443.8 253.6 444.7 250.8 454 243.5 453.1 246.5z"/>
<path color="#979018" d="M434.5 261 435.3 258.4 444.7 250.8 443.8 253.6z"/>
<path color="#9f971b" d="M425.1 268.4 426 266.1 435.3 258.4 434.5 261z"/>
<path color="#a49d21" d="M415.8 275.8 416.7 273.7 426 266.1 425.1 268.4z"/>
<path color="#9fa32f" d="M406.5 283.2 407.3 281.3 416.7 273.7 415.8 275.8z"/>
<path color="#fffe2b" d="M472.7 235.6 473.5 236.3 482.9 233 482 232.3z"/>
<path color="#ffff2b" d="M463.3 238.9 464.2 239.6 473.5 236.3 472.7 235.6z"/>
<path color="#ffff2b" d="M454 243.5 454.9 244.2 464.2 239.6 463.3 238.9z"/>
<path color="#fffe2b" d="M444.7 250.8 445.6 251.5 454.9 244.2 454 243.5z"/>
<path color="#fffc2a" d="M435.3 258.4 436.2 259 445.6 251.5 444.7 250.8z"/>
<path color="#fff92a" d="M426 266.1 426.9 266.6 436.2 259 435.3 258.4z"/>
<path color="#fff52e" d="M416.7 273.7 417.6 274.2 426.9 266.6 426 266.1z"/>
<path color="#f5ee3a" d="M407.3 281.3 408.2 281.8 417.6 274.2 416.7 273.7z"/>
<path color="#ffff2e" d="M473.5 236.3 474.4 238.9 483.8 235.4 482.9 233z"/>
<path color="#ffff2d" d="M464.2 239.6 465.1 242.4 474.4 238.9 473.5 236.3z"/>
<path color="#ffff2d" d="M454.9 244.2 455.8 247 465.1 242.4 464.2 239.6z"/>
<path color="#ffff2d" d="M445.6 251.5 446.4 253.9 455.8 247 454.9 244.2z"/>
<path color="#ffff2d" d="M436.2 259 437.1 261.1 446.4 253.9 445.6 251.5z"/>
<path color="#ffff30" d="M426.9 266.6 427.8 268.3 437.1 261.1 436.2 259z"/>
<path color="#ffff36" d="M417.6 274.2 418.4 275.5 427.8 268.3 426.9 266.6z"/>
<path color="#ffff46" d="M408.2 281.8 409.1 282.7 418.4 275.5 417.6 274.2z"/>
<path color="#feff49" d="M474.4 238.9 475.3 242.8 484.6 239.1 483.8 235.4z"/>
<path color="#ffff3b" d="M465.1 242.4 466 246.5 475.3 242.8 474.4 238.9z"/>
<path color="#ffff37" d="M455.8 247 456.6 251.1 466 246.5 465.1 242.4z"/>
<path color="#ffff39" d="M446.4 253.9 447.3 257.4 456.6 251.1 455.8 247z"/>
<path color="#ffff3c" d="M437.1 261.1 438 264.1 447.3 257.4 446.4 253.9z"/>
<path color="#ffff47" d="M427.8 268.3 428.7 270.8 438 264.1 437.1 261.1z"/>
<path color="#eaff59" d="M418.4 275.5 419.3 277.4 428.7 270.8 427.8 268.3z"/>
<path color="#d2ff6d" d="M409.1 282.7 410 284.1 419.3 277.4 418.4 275.5z"/>
<path color="#8efead" d="M475.3 242.8 476.2 246.5 485.5 242.5 484.6 239.1z"/>
<path color="#c2ff7c" d="M466 246.5 466.9 250.4 476.2 246.5 475.3 242.8z"/>
<path color="#e2ff60" d="M456.6 251.1 457.5 254.9 466.9 250.4 466 246.5z"/>
<path color="#e1ff61" d="M447.3 257.4 448.2 260.7 457.5 254.9 456.6 251.1z"/>
<path color="#d1ff6e" d="M438 264.1 438.9 266.9 448.2 260.7 447.3 257.4z"/>
<path color="#baff83" d="M428.7 270.8 429.5 273 438.9 266.9 438 264.1z"/>
<path color="#9cfe9f" d="M419.3 277.4 420.2 279.1 429.5 273 428.7 270.8z"/>
<path color="#75fdc4" d="M410 284.1 410.9 285.2 420.2 279.1 419.3 277.4z"/>
<path color="#30fcff" d="M476.2 246.5 477.1 249.7 486.4 245.5 485.5 242.5z"/>
<path color="#4dfde9" d="M466.9 250.4 467.7 253.8 477.1 249.7 476.2 246.5z"/>
<path color="#7efdbc" d="M457.5 254.9 458.4 258.3 467.7 253.8 466.9 250.4z"/>
<path color="#8dfeae" d="M448.2 260.7 449.1 263.6 458.4 258.3 457.5 254.9z"/>
<path color="#7bfdbf" d="M438.9 266.9 439.7 269.3 449.1 263.6 448.2 260.7z"/>
<path color="#6cfdcd" d="M429.5 273 430.4 275 439.7 269.3 438.9 266.9z"/>
<path color="#5dfddb" d="M420.2 279.1 421.1 280.6 430.4 275 429.5 273z"/>
<path color="#4dfde9" d="M410.9 285.2 411.8 286.3 421.1 280.6 420.2 279.1z"/>
<path color="#1cf2ff" d="M477.1 249.7 478 251.9 487.3 247.6 486.4 245.5z"/>
<path color="#23f5ff" d="M467.7 253.8 468.6 256.2 478 251.9 477.1 249.7z"/>
<path color="#2ffbff" d="M458.4 258.3 459.3 260.7 468.6 256.2 467.7 253.8z"/>
<path color="#3afdfa" d="M449.1 263.6 450 265.7 459.3 260.7 458.4 258.3z"/>
<path color="#3afdfb" d="M439.7 269.3 440.6 271.1 450 265.7 449.1 263.6z"/>
<path color="#38fdfc" d="M430.4 275 431.3 276.4 440.6 271.1 439.7 269.3z"/>
<path color="#37fdfd" d="M421.1 280.6 422 281.8 431.3 276.4 430.4 275z"/>
<path color="#35f9fb" d="M411.8 286.3 412.6 287.2 422 281.8 421.1 280.6z"/>
<path color="#1cf1ff" d="M478 251.9 478.8 253.3 488.2 249 487.3 247.6z"/>
<path color="#1cf1ff" d="M468.6 256.2 469.5 257.7 478.8 253.3 478 251.9z"/>
<path color="#21f4ff" d="M459.3 260.7 460.2 262.1 469.5 257.7 468.6 256.2z"/>
<path color="#28f8ff" d="M450 265.7 450.8 267 460.2 262.1 459.3 260.7z"/>
<path color="#2af9ff" d="M440.6 271.1 441.5 272.2 450.8 267 450 265.7z"/>
<path color="#2bf7ff" d="M431.3 276.4 432.2 277.4 441.5 272.2 440.6 271.1z"/>
<path color="#2cf2fd" d="M422 281.8 422.9 282.5 432.2 277.4 431.3 276.4z"/>
<path color="#2deef6" d="M412.6 287.2 413.5 287.7 422.9 282.5 422 281.8z"/>
<path color="#1eedff" d="M478.8 253.3 479.7 254.3 489 249.8 488.2 249z"/>
<path color="#1fefff" d="M469.5 257.7 470.4 258.7 479.7 254.3 478.8 253.3z"/>
<path color="#20f1ff" d="M460.2 262.1 461.1 263.1 470.4 258.7 469.5 257.7z"/>
<path color="#25f3ff" d="M450.8 267 451.7 267.9 461.1 263.1 460.2 262.1z"/>
<path color="#26f1ff" d="M441.5 272.2 442.4 273 451.7 267.9 450.8 267z"/>
<path color="#27f0ff" d="M432.2 277.4 433.1 278.1 442.4 273 441.5 272.2z"/>
<path color="#2aeffc" d="M422.9 282.5 423.7 283.3 433.1 278.1 432.2 277.4z"/>
<path color="#2deef7" d="M413.5 287.7 414.4 288.4 423.7 283.3 422.9 282.5z"/>
<path color="#22e6fd" d="M479.7 254.3 480.6 254.9 489.9 250.4 489 249.8z"/>
<path color="#22e8fe" d="M470.4 258.7 471.3 259.3 480.6 254.9 479.7 254.3z"/>
<path color="#23e9fe" d="M461.1 263.1 461.9 263.8 471.3 259.3 470.4 258.7z"/>
<path color="#28ebfa" d="M451.7 267.9 452.6 268.6 461.9 263.8 461.1 263.1z"/>
<path color="#2aebf8" d="M442.4 273 443.3 273.7 452.6 268.6 451.7 267.9z"/>
<path color="#2becf5" d="M433.1 278.1 433.9 278.7 443.3 273.7 442.4 273z"/>
<path color="#2decf3" d="M423.7 283.3 424.6 283.8 433.9 278.7 433.1 278.1z"/>
<path color="#32eced" d="M414.4 288.4 415.3 288.9 424.6 283.8 423.7 283.3z"/>
<path color="#22ebff" d="M480.6 254.9 481.5 255.7 490.8 251.2 489.9 250.4z"/>
<path color="#22ecff" d="M471.3 259.3 472.1 260.2 481.5 255.7 480.6 254.9z"/>
<path color="#23edff" d="M461.9 263.8 462.8 264.7 472.1 260.2 471.3 259.3z"/>
<path color="#26efff" d="M452.6 268.6 453.5 269.4 462.8 264.7 461.9 263.8z"/>
<path color="#28f0ff" d="M443.3 273.7 444.2 274.5 453.5 269.4 452.6 268.6z"/>
<path color="#2af1ff" d="M433.9 278.7 434.8 279.6 444.2 274.5 443.3 273.7z"/>
<path color="#2cf2fd" d="M424.6 283.8 425.5 284.6 434.8 279.6 433.9 278.7z"/>
<path color="#2df3fb" d="M415.3 288.9 416.2 289.7 425.5 284.6 424.6 283.8z"/>
<path color="#1fdbf2" d="M481.5 255.7 482.4 255.9 491.7 251.4 490.8 251.2z"/>
<path color="#20dcf3" d="M472.1 260.2 473 260.4 482.4 255.9 481.5 255.7z"/>
<path color="#20dcf4" d="M462.8 264.7 463.7 265 473 260.4 472.1 260.2z"/>
<path color="#22def2" d="M453.5 269.4 454.4 269.7 463.7 265 462.8 264.7z"/>
<path color="#24dff1" d="M444.2 274.5 445 274.8 454.4 269.7 453.5 269.4z"/>
<path color="#26e0ef" d="M434.8 279.6 435.7 279.9 445 274.8 444.2 274.5z"/>
<path color="#28e2ee" d="M425.5 284.6 426.4 285 435.7 279.9 434.8 279.6z"/>
<path color="#29e3ed" d="M416.2 289.7 417.1 290 426.4 285 425.5 284.6z"/>
<path color="#21e1f8" d="M482.4 255.9 483.2 256.4 492.6 251.8 491.7 251.4z"/>
<path color="#21e2f9" d="M473 260.4 473.9 260.9 483.2 256.4 482.4 255.9z"/>
<path color="#21e3fa" d="M463.7 265 464.6 265.4 473.9 260.9 473 260.4z"/>
<path color="#24e5f8" d="M454.4 269.7 455.3 270.2 464.6 265.4 463.7 265z"/>
<path color="#26e6f7" d="M445 274.8 445.9 275.3 455.3 270.2 454.4 269.7z"/>
<path color="#27e7f5" d="M435.7 279.9 436.6 280.4 445.9 275.3 445 274.8z"/>
<path color="#29e8f4" d="M426.4 285 427.3 285.5 436.6 280.4 435.7 279.9z"/>
<path color="#2be9f3" d="M417.1 290 417.9 290.6 427.3 285.5 426.4 285z"/>
<path color="#1fddf5" d="M483.2 256.4 484.1 256.7 493.5 252.1 492.6 251.8z"/>
<path color="#1fdef6" d="M473.9 260.9 474.8 261.2 484.1 256.7 483.2 256.4z"/>
<path color="#1fdef6" d="M464.6 265.4 465.5 265.8 474.8 261.2 473.9 260.9z"/>
<path color="#23e1f4" d="M455.3 270.2 456.1 270.6 465.5 265.8 464.6 265.4z"/>
<path color="#25e2f3" d="M445.9 275.3 446.8 275.7 456.1 270.6 455.3 270.2z"/>
<path color="#26e3f2" d="M436.6 280.4 437.5 280.8 446.8 275.7 445.9 275.3z"/>
<path color="#28e4f1" d="M427.3 285.5 428.1 285.9 437.5 280.8 436.6 280.4z"/>
<path color="#2ae5ef" d="M417.9 290.6 418.8 291 428.1 285.9 427.3 285.5z"/>
<path color="#1fe2fd" d="M484.1 256.7 485 257.2 494.3 252.6 493.5 252.1z"/>
<path color="#1fe3fd" d="M474.8 261.2 475.7 261.8 485 257.2 484.1 256.7z"/>
<path color="#1fe4fe" d="M465.5 265.8 466.3 266.4 475.7 261.8 474.8 261.2z"/>
<path color="#22e6fc" d="M456.1 270.6 457 271.2 466.3 266.4 465.5 265.8z"/>
<path color="#24e7fb" d="M446.8 275.7 447.7 276.3 457 271.2 456.1 270.6z"/>
<path color="#25e8fa" d="M437.5 280.8 438.4 281.4 447.7 276.3 446.8 275.7z"/>
<path color="#27e9f9" d="M428.1 285.9 429 286.5 438.4 281.4 437.5 280.8z"/>
<path color="#29ebf8" d="M418.8 291 419.7 291.6 429 286.5 428.1 285.9z"/>
<path color="#1cdefc" d="M485 257.2 485.9 257.6 495.2 253 494.3 252.6z"/>
<path color="#1cdffc" d="M475.7 261.8 476.6 262.2 485.9 257.6 485 257.2z"/>
<path color="#1cdffd" d="M466.3 266.4 467.2 266.8 476.6 262.2 475.7 261.8z"/>
<path color="#1ee1fc" d="M457 271.2 457.9 271.7 467.2 266.8 466.3 266.4z"/>
<path color="#20e2fb" d="M447.7 276.3 448.6 276.8 457.9 271.7 457 271.2z"/>
<path color="#22e3fa" d="M438.4 281.4 439.2 281.9 448.6 276.8 447.7 276.3z"/>
<path color="#23e5f9" d="M429 286.5 429.9 287 439.2 281.9 438.4 281.4z"/>
<path color="#25e6f7" d="M419.7 291.6 420.6 292.1 429.9 287 429 286.5z"/>
<path color="#1adcfc" d="M485.9 257.6 486.8 258 496.1 253.4 495.2 253z"/>
<path color="#1addfd" d="M476.6 262.2 477.4 262.7 486.8 258 485.9 257.6z"/>
<path color="#1adefe" d="M467.2 266.8 468.1 267.3 477.4 262.7 476.6 262.2z"/>
<path color="#1bdffd" d="M457.9 271.7 458.8 272.1 468.1 267.3 467.2 266.8z"/>
<path color="#1ee1fc" d="M448.6 276.8 449.5 277.3 458.8 272.1 457.9 271.7z"/>
<path color="#1fe2fb" d="M439.2 281.9 440.1 282.4 449.5 277.3 448.6 276.8z"/>
<path color="#21e3fa" d="M429.9 287 430.8 287.5 440.1 282.4 439.2 281.9z"/>
<path color="#23e4f9" d="M420.6 292.1 421.5 292.6 430.8 287.5 429.9 287z"/>
<path color="#1eddf7" d="M486.8 258 487.7 258.4 497 253.7 496.1 253.4z"/>
<path color="#1edef7" d="M477.4 262.7 478.3 263 487.7 258.4 486.8 258z"/>
<path color="#1edef8" d="M468.1 267.3 469 267.7 478.3 263 477.4 262.7z"/>
<path color="#20e0f7" d="M458.8 272.1 459.7 272.6 469 267.7 468.1 267.3z"/>
<path color="#23e2f5" d="M449.5 277.3 450.3 277.7 459.7 272.6 458.8 272.1z"/>
<path color="#24e3f4" d="M440.1 282.4 441 282.8 450.3 277.7 449.5 277.3z"/>
<path color="#26e4f3" d="M430.8 287.5 431.7 287.9 441 282.8 440.1 282.4z"/>
<path color="#28e5f2" d="M421.5 292.6 422.3 293.1 431.7 287.9 430.8 287.5z"/>
<path color="#22e3f8" d="M487.7 258.4 488.5 258.8 497.9 254.1 497 253.7z"/>
<path color="#22e3f9" d="M478.3 263 479.2 263.5 488.5 258.8 487.7 258.4z"/>
<path color="#22e4f9" d="M469 267.7 469.9 268.2 479.2 263.5 478.3 263z"/>
<path color="#26e6f7" d="M459.7 272.6 460.5 273.1 469.9 268.2 469 267.7z"/>
<path color="#28e8f6" d="M450.3 277.7 451.2 278.2 460.5 273.1 459.7 272.6z"/>
<path color="#2ae9f4" d="M441 282.8 441.9 283.4 451.2 278.2 450.3 277.7z"/>
<path color="#2ceaf3" d="M431.7 287.9 432.6 288.5 441.9 283.4 441 282.8z"/>
<path color="#2debf2" d="M422.3 293.1 423.2 293.7 432.6 288.5 431.7 287.9z"/>
<path color="#15d8ff" d="M488.5 258.8 489.4 259.3 498.7 254.6 497.9 254.1z"/>
<path color="#15d9ff" d="M479.2 263.5 480.1 264 489.4 259.3 488.5 258.8z"/>
<path color="#16d9ff" d="M469.9 268.2 470.8 268.7 480.1 264 479.2 263.5z"/>
<path color="#16daff" d="M460.5 273.1 461.4 273.6 470.8 268.7 469.9 268.2z"/>
<path color="#16dbff" d="M451.2 278.2 452.1 278.8 461.4 273.6 460.5 273.1z"/>
<path color="#16ddff" d="M441.9 283.4 442.8 283.9 452.1 278.8 451.2 278.2z"/>
<path color="#17dfff" d="M432.6 288.5 433.4 289.1 442.8 283.9 441.9 283.4z"/>
<path color="#19e1ff" d="M423.2 293.7 424.1 294.2 433.4 289.1 432.6 288.5z"/>
<path color="#12ccfc" d="M489.4 259.3 490.3 259.7 499.6 254.9 498.7 254.6z"/>
<path color="#13cdfc" d="M480.1 264 481 264.4 490.3 259.7 489.4 259.3z"/>
<path color="#13cefd" d="M470.8 268.7 471.6 269.1 481 264.4 480.1 264z"/>
<path color="#13cefe" d="M461.4 273.6 462.3 274 471.6 269.1 470.8 268.7z"/>
<path color="#13cffe" d="M452.1 278.8 453 279.2 462.3 274 461.4 273.6z"/>
<path color="#13cfff" d="M442.8 283.9 443.7 284.4 453 279.2 452.1 278.8z"/>
<path color="#14d2ff" d="M433.4 289.1 434.3 289.5 443.7 284.4 442.8 283.9z"/>
<path color="#14d4ff" d="M424.1 294.2 425 294.7 434.3 289.5 433.4 289.1z"/>
<path color="#12cdfd" d="M490.3 259.7 491.2 260.1 500.5 255.3 499.6 254.9z"/>
<path color="#12cefe" d="M481 264.4 481.9 264.8 491.2 260.1 490.3 259.7z"/>
<path color="#12ceff" d="M471.6 269.1 472.5 269.6 481.9 264.8 481 264.4z"/>
<path color="#12cfff" d="M462.3 274 463.2 274.5 472.5 269.6 471.6 269.1z"/>
<path color="#13cfff" d="M453 279.2 453.9 279.7 463.2 274.5 462.3 274z"/>
<path color="#13d0ff" d="M443.7 284.4 444.5 284.9 453.9 279.7 453 279.2z"/>
<path color="#13d2ff" d="M434.3 289.5 435.2 290 444.5 284.9 443.7 284.4z"/>
<path color="#14d4ff" d="M425 294.7 425.9 295.2 435.2 290 434.3 289.5z"/>
<path color="#12cdff" d="M491.2 260.1 492.1 260.6 501.4 255.8 500.5 255.3z"/>
<path color="#12ceff" d="M481.9 264.8 482.7 265.4 492.1 260.6 491.2 260.1z"/>
<path color="#12cfff" d="M472.5 269.6 473.4 270.2 482.7 265.4 481.9 264.8z"/>
<path color="#12cfff" d="M463.2 274.5 464.1 275.1 473.4 270.2 472.5 269.6z"/>
<path color="#12d0ff" d="M453.9 279.7 454.7 280.3 464.1 275.1 463.2 274.5z"/>
<path color="#12d0ff" d="M444.5 284.9 445.4 285.5 454.7 280.3 453.9 279.7z"/>
<path color="#13d2ff" d="M435.2 290 436.1 290.7 445.4 285.5 444.5 284.9z"/>
<path color="#13d4ff" d="M425.9 295.2 426.8 295.9 436.1 290.7 435.2 290z"/>
<path color="#11cdff" d="M492.1 260.6 492.9 261.2 502.3 256.4 501.4 255.8z"/>
<path color="#11ceff" d="M482.7 265.4 483.6 266 492.9 261.2 492.1 260.6z"/>
<path color="#11cfff" d="M473.4 270.2 474.3 270.9 483.6 266 482.7 265.4z"/>
<path color="#12d0ff" d="M464.1 275.1 465 275.8 474.3 270.9 473.4 270.2z"/>
<path color="#12d0ff" d="M454.7 280.3 455.6 281 465 275.8 464.1 275.1z"/>
<path color="#12d1ff" d="M445.4 285.5 446.3 286.2 455.6 281 454.7 280.3z"/>
<path color="#12d1ff" d="M436.1 290.7 437 291.4 446.3 286.2 445.4 285.5z"/>
<path color="#12d4ff" d="M426.8 295.9 427.6 296.6 437 291.4 436.1 290.7z"/>
<path color="#10c4fa" d="M492.9 261.2 493.8 261.6 503.2 256.8 502.3 256.4z"/>
<path color="#10c5fb" d="M483.6 266 484.5 266.5 493.8 261.6 492.9 261.2z"/>
<path color="#10c6fd" d="M474.3 270.9 475.2 271.3 484.5 266.5 483.6 266z"/>
<path color="#10c7fe" d="M465 275.8 465.8 276.3 475.2 271.3 474.3 270.9z"/>
<path color="#10c7fe" d="M455.6 281 456.5 281.5 465.8 276.3 465 275.8z"/>
<path color="#10c8ff" d="M446.3 286.2 447.2 286.8 456.5 281.5 455.6 281z"/>
<path color="#11c9ff" d="M437 291.4 437.9 292 447.2 286.8 446.3 286.2z"/>
<path color="#11cbff" d="M427.6 296.6 428.5 297.2 437.9 292 437 291.4z"/>
<path color="#0fc1f9" d="M493.8 261.6 494.7 262 504 257.1 503.2 256.8z"/>
<path color="#0fc2fa" d="M484.5 266.5 485.4 266.9 494.7 262 493.8 261.6z"/>
<path color="#0fc3fb" d="M475.2 271.3 476.1 271.8 485.4 266.9 484.5 266.5z"/>
<path color="#0fc4fd" d="M465.8 276.3 466.7 276.8 476.1 271.8 475.2 271.3z"/>
<path color="#10c4fd" d="M456.5 281.5 457.4 282 466.7 276.8 465.8 276.3z"/>
<path color="#10c4fe" d="M447.2 286.8 448.1 287.2 457.4 282 456.5 281.5z"/>
<path color="#10c6fe" d="M437.9 292 438.7 292.5 448.1 287.2 447.2 286.8z"/>
<path color="#10c8ff" d="M428.5 297.2 429.4 297.7 438.7 292.5 437.9 292z"/>
<path color="#10caff" d="M494.7 262 495.6 262.6 504.9 257.7 504 257.1z"/>
<path color="#10cbff" d="M485.4 266.9 486.3 267.5 495.6 262.6 494.7 262z"/>
<path color="#11ccff" d="M476.1 271.8 476.9 272.5 486.3 267.5 485.4 266.9z"/>
<path color="#11ccff" d="M466.7 276.8 467.6 277.5 476.9 272.5 476.1 271.8z"/>
<path color="#11cdff" d="M457.4 282 458.3 282.8 467.6 277.5 466.7 276.8z"/>
<path color="#11ceff" d="M448.1 287.2 448.9 288 458.3 282.8 457.4 282z"/>
<path color="#11d0ff" d="M438.7 292.5 439.6 293.2 448.9 288 448.1 287.2z"/>
<path color="#12d2ff" d="M429.4 297.7 430.3 298.5 439.6 293.2 438.7 292.5z"/>
<path color="#16dbff" d="M495.6 262.6 496.5 263.2 505.8 258.2 504.9 257.7z"/>
<path color="#16dcff" d="M486.3 267.5 487.1 268.2 496.5 263.2 495.6 262.6z"/>
<path color="#16ddff" d="M476.9 272.5 477.8 273.1 487.1 268.2 486.3 267.5z"/>
<path color="#16deff" d="M467.6 277.5 468.5 278.2 477.8 273.1 476.9 272.5z"/>
<path color="#16dfff" d="M458.3 282.8 459.2 283.5 468.5 278.2 467.6 277.5z"/>
<path color="#17e2ff" d="M448.9 288 449.8 288.7 459.2 283.5 458.3 282.8z"/>
<path color="#18e5ff" d="M439.6 293.2 440.5 294 449.8 288.7 448.9 288z"/>
<path color="#1ae6ff" d="M430.3 298.5 431.2 299.2 440.5 294 439.6 293.2z"/>
<path color="#15d7ff" d="M496.5 263.2 497.4 263.7 506.7 258.7 505.8 258.2z"/>
<path color="#15d8ff" d="M487.1 268.2 488 268.7 497.4 263.7 496.5 263.2z"/>
<path color="#15d9ff" d="M477.8 273.1 478.7 273.7 488 268.7 487.1 268.2z"/>
<path color="#15daff" d="M468.5 278.2 469.4 278.8 478.7 273.7 477.8 273.1z"/>
<path color="#15dbff" d="M459.2 283.5 460 284.1 469.4 278.8 468.5 278.2z"/>
<path color="#15dbff" d="M449.8 288.7 450.7 289.4 460 284.1 459.2 283.5z"/>
<path color="#16ddff" d="M440.5 294 441.4 294.6 450.7 289.4 449.8 288.7z"/>
<path color="#17e1ff" d="M431.2 299.2 432 299.9 441.4 294.6 440.5 294z"/>
<path color="#14d7ff" d="M497.4 263.7 498.2 264.3 507.6 259.3 506.7 258.7z"/>
<path color="#14d8ff" d="M488 268.7 488.9 269.4 498.2 264.3 497.4 263.7z"/>
<path color="#14d9ff" d="M478.7 273.7 479.6 274.4 488.9 269.4 488 268.7z"/>
<path color="#15daff" d="M469.4 278.8 470.3 279.5 479.6 274.4 478.7 273.7z"/>
<path color="#15daff" d="M460 284.1 460.9 284.8 470.3 279.5 469.4 278.8z"/>
<path color="#15dbff" d="M450.7 289.4 451.6 290.1 460.9 284.8 460 284.1z"/>
<path color="#15dbff" d="M441.4 294.6 442.3 295.4 451.6 290.1 450.7 289.4z"/>
<path color="#15ddff" d="M432 299.9 432.9 300.7 442.3 295.4 441.4 294.6z"/>
<path color="#14d8ff" d="M498.2 264.3 499.1 265.1 508.5 260 507.6 259.3z"/>
<path color="#14d9ff" d="M488.9 269.4 489.8 270.1 499.1 265.1 498.2 264.3z"/>
<path color="#14daff" d="M479.6 274.4 480.5 275.2 489.8 270.1 488.9 269.4z"/>
<path color="#14dbff" d="M470.3 279.5 471.1 280.4 480.5 275.2 479.6 274.4z"/>
<path color="#14dbff" d="M460.9 284.8 461.8 285.7 471.1 280.4 470.3 279.5z"/>
<path color="#14dcff" d="M451.6 290.1 452.5 291 461.8 285.7 460.9 284.8z"/>
<path color="#14dcff" d="M442.3 295.4 443.1 296.3 452.5 291 451.6 290.1z"/>
<path color="#14ddff" d="M432.9 300.7 433.8 301.6 443.1 296.3 442.3 295.4z"/>
<path color="#13d4ff" d="M499.1 265.1 500 265.7 509.3 260.6 508.5 260z"/>
<path color="#13d5ff" d="M489.8 270.1 490.7 270.8 500 265.7 499.1 265.1z"/>
<path color="#13d6ff" d="M480.5 275.2 481.3 275.9 490.7 270.8 489.8 270.1z"/>
<path color="#13d7ff" d="M471.1 280.4 472 281.1 481.3 275.9 480.5 275.2z"/>
<path color="#13d7ff" d="M461.8 285.7 462.7 286.5 472 281.1 471.1 280.4z"/>
<path color="#13d8ff" d="M452.5 291 453.4 291.8 462.7 286.5 461.8 285.7z"/>
<path color="#14d8ff" d="M443.1 296.3 444 297.1 453.4 291.8 452.5 291z"/>
<path color="#14d9ff" d="M433.8 301.6 434.7 302.4 444 297.1 443.1 296.3z"/>
<path color="#12d0ff" d="M500 265.7 500.9 266.3 510.2 261.2 509.3 260.6z"/>
<path color="#13d1ff" d="M490.7 270.8 491.6 271.4 500.9 266.3 500 265.7z"/>
<path color="#13d2ff" d="M481.3 275.9 482.2 276.6 491.6 271.4 490.7 270.8z"/>
<path color="#13d3ff" d="M472 281.1 472.9 281.8 482.2 276.6 481.3 275.9z"/>
<path color="#13d3ff" d="M462.7 286.5 463.6 287.1 472.9 281.8 472 281.1z"/>
<path color="#13d4ff" d="M453.4 291.8 454.2 292.5 463.6 287.1 462.7 286.5z"/>
<path color="#13d4ff" d="M444 297.1 444.9 297.8 454.2 292.5 453.4 291.8z"/>
<path color="#13d4ff" d="M434.7 302.4 435.6 303.1 444.9 297.8 444 297.1z"/>
<path color="#12d0ff" d="M500.9 266.3 501.8 267 511.1 261.8 510.2 261.2z"/>
<path color="#12d1ff" d="M491.6 271.4 492.4 272.1 501.8 267 500.9 266.3z"/>
<path color="#12d1ff" d="M482.2 276.6 483.1 277.3 492.4 272.1 491.6 271.4z"/>
<path color="#12d2ff" d="M472.9 281.8 473.8 282.5 483.1 277.3 482.2 276.6z"/>
<path color="#12d2ff" d="M463.6 287.1 464.4 287.9 473.8 282.5 472.9 281.8z"/>
<path color="#12d2ff" d="M454.2 292.5 455.1 293.2 464.4 287.9 463.6 287.1z"/>
<path color="#12d3ff" d="M444.9 297.8 445.8 298.5 455.1 293.2 454.2 292.5z"/>
<path color="#12d3ff" d="M435.6 303.1 436.5 303.9 445.8 298.5 444.9 297.8z"/>
<path color="#10affe" d="M501.8 267 502.7 267.5 512 262.3 511.1 261.8z"/>
<path color="#10b0fe" d="M492.4 272.1 493.3 272.7 502.7 267.5 501.8 267z"/>
<path color="#10b0ff" d="M483.1 277.3 484 277.8 493.3 272.7 492.4 272.1z"/>
<path color="#10b1ff" d="M473.8 282.5 474.7 283.1 484 277.8 483.1 277.3z"/>
<path color="#10b1ff" d="M464.4 287.9 465.3 288.4 474.7 283.1 473.8 282.5z"/>
<path color="#10b1ff" d="M455.1 293.2 456 293.8 465.3 288.4 464.4 287.9z"/>
<path color="#10b1ff" d="M445.8 298.5 446.7 299.1 456 293.8 455.1 293.2z"/>
<path color="#10b1ff" d="M436.5 303.9 437.3 304.5 446.7 299.1 445.8 298.5z"/>
<path color="#10a2ff" d="M502.7 267.5 503.5 268.2 512.9 263 512 262.3z"/>
<path color="#10a3ff" d="M493.3 272.7 494.2 273.4 503.5 268.2 502.7 267.5z"/>
<path color="#10a3ff" d="M484 277.8 484.9 278.6 494.2 273.4 493.3 272.7z"/>
<path color="#10a3ff" d="M474.7 283.1 475.5 283.9 484.9 278.6 484 277.8z"/>
<path color="#10a4ff" d="M465.3 288.4 466.2 289.2 475.5 283.9 474.7 283.1z"/>
<path color="#10a4ff" d="M456 293.8 456.9 294.6 466.2 289.2 465.3 288.4z"/>
<path color="#10a4ff" d="M446.7 299.1 447.6 299.9 456.9 294.6 456 293.8z"/>
<path color="#10a4ff" d="M437.3 304.5 438.2 305.3 447.6 299.9 446.7 299.1z"/>
<path color="#1097fa" d="M503.5 268.2 504.4 268.6 513.7 263.4 512.9 263z"/>
<path color="#1097fb" d="M494.2 273.4 495.1 273.8 504.4 268.6 503.5 268.2z"/>
<path color="#1098fc" d="M484.9 278.6 485.8 279 495.1 273.8 494.2 273.4z"/>
<path color="#1098fc" d="M475.5 283.9 476.4 284.3 485.8 279 484.9 278.6z"/>
<path color="#1098fd" d="M466.2 289.2 467.1 289.7 476.4 284.3 475.5 283.9z"/>
<path color="#1098fd" d="M456.9 294.6 457.8 295.1 467.1 289.7 466.2 289.2z"/>
<path color="#1099fd" d="M447.6 299.9 448.4 300.4 457.8 295.1 456.9 294.6z"/>
<path color="#1099fe" d="M438.2 305.3 439.1 305.8 448.4 300.4 447.6 299.9z"/>
<path color="#119cff" d="M504.4 268.6 505.3 269.3 514.6 264 513.7 263.4z"/>
<path color="#119dff" d="M495.1 273.8 496 274.5 505.3 269.3 504.4 268.6z"/>
<path color="#119dff" d="M485.8 279 486.6 279.8 496 274.5 495.1 273.8z"/>
<path color="#119dff" d="M476.4 284.3 477.3 285.1 486.6 279.8 485.8 279z"/>
<path color="#119eff" d="M467.1 289.7 468 290.5 477.3 285.1 476.4 284.3z"/>
<path color="#119eff" d="M457.8 295.1 458.6 295.8 468 290.5 467.1 289.7z"/>
<path color="#119eff" d="M448.4 300.4 449.3 301.2 458.6 295.8 457.8 295.1z"/>
<path color="#119eff" d="M439.1 305.8 440 306.6 449.3 301.2 448.4 300.4z"/>
<path color="#1195ff" d="M505.3 269.3 506.2 269.8 515.5 264.6 514.6 264z"/>
<path color="#1295ff" d="M496 274.5 496.8 275.1 506.2 269.8 505.3 269.3z"/>
<path color="#1296ff" d="M486.6 279.8 487.5 280.4 496.8 275.1 496 274.5z"/>
<path color="#1296ff" d="M477.3 285.1 478.2 285.7 487.5 280.4 486.6 279.8z"/>
<path color="#1296ff" d="M468 290.5 468.9 291.1 478.2 285.7 477.3 285.1z"/>
<path color="#1296ff" d="M458.6 295.8 459.5 296.4 468.9 291.1 468 290.5z"/>
<path color="#1297ff" d="M449.3 301.2 450.2 301.8 459.5 296.4 458.6 295.8z"/>
<path color="#1297ff" d="M440 306.6 440.9 307.2 450.2 301.8 449.3 301.2z"/>
<path color="#1391ff" d="M506.2 269.8 507.1 270.4 516.4 265.1 515.5 264.6z"/>
<path color="#1392ff" d="M496.8 275.1 497.7 275.7 507.1 270.4 506.2 269.8z"/>
<path color="#1392ff" d="M487.5 280.4 488.4 281 497.7 275.7 496.8 275.1z"/>
<path color="#1393ff" d="M478.2 285.7 479.1 286.4 488.4 281 487.5 280.4z"/>
<path color="#1393ff" d="M468.9 291.1 469.7 291.7 479.1 286.4 478.2 285.7z"/>
<path color="#1393ff" d="M459.5 296.4 460.4 297.1 469.7 291.7 468.9 291.1z"/>
<path color="#1393ff" d="M450.2 301.8 451.1 302.5 460.4 297.1 459.5 296.4z"/>
<path color="#1393ff" d="M440.9 307.2 441.8 307.9 451.1 302.5 450.2 301.8z"/>
<path color="#148bff" d="M507.1 270.4 507.9 271 517.3 265.6 516.4 265.1z"/>
<path color="#148bff" d="M497.7 275.7 498.6 276.3 507.9 271 507.1 270.4z"/>
<path color="#148cff" d="M488.4 281 489.3 281.6 498.6 276.3 497.7 275.7z"/>
<path color="#148cff" d="M479.1 286.4 480 286.9 489.3 281.6 488.4 281z"/>
<path color="#148cff" d="M469.7 291.7 470.6 292.3 480 286.9 479.1 286.4z"/>
<path color="#148cff" d="M460.4 297.1 461.3 297.7 470.6 292.3 469.7 291.7z"/>
<path color="#148cff" d="M451.1 302.5 452 303.1 461.3 297.7 460.4 297.1z"/>
<path color="#148dff" d="M441.8 307.9 442.6 308.5 452 303.1 451.1 302.5z"/>
<path color="#1586ff" d="M507.9 271 508.8 271.5 518.2 266.1 517.3 265.6z"/>
<path color="#1587ff" d="M498.6 276.3 499.5 276.8 508.8 271.5 507.9 271z"/>
<path color="#1587ff" d="M489.3 281.6 490.2 282.1 499.5 276.8 498.6 276.3z"/>
<path color="#1587ff" d="M480 286.9 480.8 287.5 490.2 282.1 489.3 281.6z"/>
<path color="#1588ff" d="M470.6 292.3 471.5 292.9 480.8 287.5 480 286.9z"/>
<path color="#1588ff" d="M461.3 297.7 462.2 298.3 471.5 292.9 470.6 292.3z"/>
<path color="#1588ff" d="M452 303.1 452.8 303.7 462.2 298.3 461.3 297.7z"/>
<path color="#1588ff" d="M442.6 308.5 443.5 309.1 452.8 303.7 452 303.1z"/>
<path color="#1684ff" d="M508.8 271.5 509.7 272 519 266.7 518.2 266.1z"/>
<path color="#1685ff" d="M499.5 276.8 500.4 277.4 509.7 272 508.8 271.5z"/>
<path color="#1685ff" d="M490.2 282.1 491 282.7 500.4 277.4 499.5 276.8z"/>
<path color="#1685ff" d="M480.8 287.5 481.7 288.1 491 282.7 490.2 282.1z"/>
<path color="#1686ff" d="M471.5 292.9 472.4 293.5 481.7 288.1 480.8 287.5z"/>
<path color="#1686ff" d="M462.2 298.3 463.1 298.9 472.4 293.5 471.5 292.9z"/>
<path color="#1686ff" d="M452.8 303.7 453.7 304.3 463.1 298.9 462.2 298.3z"/>
<path color="#1686ff" d="M443.5 309.1 444.4 309.8 453.7 304.3 452.8 303.7z"/>
</g>
<polygon points="320.9,277.6 321.8,277.8 322.7,278.1 323.5,278.3 324.4,278.6 325.3,278.8 326.2,279 327.1,279.1 328,279.3 328.8,279.5 329.7,280 330.6,280.1 331.5,280.3 332.4,280.3 333.2,279.9 334.1,278.4 335,276.5 335.9,276.5 336.8,277.4 337.7,278.5 338.5,280 339.4,281 340.3,281.7 341.2,282.5 342.1,282.8 343,283 343.8,283.3 344.7,283.7 345.6,283.7 346.5,283.9 347.4,283.8 348.2,282.6 349.1,280.6 350,278.2 350.9,277.5 351.8,278.3 352.7,280 353.5,281.8 354.4,283.2 355.3,284.8 356.2,285.7 357.1,286.4 357.9,286.7 358.8,287 359.7,287.2 360.6,287.4 361.5,287.8 362.4,288 363.2,288.1 364.1,288.4 365,288.4 365.9,288.5 366.8,288.7 367.7,288.7 368.5,288.7 369.4,288.8 370.3,289 371.2,289.1 372.1,289.4 372.9,289.8 373.8,290.1 374.7,290.5 375.6,290.9 376.5,291 377.4,291.3 378.2,291.5 379.1,291.7 380,291.9 380.9,292 381.8,292.1 382.6,292.5 383.5,292.6 384.4,292.8 385.3,292.9 386.2,293.1 387.1,293.4 387.9,293.5 388.8,293.7 389.7,293.8 390.6,293.4 391.5,291.7 392.4,290 393.2,289.6 394.1,290.1 395,291.3 395.9,292.6 396.8,293.8 397.6,294.7 398.5,294.9 399.4,294.8 400.3,294.7 401.2,294.1 402.1,293.8 402.9,292.6 403.8,290.6 404.7,288.3 405.6,285.7 406.5,283.2 407.3,281.3 408.2,281.8 409.1,282.7 410,284.1 410.9,285.2 411.8,286.3 412.6,287.2 413.5,287.7 414.4,288.4 415.3,288.9 416.2,289.7 417.1,290 417.9,290.6 418.8,291 419.7,291.6 420.6,292.1 421.5,292.6 422.3,293.1 423.2,293.7 424.1,294.2 425,294.7 425.9,295.2 426.8,295.9 427.6,296.6 428.5,297.2 429.4,297.7 430.3,298.5 431.2,299.2 432,299.9 432.9,300.7 433.8,301.6 434.7,302.4 435.6,303.1 436.5,303.9 437.3,304.5 438.2,305.3 439.1,305.8 440,306.6 440.9,307.2 441.8,307.9 442.6,308.5 443.5,309.1 444.4,309.8 444.4,312.8 443.5,312.6 442.6,312.3 441.8,312.1 440.9,311.9 440,311.7 439.1,311.4 438.2,311.2 437.3,311 436.5,310.7 435.6,310.5 434.7,310.3 433.8,310 432.9,309.8 432,309.6 431.2,309.4 430.3,309.1 429.4,308.9 428.5,308.7 427.6,308.4 426.8,308.2 425.9,308 425,307.7 424.1,307.5 423.2,307.3 422.3,307.1 421.5,306.8 420.6,306.6 419.7,306.4 418.8,306.1 417.9,305.9 417.1,305.7 416.2,305.4 415.3,305.2 414.4,305 413.5,304.8 412.6,304.5 411.8,304.3 410.9,304.1 410,303.8 409.1,303.6 408.2,303.4 407.3,303.1 406.5,302.9 405.6,302.7 404.7,302.5 403.8,302.2 402.9,302 402.1,301.8 401.2,301.5 400.3,301.3 399.4,301.1 398.5,300.8 397.6,300.6 396.8,300.4 395.9,300.2 395,299.9 394.1,299.7 393.2,299.5 392.4,299.2 391.5,299 390.6,298.8 389.7,298.5 388.8,298.3 387.9,298.1 387.1,297.9 386.2,297.6 385.3,297.4 384.4,297.2 383.5,296.9 382.6,296.7 381.8,296.5 380.9,296.2 380,296 379.1,295.8 378.2,295.6 377.4,295.3 376.5,295.1 375.6,294.9 374.7,294.6 373.8,294.4 372.9,294.2 372.1,293.9 371.2,293.7 370.3,293.5 369.4,293.2 368.5,293 367.7,292.8 366.8,292.6 365.9,292.3 365,292.1 364.1,291.9 363.2,291.6 362.4,291.4 361.5,291.2 360.6,291 359.7,290.7 358.8,290.5 357.9,290.3 357.1,290 356.2,289.8 355.3,289.6 354.4,289.3 353.5,289.1 352.7,288.9 351.8,288.7 350.9,288.4 350,288.2 349.1,288 348.2,287.7 347.4,287.5 346.5,287.3 345.6,287 344.7,286.8 343.8,286.6 343,286.4 342.1,286.1 341.2,285.9 340.3,285.7 339.4,285.4 338.5,285.2 337.7,285 336.8,284.7 335.9,284.5 335,284.3 334.1,284.1 333.2,283.8 332.4,283.6 331.5,283.4 330.6,283.1 329.7,282.9 328.8,282.7 328,282.4 327.1,282.2 326.2,282 325.3,281.8 324.4,281.5 323.5,281.3 322.7,281.1 321.8,280.8 320.9,280.6" fill="#000"/>
<polygon points="444.4,309.8 446.3,308.7 448.1,307.6 450,306.5 451.9,305.4 453.7,304.3 455.6,303.3 457.5,302.2 459.3,301.1 461.2,300 463.1,298.9 464.9,297.9 466.8,296.8 468.7,295.7 470.5,294.6 472.4,293.5 474.3,292.4 476.1,291.4 478,290.3 479.9,289.2 481.7,288.1 483.6,287 485.5,286 487.3,284.9 489.2,283.8 491,282.7 492.9,281.7 494.8,280.6 496.6,279.5 498.5,278.5 500.4,277.4 502.2,276.3 504.1,275.2 506,274.2 507.8,273.1 509.7,272 511.6,270.9 513.4,269.9 515.3,268.8 517.2,267.7 519,266.7 519,269.3 517.2,270.3 515.3,271.4 513.4,272.5 511.6,273.6 509.7,274.7 507.8,275.8 506,276.9 504.1,278 502.2,279.1 500.4,280.1 498.5,281.2 496.6,282.3 494.8,283.4 492.9,284.5 491,285.6 489.2,286.7 487.3,287.8 485.5,288.8 483.6,289.9 481.7,291 479.9,292.1 478,293.2 476.1,294.3 474.3,295.4 472.4,296.5 470.5,297.6 468.7,298.6 466.8,299.7 464.9,300.8 463.1,301.9 461.2,303 459.3,304.1 457.5,305.2 455.6,306.3 453.7,307.4 451.9,308.4 450,309.5 448.1,310.6 446.3,311.7 444.4,312.8" fill="#000"/>
<polyline points="399.2,230.6 400.9,230.3 402.5,229.9 404.1,230.4 405.7,230.6 407.4,230.9 409,230.6 410.6,230.5 412.2,231.3 413.9,232.2 415.5,233 417.1,233.4 418.7,233.9 420.3,234.1 422,234.7 423.6,234 425.2,233.3 426.8,234 428.5,235.2 430.1,236.4 431.7,237.1 433.3,237.4 435,237.8 436.6,238.3 438.2,238.7 439.8,239 441.4,239.4 443.1,239.7 444.7,240.2 446.3,240.5 447.9,240.8 449.6,241.1 451.2,241.5 452.8,241.9 454.4,242.3 456.1,242.5" fill="none" stroke="#141428" stroke-width="1.1"/>
<polygon points="394.5,232.8 399,229.8 404,229.3 409,230.3 411,232.2 403,231.6" fill="#000"/>
<line x1="528.9" y1="277.8" x2="528.9" y2="323.6" stroke="#e6e6e6" stroke-width="0.6"/>
<line x1="381.2" y1="51.2" x2="337.7" y2="95.7" stroke="#000" stroke-width="0.45"/>
<polygon points="335.7,97.8 337,95.1 338.4,96.4" fill="#000"/>
<line x1="381.2" y1="51.2" x2="346.3" y2="98.1" stroke="#000" stroke-width="0.45"/>
<polygon points="344.6,100.4 345.5,97.5 347.1,98.7" fill="#000"/>
<line x1="381.2" y1="51.2" x2="359.8" y2="97.5" stroke="#000" stroke-width="0.45"/>
<polygon points="358.6,100.1 358.9,97.1 360.7,97.9" fill="#000"/>
<line x1="381.2" y1="51.2" x2="368.2" y2="100.1" stroke="#000" stroke-width="0.45"/>
<polygon points="367.5,102.9 367.3,99.9 369.2,100.4" fill="#000"/>
<line x1="381.2" y1="51.2" x2="389.4" y2="107.1" stroke="#000" stroke-width="0.45"/>
<polygon points="389.8,109.9 388.4,107.2 390.3,106.9" fill="#000"/>
<line x1="381.2" y1="51.2" x2="409" y2="105.5" stroke="#000" stroke-width="0.45"/>
<polygon points="410.3,108.1 408.1,106 409.8,105.1" fill="#000"/>
<line x1="109.5" y1="218.5" x2="51.8" y2="266.4" stroke="#000" stroke-width="0.45"/>
<polygon points="49.6,268.2 51.2,265.6 52.4,267.1" fill="#000"/>
<line x1="109.5" y1="218.5" x2="54" y2="268.9" stroke="#000" stroke-width="0.45"/>
<polygon points="51.9,270.8 53.4,268.2 54.7,269.6" fill="#000"/>
<line x1="109.5" y1="218.5" x2="71.8" y2="268.1" stroke="#000" stroke-width="0.45"/>
<polygon points="70.1,270.4 71.1,267.5 72.6,268.7" fill="#000"/>
<line x1="109.5" y1="218.5" x2="96.5" y2="285.2" stroke="#000" stroke-width="0.45"/>
<polygon points="95.9,288 95.5,285 97.4,285.4" fill="#000"/>
<line x1="109.5" y1="218.5" x2="126.4" y2="282" stroke="#000" stroke-width="0.45"/>
<polygon points="127.1,284.8 125.4,282.3 127.3,281.8" fill="#000"/>
<line x1="401.5" y1="231.5" x2="340.8" y2="273.7" stroke="#000" stroke-width="0.45"/>
<polygon points="338.4,275.3 340.2,272.9 341.3,274.4" fill="#000"/>
<line x1="401.5" y1="231.5" x2="352.9" y2="275.2" stroke="#000" stroke-width="0.45"/>
<polygon points="350.8,277.1 352.3,274.5 353.6,275.9" fill="#000"/>
<line x1="401.5" y1="231.5" x2="356.1" y2="275.1" stroke="#000" stroke-width="0.45"/>
<polygon points="354,277.1 355.4,274.4 356.7,275.8" fill="#000"/>
<line x1="401.5" y1="231.5" x2="368.7" y2="280.7" stroke="#000" stroke-width="0.45"/>
<polygon points="367.1,283.1 367.9,280.2 369.5,281.2" fill="#000"/>
<line x1="401.5" y1="231.5" x2="392.7" y2="286" stroke="#000" stroke-width="0.45"/>
<polygon points="392.2,288.8 391.7,285.8 393.6,286.1" fill="#000"/>
<line x1="401.5" y1="231.5" x2="405.1" y2="276.5" stroke="#000" stroke-width="0.45"/>
<polygon points="405.3,279.4 404.1,276.6 406,276.5" fill="#000"/>
<text x="69.1" y="11.4" font-size="8.3" font-weight="bold" font-family='"Liberation Serif", "Times New Roman", serif' text-anchor="start" fill="#000" letter-spacing="0.6" stroke="#000" stroke-width="0.28">Frequency-RPM of perfect gear</text>
<text x="38" y="72.3" font-size="5.2" font-weight="normal" font-family='"Liberation Sans", Arial, sans-serif' text-anchor="end" fill="#262626" stroke="#262626" stroke-width="0.14">0.032</text>
<text x="38" y="79.1" font-size="5.2" font-weight="normal" font-family='"Liberation Sans", Arial, sans-serif' text-anchor="end" fill="#262626" stroke="#262626" stroke-width="0.14">0.024</text>
<text x="38" y="85.9" font-size="5.2" font-weight="normal" font-family='"Liberation Sans", Arial, sans-serif' text-anchor="end" fill="#262626" stroke="#262626" stroke-width="0.14">0.016</text>
<text x="38" y="92.7" font-size="5.2" font-weight="normal" font-family='"Liberation Sans", Arial, sans-serif' text-anchor="end" fill="#262626" stroke="#262626" stroke-width="0.14">0.008</text>
<text x="38" y="99.5" font-size="5.2" font-weight="normal" font-family='"Liberation Sans", Arial, sans-serif' text-anchor="end" fill="#262626" stroke="#262626" stroke-width="0.14">0</text>
<text x="21.7" y="77.4" font-size="6.4" font-weight="normal" font-family='"Liberation Sans", Arial, sans-serif' text-anchor="middle" fill="#262626" transform="rotate(-90 21.7 77.4)" stroke="#262626" stroke-width="0.14">Amplitude</text>
<text x="41.5" y="112" font-size="5.2" font-weight="normal" font-family='"Liberation Sans", Arial, sans-serif' text-anchor="middle" fill="#262626" stroke="#262626" stroke-width="0.14">0</text>
<text x="66.9" y="119.1" font-size="5.2" font-weight="normal" font-family='"Liberation Sans", Arial, sans-serif' text-anchor="middle" fill="#262626" stroke="#262626" stroke-width="0.14">10,000</text>
<text x="91.1" y="125.5" font-size="5.2" font-weight="normal" font-family='"Liberation Sans", Arial, sans-serif' text-anchor="middle" fill="#262626" stroke="#262626" stroke-width="0.14">20,000</text>
<text x="116" y="132.8" font-size="5.2" font-weight="normal" font-family='"Liberation Sans", Arial, sans-serif' text-anchor="middle" fill="#262626" stroke="#262626" stroke-width="0.14">30,000</text>
<text x="139.4" y="141.2" font-size="5.2" font-weight="normal" font-family='"Liberation Sans", Arial, sans-serif' text-anchor="middle" fill="#262626" stroke="#262626" stroke-width="0.14">40,000</text>
<text x="82.2" y="137" font-size="5.9" font-weight="normal" font-family='"Liberation Sans", Arial, sans-serif' text-anchor="middle" fill="#262626" stroke="#262626" stroke-width="0.14">RPM</text>
<text x="165.1" y="148.4" font-size="5.2" font-weight="normal" font-family='"Liberation Sans", Arial, sans-serif' text-anchor="middle" fill="#262626" stroke="#262626" stroke-width="0.14">0</text>
<text x="175" y="142.3" font-size="5.2" font-weight="normal" font-family='"Liberation Sans", Arial, sans-serif' text-anchor="middle" fill="#262626" stroke="#262626" stroke-width="0.14">100</text>
<text x="184.3" y="136.8" font-size="5.2" font-weight="normal" font-family='"Liberation Sans", Arial, sans-serif' text-anchor="middle" fill="#262626" stroke="#262626" stroke-width="0.14">200</text>
<text x="193.5" y="130.8" font-size="5.2" font-weight="normal" font-family='"Liberation Sans", Arial, sans-serif' text-anchor="middle" fill="#262626" stroke="#262626" stroke-width="0.14">300</text>
<text x="202.3" y="125" font-size="5.2" font-weight="normal" font-family='"Liberation Sans", Arial, sans-serif' text-anchor="middle" fill="#262626" stroke="#262626" stroke-width="0.14">400</text>
<text x="211.3" y="119.2" font-size="5.2" font-weight="normal" font-family='"Liberation Sans", Arial, sans-serif' text-anchor="middle" fill="#262626" stroke="#262626" stroke-width="0.14">500</text>
<text x="220.1" y="113.5" font-size="5.2" font-weight="normal" font-family='"Liberation Sans", Arial, sans-serif' text-anchor="middle" fill="#262626" stroke="#262626" stroke-width="0.14">600</text>
<text x="229.3" y="107.7" font-size="5.2" font-weight="normal" font-family='"Liberation Sans", Arial, sans-serif' text-anchor="middle" fill="#262626" stroke="#262626" stroke-width="0.14">700</text>
<text x="238.6" y="102.1" font-size="5.2" font-weight="normal" font-family='"Liberation Sans", Arial, sans-serif' text-anchor="middle" fill="#262626" stroke="#262626" stroke-width="0.14">800</text>
<text x="247.8" y="96.1" font-size="5.2" font-weight="normal" font-family='"Liberation Sans", Arial, sans-serif' text-anchor="middle" fill="#262626" stroke="#262626" stroke-width="0.14">900</text>
<text x="219.3" y="131.3" font-size="6.0" font-weight="normal" font-family='"Liberation Sans", Arial, sans-serif' text-anchor="middle" fill="#262626" transform="rotate(-31.8 219.3 131.3)" stroke="#262626" stroke-width="0.14">Frequency [Hz]</text>
<text x="167.2" y="156.8" font-size="7.1" font-weight="normal" font-family='"Liberation Sans", Arial, sans-serif' text-anchor="middle" fill="#262626" stroke="#262626" stroke-width="0.14">a)</text>
<text x="325.9" y="8.8" font-size="9.16" font-weight="bold" font-family='"Liberation Serif", "Times New Roman", serif' text-anchor="start" fill="#000" letter-spacing="0.775" stroke="#000" stroke-width="0.28">Frequency-RPM of pitted gear at 25%</text>
<text x="316.5" y="68.4" font-size="5.6" font-weight="normal" font-family='"Liberation Sans", Arial, sans-serif' text-anchor="end" fill="#262626" stroke="#262626" stroke-width="0.14">0.032</text>
<text x="316.5" y="75.9" font-size="5.6" font-weight="normal" font-family='"Liberation Sans", Arial, sans-serif' text-anchor="end" fill="#262626" stroke="#262626" stroke-width="0.14">0.024</text>
<text x="316.5" y="83.4" font-size="5.6" font-weight="normal" font-family='"Liberation Sans", Arial, sans-serif' text-anchor="end" fill="#262626" stroke="#262626" stroke-width="0.14">0.016</text>
<text x="316.5" y="90.9" font-size="5.6" font-weight="normal" font-family='"Liberation Sans", Arial, sans-serif' text-anchor="end" fill="#262626" stroke="#262626" stroke-width="0.14">0.008</text>
<text x="316.5" y="98.3" font-size="5.6" font-weight="normal" font-family='"Liberation Sans", Arial, sans-serif' text-anchor="end" fill="#262626" stroke="#262626" stroke-width="0.14">0</text>
<text x="299.5" y="75" font-size="6.0" font-weight="normal" font-family='"Liberation Sans", Arial, sans-serif' text-anchor="middle" fill="#262626" transform="rotate(-90 299.5 75)" stroke="#262626" stroke-width="0.14">Amplitude</text>
<text x="320.8" y="112.8" font-size="5.5" font-weight="normal" font-family='"Liberation Sans", Arial, sans-serif' text-anchor="middle" fill="#262626" stroke="#262626" stroke-width="0.14">0</text>
<text x="345.9" y="117.7" font-size="5.5" font-weight="normal" font-family='"Liberation Sans", Arial, sans-serif' text-anchor="middle" fill="#262626" stroke="#262626" stroke-width="0.14">10,000</text>
<text x="373.2" y="125.1" font-size="5.5" font-weight="normal" font-family='"Liberation Sans", Arial, sans-serif' text-anchor="middle" fill="#262626" stroke="#262626" stroke-width="0.14">20,000</text>
<text x="400.4" y="134.1" font-size="5.5" font-weight="normal" font-family='"Liberation Sans", Arial, sans-serif' text-anchor="middle" fill="#262626" stroke="#262626" stroke-width="0.14">30,000</text>
<text x="427.7" y="140.9" font-size="5.5" font-weight="normal" font-family='"Liberation Sans", Arial, sans-serif' text-anchor="middle" fill="#262626" stroke="#262626" stroke-width="0.14">40,000</text>
<text x="373.2" y="137.6" font-size="6.0" font-weight="normal" font-family='"Liberation Sans", Arial, sans-serif' text-anchor="middle" fill="#262626" stroke="#262626" stroke-width="0.14">RPM</text>
<text x="453.1" y="148.5" font-size="5.5" font-weight="normal" font-family='"Liberation Sans", Arial, sans-serif' text-anchor="middle" fill="#262626" stroke="#262626" stroke-width="0.14">0</text>
<text x="463.5" y="142.5" font-size="5.5" font-weight="normal" font-family='"Liberation Sans", Arial, sans-serif' text-anchor="middle" fill="#262626" stroke="#262626" stroke-width="0.14">100</text>
<text x="473.2" y="136.5" font-size="5.5" font-weight="normal" font-family='"Liberation Sans", Arial, sans-serif' text-anchor="middle" fill="#262626" stroke="#262626" stroke-width="0.14">200</text>
<text x="483.2" y="130.5" font-size="5.5" font-weight="normal" font-family='"Liberation Sans", Arial, sans-serif' text-anchor="middle" fill="#262626" stroke="#262626" stroke-width="0.14">300</text>
<text x="492.9" y="124.7" font-size="5.5" font-weight="normal" font-family='"Liberation Sans", Arial, sans-serif' text-anchor="middle" fill="#262626" stroke="#262626" stroke-width="0.14">400</text>
<text x="502.8" y="118.9" font-size="5.5" font-weight="normal" font-family='"Liberation Sans", Arial, sans-serif' text-anchor="middle" fill="#262626" stroke="#262626" stroke-width="0.14">500</text>
<text x="512.5" y="112.7" font-size="5.5" font-weight="normal" font-family='"Liberation Sans", Arial, sans-serif' text-anchor="middle" fill="#262626" stroke="#262626" stroke-width="0.14">600</text>
<text x="522.5" y="106.9" font-size="5.5" font-weight="normal" font-family='"Liberation Sans", Arial, sans-serif' text-anchor="middle" fill="#262626" stroke="#262626" stroke-width="0.14">700</text>
<text x="532.2" y="100.9" font-size="5.5" font-weight="normal" font-family='"Liberation Sans", Arial, sans-serif' text-anchor="middle" fill="#262626" stroke="#262626" stroke-width="0.14">800</text>
<text x="542.1" y="95.1" font-size="5.5" font-weight="normal" font-family='"Liberation Sans", Arial, sans-serif' text-anchor="middle" fill="#262626" stroke="#262626" stroke-width="0.14">900</text>
<text x="510.4" y="127.8" font-size="6.0" font-weight="normal" font-family='"Liberation Sans", Arial, sans-serif' text-anchor="middle" fill="#262626" transform="rotate(-31.5 510.4 127.8)" stroke="#262626" stroke-width="0.14">Frequency [Hz]</text>
<text x="455.1" y="156.8" font-size="7.0" font-weight="normal" font-family='"Liberation Sans", Arial, sans-serif' text-anchor="middle" fill="#262626" stroke="#262626" stroke-width="0.14">b)</text>
<text x="419.8" y="47.1" font-size="7.74" font-weight="bold" font-family='"Liberation Sans", Arial, sans-serif' text-anchor="middle" fill="#000">Narrow-bands due to transmission error</text>
<text x="29.1" y="175.1" font-size="10.5" font-weight="bold" font-family='"Liberation Serif", "Times New Roman", serif' text-anchor="start" fill="#000" letter-spacing="0.625" stroke="#000" stroke-width="0.28">Frequency-RPM of cracked gear at 29%</text>
<text x="26.3" y="240.1" font-size="5.6" font-weight="normal" font-family='"Liberation Sans", Arial, sans-serif' text-anchor="end" fill="#262626" stroke="#262626" stroke-width="0.14">0.04</text>
<text x="26.3" y="247.4" font-size="5.6" font-weight="normal" font-family='"Liberation Sans", Arial, sans-serif' text-anchor="end" fill="#262626" stroke="#262626" stroke-width="0.14">0.032</text>
<text x="26.3" y="254.7" font-size="5.6" font-weight="normal" font-family='"Liberation Sans", Arial, sans-serif' text-anchor="end" fill="#262626" stroke="#262626" stroke-width="0.14">0.024</text>
<text x="26.3" y="262" font-size="5.6" font-weight="normal" font-family='"Liberation Sans", Arial, sans-serif' text-anchor="end" fill="#262626" stroke="#262626" stroke-width="0.14">0.016</text>
<text x="26.3" y="269.3" font-size="5.6" font-weight="normal" font-family='"Liberation Sans", Arial, sans-serif' text-anchor="end" fill="#262626" stroke="#262626" stroke-width="0.14">0.008</text>
<text x="26.3" y="276.5" font-size="5.6" font-weight="normal" font-family='"Liberation Sans", Arial, sans-serif' text-anchor="end" fill="#262626" stroke="#262626" stroke-width="0.14">0</text>
<text x="8.5" y="250.4" font-size="6.8" font-weight="normal" font-family='"Liberation Sans", Arial, sans-serif' text-anchor="middle" fill="#262626" transform="rotate(-90 8.5 250.4)" stroke="#262626" stroke-width="0.14">Amplitude</text>
<text x="31.5" y="290" font-size="5.4" font-weight="normal" font-family='"Liberation Sans", Arial, sans-serif' text-anchor="middle" fill="#262626" stroke="#262626" stroke-width="0.14">0</text>
<text x="57.6" y="298.7" font-size="5.4" font-weight="normal" font-family='"Liberation Sans", Arial, sans-serif' text-anchor="middle" fill="#262626" stroke="#262626" stroke-width="0.14">10,000</text>
<text x="83.8" y="305" font-size="5.4" font-weight="normal" font-family='"Liberation Sans", Arial, sans-serif' text-anchor="middle" fill="#262626" stroke="#262626" stroke-width="0.14">20,000</text>
<text x="114.1" y="315.6" font-size="5.4" font-weight="normal" font-family='"Liberation Sans", Arial, sans-serif' text-anchor="middle" fill="#262626" stroke="#262626" stroke-width="0.14">30,000</text>
<text x="141.9" y="321.9" font-size="5.4" font-weight="normal" font-family='"Liberation Sans", Arial, sans-serif' text-anchor="middle" fill="#262626" stroke="#262626" stroke-width="0.14">40,000</text>
<text x="82.7" y="318.2" font-size="6.6" font-weight="normal" font-family='"Liberation Sans", Arial, sans-serif' text-anchor="middle" fill="#262626" stroke="#262626" stroke-width="0.14">RPM</text>
<text x="169.1" y="330" font-size="5.4" font-weight="normal" font-family='"Liberation Sans", Arial, sans-serif' text-anchor="middle" fill="#262626" stroke="#262626" stroke-width="0.14">0</text>
<text x="179.5" y="322.9" font-size="5.4" font-weight="normal" font-family='"Liberation Sans", Arial, sans-serif' text-anchor="middle" fill="#262626" stroke="#262626" stroke-width="0.14">100</text>
<text x="189.9" y="316.4" font-size="5.4" font-weight="normal" font-family='"Liberation Sans", Arial, sans-serif' text-anchor="middle" fill="#262626" stroke="#262626" stroke-width="0.14">200</text>
<text x="199.6" y="309.7" font-size="5.4" font-weight="normal" font-family='"Liberation Sans", Arial, sans-serif' text-anchor="middle" fill="#262626" stroke="#262626" stroke-width="0.14">300</text>
<text x="209.4" y="303.4" font-size="5.4" font-weight="normal" font-family='"Liberation Sans", Arial, sans-serif' text-anchor="middle" fill="#262626" stroke="#262626" stroke-width="0.14">400</text>
<text x="219.8" y="296.9" font-size="5.4" font-weight="normal" font-family='"Liberation Sans", Arial, sans-serif' text-anchor="middle" fill="#262626" stroke="#262626" stroke-width="0.14">500</text>
<text x="230.3" y="290.4" font-size="5.4" font-weight="normal" font-family='"Liberation Sans", Arial, sans-serif' text-anchor="middle" fill="#262626" stroke="#262626" stroke-width="0.14">600</text>
<text x="240.7" y="283.6" font-size="5.4" font-weight="normal" font-family='"Liberation Sans", Arial, sans-serif' text-anchor="middle" fill="#262626" stroke="#262626" stroke-width="0.14">700</text>
<text x="250.6" y="277.4" font-size="5.4" font-weight="normal" font-family='"Liberation Sans", Arial, sans-serif' text-anchor="middle" fill="#262626" stroke="#262626" stroke-width="0.14">800</text>
<text x="261" y="270.6" font-size="5.4" font-weight="normal" font-family='"Liberation Sans", Arial, sans-serif' text-anchor="middle" fill="#262626" stroke="#262626" stroke-width="0.14">900</text>
<text x="231" y="305.1" font-size="6.7" font-weight="normal" font-family='"Liberation Sans", Arial, sans-serif' text-anchor="middle" fill="#262626" transform="rotate(-32.6 231 305.1)" stroke="#262626" stroke-width="0.14">Frequency [Hz]</text>
<text x="170.2" y="339.3" font-size="7.0" font-weight="normal" font-family='"Liberation Sans", Arial, sans-serif' text-anchor="middle" fill="#262626" stroke="#262626" stroke-width="0.14">c)</text>
<text x="133.2" y="218.8" font-size="7.6" font-weight="bold" font-family='"Liberation Sans", Arial, sans-serif' text-anchor="middle" fill="#000">Narrow-bands due to transmission error</text>
<text x="314.9" y="190" font-size="9.9" font-weight="bold" font-family='"Liberation Serif", "Times New Roman", serif' text-anchor="start" fill="#000" letter-spacing="0.83" stroke="#000" stroke-width="0.28">Frequency-RPM of pitting and crack fault</text>
<text x="316" y="244" font-size="5.6" font-weight="normal" font-family='"Liberation Sans", Arial, sans-serif' text-anchor="end" fill="#262626" stroke="#262626" stroke-width="0.14">0.05</text>
<text x="316" y="251.1" font-size="5.6" font-weight="normal" font-family='"Liberation Sans", Arial, sans-serif' text-anchor="end" fill="#262626" stroke="#262626" stroke-width="0.14">0.04</text>
<text x="316" y="258.2" font-size="5.6" font-weight="normal" font-family='"Liberation Sans", Arial, sans-serif' text-anchor="end" fill="#262626" stroke="#262626" stroke-width="0.14">0.03</text>
<text x="316" y="265.3" font-size="5.6" font-weight="normal" font-family='"Liberation Sans", Arial, sans-serif' text-anchor="end" fill="#262626" stroke="#262626" stroke-width="0.14">0.02</text>
<text x="316" y="272.4" font-size="5.6" font-weight="normal" font-family='"Liberation Sans", Arial, sans-serif' text-anchor="end" fill="#262626" stroke="#262626" stroke-width="0.14">0.01</text>
<text x="316" y="279.6" font-size="5.6" font-weight="normal" font-family='"Liberation Sans", Arial, sans-serif' text-anchor="end" fill="#262626" stroke="#262626" stroke-width="0.14">0</text>
<text x="303.4" y="257.9" font-size="5.9" font-weight="normal" font-family='"Liberation Sans", Arial, sans-serif' text-anchor="middle" fill="#262626" transform="rotate(-90 303.4 257.9)" stroke="#262626" stroke-width="0.14">Amplitude</text>
<text x="320.8" y="292.3" font-size="5.3" font-weight="normal" font-family='"Liberation Sans", Arial, sans-serif' text-anchor="middle" fill="#262626" stroke="#262626" stroke-width="0.14">0</text>
<text x="344" y="297.7" font-size="5.3" font-weight="normal" font-family='"Liberation Sans", Arial, sans-serif' text-anchor="middle" fill="#262626" stroke="#262626" stroke-width="0.14">10,000</text>
<text x="369.9" y="304.5" font-size="5.3" font-weight="normal" font-family='"Liberation Sans", Arial, sans-serif' text-anchor="middle" fill="#262626" stroke="#262626" stroke-width="0.14">20,000</text>
<text x="396.4" y="312.7" font-size="5.3" font-weight="normal" font-family='"Liberation Sans", Arial, sans-serif' text-anchor="middle" fill="#262626" stroke="#262626" stroke-width="0.14">30,000</text>
<text x="421.4" y="321.4" font-size="5.3" font-weight="normal" font-family='"Liberation Sans", Arial, sans-serif' text-anchor="middle" fill="#262626" stroke="#262626" stroke-width="0.14">40,000</text>
<text x="371.8" y="316.7" font-size="5.9" font-weight="normal" font-family='"Liberation Sans", Arial, sans-serif' text-anchor="middle" fill="#262626" stroke="#262626" stroke-width="0.14">RPM</text>
<text x="450.4" y="320.9" font-size="5.3" font-weight="normal" font-family='"Liberation Sans", Arial, sans-serif' text-anchor="middle" fill="#262626" stroke="#262626" stroke-width="0.14">0</text>
<text x="460.1" y="315.6" font-size="5.3" font-weight="normal" font-family='"Liberation Sans", Arial, sans-serif' text-anchor="middle" fill="#262626" stroke="#262626" stroke-width="0.14">100</text>
<text x="468.9" y="309.8" font-size="5.3" font-weight="normal" font-family='"Liberation Sans", Arial, sans-serif' text-anchor="middle" fill="#262626" stroke="#262626" stroke-width="0.14">200</text>
<text x="478.7" y="304" font-size="5.3" font-weight="normal" font-family='"Liberation Sans", Arial, sans-serif' text-anchor="middle" fill="#262626" stroke="#262626" stroke-width="0.14">300</text>
<text x="487.9" y="298.7" font-size="5.3" font-weight="normal" font-family='"Liberation Sans", Arial, sans-serif' text-anchor="middle" fill="#262626" stroke="#262626" stroke-width="0.14">400</text>
<text x="497.4" y="293.1" font-size="5.3" font-weight="normal" font-family='"Liberation Sans", Arial, sans-serif' text-anchor="middle" fill="#262626" stroke="#262626" stroke-width="0.14">500</text>
<text x="506.4" y="287.3" font-size="5.3" font-weight="normal" font-family='"Liberation Sans", Arial, sans-serif' text-anchor="middle" fill="#262626" stroke="#262626" stroke-width="0.14">600</text>
<text x="515.7" y="281.5" font-size="5.3" font-weight="normal" font-family='"Liberation Sans", Arial, sans-serif' text-anchor="middle" fill="#262626" stroke="#262626" stroke-width="0.14">700</text>
<text x="525" y="275.5" font-size="5.3" font-weight="normal" font-family='"Liberation Sans", Arial, sans-serif' text-anchor="middle" fill="#262626" stroke="#262626" stroke-width="0.14">800</text>
<text x="493.1" y="306.5" font-size="6.1" font-weight="normal" font-family='"Liberation Sans", Arial, sans-serif' text-anchor="middle" fill="#262626" transform="rotate(-31.5 493.1 306.5)" stroke="#262626" stroke-width="0.14">Frequency [Hz]</text>
<text x="444.5" y="330.8" font-size="7.0" font-weight="normal" font-family='"Liberation Sans", Arial, sans-serif' text-anchor="middle" fill="#262626" stroke="#262626" stroke-width="0.14">d)</text>
<text x="409.2" y="229.9" font-size="7.5" font-weight="bold" font-family='"Liberation Sans", Arial, sans-serif' text-anchor="middle" fill="#000">Narrow-bands due to transmission error</text></svg>
</body></html>
